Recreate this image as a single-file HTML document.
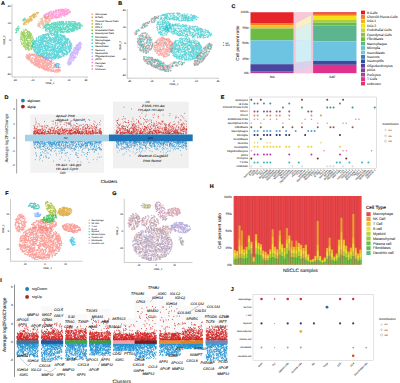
<!DOCTYPE html>
<html><head><meta charset="utf-8"><style>
html,body{margin:0;padding:0;background:#fff;width:400px;height:383px;overflow:hidden}
svg{display:block;font-family:"Liberation Sans",sans-serif;text-rendering:geometricPrecision}
</style></head><body>
<svg width="400" height="383" viewBox="0 0 400 383">
<rect width="400" height="383" fill="#fff"/>
<text x="0.9" y="5" font-size="5.4" text-anchor="start" fill="#111" font-weight="bold" font-style="normal" stroke="#111" stroke-width="0.2">A</text>
<line x1="12" y1="4" x2="12" y2="77" stroke="#8c8c8c" stroke-width="0.45"/>
<line x1="12" y1="77" x2="88" y2="77" stroke="#8c8c8c" stroke-width="0.45"/>
<line x1="11" y1="6" x2="12" y2="6" stroke="#8c8c8c" stroke-width="0.3"/>
<text x="10.5" y="6.8" font-size="2.4" text-anchor="end" fill="#333" font-weight="normal" font-style="normal" stroke="#333" stroke-width="0.06">40</text>
<line x1="11" y1="23" x2="12" y2="23" stroke="#8c8c8c" stroke-width="0.3"/>
<text x="10.5" y="23.8" font-size="2.4" text-anchor="end" fill="#333" font-weight="normal" font-style="normal" stroke="#333" stroke-width="0.06">20</text>
<line x1="11" y1="40" x2="12" y2="40" stroke="#8c8c8c" stroke-width="0.3"/>
<text x="10.5" y="40.8" font-size="2.4" text-anchor="end" fill="#333" font-weight="normal" font-style="normal" stroke="#333" stroke-width="0.06">0</text>
<line x1="11" y1="57" x2="12" y2="57" stroke="#8c8c8c" stroke-width="0.3"/>
<text x="10.5" y="57.8" font-size="2.4" text-anchor="end" fill="#333" font-weight="normal" font-style="normal" stroke="#333" stroke-width="0.06">-20</text>
<line x1="11" y1="74.5" x2="12" y2="74.5" stroke="#8c8c8c" stroke-width="0.3"/>
<text x="10.5" y="75.3" font-size="2.4" text-anchor="end" fill="#333" font-weight="normal" font-style="normal" stroke="#333" stroke-width="0.06">-40</text>
<line x1="15" y1="77" x2="15" y2="78" stroke="#8c8c8c" stroke-width="0.3"/>
<text x="15" y="80.5" font-size="2.4" text-anchor="middle" fill="#333" font-weight="normal" font-style="normal" stroke="#333" stroke-width="0.06">-40</text>
<line x1="32.5" y1="77" x2="32.5" y2="78" stroke="#8c8c8c" stroke-width="0.3"/>
<text x="32.5" y="80.5" font-size="2.4" text-anchor="middle" fill="#333" font-weight="normal" font-style="normal" stroke="#333" stroke-width="0.06">-20</text>
<line x1="51" y1="77" x2="51" y2="78" stroke="#8c8c8c" stroke-width="0.3"/>
<text x="51" y="80.5" font-size="2.4" text-anchor="middle" fill="#333" font-weight="normal" font-style="normal" stroke="#333" stroke-width="0.06">0</text>
<line x1="69" y1="77" x2="69" y2="78" stroke="#8c8c8c" stroke-width="0.3"/>
<text x="69" y="80.5" font-size="2.4" text-anchor="middle" fill="#333" font-weight="normal" font-style="normal" stroke="#333" stroke-width="0.06">20</text>
<line x1="86" y1="77" x2="86" y2="78" stroke="#8c8c8c" stroke-width="0.3"/>
<text x="86" y="80.5" font-size="2.4" text-anchor="middle" fill="#333" font-weight="normal" font-style="normal" stroke="#333" stroke-width="0.06">40</text>
<text x="50" y="84" font-size="2.6" text-anchor="middle" fill="#333" font-weight="normal" font-style="normal" stroke="#333" stroke-width="0.06">tSNE_1</text>
<text x="4.8" y="40" font-size="2.6" text-anchor="middle" fill="#333" font-weight="normal" font-style="normal" transform="rotate(-90 4.8 40)" stroke="#333" stroke-width="0.06">tSNE_2</text>
<path transform="scale(.1)" d="M611 166h0m30-65h0m-119 82h0m129-63h0m-139 13h0m-10 17h0m70-6h0m-86-16h0m107-33h0m-150 73h0m125 9h0m38-43h0m-41-15h0m52-15h0m37-12h0m-141 94h0m66-17h0m34-17h0m-154 15h0m120 4h0m-45-15h0m-87 0h0m68-35h0m139-10h0m49 9h0m-102 25h0m11-45h0m-63 22h0m-13-10h0m77 1h0m62 19h0m-92-26h0m-4 4h0m99 20h0m-91-4h0m-46-3h0m21 23h0m-36 25h0m-88-14h0m263-31h0m-150 20h0m118-41h0m-71 45h0m-67 0h0m119 9h0m-1-68h0m-96 80h0m97-47h0m-23-20h0m-142 42h0m-6 0h0m215-26h0m-172 10h0m171-21h0m9 4h0m-119 59h0m55-39h0m-81 43h0m-4 5h0m-102-22h0m132 18h0m-76 3h0m115-32h0m-8 24h0m-92-31h0m76-9h0m1 16h0m-36 5h0m38-47h0m-153 52h0m200-7h0m-22-57h0m48 26h0m-176 13h0m-12 31h0m-41 10h0m37 0h0m209-56h0m-33 17h0m-63-27h0m-13-11h0m-59 37h0m-57 39h0m182-66h0m27 37h0m-202 40h0m196-92h0m-76 55h0m0-47h0m24 42h0m47 5h0m-137 22h0m79-62h0m-11 67h0m-62-48h0m28 30h0m-102-3h0m14 22h0m185-65h0m-122 41h0m-49-16h0m36 11h0m-63 40h0m128-67h0m-129 68h0m218-90h0m-154 82h0m74-72h0m-38 69h0m-19-11h0m-76 18h0m188-32h0m-37-32h0m-164 48h0m184-68h0m-128 58h0m138 2h0m-183-24h0m193 0h0m-11-20h0m-41-10h0m43 42h0m-16-25h0m-95 18h0m45-12h0m7 28h0m-44 19h0m140-69h0m-208 77h0m159-28h0m-44-24h0m43-32h0m-79 3h0m-38 33h0m113-12h0m-130 23h0m-10-22h0m-47 43h0m19-32h0m207-17h0m-182 55h0m20-17h0m5-2h0m95-18h0m-59 35h0m120-80h0m-177 67h0m87 17h0m-136-24h0m149-53h0m-93 54h0m182-12h0m-14 3h0m-32 14h0m-9-8h0m-114-25h0m124-27h0m53 27h0m-156 63h0m-55-26h0m120 0h0m-80 17h0m112-38h0m64-32h0m-142 53h0m109-54h0m-48-1h0m-22 54h0m-134 24h0m105-50h0m71-5h0m-5-37h0m-38 49h0m-29 13h0m17-53h0m15 10h0m-98 79h0m-7-36h0m156-11h0m-52 20h0m-27-11h0m98-16h0m-54-12h0m-23 4h0m51-12h0m-70 47h0m3-37h0m89-15h0m13 33h0m-111 17h0m-118-3h0m229-32h0m-81 24h0m31-13h0m-77-19h0m-33 17h0m19 9h0m7 10h0m-4-26h0m143-11h0m-62-24h0m54 10h0m-104 12h0m-9 57h0m105-53h0m-16 2h0m-107 30h0m-51-9h0m146 9h0m25-34h0m-203 64h0m50-14h0m36-8h0m-36-7h0m76-2h0m-70-14h0m-13-18h0m58 49h0m68-65h0m-155 44h0m176-23h0m46 6h0m-81 26h0m28-43h0m-134 37h0m59-39h0m-5 45h0m-79-14h0m0-11h0m77-29h0m-1 13h0m-41 64h0m-26-10h0m57-29h0m108-46h0m-43-1h0m9 47h0m22-39h0m-178 47h0m143 0h0m16-11h0m76-13h0m-171 28h0m97-29h0m49 19h0m-153-27h0m-54 21h0m51 12h0m168-51h0m-1 36h0m-17-21h0m-171 14h0m161 13h0m-168-1h0m199-42h0m-67 2h0m30-8h0m-83 11h0m24 66h0m-138-21h0m192-11h0m-123 28h0m43 11h0m-46 1h0m93-22h0m-70 14h0m81-47h0m1-16h0m6 5h0m-61 64h0m-16-47h0m-43-9h0m-20 21h0m67-19h0m87 44h0m-134-3h0m55-55h0m4 63h0m-115 6h0m-18-2h0m104-1h0m-90-25h0m206-26h0m-89 63h0m-54-70h0m22 5h0m-77 53h0m239-50h0m-89-3h0m-13 40h0m6 3h0m-22-48h0m14 22h0m-111 35h0m169-78h0m-64 66h0m-47-31h0m-3 25h0m86-17h0m-126-7h0" stroke="#ff61c3" stroke-width="12" stroke-linecap="round" opacity="0.62" fill="none"/>
<path transform="scale(.1)" d="M235 238h0m27-15h0m-3 4h0m62-36h0m-31-11h0m47-41h0m15 0h0m-44 57h0m-7-24h0m-53 52h0m4 7h0m39-24h0m1 9h0m-22-3h0m76-64h0m-58 69h0m-26-14h0m42-7h0m38-40h0m-13-10h0m-86 84h0m134-96h0m-131 108h0m60-50h0m46-32h0m3-19h0m10 20h0m-49 45h0m59-84h0m0 2h0m-77 85h0m6-23h0m-13 10h0m60-42h0m-6 19h0m-84 36h0m9-3h0m76-60h0m-59 66h0m61-44h0m-65 47h0m-47 26h0m79-76h0m-25 42h0m24-47h0m15-17h0m-66 62h0m53-20h0m20-33h0m-96 94h0m32-56h0m19-8h0m84-44h0m-133 92h0m77-77h0m-39 46h0m58-36h0m-22-8h0m-40 63h0m56-51h0m17 3h0m3-25h0m-70 85h0m7-40h0m7-24h0m-4 15h0m51-24h0m-68 43h0m102-72h0m10-4h0m-145 118h0m67-61h0m-3 27h0m30-32h0m-23-12h0m18-16h0m-11 56h0m-17-41h0m1 36h0m-67 48h0m55-48h0m-9 17h0m97-91h0m-65 76h0m-28 21h0m-3-3h0m4-10h0m70-63h0m-71 48h0m-50 37h0m80-77h0m33 25h0m-3-46h0m-18 36h0m-64 54h0m2-25h0m-5 44h0m-17-22h0m75-49h0m-30 12h0m39-28h0m-36 41h0m71-73h0m-26 26h0m29-19h0m-45 67h0m2-50h0m-74 70h0m-4 19h0m73-70h0" stroke="#d39200" stroke-width="12" stroke-linecap="round" opacity="0.62" fill="none"/>
<path transform="scale(.1)" d="M405 274h0m78-82h0m-88 59h0m58-53h0m29-24h0m-60 12h0m40 43h0m-4-53h0m-32 40h0m34-51h0m10 53h0m-9 23h0m-27-26h0m-1 51h0m-7-20h0m25 9h0m-67-1h0m-1 6h0m9-26h0m28 6h0m1-4h0m75-44h0m-69 62h0m6 9h0m37-75h0m-76 60h0m22-11h0m74-18h0m-103 43h0m114-94h0m-46-7h0m38 26h0m13 14h0m-53-28h0m-53 51h0m59-8h0m-66 17h0m91-44h0m-29 44h0m-6-48h0m-65 65h0m111-63h0m-117 65h0m51-20h0m46 8h0m-61-17h0m61 10h0m-9-39h0m14-9h0m-72 89h0m23-15h0m24-53h0m24-40h0m-61 23h0m9 7h0m8 38h0m-41 10h0m70 8h0m-78 2h0m103-84h0m-77 71h0m26 22h0m-42 6h0m38-6h0m15-4h0m39-32h0m17-20h0m-104-9h0m50-31h0m-2 44h0m39-53h0m-75 57h0m83-29h0m-21 30h0m-58-34h0m36 50h0m14-23h0m-46-30h0m10 48h0m60 0h0m-28-45h0m-68 87h0m64-103h0m-23 54h0m23-30h0m7 3h0m-44 20h0m6-14h0m-40 14h0m33-8h0m81 5h0m-76 28h0m59-70h0m-41 38h0m39 29h0m-6-13h0m0 8h0m-49 16h0m-18-9h0m38-61h0m41 23h0m-64 44h0m-31 22h0m62-48h0m-37-17h0m49-8h0m-3-10h0m-77 74h0m90-21h0m-15-63h0m-3 16h0m-44 42h0m38-3h0m13-12h0m-33 24h0m-9-2h0m13-14h0m-61 36h0m20-27h0m-5 34h0m92-98h0m-90 92h0m-11-21h0m37-52h0m-15 28h0m32 34h0m-40 5h0m23-48h0m75-2h0m-114 29h0m93-1h0m-29-51h0m-16 55h0m57-75h0m-84 28h0m61 4h0m2-25h0m5 45h0m-51-18h0m21 47h0m-19-43h0m75 12h0m-53-33h0m51 24h0m-11 5h0m-10-37h0m-10 30h0m-53 17h0m-16 29h0m25-25h0m76-25h0m-92 45h0m-22 3h0m112-26h0m-36 18h0m-32-26h0m0-18h0m-20 26h0m89-25h0m-79 6h0" stroke="#e89a6a" stroke-width="12" stroke-linecap="round" opacity="0.62" fill="none"/>
<path transform="scale(.1)" d="M564 263h0m230 0h0m-310 23h0m317-48h0m-116 23h0m-155 49h0m91-35h0m-12 17h0m-156-11h0m63-51h0m-15 18h0m267 36h0m-217-22h0m49-15h0m-4 58h0m-142-50h0m164 37h0m67 1h0m-138-44h0m0 63h0m248-42h0m-232-13h0m118 53h0m-122-73h0m207 38h0m-192 34h0m112-95h0m-99 75h0m113-30h0m-87 38h0m22-78h0m-136 24h0m91 8h0m-17 61h0m175-47h0m-149-21h0m41-9h0m131 64h0m7-64h0m-87 73h0m56-3h0m-123 6h0m-16-68h0m8 8h0m118 51h0m-255-62h0m99 29h0m116-31h0m62-4h0m-300 26h0m100 42h0m121-29h0m-160 50h0m212-59h0m-242-19h0m88 8h0m-126 18h0m154-25h0m-26 7h0m0 35h0m44-54h0m122 29h0m-133 34h0m119 8h0m22-23h0m-41-59h0m-8 12h0m-177-4h0m55-16h0m110 80h0m42-77h0m-48 89h0m-152-35h0m-37 12h0m69 9h0m75-2h0m-113 11h0m194-12h0m-66-49h0m-55 33h0m31-35h0m-100 21h0m207-5h0m-296 22h0m198-25h0m-48 5h0m-97 42h0m246-6h0m-223-14h0m188-28h0m-97 61h0m-15-22h0m-103 30h0m16-17h0m2 3h0m250-75h0m-295 61h0m161-24h0m113-10h0m-113 11h0m-18-9h0m-118-5h0m41-9h0m206-30h0m-227 65h0m40-37h0m26 30h0m191-22h0m-160 9h0m85 15h0m-150 52h0m50-44h0m-124-16h0m136-49h0m-49 20h0m-122 44h0m268-34h0m65 47h0m-205 20h0m238-44h0m-228 50h0m231-83h0m-111-6h0m-39 12h0m141-6h0m-279 34h0m34 41h0m210-96h0m-94 56h0m39-33h0m-124 1h0m-38-5h0m32 60h0m48-53h0m-50 86h0m-7-46h0m239-51h0m-56-18h0m-24 85h0m-184-21h0m65 19h0m-57 18h0m239-29h0m-226-17h0m199-26h0m-8 51h0m-133 23h0m-35-15h0m98-57h0m-40 36h0m-3-60h0m-2 2h0m118 29h0m-39 50h0m-77-88h0m119 69h0m32-53h0m-45 76h0m-176-44h0m-50-6h0m-45 56h0m125-33h0m-58-21h0m188 0h0m-63-1h0m-12 58h0m-119-37h0m164-64h0m113 42h0m-283 51h0m226-31h0m-114 21h0m155-23h0m-128-21h0m-11 21h0m69 39h0m-110-13h0m-70-29h0m-1 2h0m221-41h0m-11-3h0m-205 52h0m143 29h0m84-81h0m-50 49h0m-142 27h0m201-50h0m-289 55h0m54-25h0m73-58h0m107 64h0m-247-41h0m292 9h0m-201 7h0m-76 12h0m19-42h0m59-16h0m41 73h0m74 29h0m91-48h0m3-23h0m-41-16h0m-102 91h0m24-59h0m74-28h0m-220-1h0m138 53h0m77-44h0m-217 72h0m2-43h0m285 8h0m-152-14h0m52 9h0m-147-54h0m-48 86h0m173-10h0m-99 22h0m81-51h0m90 3h0m-61-52h0m-27 26h0m-50-8h0m113-25h0m-178 59h0m-43-33h0m81 64h0m233-44h0m-254-21h0m-70 16h0m244 24h0m-21 2h0m-166 34h0m-45-49h0m-36 29h0m258-35h0m-39 30h0m-27-62h0m36-13h0m-168 52h0m155 25h0m-116-35h0m-63 21h0m152 39h0m57-17h0m-34-62h0m-7 71h0m-209-33h0m257 7h0m-249-3h0m223-38h0m-68 82h0m48-61h0m88 23h0m-8-19h0m-103 2h0m61-29h0m-94 23h0m64-34h0m-187 90h0m214-28h0m-115-70h0m15 90h0m16-28h0m-58-54h0m103 33h0m-114-20h0m141-2h0m-49-4h0m72 9h0m-105 74h0m94-30h0m-150 23h0m220-37h0m-26-12h0m-43-47h0m-235 30h0m177 50h0m69-38h0m-159-35h0m-105 71h0m276 14h0m-163 15h0m-27 2h0m223-44h0m-62 21h0m-69-35h0m-65 47h0m157-81h0m-236 7h0m156-1h0m-133-13h0m38 79h0m-123-27h0m228-68h0m-116 111h0m-51-13h0m108-79h0m18 89h0m154-75h0m44 12h0m-303 25h0m187-21h0m-139-18h0m-24-22h0m199 29h0m-78-17h0m33 56h0m25-28h0m-64 28h0m-116 39h0m147-16h0m-218-28h0m-1-41h0m109-8h0m-13 81h0m138-28h0m-8 6h0m33-6h0m9-13h0m-100-56h0m88 24h0m-104-22h0m118 47h0m-41-24h0m70 1h0m34-13h0m-83 5h0m-121 50h0m-127 22h0m45-32h0m40-35h0m245 16h0m-112 31h0m64-57h0m-294 45h0m337-5h0m-206-44h0m142 38h0m26-2h0m-209 29h0m-60 0h0m223-49h0m-4 53h0m54-23h0m5 4h0m-186-36h0m-80 81h0m228-94h0m2 27h0m-251-4h0m-23 54h0m122-7h0m-37-69h0m160 64h0m-198-34h0m103 44h0m-60-11h0m36-25h0m27-24h0m98 60h0m-222-57h0m183 72h0m-56-85h0m56 87h0m-80-78h0m188 50h0m-11-47h0m-227-2h0m38 74h0m2-52h0m72-32h0m-119 14h0m-1 30h0m-61 36h0m27-43h0m184-49h0m-90 57h0m59 36h0m88-99h0m22 50h0m-65-43h0m-78 71h0m131 3h0m-231 20h0m139-30h0m110-39h0m-17-2h0m-113-17h0m98 80h0m-240-1h0m299-53h0m-55-13h0m-108-10h0m39 22h0m82 26h0m-38-47h0m89 41h0m-5 8h0m-128-26h0m-100 16h0m-53-4h0m110-55h0m-43 33h0m100 57h0m-9-18h0m-4-48h0m-89 77h0m190-42h0m-17-1h0m32-44h0m-180 64h0m-91 12h0m19-2h0m214-50h0m-274 54h0m331-33h0m-127-15h0m29-24h0m-11 55h0m-55-49h0m117-14h0m-303 26h0m180 28h0m-31-51h0m70 9h0m77-13h0m-158 14h0m179 35h0m-94-30h0m-177 78h0m234-31h0m-235 1h0m42-15h0m69 2h0m-15 31h0m177-17h0m-122 23h0m-31-93h0m-83 72h0m41-31h0m7-28h0m109 8h0m-81 79h0m67-19h0m-227-36h0m353-15h0m-214 20h0m221-28h0m-289 0h0m110 21h0m38 35h0m-52-17h0m-57 44h0m59-91h0m-67 31h0m51 9h0m7-62h0m6 80h0m-60-36h0m78 60h0m-82-94h0m-6 5h0m119 79h0m-4-83h0m-77 19h0m21-18h0m143 5h0m-247 50h0m159 31h0m-98-28h0m-88-2h0m-3-26h0m79 43h0m138-14h0m22 4h0m-21-18h0m28-59h0m-206 94h0m-9-25h0m26-14h0m231 12h0m-159-36h0m147 36h0m-144 36h0m90-3h0m-47-19h0m-31-11h0m99 33h0m-141-46h0m215-22h0m-31 3h0m-200-3h0m-48 22h0m-17 49h0m202-78h0m-193 7h0m269 20h0m-254-26h0m171 39h0m-137-26h0m63 65h0m29-10h0m39-36h0m-60 18h0m2 5h0m-127-39h0m276-11h0m-120-27h0m76 63h0m-184 36h0m69-102h0m57 88h0m2-49h0m-69 54h0m-118-20h0m144-33h0m-44-12h0m-55 0h0m-64 43h0m138 9h0m80 23h0m-121 0h0m16-28h0m166-43h0m-141 38h0m-135-2h0m-9-37h0m217 75h0m-194-41h0m117-25h0m133 31h0m-83-5h0m8 6h0m-192-14h0m269-37h0m-72-24h0m-158 52h0m-53 7h0m67 48h0m32-60h0m194 8h0m-79-38h0m-141 61h0m95-49h0m29 41h0m-99 37h0m-106-57h0m60 38h0m267-19h0m-227 27h0m-90-33h0m176 40h0m129-51h0m-315 8h0m251-20h0m-123 52h0m120-49h0m15-5h0m-226 18h0m121 41h0m-96-33h0m280 2h0m-126-3h0m4-14h0m-98-20h0m-117 23h0m283 3h0m-239 48h0m192-45h0m-93 39h0m38-66h0m-45 32h0m107-60h0m27 50h0m-18 26h0m121-40h0m-318 10h0m69 58h0m57-104h0m80 47h0m-282 17h0m45 3h0m26 15h0m185-55h0m-128 41h0m13-58h0m85 68h0m52-32h0m-68 21h0m-34 43h0m-96-11h0m207-4h0m76-85h0m1 20h0m-93 72h0m-36-42h0m-209 17h0m66-30h0m59 66h0m102-37h0m-189-37h0m312-7h0m-224 26h0m21-7h0m-6 28h0m-63-60h0m62-13h0m9 48h0m131-56h0m-149 91h0m-23 9h0m18-10h0m56-15h0m9 20h0m-53-97h0m-58 75h0m270-18h0m-222-30h0m62 10h0m-173 56h0" stroke="#00c19f" stroke-width="12" stroke-linecap="round" opacity="0.62" fill="none"/>
<path transform="scale(.1)" d="M293 338h0m-18 90h0m-51-105h0m69-6h0m-28 70h0m59 12h0m-36 105h0m-24-51h0m-13 11h0m69-3h0m-68-120h0m58 142h0m-44-38h0m26-66h0m5 5h0m-33-26h0m-36 2h0m82-2h0m-83 83h0m23-136h0m7 124h0m51-38h0m-49 106h0m-7-167h0m40 117h0m-35-147h0m-50 96h0m77-14h0m-9 104h0m16-64h0m-21 17h0m-46-82h0m76-33h0m-30 132h0m-29-79h0m19 114h0m-28-119h0m76-23h0m-10-19h0m-49 133h0m46-133h0m-77 25h0m2 40h0m58 32h0m-69-63h0m25-36h0m81 94h0m-66-38h0m14 88h0m44-84h0m17 32h0m-44-75h0m-58 6h0m83 25h0m-21-56h0m-20-22h0m-21 170h0m31-87h0m33 97h0m-25-147h0m-2 80h0m-46-75h0m13 110h0m79-70h0m-23 75h0m-2-23h0m-92-84h0m67 74h0m14-71h0m43 65h0m-21-28h0m-29-4h0m-30-15h0m-25 40h0m34 87h0m47-129h0m0 45h0m-26 59h0m12-142h0m-88 88h0m34-23h0m25 4h0m-27-34h0m33-29h0m-2 119h0m23-82h0m-52 49h0m22 58h0m7-119h0m45 57h0m-96-19h0m75 101h0m-49-100h0m81-27h0m-87-32h0m82 62h0m-110-75h0m26-6h0m44 132h0m-54-113h0m7-2h0m57 23h0m23 93h0m-75 17h0m91-68h0m-52-42h0m-35 106h0m51-136h0m-81 55h0m65-15h0m50 40h0m-112 25h0m32 41h0m2-13h0m8-22h0m58 43h0m-3-107h0m-37-48h0m-44 133h0m103-20h0m-56-12h0m24-20h0m-30 72h0m4 11h0m47-38h0m8-68h0m-64 70h0m68-42h0m-54 50h0m30-102h0m-39 42h0m0-2h0m25-80h0m3 20h0m-14 103h0m26 32h0m-102-145h0m84 9h0m-5 64h0m29 54h0m-22-91h0m-35 130h0m-3-96h0m47 33h0m-5-13h0m-15 36h0m-43-103h0m35-31h0m35 15h0m-54-44h0m9 154h0m2 23h0m17-103h0m-66 12h0m69 106h0m-7-63h0m-13 53h0m12-57h0m-28 49h0m-41-134h0m88 134h0m-68-102h0m-1 69h0m51-123h0m-6 96h0m-55 13h0m2-76h0m33 86h0m-26-129h0m70 31h0m-19 158h0m-9-35h0m24-131h0m-22 15h0m-61-6h0m18 11h0m72 1h0m-63 65h0m-19-18h0m47-44h0m-56 28h0m-9 15h0m56 19h0m-26-57h0m59-10h0m-45 61h0m6 52h0m-46-80h0m38-25h0m58 7h0m-46 38h0m37-67h0m-73 9h0m74 13h0m13 138h0m14-83h0m-34 97h0m27-11h0m-11-57h0m-31-121h0m-60 2h0m50 7h0m-44 78h0m19-62h0m-12 106h0m8-81h0m46 57h0m-1 60h0m-35-119h0m78 102h0m-93-62h0m106 8h0m-60-51h0m11 76h0m40 21h0m-84-101h0m90 40h0m-111-65h0m106 134h0m-56-91h0m24 85h0m37-16h0m-83-110h0m64 132h0m-85-22h0m42-95h0m-31 43h0m-26-14h0m-4-15h0m58-6h0m46 125h0m-61-183h0m-1 114h0m24-49h0m-6 67h0m-18-74h0m0 24h0m-2 49h0m17-47h0m47 78h0m-34-98h0m24 12h0m-27 103h0m39 19h0m-30-38h0m-66-34h0m-10-55h0m28-8h0m42 113h0m-3-55h0m41-66h0m-1-2h0m-20 80h0m-56-107h0m-14 19h0m17 55h0m-7-26h0m42 68h0m6 53h0m-6-15h0m-8-171h0m-28 63h0m36 87h0m-20-84h0m23-26h0m10 29h0m-42-40h0m3 152h0m22-106h0m53 97h0m-113-37h0m11-86h0m49 67h0m-1 26h0m-31-16h0m5-68h0m34 78h0m19-85h0m29 75h0m-81 15h0m69 33h0m-82-54h0m1-112h0m0 113h0m36 32h0m14 22h0m15-91h0m-66-46h0m0 32h0m-2-40h0m11-18h0m74 80h0m-110-21h0m11-42h0m30-2h0m-12 122h0m33-16h0m-5-37h0m-24-11h0m17-24h0" stroke="#5eb300" stroke-width="12" stroke-linecap="round" opacity="0.62" fill="none"/>
<path transform="scale(.1)" d="M193 282h0m-19-2h0m-6 43h0m14-37h0m-16 34h0m-4-17h0m22-13h0m-22 7h0m11-15h0m-15 46h0m0-2h0m0-28h0m3-6h0m-2 9h0m6 3h0m21-42h0m-10 13h0m3-6h0m0 22h0m4 8h0m-15 11h0m12-4h0m-15-20h0m-6 10h0m4-4h0" stroke="#00bf74" stroke-width="12" stroke-linecap="round" opacity="0.62" fill="none"/>
<path transform="scale(.1)" d="M227 203h0m5-8h0m24-5h0m-4 0h0m-4-8h0m-1 12h0m-10 14h0m10-11h0m-6-4h0m11 12h0m-20 5h0m2-20h0" stroke="#00bf74" stroke-width="12" stroke-linecap="round" opacity="0.62" fill="none"/>
<path transform="scale(.1)" d="M375 476h0m293-80h0m-126 26h0m-85 13h0m-31-12h0m-41-6h0m14 138h0m167-199h0m-152 2h0m168 156h0m96-54h0m-233-47h0m-43 82h0m73-74h0m-123 64h0m259 79h0m-183 5h0m191-71h0m-221-96h0m134-17h0m94 94h0m72 40h0m-338-92h0m191 140h0m-83-188h0m-35 16h0m-51 24h0m38 44h0m-36 15h0m206-108h0m-57 12h0m-67 32h0m180-23h0m-110 91h0m-84 90h0m1-157h0m144 42h0m13-87h0m-231 151h0m96 32h0m-62-161h0m252 32h0m-301-37h0m264 12h0m-86 148h0m22-21h0m106-53h0m-269-109h0m50 2h0m178 109h0m-71-30h0m-182 7h0m311 30h0m-183 6h0m36 4h0m-140-123h0m154 91h0m127-75h0m-162 21h0m-17 103h0m-53-6h0m-121-31h0m221 114h0m-135-179h0m85 55h0m149-16h0m-309 66h0m70 47h0m-4-152h0m-30 2h0m185-9h0m-221 82h0m275-124h0m-124-10h0m-163 79h0m108 131h0m178-120h0m-93-44h0m-145 124h0m128-55h0m-65-91h0m202-10h0m-202 163h0m1 52h0m-49-110h0m145-7h0m3 75h0m-198-63h0m156-37h0m39 57h0m66 72h0m-15-164h0m-159-39h0m166 148h0m-28-79h0m-59-33h0m-58 82h0m-56 73h0m120-126h0m-167-23h0m211 0h0m-218 78h0m104 69h0m155-32h0m79 23h0m-224-63h0m-28-96h0m-22-23h0m14 29h0m173 7h0m-250 45h0m61 69h0m9-34h0m-19-20h0m277-46h0m-136 35h0m126-26h0m-63 19h0m61-56h0m-141 92h0m-49-19h0m91-87h0m-19 143h0m76-122h0m-117 19h0m-21 17h0m-40 129h0m41-219h0m94 230h0m-53 2h0m2-173h0m-23-46h0m-32 89h0m-142 17h0m376 4h0m-189-13h0m-38 115h0m-99-174h0m61-39h0m225 111h0m-97 103h0m-43-158h0m14 58h0m-92-70h0m23 131h0m-49-120h0m-45 31h0m100 75h0m209-113h0m-34 16h0m-161-47h0m194 64h0m-78-38h0m-98 116h0m-113-38h0m266-95h0m-147 6h0m-130 79h0m126 40h0m160 17h0m-208-58h0m135 92h0m3-87h0m-160-26h0m241-51h0m12 6h0m-331 74h0m283-29h0m19-2h0m-11-74h0m-213 3h0m183 90h0m-34-60h0m-230 21h0m317-24h0m-124-37h0m-53 128h0m-69-40h0m43-88h0m-100 61h0m261-17h0m34 147h0m-212-180h0m-75 73h0m118-14h0m90-8h0m-3 130h0m71 6h0m-213-148h0m-68-6h0m-1 138h0m268-4h0m73-100h0m-274 101h0m124-23h0m-14-40h0m14-104h0m-214 57h0m194-26h0m-147 51h0m92-46h0m-145 55h0m76-38h0m165-67h0m94 189h0m-246-29h0m116-59h0m-100-46h0m-89 93h0m44-58h0m292-19h0m-245 151h0m107-94h0m-144 19h0m63-26h0m7-120h0m192 159h0m32-100h0m-270-45h0m9 50h0m-48-16h0m44 154h0m61-10h0m-151-78h0m88-85h0m127 108h0m-168-18h0m107 80h0m44-211h0m-95 192h0m-104-82h0m225 29h0m-2-39h0m104 76h0m-182-111h0m-114 8h0m83-61h0m229 46h0m-154-50h0m5 151h0m-156-100h0m230 20h0m56-26h0m-225 118h0m-11-42h0m49 38h0m-73 42h0m194-173h0m-159 42h0m246 32h0m-125 123h0m-88 4h0m-118-66h0m112 37h0m60-39h0m-72-25h0m138-55h0m-83 121h0m176-128h0m-193 161h0m126-156h0m35 46h0m-55 88h0m-53 16h0m-73-148h0m97 7h0m27 33h0m14 77h0m-70 23h0m85-15h0m-58-136h0m95 15h0m-51-38h0m-46 170h0m93-139h0m-152 44h0m-55-13h0m-12 52h0m253-84h0m-40 113h0m-242-42h0m-61-8h0m247 37h0m60-118h0m-297 136h0m49-10h0m82 16h0m90 1h0m47 10h0m-204-137h0m141 60h0m60 58h0m-189-179h0m175 148h0m-186-164h0m-2 39h0m31-30h0m-57 90h0m79-81h0m-54 142h0m55-27h0m132 23h0m-87-11h0m-22-116h0m-108 55h0m300-5h0m-94 3h0m-122-61h0m-88 164h0m98-126h0m-66 39h0m121-70h0m-56 31h0m-39-54h0m-105 117h0m129 21h0m-22 91h0m-47-36h0m20-44h0m64-32h0m38 26h0m-66-101h0m18 22h0m-21-77h0m-84 136h0m-2 69h0m43-160h0m236 28h0m-107 1h0m-90 161h0m154-206h0m-170-18h0m139 171h0m40 12h0m-141-155h0m-156 68h0m371 3h0m-127 121h0m99-46h0m-108-132h0m62 49h0m-16-51h0m33 173h0m-58-74h0m-156-72h0m-8 30h0m165 74h0m23-99h0m-148 109h0m31-127h0m192 128h0m-224-23h0m15-11h0m22 72h0m13-27h0m48-114h0m109 62h0m-91 82h0m-76-27h0m137 9h0m-134-53h0m-133 21h0m99 45h0m193-127h0m-247 94h0m22 20h0m82 20h0m-73-2h0m2-124h0m132 27h0m15 37h0m21-25h0m-64-27h0m146-52h0m-93 168h0m-216-45h0m47-185h0m63 167h0m-59 65h0m24-151h0m-53-28h0m185 30h0m20 17h0m-153-74h0m-45 193h0m91-152h0m-95 146h0m195-47h0m40-118h0m-30-44h0m-26 65h0m-1-25h0m-124 115h0m235-85h0m-107 144h0m41-203h0m-147 105h0m196 61h0m-335-78h0m287 23h0m-44 111h0m-38-172h0m-165-36h0m192 157h0m-141-114h0m-37 54h0m97-100h0m132 35h0m-151 76h0m211-89h0m-199-47h0m156 160h0m-133-70h0m-85 93h0m89-181h0m-155 62h0m34 107h0m171-84h0m68 62h0m-223-38h0m194 35h0m-67 30h0m-204-31h0m161 56h0m-22-108h0m67 127h0m21-157h0m25 7h0m-43-60h0m4 98h0m32 23h0m-29 45h0m-176 3h0m197-16h0m-90-157h0m230 98h0m-170 114h0m-166-128h0m159 64h0m13 58h0m94-201h0m-184 204h0m115-198h0m-50 225h0m-8-4h0m64-30h0m-145-41h0m-10-130h0m31 23h0m37 50h0m76 98h0m-193-52h0m16 55h0m169-192h0m102 101h0m-146-115h0m169 113h0m-91-36h0m-57 64h0m-148 61h0m53-149h0m188 72h0m-153 60h0m219-39h0m-113 57h0m68-179h0m-195 88h0m-90-23h0m98-88h0m99 95h0m-177 88h0m100-198h0m188 99h0m-315-31h0m95-31h0m-47 131h0m-14-98h0m-5 78h0m122 49h0m128-39h0m5-67h0m-22 38h0m-4 56h0m-281-81h0m222 103h0m-213-39h0m115-164h0m-5 156h0m-1-150h0m201 71h0m-217 91h0m256-87h0m-54 19h0m-281 12h0m-29-19h0m95-17h0m179-24h0m18 118h0m-89-119h0m-128 47h0m28 121h0m75-54h0m173-15h0m-295-78h0m25 78h0m253 52h0m-50-30h0m-143-167h0m105 3h0m65 15h0m-252 117h0m270-74h0m-126 156h0m42-79h0m-172-96h0m94 149h0m113-135h0m-208 123h0m63-178h0m-15 1h0m211 46h0m45 63h0m-50 29h0m-299-63h0m249 63h0m-20 4h0m73-99h0m-89 117h0m54-153h0m-11 210h0m-40-191h0m-159 178h0m144-135h0m85 81h0m-274-108h0m277 151h0m-294-75h0m255-51h0m-260 23h0m349 82h0m-289 30h0m182-145h0m-160-29h0m55 48h0m-48 133h0m190-99h0m81 47h0m-131 5h0m56 17h0m39-109h0m-204-24h0m32 40h0m92 147h0m-16-117h0m47 97h0m38-141h0m-135 156h0m0-37h0m7 7h0m-174-103h0m111 136h0m187-117h0m3-36h0m-150-9h0m-86-9h0m67 51h0m42 62h0m58-124h0m-36 47h0m-138-28h0m-2 54h0m-66 1h0m206-124h0m-1 166h0m-177-78h0m32 36h0m243-79h0m-83-44h0m-35 193h0m96-37h0m-303-62h0m93 22h0m-71-46h0m161 95h0m-34 38h0m-27-167h0m-68 110h0m165 71h0m-164-26h0m-24-122h0m269-49h0m-124-26h0m91 14h0m46 133h0m-241 23h0m64-46h0m83-65h0m-56 133h0m60 23h0m90-126h0m-251 68h0m-41 5h0m-14-69h0m336-25h0m41 43h0m-326 31h0m160-99h0m-22 21h0m-74 7h0m103 12h0m31 56h0m-68 51h0m37 32h0m5-6h0m112-44h0m-214-57h0m-100 62h0m226 24h0m0-23h0m-128-102h0m18 107h0m117-38h0m-78-108h0m41 110h0m70 55h0m-201-5h0m162-137h0m-144-27h0m104 207h0m97-209h0m-268 30h0m18-36h0m227 45h0m-67 0h0m168 72h0m-338 48h0m60-84h0m-1 9h0m8-44h0m-40-9h0m81-43h0m-72 75h0m142 33h0m-87 37h0m151-107h0m-202 94h0m69 53h0m-161-75h0m135-86h0m208 1h0m-32 166h0m-187 14h0m129-196h0m-215 155h0m193-146h0m-118-23h0m280 93h0m-150-66h0m-97 115h0m149 68h0m-200-174h0m62 18h0m167 17h0m-179 34h0m77-39h0m-127-26h0m115 170h0m-62-111h0m14-96h0m-51 209h0m55-131h0m4 138h0m-130-50h0m134-156h0m85 59h0m-42 161h0m59-120h0m119-8h0m-218 90h0m-35-116h0m165 22h0m32 47h0m-117 36h0m-27-37h0m-3-81h0m136 30h0m-152-17h0m4-47h0m136 171h0m-120-7h0m-83 1h0m160-100h0m54-76h0m-56-5h0m-28-32h0m48 114h0m-183 115h0m96-64h0m165-3h0m-362-72h0m236 124h0m-84-182h0m73 122h0m-22-115h0m154 91h0m-353-50h0m276-37h0m20 2h0m-138 21h0m-37 119h0m220-121h0m-354 63h0m92 90h0m-28-39h0m13 34h0m161-50h0m-207-92h0m324 79h0m-54-29h0m-197-86h0m154-22h0m46 163h0m-153-51h0m42-115h0m-163 73h0m114 71h0m60-118h0m98 162h0m-39-28h0m-164 39h0m133-172h0m40 117h0m-47-41h0m80 68h0m-71-173h0m-75 148h0m-108-16h0m191 49h0m144-79h0m-263-77h0m9 73h0m252 18h0m-116 58h0m-54-176h0m-156 181h0m210-160h0m-81 46h0m99 92h0m19-54h0m-208 10h0m-55 50h0m239-117h0m-160 138h0m32-110h0m223 51h0m-163 17h0m-199-55h0m299 65h0m41-88h0m-166-20h0m-110-18h0m96 64h0m130 95h0m-90-31h0m-29-90h0m14 83h0m-174 2h0m9-4h0m304 20h0m-292-72h0m30 62h0m206 20h0m-141-37h0m82 32h0m58-75h0m-127 14h0m-15 98h0m127-123h0m-220 30h0m-21-38h0m161 12h0m-143-57h0m169 139h0m73-12h0m-200-87h0m15 13h0m58-13h0m223 72h0m-274-43h0m256 39h0m-86 26h0m-236-51h0m265 25h0m-15-11h0m-151 59h0m-74-110h0m98 83h0m138-30h0m-61-74h0m-6 146h0m-61-24h0m27-62h0m40-97h0m-157 10h0m128 128h0m69-120h0m-150-16h0m129 71h0m-153-51h0m271 67h0m-294 61h0m259-33h0m-174 92h0m-99-130h0m105-51h0m17 132h0m-151-71h0m167-74h0m47 15h0m-29 83h0m142-18h0m-265-68h0m210 135h0m3 19h0m-92 16h0m37-69h0m72 6h0m-177 25h0m-39-69h0m125-63h0m60 127h0m-72-19h0m55-33h0m-24-80h0m-49 105h0m13-96h0m-176 103h0m-6 37h0m28-6h0m69 33h0m-52-193h0m180 160h0m-130-78h0m125-46h0m-109 70h0m-35-109h0m58 186h0m-153-78h0m115-68h0m130-4h0m-60 167h0m108-215h0m-197 101h0m224 92h0m-261-2h0m121-153h0m64 127h0m-128 48h0m62-104h0m-46-30h0m-14 109h0m32-154h0m-2 181h0m82-214h0m-88 94h0m53-40h0m-136-10h0m-64 108h0m126 3h0m179-33h0m-189-113h0m124 139h0m51-139h0m-69-12h0m41-9h0m-31 129h0m33-120h0m-40 163h0m19-133h0m76 114h0m-253-70h0m-31 15h0m101 96h0m140-175h0m-53 178h0m-20-191h0m-142 119h0m299 30h0m-103-15h0m-149 3h0m-126-50h0m321-55h0m-66 134h0m-196 36h0m75-64h0m56-108h0m52 102h0m-220-54h0m342 38h0m-296 30h0m110 71h0m14-231h0m-131 39h0m315 47h0m-240 161h0m-58-92h0m-18-40h0m37 60h0m-3-136h0m11-12h0m178 39h0m-127-1h0m-8 7h0m-11 105h0m-71-5h0m69-155h0m-55 46h0m142 131h0m-3-69h0m-48-66h0m81 85h0m-52 16h0m46 36h0m85-21h0m-80-175h0m46 144h0m-65-31h0m-172 93h0m20-1h0m79-51h0m80-58h0m-36 66h0m122-115h0m-239 49h0m219 31h0m-183 66h0m-48-16h0m223-157h0m-73 127h0m-44 89h0m-38-154h0m-47-35h0m179 111h0m-182-36h0m19 89h0m28-58h0m222-98h0m16 64h0m-125-55h0m22 117h0m-41 36h0m-48-220h0m176 144h0m-119 8h0m-210 13h0m306 3h0m-17-86h0m-312 21h0m55-28h0m28-32h0m179 108h0m32-9h0m82-13h0m-264 48h0m102-3h0m-5-8h0m-49-113h0m-49 141h0m163-134h0m-193 50h0m228 33h0m-52 100h0m-123-200h0m17 99h0m209-48h0m-191 118h0m199-34h0m-322-65h0m150 90h0m-77-38h0m133-33h0m-20-16h0m-1 0h0m102 74h0m-201-62h0m62 59h0m-12-26h0m-41 5h0m-48 10h0m68 27h0m-63-120h0m139-60h0m140 131h0m-106-106h0m-251 63h0m156 30h0m-2-94h0m86 18h0m-157 134h0m157-14h0m-65-44h0m-97-44h0m112-92h0m65 82h0m-11 99h0m-30-171h0m-22 73h0m61 93h0m-85 5h0m-144 22h0m268-107h0m48 41h0m-287-5h0m254 35h0m-139 64h0m-128-145h0m-5 79h0m-36 26h0m192-143h0m134 80h0m-341-39h0m256 123h0m-193-67h0m146 42h0m42-65h0m-93-77h0m-60-30h0m-8 146h0m114-22h0m-9 98h0m128-177h0m-117 183h0m-116-70h0m152-8h0m-36 19h0m-73 51h0m77-156h0m29 90h0m112-13h0m-159-73h0m-39-18h0m78 150h0m-11-171h0m-119 126h0m104 58h0m-61 8h0m111-224h0m53 21h0m-22-2h0m-87 57h0m134-26h0m-62 173h0m-262-58h0m328-72h0m-200-59h0m-22 180h0m262-117h0m-196 38h0m-36-42h0m221-8h0m-232 117h0m38-55h0m-74 9h0m32 27h0m50 35h0m22-16h0m-43-49h0m-69-22h0m158-102h0m-47 190h0m-137-113h0m254-16h0m-323 26h0m173 104h0m81-39h0m-119 31h0m117 2h0m-4 18h0m-156-100h0m109-76h0m100 35h0m-53 91h0m31-177h0m-31 13h0m-208 90h0m234 16h0m-18 35h0m-154-53h0m187-100h0m-51 159h0m-78-88h0m16-31h0m-10 77h0m-10 84h0m185-31h0m-35-67h0m-210 82h0m-61-58h0m206-126h0m-171 147h0m261-73h0m-130 82h0m20-64h0m22 65h0m65-39h0m-56-95h0m-199 160h0m24-97h0m182-49h0m-21 147h0m78-10h0m-121-61h0m81-25h0m-43 81h0m-127 18h0m184-64h0m-72-51h0m158 1h0m-292 44h0m135-43h0m68 43h0m30 72h0m-70 36h0m2-196h0m-10 143h0m-82-156h0m-28 159h0m207 5h0m-56-65h0m-31 51h0m-130-141h0m147 104h0m118-49h0m-230-76h0m71 219h0m36-172h0m-213 34h0m242 90h0m80-49h0m-125-15h0m-157-96h0m40 32h0m2 16h0m159 29h0m38 11h0m-223 109h0m145-21h0m-7-122h0m-154-71h0m24 112h0m35-126h0m96 28h0m-9-27h0m-173 120h0m222 98h0m-256-99h0m152-76h0m35 90h0m-106-102h0m-31 39h0m59 166h0m-17-123h0m-65-69h0m21 91h0m33-76h0m89-68h0m-44 253h0m29-93h0m-41-107h0m123 96h0m-137 7h0m197-26h0m-181 26h0m47-134h0m95 87h0m16 23h0m15-14h0m-229 78h0m232-69h0m41 53h0m5-93h0m-155 142h0m47-158h0m-153 171h0m153-232h0m-166 131h0m-27-24h0m191-99h0m-165 207h0m226-53h0m-139 47h0m136-57h0m-190-15h0m-102-70h0m194 139h0m-100-204h0m-92 64h0m215 103h0m28 44h0m-5-53h0m-35-1h0m-166-6h0m-22-113h0m321 51h0m-144-50h0m-23-49h0m28 242h0m43-75h0m-53-90h0m88 18h0m-175 41h0m135-109h0m53 77h0m-72 36h0m-212-73h0m42 104h0m131-160h0m106 69h0m-197 69h0m-31-59h0m32-13h0m177 94h0m0-75h0m-128 143h0m36-64h0m54 30h0m-49-126h0m-167 22h0m260-33h0m-100 48h0m37 124h0m-132-86h0m92 88h0m-115-80h0m-51-27h0m180 10h0m162 1h0m-290-40h0m212-9h0m-233-2h0m-18 31h0m80-85h0m167 112h0m32-117h0m-80 26h0m-50 48h0m35 32h0m134 14h0m-226 45h0m-76-5h0m166-134h0m70-38h0m-99 134h0m-76-14h0m162-71h0m-97 131h0m-36-122h0m-21 116h0m249-58h0m-206 27h0m-8-25h0m-7-78h0m117 31h0m-140 129h0m-65-83h0m211 16h0m-199-56h0m-59 61h0m16-23h0m220 50h0m-137-154h0m-27 54h0m-3-31h0m238 75h0m-72 7h0m-165-70h0m274 116h0m-106 48h0m-172-154h0m242 28h0m-156 96h0m129-94h0m-26-57h0m-180-6h0m171 193h0m29-177h0m-38 22h0m66 35h0m-230-50h0m-66 18h0m102 25h0m127 122h0m64-92h0m-182-105h0m91-27h0m-215 150h0m45 54h0m202-85h0m-144-4h0m117 107h0m-183-56h0m218-89h0m-62 149h0m-27-124h0m39-111h0m20 71h0m-4 97h0m-185 25h0m65-68h0m-15-60h0m244 127h0m19-17h0m-93-114h0m3 30h0m89 84h0m-240 47h0m181-178h0m-2-30h0m-198 169h0m12-117h0m107-38h0m-103 12h0m234 147h0m-327-3h0m266-27h0m-103-45h0m42-92h0m80 174h0m-46-141h0m42 58h0m37 61h0m-176-3h0m-143-74h0m306 22h0m-115 21h0m50-29h0m-29-69h0m-11 64h0m-71 119h0m-126-85h0m130-107h0m-8 186h0m-79-48h0m28-42h0m113-116h0m103 79h0m-239-44h0m104 16h0m95-56h0m-263 73h0m162-86h0m169 120h0m-227 56h0m71-105h0m15 94h0m-85 48h0m175-18h0m-36-136h0m18-15h0m-225 86h0m12-98h0m168 221h0m-215-138h0m14 24h0m194-12h0m-27 21h0m64 87h0m-93 1h0m-104-119h0m1-21h0m118-25h0m-60 162h0m46-182h0m159 81h0m-163 102h0m216-117h0m-219 60h0m132-127h0m93 95h0m-370-6h0m243-41h0m54 107h0m-40-145h0m75 29h0m-200 15h0m-44 139h0m102-60h0m29-161h0m-43 140h0m97-63h0m-158 81h0m0 18h0m153-168h0m-30 192h0m110-154h0m-53 28h0m-268 67h0m207 56h0m-139-22h0m-11-116h0" stroke="#00bfc4" stroke-width="12" stroke-linecap="round" opacity="0.62" fill="none"/>
<path transform="scale(.1)" d="M489 643h0m-168-13h0m52-24h0m-87-57h0m225 151h0m-194-145h0m24 59h0m-46-40h0m184 135h0m-26-24h0m1-80h0m-56 24h0m29 36h0m22-41h0m-15 10h0m11 30h0m-52-19h0m44-28h0m-110 5h0m239 98h0m-243-111h0m89 67h0m-10-14h0m93 1h0m-138-113h0m35 71h0m53-46h0m-146 20h0m135 68h0m-22-72h0m135 55h0m-263-98h0m143 44h0m-136-3h0m25-37h0m95 41h0m89 23h0m-2-4h0m-63 81h0m27-92h0m-90 38h0m-78-48h0m55 56h0m37-59h0m-37 11h0m236 105h0m-72-35h0m-232-94h0m177 80h0m-87-81h0m22-20h0m-71 1h0m93 121h0m84-13h0m9-5h0m-244-78h0m230 98h0m45 36h0m-82-58h0m-98-82h0m197 125h0m-101-45h0m-192-82h0m130 33h0m-77-14h0m156 107h0m-120-98h0m-70-27h0m79 31h0m79-5h0m-169-42h0m96-8h0m188 104h0m22 56h0m-177-148h0m125 115h0m-91-97h0m-9-13h0m87 127h0m-209-118h0m5 28h0m29-56h0m208 122h0m-6-8h0m3 54h0m-268-162h0m78 28h0m42 20h0m-44 12h0m136 74h0m-27 6h0m-1-74h0m10-15h0m-55 75h0m63-53h0m65 40h0m-127-71h0m-19-32h0m-11 79h0m72-47h0m63 122h0m-98-109h0m-16-38h0m181 148h0m-225-108h0m60 41h0m-100-73h0m189 73h0m-230-91h0m264 116h0m50 34h0m-119-59h0m-113 0h0m-73-86h0m52 84h0m201-7h0m3 77h0m-149-106h0m45 61h0m34-69h0m-148-30h0m128 127h0m-52-33h0m-20-63h0m-114-62h0m128 24h0m159 90h0m-116-21h0m-62 29h0m11-58h0m87 97h0m74-43h0m-47 31h0m-156-148h0m92 34h0m-11 104h0m82-63h0m-209-70h0m16 58h0m270 88h0m-191-18h0m-49-36h0m2-20h0m212 99h0m-28-33h0m6-14h0m-150-37h0m38-32h0m-76-18h0m26 52h0m138 67h0m41-37h0m-187-23h0m-60-44h0m122 49h0m59 27h0m-66-30h0m-134-86h0m161 103h0m-99-122h0m-49 72h0m250 30h0m-12 20h0m-153-97h0m68 88h0m-3-67h0m88 67h0m-199-47h0m126 75h0m-90-86h0m-23-33h0m32 82h0m28 19h0m-110-118h0m-29 19h0m228 58h0m-148-74h0m125 104h0m-20 4h0m-108-32h0m37 46h0m55-98h0m140 96h0m-49 21h0m-32 1h0m-15-59h0m-51-28h0m-63-5h0m38-5h0m-42-16h0m-52 11h0m-19-51h0m6 61h0m67-47h0m171 119h0m0-15h0m-170-45h0m99 70h0m-162-56h0m136-1h0m-108-78h0m52 93h0m108 19h0m-78-27h0m-56-1h0m36-14h0m-128-30h0m220 50h0m-134-60h0m116 84h0m11 39h0m-226-139h0m127 73h0m59-17h0m-27-14h0m-38 23h0m-25 15h0m29-40h0m3 60h0m56 33h0m23-25h0m-69-69h0m-70-62h0m153 93h0m-151-86h0m65 120h0m52 2h0m-163-79h0m215 85h0m22 25h0m-6-49h0m-15-13h0m40 39h0m-170-104h0m15 21h0m-37-35h0m249 136h0m-134-24h0m-112-20h0m22-85h0m-101 11h0m207 15h0m-53 94h0m30-85h0m-179-38h0m39 69h0m5-31h0m163 87h0m-208-128h0m53-19h0m249 164h0m-233-114h0m120 80h0m-18 29h0m-41-47h0m-80-22h0m89 34h0m7 5h0m74 8h0m81 21h0m-83-18h0m-103-64h0m204 86h0m-148-40h0m-34-93h0m106 133h0m-111-133h0m127 143h0m-4 3h0m-189-108h0m81 6h0m-32 22h0m213 69h0m-226-81h0m101 17h0m-6 29h0m58-36h0m-44 12h0m69 56h0m-33 10h0m54 8h0m-182-83h0m-99-48h0m295 90h0m-218-17h0m165 3h0m-53-8h0m-116-56h0m-94-21h0m31-3h0m205 63h0m56 66h0m-97-67h0m-172-78h0m212 116h0m-37-55h0m-37 5h0m-28-5h0m-53-16h0m68-40h0m-85 81h0m31-57h0m28-16h0m1 27h0m167 95h0m-2-18h0m-173-59h0m86 77h0m73-36h0m-31-6h0m24 52h0m-223-156h0m45 53h0m120 2h0m-205-20h0m201 89h0m-109-90h0m130 27h0m-133-49h0m-94-4h0m54 25h0m-14 34h0m-32-17h0m219 19h0m-108-19h0m13 43h0m112-24h0m38 51h0m-286-123h0m137 62h0m43 67h0m23 22h0m-78-34h0m14-92h0m-96-27h0m251 125h0m-205-109h0m126 67h0m-38 2h0m74 3h0m-147-73h0m-21 79h0m186 70h0m32-54h0m-1 43h0m28 8h0m-301-121h0m134-8h0m153 141h0m-111-106h0m6 66h0m77-11h0m-107-86h0m-102 60h0m123 18h0m-204-110h0m38 12h0m91 45h0m-42 26h0m45 37h0m-5-100h0m-31 79h0m4-5h0m142-8h0m-167-93h0m62 102h0m-66 3h0m69-54h0m-37 66h0m105-68h0m-187-9h0m133 96h0m42 6h0m59-4h0m-90-40h0m-34-16h0m176 51h0m-161-60h0m157 46h0m-172-13h0m-21 4h0m86-58h0m-62-21h0m15 34h0m-56 34h0m197 79h0m-52-6h0m-167-87h0m120 70h0m-15-56h0m16 9h0m-8 13h0m128 11h0m-104-47h0m-74-26h0m6-18h0m65 64h0m31-2h0m-203-55h0m78 65h0m6-80h0m-51-18h0m6 36h0m25 68h0m11-57h0m209 100h0m-224-83h0m157-10h0m-25 88h0m-113-137h0m10 32h0m185 62h0m-143 22h0m-43-65h0m-44-25h0m7 48h0m87 25h0m-87-11h0m38-76h0m-75 55h0m81 41h0m154-23h0m-81-12h0m-180-69h0m207 51h0m-53-1h0m19 21h0m51-10h0m-193-28h0m-4-50h0m105 109h0m146 10h0m-7 42h0m25-48h0m-166-6h0m72 38h0m-189-86h0m170-4h0m-64-13h0m-30 39h0m-56-91h0m143 157h0m6 9h0m-107-123h0m30 14h0m-56 30h0m23-37h0m38 90h0m-35-54h0m-6 11h0m58-73h0m32 54h0m-88-44h0m82 80h0m20-24h0m-43-7h0m165 57h0m-212-65h0m78 54h0m57-57h0m-107-11h0m-107-19h0m167 14h0m65 85h0m-244-114h0m75-6h0m139 87h0m64 29h0m-25-17h0m-56-62h0m-120 9h0m-61-10h0m152 8h0m-1 27h0m39 77h0m104-22h0m-114-21h0m-120-77h0m117 62h0m-136-13h0m-52-58h0m287 142h0m-20-2h0m-79-38h0m114-17h0m-61-32h0m-101-24h0m46 58h0m-116-8h0m153 40h0m-58-10h0m-129-59h0m237 72h0m-58-74h0m-76 12h0m-35-85h0m-6 60h0m58 80h0m0-30h0m-2 25h0m-138-81h0m36 29h0m199 25h0m-76-22h0m122 65h0m-299-136h0m147 57h0m-141-79h0m78 28h0m66-2h0m52 138h0m55-85h0m-11 89h0m11-7h0m-192-114h0m84-22h0m24 40h0m124 107h0m-90-23h0m-61-97h0m-5 35h0m-7-32h0m54 97h0m-138-63h0m-65-54h0m108 28h0m24-46h0m-19 102h0m38 10h0m-30-1h0m46-73h0m-148-12h0m79 59h0m-32-90h0m53 22h0m0 69h0m-93-112h0m5 35h0m269 95h0m-259-121h0m-8 61h0m187 26h0m30-9h0m42 73h0m21 12h0m-142-30h0m40-80h0m1 26h0m-27 57h0m-109-120h0m18 57h0m143 78h0m-3 10h0m8-47h0m-89-88h0m-4-4h0m118 136h0m67 7h0m-22-14h0m-227-114h0m115 113h0m-22-64h0m-27 48h0m-14-117h0m-19 66h0m95 63h0m44 19h0m-80-18h0m61-75h0m-57 6h0m-79-54h0m-77-17h0m-7 28h0m70 50h0m145 66h0m-46-51h0m51-22h0m-68-39h0m138 110h0m-129-25h0" stroke="#f8766d" stroke-width="12" stroke-linecap="round" opacity="0.62" fill="none"/>
<path transform="scale(.1)" d="M797 471h0m-73 70h0m-32 103h0m-7-22h0m85-173h0m46-3h0m-79 77h0m53-92h0m-64 145h0m-32 41h0m-1 1h0m81-143h0m-67 66h0m47-64h0m20 16h0m9 4h0m-1-30h0m-42 43h0m-19 11h0m11 39h0m1-26h0m23-31h0m-51 38h0m28-42h0m59-49h0m-57 124h0m25 0h0m28-128h0m-43 132h0m14-57h0m11 7h0m21-86h0m-49 146h0m-9 19h0m60-109h0m-53-8h0m34-5h0m-83 93h0m66-55h0m29-49h0m-17 54h0m31-59h0m-118 182h0m127-184h0m-2-36h0m-87 83h0m30 20h0m-4 38h0m-30 50h0m64-96h0m-62 43h0m-31 69h0m96-167h0m-11 73h0m-2-78h0m48-27h0m-117 133h0m68-78h0m-32 5h0m65-14h0m-79 62h0m-26 77h0m27-82h0m33-6h0m-41 24h0m87-105h0m-105 114h0m57 8h0m18-129h0m-76 148h0m3-25h0m63-83h0m16 16h0m-96 146h0m89-143h0m10 2h0m-39 76h0m-32-51h0m45-40h0m0 5h0m-8 38h0m13-58h0m-9 7h0m16-28h0m-20 48h0m-4 5h0m15 51h0m47-132h0m-3 64h0m-107 110h0m102-159h0m-116 152h0m28-41h0m-6 68h0m82-193h0m-50 138h0m-18 13h0m15-65h0m32-56h0m16-2h0m14-29h0m-74 93h0m-11 61h0m93-138h0m5 29h0m-129 150h0m126-159h0m-57 51h0m-32 2h0m-30 98h0m-5-7h0m121-138h0m-22 11h0m-23 21h0m38-78h0m-70 179h0m75-135h0m-35-12h0m-4 54h0m33-76h0m-95 152h0m76-39h0m10-53h0m-51 43h0m66-107h0m-89 200h0m-13-31h0m82-81h0m-76 105h0m56-114h0m-23 43h0m61-131h0m-78 107h0m-16 16h0m87-112h0m-18 67h0m11 6h0m-82 136h0m94-187h0m-74 90h0m70-51h0m-109 145h0m115-178h0m-38 108h0m-36-23h0m12-17h0m-6 30h0m-36 77h0m75-114h0m-4-41h0m-20 22h0m-34 58h0m42-20h0m-55 49h0m53-41h0m-49 1h0m43-22h0m-53 117h0m-11-18h0m7 19h0m114-208h0m-68 101h0m26-74h0m-61 88h0m18-13h0m82-106h0m-105 157h0m3 55h0m22-26h0m65-94h0m-61 60h0m19-90h0m30 22h0m35-44h0m-70 110h0m-46 27h0m53-48h0m35-45h0m-17-48h0m18-23h0m-39 33h0m-15 71h0m-5 30h0m45-43h0m-9-67h0m-50 168h0m-35-9h0m37-80h0m0 13h0m5-19h0m80-58h0m-9-33h0m-51 140h0m-49 56h0m113-217h0m-79 158h0m-6-18h0m16-47h0m15 8h0m28-82h0m-29 80h0m-37 61h0m61-63h0m37-109h0m-31 43h0m14 23h0m-104 154h0m29-37h0m-3 9h0m78-138h0m-3-23h0m-19 42h0m-17-19h0m19-15h0m9 69h0m-15-76h0m-58 184h0m70-194h0m16 34h0m-66 81h0" stroke="#ae87ff" stroke-width="12" stroke-linecap="round" opacity="0.62" fill="none"/>
<path transform="scale(.1)" d="M473 590h0m20-5h0m-46-1h0m24-6h0m52 19h0m-23 16h0m10-4h0m-27-17h0m44 4h0m-38 6h0m-13-12h0m-28 0h0m15-10h0m1 15h0m45-4h0m-33-4h0m-12 0h0m51 15h0m-56-8h0m72 11h0m-74-11h0m34 11h0m5 4h0m1-3h0m-32-15h0" stroke="#ae87ff" stroke-width="12" stroke-linecap="round" opacity="0.62" fill="none"/>
<path transform="scale(.1)" d="M560 658h0m10-20h0m13 3h0m-27 15h0m31 17h0m-12-37h0m5 3h0m8 3h0m-23 18h0m1-16h0m31 1h0m-13 13h0m-21-28h0m-7 13h0m28-4h0m-30 5h0m2 15h0m33 2h0m-25-17h0m25-7h0m-3 18h0m-17 17h0m-17-30h0m18 1h0m32 32h0" stroke="#00adfa" stroke-width="12" stroke-linecap="round" opacity="0.62" fill="none"/>
<path transform="scale(.1)" d="M922 142h0" stroke="#f8766d" stroke-width="16" stroke-linecap="round" opacity="0.9" fill="none"/>
<text x="95.2" y="15.05" font-size="2.5" text-anchor="start" fill="#333" font-weight="normal" font-style="normal" stroke="#333" stroke-width="0.06">Astrocytes</text>
<path transform="scale(.1)" d="M922 174h0" stroke="#e88526" stroke-width="16" stroke-linecap="round" opacity="0.9" fill="none"/>
<text x="95.2" y="18.28" font-size="2.5" text-anchor="start" fill="#333" font-weight="normal" font-style="normal" stroke="#333" stroke-width="0.06">B Cells</text>
<path transform="scale(.1)" d="M922 207h0" stroke="#d39200" stroke-width="16" stroke-linecap="round" opacity="0.9" fill="none"/>
<text x="95.2" y="21.51" font-size="2.5" text-anchor="start" fill="#333" font-weight="normal" font-style="normal" stroke="#333" stroke-width="0.06">Choroid Plexus Cells</text>
<path transform="scale(.1)" d="M922 239h0" stroke="#b79f00" stroke-width="16" stroke-linecap="round" opacity="0.9" fill="none"/>
<text x="95.2" y="24.74" font-size="2.5" text-anchor="start" fill="#333" font-weight="normal" font-style="normal" stroke="#333" stroke-width="0.06">DCs 1</text>
<path transform="scale(.1)" d="M922 271h0" stroke="#93aa00" stroke-width="16" stroke-linecap="round" opacity="0.9" fill="none"/>
<text x="95.2" y="27.97" font-size="2.5" text-anchor="start" fill="#333" font-weight="normal" font-style="normal" stroke="#333" stroke-width="0.06">DCs 2</text>
<path transform="scale(.1)" d="M922 304h0" stroke="#5eb300" stroke-width="16" stroke-linecap="round" opacity="0.9" fill="none"/>
<text x="95.2" y="31.2" font-size="2.5" text-anchor="start" fill="#333" font-weight="normal" font-style="normal" stroke="#333" stroke-width="0.06">Endothelial Cells</text>
<path transform="scale(.1)" d="M922 336h0" stroke="#00ba38" stroke-width="16" stroke-linecap="round" opacity="0.9" fill="none"/>
<text x="95.2" y="34.43" font-size="2.5" text-anchor="start" fill="#333" font-weight="normal" font-style="normal" stroke="#333" stroke-width="0.06">Ependymal Cells</text>
<path transform="scale(.1)" d="M922 368h0" stroke="#00bf74" stroke-width="16" stroke-linecap="round" opacity="0.9" fill="none"/>
<text x="95.2" y="37.66" font-size="2.5" text-anchor="start" fill="#333" font-weight="normal" font-style="normal" stroke="#333" stroke-width="0.06">Fibroblasts</text>
<path transform="scale(.1)" d="M922 400h0" stroke="#00c19f" stroke-width="16" stroke-linecap="round" opacity="0.9" fill="none"/>
<text x="95.2" y="40.89" font-size="2.5" text-anchor="start" fill="#333" font-weight="normal" font-style="normal" stroke="#333" stroke-width="0.06">Macrophages</text>
<path transform="scale(.1)" d="M922 433h0" stroke="#00bfc4" stroke-width="16" stroke-linecap="round" opacity="0.9" fill="none"/>
<text x="95.2" y="44.12" font-size="2.5" text-anchor="start" fill="#333" font-weight="normal" font-style="normal" stroke="#333" stroke-width="0.06">Microglia</text>
<path transform="scale(.1)" d="M922 465h0" stroke="#00b9e3" stroke-width="16" stroke-linecap="round" opacity="0.9" fill="none"/>
<text x="95.2" y="47.35" font-size="2.5" text-anchor="start" fill="#333" font-weight="normal" font-style="normal" stroke="#333" stroke-width="0.06">Neuroblasts</text>
<path transform="scale(.1)" d="M922 497h0" stroke="#00adfa" stroke-width="16" stroke-linecap="round" opacity="0.9" fill="none"/>
<text x="95.2" y="50.58" font-size="2.5" text-anchor="start" fill="#333" font-weight="normal" font-style="normal" stroke="#333" stroke-width="0.06">Neurons</text>
<path transform="scale(.1)" d="M922 530h0" stroke="#619cff" stroke-width="16" stroke-linecap="round" opacity="0.9" fill="none"/>
<text x="95.2" y="53.81" font-size="2.5" text-anchor="start" fill="#333" font-weight="normal" font-style="normal" stroke="#333" stroke-width="0.06">Neutrophils</text>
<path transform="scale(.1)" d="M922 562h0" stroke="#ae87ff" stroke-width="16" stroke-linecap="round" opacity="0.9" fill="none"/>
<text x="95.2" y="57.04" font-size="2.5" text-anchor="start" fill="#333" font-weight="normal" font-style="normal" stroke="#333" stroke-width="0.06">Oligodendrocytes</text>
<path transform="scale(.1)" d="M922 594h0" stroke="#db72fb" stroke-width="16" stroke-linecap="round" opacity="0.9" fill="none"/>
<text x="95.2" y="60.27" font-size="2.5" text-anchor="start" fill="#333" font-weight="normal" font-style="normal" stroke="#333" stroke-width="0.06">pDCs</text>
<path transform="scale(.1)" d="M922 626h0" stroke="#f564e3" stroke-width="16" stroke-linecap="round" opacity="0.9" fill="none"/>
<text x="95.2" y="63.5" font-size="2.5" text-anchor="start" fill="#333" font-weight="normal" font-style="normal" stroke="#333" stroke-width="0.06">Pericytes</text>
<path transform="scale(.1)" d="M922 659h0" stroke="#ff61c3" stroke-width="16" stroke-linecap="round" opacity="0.9" fill="none"/>
<text x="95.2" y="66.73" font-size="2.5" text-anchor="start" fill="#333" font-weight="normal" font-style="normal" stroke="#333" stroke-width="0.06">T Cells</text>
<path transform="scale(.1)" d="M922 691h0" stroke="#ff699c" stroke-width="16" stroke-linecap="round" opacity="0.9" fill="none"/>
<text x="95.2" y="69.96" font-size="2.5" text-anchor="start" fill="#333" font-weight="normal" font-style="normal" stroke="#333" stroke-width="0.06">Unknown</text>
<text x="118.2" y="4.9" font-size="5.4" text-anchor="start" fill="#111" font-weight="bold" font-style="normal" stroke="#111" stroke-width="0.2">B</text>
<line x1="127.3" y1="9" x2="127.3" y2="78.2" stroke="#8c8c8c" stroke-width="0.45"/>
<line x1="127" y1="78.2" x2="219" y2="78.2" stroke="#8c8c8c" stroke-width="0.45"/>
<line x1="126" y1="10.6" x2="127" y2="10.6" stroke="#8c8c8c" stroke-width="0.3"/>
<text x="125.5" y="11.4" font-size="2.4" text-anchor="end" fill="#333" font-weight="normal" font-style="normal" stroke="#333" stroke-width="0.06">40</text>
<line x1="126" y1="27.5" x2="127" y2="27.5" stroke="#8c8c8c" stroke-width="0.3"/>
<text x="125.5" y="28.3" font-size="2.4" text-anchor="end" fill="#333" font-weight="normal" font-style="normal" stroke="#333" stroke-width="0.06">20</text>
<line x1="126" y1="43.5" x2="127" y2="43.5" stroke="#8c8c8c" stroke-width="0.3"/>
<text x="125.5" y="44.3" font-size="2.4" text-anchor="end" fill="#333" font-weight="normal" font-style="normal" stroke="#333" stroke-width="0.06">0</text>
<line x1="126" y1="59.2" x2="127" y2="59.2" stroke="#8c8c8c" stroke-width="0.3"/>
<text x="125.5" y="60" font-size="2.4" text-anchor="end" fill="#333" font-weight="normal" font-style="normal" stroke="#333" stroke-width="0.06">-20</text>
<line x1="126" y1="75.2" x2="127" y2="75.2" stroke="#8c8c8c" stroke-width="0.3"/>
<text x="125.5" y="76" font-size="2.4" text-anchor="end" fill="#333" font-weight="normal" font-style="normal" stroke="#333" stroke-width="0.06">-40</text>
<line x1="129.4" y1="78.2" x2="129.4" y2="79.2" stroke="#8c8c8c" stroke-width="0.3"/>
<text x="129.4" y="81.6" font-size="2.4" text-anchor="middle" fill="#333" font-weight="normal" font-style="normal" stroke="#333" stroke-width="0.06">-40</text>
<line x1="151.7" y1="78.2" x2="151.7" y2="79.2" stroke="#8c8c8c" stroke-width="0.3"/>
<text x="151.7" y="81.6" font-size="2.4" text-anchor="middle" fill="#333" font-weight="normal" font-style="normal" stroke="#333" stroke-width="0.06">-20</text>
<line x1="174" y1="78.2" x2="174" y2="79.2" stroke="#8c8c8c" stroke-width="0.3"/>
<text x="174" y="81.6" font-size="2.4" text-anchor="middle" fill="#333" font-weight="normal" font-style="normal" stroke="#333" stroke-width="0.06">0</text>
<line x1="196.4" y1="78.2" x2="196.4" y2="79.2" stroke="#8c8c8c" stroke-width="0.3"/>
<text x="196.4" y="81.6" font-size="2.4" text-anchor="middle" fill="#333" font-weight="normal" font-style="normal" stroke="#333" stroke-width="0.06">20</text>
<line x1="218" y1="78.2" x2="218" y2="79.2" stroke="#8c8c8c" stroke-width="0.3"/>
<text x="218" y="81.6" font-size="2.4" text-anchor="middle" fill="#333" font-weight="normal" font-style="normal" stroke="#333" stroke-width="0.06">40</text>
<text x="174" y="85" font-size="2.6" text-anchor="middle" fill="#333" font-weight="normal" font-style="normal" stroke="#333" stroke-width="0.06">tSNE_1</text>
<text x="120.6" y="45.5" font-size="2.6" text-anchor="middle" fill="#333" font-weight="normal" font-style="normal" transform="rotate(-90 120.6 45.5)" stroke="#333" stroke-width="0.06">tSNE_2</text>
<path transform="scale(.1)" d="M1933 168h0m-111-7h0m-8 45h0m115-10h0m-65-17h0m-75-34h0m93 46h0m-65-40h0" stroke="#f8766d" stroke-width="12" stroke-linecap="round" opacity="0.62" fill="none"/>
<path transform="scale(.1)" d="M1854 202h0m75-13h0m14-10h0m-36 24h0m-271-21h0m306 18h0m-161-16h0m-169-12h0m101 17h0m216-13h0m-192-46h0m155 33h0m60-7h0m-261 35h0m161-37h0m-151 17h0m-26-13h0m100 18h0m114 32h0m-144-16h0m-87-37h0m85-24h0m170 64h0m-164-5h0m180-23h0m-187 33h0m-104-18h0m93 15h0m48-10h0m-80 13h0m181-3h0m-30-13h0m-223-29h0m257 49h0m39-38h0m-233 26h0m260-7h0m-133-24h0m-54 14h0m174 5h0m-214-5h0m-23 10h0m-17-12h0m215 31h0m-150-47h0m17-25h0m49 67h0m44 9h0m-15-33h0m-229-20h0m60 17h0m195 34h0m-197-52h0m95 45h0m-38-3h0m-83-27h0m207 0h0m-55 39h0m130-5h0m-294-54h0m48-16h0m109 7h0m6 24h0m-87 22h0m183 20h0m-18 3h0m-32-6h0m8-14h0m2 8h0m-215-42h0m39-21h0m-17 43h0m15-5h0m236 21h0m-32-14h0m-279-20h0m262 0h0m-154-7h0m0 36h0m-44-23h0m214 32h0m-103-56h0m74 35h0m-39 33h0m-119-75h0m160 19h0m-115 1h0m41-10h0m-67-13h0m32 60h0m186 2h0m-4 9h0m-53-26h0m-110-5h0m49 6h0m138-12h0m-253-25h0m178 20h0m-210 16h0m262 3h0m-45 29h0m-73-53h0m-83 31h0m-65-45h0m-16 6h0m289 7h0m-102 8h0m26 48h0m-94-7h0m18-15h0m7-1h0m0 17h0m-147-64h0m307 32h0m-209-32h0m135 2h0m-174-1h0m10 50h0m83 12h0m137-40h0m-57 38h0m-134-31h0m122 8h0m-20-24h0m-99 21h0m171 16h0m-99 15h0m-45-24h0m-43-5h0m20 9h0m-24 4h0m-26-52h0m60 52h0m-93-33h0m209 29h0m-49 15h0m-34-63h0m80 58h0m-132-8h0m-38-53h0m142 4h0m100 45h0m-209-2h0m180-7h0m-55 35h0m-172-21h0m215 17h0m-185-71h0m111 8h0m-191 2h0m32 9h0m170 30h0m-46-3h0m-122-38h0m38 19h0m43 1h0m2 8h0m135 25h0m-192-9h0m128-5h0m38-7h0m-209-6h0m32 3h0m165-6h0m119 23h0m-256-27h0m116 0h0m-132 19h0m16-22h0m185 42h0m24-48h0m-221-6h0m188 28h0m-28 12h0m-200-11h0m72-17h0m46-22h0m16 25h0m-128 8h0m241-21h0m-175 21h0m225 4h0m-309-21h0m13-18h0m190 39h0m-201 8h0m192-4h0m-54-46h0m-165 19h0m243 19h0m-241-23h0m342 49h0m-301-51h0m220 64h0m-108-78h0m-63 55h0m82-52h0m146 30h0m-23 8h0m-70-32h0m63 7h0m-7 39h0m-63-14h0m100 11h0m-23 21h0m-82-2h0m123-37h0m-237-30h0m44 54h0m-93-52h0m26 56h0m-28-3h0m159 14h0m25-35h0m-5-29h0m50 31h0m-126 21h0m104-51h0m33 38h0m-39 5h0m-84 13h0m92-9h0m-134-13h0m100-17h0m-170 1h0m130-19h0m78 29h0m-209-16h0m-67 17h0m150 26h0m206-29h0m-235-17h0m156 31h0m-150-45h0m61-3h0m-69 5h0m-79 8h0m124-16h0m110 36h0m-51 10h0m-69-12h0m86 23h0m131-13h0m-82 10h0m-69 3h0m-15-25h0m54-8h0m-88 0h0m179 41h0m-230-35h0m97-8h0m-128 29h0m-44-14h0m287-14h0m-104 17h0m-58-32h0m56 56h0m-21-13h0m163-5h0m-159 26h0m-174-50h0m138 22h0" stroke="#00bfc4" stroke-width="12" stroke-linecap="round" opacity="0.62" fill="none"/>
<path transform="scale(.1)" d="M2000 365h0m-301-114h0m-16 46h0m236-12h0m-191-32h0m213 89h0m-186-93h0m-25 11h0m321 32h0m-160-35h0m-42 42h0m92 55h0m70 21h0m-3-92h0m-131 30h0" stroke="#f8766d" stroke-width="12" stroke-linecap="round" opacity="0.62" fill="none"/>
<path transform="scale(.1)" d="M1749 261h0m27 91h0m34-43h0m-143-33h0m1 19h0m297-2h0m-29 69h0m-77-15h0m139-65h0m-72-13h0m-30 70h0m-75-79h0m-109 16h0m218 99h0m-18-23h0m-245-79h0m38-37h0m116 95h0m-88-70h0m73-11h0m178 82h0m-116 33h0m-7-67h0m-127-11h0m-7 50h0m143 26h0m193 7h0m-61-59h0m-178-47h0m77 61h0m-178-74h0m-82 25h0m403 62h0m-218 9h0m-24-55h0m-84 23h0m308 34h0m-233-36h0m161 1h0m10-15h0m-101-8h0m153 67h0m-73-7h0m-141-37h0m50 39h0m158-15h0m-195-16h0m-52 21h0m-111-90h0m188 8h0m133 97h0m-49-16h0m-207-14h0m350-8h0m31 29h0m-213-66h0m-26-34h0m-126 0h0m161 28h0m144 102h0m-140-53h0m-133-3h0m98-36h0m143 45h0m-129-1h0m58 40h0m-251-121h0m156 73h0m4 11h0m-86-96h0m353 109h0m-151-64h0m-187-25h0m172 13h0m85 49h0m-46-40h0m71 77h0m-316-45h0m-67-46h0m231 11h0m-99 12h0m66 54h0m128 9h0m-27 0h0m-105-21h0m-169-85h0m103 105h0m-22-90h0m241 53h0m-263-20h0m97 56h0m115-47h0m-122 4h0m140 15h0m-124-59h0m-63 0h0m214 30h0m-282-45h0m344 122h0m11-59h0m-97 64h0m-217-60h0m-66-43h0m64 9h0m-28 34h0m36-71h0m-121 36h0m214 36h0m34 1h0m-180-55h0m328 113h0m-157-83h0m102 28h0m32 57h0m-131-87h0m-30-15h0m130 72h0m-151-78h0m8 94h0m173-6h0m-101-25h0m151-24h0m-368 11h0m342 7h0m-95 6h0m85-15h0m-100 49h0m-206-45h0m-46-41h0m91-25h0m136 71h0m-153-69h0m-109 40h0m21-1h0m294 58h0m-278-116h0m88 3h0m297 122h0m-284-48h0m186-13h0m-85 2h0m-68 54h0m-51-78h0m200-10h0m-283 35h0m95 41h0m296 11h0m-20-10h0m-47-26h0m-233-33h0m21-21h0m-68 8h0m-108-16h0m214 23h0m105 88h0m78-61h0m-132-19h0m-74-12h0m-73 35h0m-4 11h0m-98-41h0m457 78h0m-171-76h0m-249-31h0m264 47h0m-156-46h0m21 30h0m139 23h0m-115 47h0m139-25h0m37 2h0m-197-27h0m-43-47h0m279 42h0m-257 46h0m-112-90h0m-23 8h0m18 22h0m254 12h0m35 5h0m-128 9h0m167 61h0m-187-69h0m110 46h0m-159-93h0m-37 34h0m-69 17h0m314-41h0m-36 30h0m-83-32h0m168 34h0m-235 25h0m234-13h0m63 18h0m-282 4h0m78 23h0m193-30h0m3 24h0m-139 11h0m44-59h0m-290-45h0m148 103h0m141-72h0m-242-32h0m58-3h0m-135 54h0m75-56h0m-7 65h0m99-26h0m280 41h0m-229-34h0m-53-53h0m150 71h0m24 6h0m-337-53h0m363 31h0m-53 71h0m-171-18h0m-14 5h0m-118-53h0m142 15h0m156-33h0m-292-12h0m303 41h0m-89-48h0m93 70h0m122 18h0m-253-74h0m156 17h0m-268-1h0m12 9h0m1 31h0m63-14h0m187-25h0m-248-18h0m318 93h0m-362-54h0m125-17h0m-66 35h0m-64-53h0m272-4h0m-53 69h0m-179-48h0m77-57h0m-185 39h0m13-16h0m363 87h0m-92-59h0m-86 30h0m113 30h0m63-57h0m-156 11h0m-49 36h0m69-75h0m-95 82h0m116-13h0m-26 11h0m-110-48h0m121 3h0m-89 48h0m31-89h0m179 28h0m-215-55h0m181 54h0m-146-31h0m61 50h0m-247-36h0m399 94h0m-412-100h0m189 85h0m214-41h0m-65 20h0m127 18h0m-354-42h0m122-47h0m-165 24h0m385 86h0m-367-69h0m-1-38h0m86 39h0m238 48h0m-275-14h0m43-23h0m127-36h0m-222-30h0m213 123h0m184-27h0m-177 34h0m149-66h0m-172 20h0m139 43h0m-316-129h0m212 61h0m-228-25h0m206 48h0m-118-66h0m199 116h0m-203-75h0m213 10h0m-283-61h0m298 39h0m-150 65h0m19-44h0m88 27h0m-59-81h0m161 108h0m-348-30h0m173-49h0m-8 35h0m107 23h0m-26-13h0m27-2h0m19 18h0m-153-4h0m-121-91h0m-100 18h0m444 54h0m-346-82h0m239 121h0m-20-60h0m-302-13h0m22-28h0m7 16h0m332 52h0m-351-72h0m9 57h0m350 28h0m-152-39h0m-32 7h0m-61-27h0m207 75h0m-65-94h0m-268-22h0m421 82h0m-240-73h0m-172 20h0m188 72h0m55-22h0m-220-62h0m378 55h0m-368-59h0m15-18h0m-23 43h0m313 3h0m-273 12h0m242 5h0m94 44h0m-216 15h0m-103-59h0m237-5h0m-23 66h0m-120-114h0m156 102h0m-56-91h0m165 85h0m-197-24h0m-71-11h0m124-42h0m-281 11h0m164-28h0m65 73h0m133-7h0m-347-57h0m106 51h0m70-28h0m-204 24h0m390-4h0m-123-40h0m-186-30h0m43 119h0m256-50h0m-91-5h0m-258 20h0m129-19h0m-80 2h0m212-3h0m-271-20h0m42 24h0m246 45h0m-68 10h0m-234-65h0m106 42h0m-124-56h0m294 26h0m84 13h0m-178 48h0m124-74h0m-99-10h0m123 58h0m-57-29h0m-175 11h0m147-57h0m-280-7h0m302 3h0m-235 23h0m-59 9h0m60-43h0m325 105h0m-17-42h0m-187-3h0m-97 27h0m340 28h0m-100-37h0m-153-27h0m-16 22h0m167 21h0m101-33h0m-210-17h0m-38-30h0m9-10h0m68 38h0m38 22h0m120 7h0m-338 17h0m223 7h0m57-32h0m-35 23h0m-159 16h0m80-25h0m47-19h0m-150 49h0m221-61h0m48 47h0m31 6h0m-398-107h0m21 47h0m338 12h0m25 9h0m-135-18h0m85 54h0m-200-7h0m5-88h0m99 40h0m-53 32h0m-16-13h0m144 54h0m83-26h0m-167 27h0m18-56h0m10 21h0m-102-31h0m-32-32h0m103 81h0m-96-27h0m-149-62h0m-45 27h0m109-42h0m224 48h0m-27 35h0m-27-61h0m-192 28h0m291 72h0m-130-14h0m-108-15h0m96-83h0m-14 89h0m177-13h0m63 7h0m-119-6h0m106-12h0m-73 33h0m-225-84h0m-36 16h0m95-24h0m10 58h0m-200-22h0m380 66h0m-255-26h0m187 0h0m-65 18h0m-29-76h0m-119 51h0m143-68h0m130 54h0m-252-71h0m35 97h0m-99-39h0m19 10h0m-51-32h0m92-26h0m208 125h0m-11-111h0m-178 20h0m147 72h0m-187-61h0m-50 18h0m356 14h0m-142-48h0m108 62h0m-300-67h0m84 37h0m-25 27h0m-20-95h0m146 66h0m-126-1h0m-1-51h0m-56 63h0m-64-27h0m212-39h0m-38 77h0m-16-76h0m271 63h0m-128-55h0m-7 86h0m-43-86h0" stroke="#00bfc4" stroke-width="12" stroke-linecap="round" opacity="0.62" fill="none"/>
<path transform="scale(.1)" d="M1646 206h0m-29-20h0m13 76h0m-6 43h0m-24-64h0" stroke="#f8766d" stroke-width="12" stroke-linecap="round" opacity="0.62" fill="none"/>
<path transform="scale(.1)" d="M1609 194h0m10 48h0m-20 30h0m86-55h0m-62-3h0m-29 115h0m31-123h0m27 107h0m-36 32h0m51-112h0m4 71h0m-55-123h0m-12 114h0m99-21h0m-64-47h0m4 72h0m21-46h0m-66 65h0m102-64h0m-31-14h0m1 19h0m23-18h0m-76-1h0m38 58h0m35-61h0m-47-34h0m54 48h0m-121-33h0m-6 40h0m104-22h0m-14-17h0m-9-2h0m41 28h0m-29 24h0m22 42h0m-67-137h0m32 177h0m-50-38h0m59-39h0m-11 56h0m2-104h0m-76 58h0m31 57h0m70-64h0m1-64h0m-11 130h0m-65-62h0m-9-72h0m77 42h0m-90 55h0m89-50h0m-29-12h0m34 79h0m-31-52h0m-35-50h0m-12 62h0m36-53h0m-3 72h0m40-77h0m32 47h0m-23 48h0m-14-115h0m-43 35h0m-22 86h0m59-102h0m-62 26h0m59 38h0m12-38h0m-25-57h0m-23 78h0m9 72h0m74-55h0m-100-22h0m21-43h0m34 107h0m-18-43h0m23-25h0m-54-23h0m5 38h0m-25 46h0m36-56h0m66-43h0m-89 66h0m18 9h0m48 16h0m-53 15h0m16-84h0m36-58h0m19 118h0m-75 10h0m60 4h0m-8-4h0m-15-23h0m-72-70h0m27 75h0m69-37h0m18 26h0m-59-77h0m58 94h0m-21 38h0m-60-158h0m53 32h0m-15 50h0m31 63h0m-68 15h0m-2-18h0m-35-78h0m129 41h0m-55 43h0m-4 23h0m-25-92h0m-42-17h0m51-7h0m14 4h0m19-27h0m-32 69h0m44-18h0m-44-35h0m-48 4h0m36 83h0m63-61h0m-57 75h0m36-93h0m9 110h0m-28-132h0m45 8h0m-94 21h0m57 60h0m-57 13h0m18-105h0m57 68h0m-40 72h0m7-104h0m16-58h0m-59 29h0m33 105h0m39-47h0m16 25h0m-76 18h0m96-80h0m-93 19h0m54-74h0m-62 105h0m51-59h0m-4-11h0m23 56h0m-80-49h0m13 40h0m2 60h0m42 7h0m-29 14h0m-8-109h0m28-18h0m49 64h0m-50 29h0m-28-125h0m-12 144h0m97-54h0m-28-52h0m-21 69h0m25-116h0m-58 115h0m17-33h0m-42 35h0m105 13h0m-12-21h0m-78-29h0m79 26h0m-43-82h0m30-25h0m25 58h0m10-9h0m-129 42h0m43-25h0m66-56h0m-22 138h0m0-142h0m-48 100h0m3-7h0m-24-41h0m10-15h0m-19 44h0m-5 21h0m51-93h0m-1 15h0" stroke="#00bfc4" stroke-width="12" stroke-linecap="round" opacity="0.62" fill="none"/>
<path transform="scale(.1)" d="M1922 490h0m-46-23h0m85-24h0m11-11h0m-174 32h0m165-15h0m-170 75h0m63-140h0m-63 71h0m102 3h0m-2-47h0m-108 109h0m80 20h0m127-100h0m-193 123h0m105-44h0m-73-86h0m-116 72h0m5-65h0m173 54h0m46 13h0m33 52h0" stroke="#f8766d" stroke-width="12" stroke-linecap="round" opacity="0.62" fill="none"/>
<path transform="scale(.1)" d="M1800 563h0m154-99h0m-61 124h0m45-113h0m-196 71h0m198 34h0m61-124h0m-88 140h0m63-40h0m-73 39h0m-164-34h0m234-150h0m-122 79h0m86 29h0m-98-59h0m-72 26h0m79-4h0m-123-8h0m-13 23h0m211 38h0m-119 56h0m48-157h0m-2 4h0m43-29h0m-9 139h0m92-85h0m-264 3h0m91-59h0m72 78h0m23-80h0m-188 80h0m306-25h0m-97-13h0m-61 66h0m-60-50h0m162-13h0m-199-37h0m238 46h0m-112 79h0m-86-124h0m49 143h0m-117-30h0m142-129h0m28 187h0m69-54h0m-162-13h0m177-31h0m-18-3h0m31 45h0m-35-24h0m-72 34h0m56 47h0m-37-179h0m0 30h0m82 4h0m-207-18h0m48 49h0m73-36h0m103 66h0m-181-81h0m48 83h0m137-12h0m-205 97h0m173-167h0m10 15h0m-52 101h0m20-10h0m-217-20h0m195-27h0m-102-15h0m153 83h0m-37-53h0m-10 92h0m9-4h0m-189-61h0m159-24h0m-119 45h0m32 5h0m77 45h0m-151-190h0m51 66h0m-106 19h0m193-97h0m43 39h0m-100 69h0m22 72h0m19-114h0m-43 107h0m50-187h0m-95 121h0m38-23h0m164 62h0m-92-66h0m-89-30h0m56-50h0m69 194h0m80-85h0m-153-88h0m18 104h0m-168-70h0m214 100h0m-46-37h0m-134-93h0m-30 102h0m21-29h0m232-54h0m-256 7h0m71 148h0m79-215h0m24 54h0m-39 20h0m-106-28h0m272 77h0m-176-44h0m-97 113h0m63-143h0m-14-38h0m-80 136h0m-8-15h0m182-65h0m-34 25h0m-91-63h0m100 123h0m-29 16h0m154-57h0m-234-72h0m28 149h0m68-167h0m-18 12h0m34 29h0m77 53h0m-10 37h0m29-43h0m-60 58h0m-57-162h0m47 41h0m-60-35h0m136 66h0m-40 131h0m11-55h0m-43-107h0m-79 129h0m101-72h0m-158-61h0m176 139h0m24-96h0m-38 37h0m-123-107h0m55 56h0m-108 23h0m80-18h0m36 147h0m102-70h0m-44-16h0m37 9h0m-212-31h0m110 109h0m-67-197h0m184 33h0m-50 16h0m45 101h0m-106-99h0m82-37h0m-188 72h0m-11 10h0m-22 19h0m-17 0h0m112-137h0m-70 181h0m39-48h0m88-41h0m-139 55h0m45 37h0m35-120h0m-6-47h0m132 76h0m-138 9h0m157-10h0m-114 58h0m-121 2h0m145-61h0m-18 81h0m-65-133h0m54 74h0m145-50h0m-9 49h0m-1 65h0m-226-89h0m14 98h0m181-48h0m-109-85h0m83 34h0m-68 91h0m-109-71h0m28 47h0m88-1h0m29 10h0m86-20h0m25-77h0m-54 94h0m-62 12h0m-124-98h0m155 100h0m3-109h0m-25-66h0m-7 70h0m122 25h0m-113-79h0m57 159h0m44-71h0m-150-104h0m-122 121h0m173-10h0m-113 92h0m76-61h0m112-49h0m42 32h0m-142-6h0m-122-88h0m24 145h0m71-9h0m39-7h0m36 27h0m88-77h0m-42 64h0m-77 11h0m-15-136h0m-27 53h0m-117-40h0m152-30h0m-99 18h0m139 77h0m-23-121h0m-49 101h0m-23 8h0m96 89h0m-133-105h0m33 93h0m127-77h0m-114 18h0m-128-47h0m27 82h0m161-57h0m-123 68h0m211-97h0m-36 81h0m-78-156h0m109 73h0m-145 91h0m42-64h0m-24 59h0m51 6h0m-98-60h0m110 17h0m-157 39h0m57 23h0m149-103h0m-40 98h0m-113 21h0m127-133h0m-107 107h0m52 31h0m-99-96h0m213-50h0m-172 151h0m93-172h0m4 55h0m-95 6h0m107-62h0m-123 162h0m-51-93h0m141 38h0m46-98h0m-84 4h0m3 130h0m-56-149h0m80 74h0m-128-50h0m-30 113h0m130-123h0m118 63h0m-67-22h0m-142 84h0m46 20h0m-69-117h0m155-49h0m-105-1h0m120 152h0m-134-16h0m-29-115h0m172 48h0m16 103h0m-62-134h0m-30 0h0m16 113h0m123-32h0m-118-34h0m11-70h0m125 40h0m-187-82h0m7 162h0m-56-99h0m186 65h0m40-74h0m-63-27h0m-93 40h0m38-35h0m-87 158h0m53 28h0m119-40h0m20-72h0m-268-1h0m43-77h0m7 42h0m191 92h0m-22-70h0m-4 57h0m-120-77h0m-47-12h0m10 19h0m6 91h0m-25-71h0m-22 3h0m96-84h0m-73 163h0m139-161h0m-144 37h0m-7-12h0m226 47h0m-125 103h0m-86-29h0m-17-72h0m129 0h0m-67 62h0m60-7h0m-45-110h0m145 95h0m-248-47h0m254 60h0m-131-40h0m-35 60h0m-7 24h0m-43-104h0m70 97h0m89-150h0m76 61h0m5 19h0m-280-13h0m204 37h0m-7-61h0m-164-16h0m76 15h0m-35 43h0m152-88h0m-108 108h0m96-93h0m-37 26h0m18 71h0m44-73h0m-51-29h0m99 121h0m-218-35h0m18 82h0m130-27h0m3-98h0m-212 35h0m154-68h0m40 2h0m0 131h0m46-36h0m-135 26h0m62-40h0m-115-112h0m36 122h0m13 43h0m-71-20h0m229-82h0m-73 75h0m2-69h0m-9-33h0m-56 79h0m94-114h0m-127 45h0m-47 131h0m133-129h0m-141 19h0m78-31h0m167 62h0m-180 62h0m37 20h0m119-97h0m-40 74h0m40-28h0m-140-104h0m125 2h0m-33 34h0m-48 55h0m-17-87h0m-112 88h0m-2-79h0m-7 50h0m214-31h0m25-18h0m24 25h0m-217 41h0m188-56h0m-86 64h0m71 30h0m-98 23h0m-114-51h0m-42-26h0m177-37h0m-105-2h0m14 22h0m107 43h0m-25-14h0m116-12h0m-186-79h0m65 65h0m-8 17h0m143-37h0m-240 59h0m-2 56h0m123-36h0m-57 42h0m-80-121h0m94 117h0m-75-59h0m38-134h0m73 11h0m60 123h0m8-96h0m-76 176h0m-13-4h0m-102-96h0m113 83h0m-13-55h0m137-15h0m-160-76h0m97 134h0m28-32h0m-121-44h0m6 44h0m90-8h0m-10 66h0m-102-46h0m-54-107h0m165 104h0m43-22h0m-230-57h0m45 98h0m16-128h0m90-13h0m42 35h0m57 10h0m-13 69h0m-122 9h0m-64 33h0m194-155h0m-284 31h0m34-33h0m15 2h0m4 97h0m125-143h0m-174 127h0m87 49h0m24-159h0m95 157h0m-59-161h0m-11 83h0m-47 28h0m28-92h0m97 81h0m-179-65h0m-13 119h0m83-37h0m136 53h0m-88 29h0m-110-178h0m71 135h0m137 2h0m-183-46h0m125-79h0m-29 28h0m-63 108h0m54-35h0m46-11h0m-170-31h0m19 83h0m57-53h0m-88 0h0m39-69h0m119 13h0m100 19h0m8 16h0m-212-53h0m138 79h0m-81-6h0m50 2h0m-46 33h0m-31-166h0m125 137h0m36-47h0m-122 43h0m92-87h0m-132 10h0m18-2h0m32-48h0m-130 78h0m114 8h0m26-84h0m-19 115h0m-36 78h0m-65-101h0m206 54h0m-153-55h0m0 59h0m23-44h0m-63-5h0m24 10h0m135-50h0m17-59h0m27 19h0m-51 80h0m-200 21h0m33 23h0m121 1h0m51-135h0m7 109h0m-45 92h0m-92-143h0m-12-8h0m160 82h0m58-66h0m-260-14h0m197 75h0m-136-105h0m113 123h0m-147 17h0m8 16h0m170-103h0m-95 1h0m-66 7h0m120-34h0m-115 56h0m-5 12h0m168-83h0m-123 7h0m166 106h0m-135 10h0m-87-52h0m213 43h0m-86 4h0m-53-49h0m45 68h0m-159-48h0m255-92h0m-14 36h0m15-16h0m-144-72h0m44 40h0m48 85h0m-64-99h0m-79 84h0m-85 27h0m190-30h0m-162-54h0m122 110h0m133-98h0m-80-4h0m-47 160h0m-47-1h0m6-200h0m-63 98h0m-34-51h0m69 15h0m185 59h0m-62-106h0m-123 4h0m-1 147h0m215-111h0m-78 43h0m30-32h0m-237 41h0m24-44h0m49-75h0m49 23h0m137 9h0m-58 164h0m-162-41h0m158 35h0m-210-87h0m76 30h0m200-80h0m-249 48h0m215 0h0m-90-20h0m86 10h0m-31 85h0m18-55h0m-78 77h0m-138-149h0m17-6h0m280 45h0m-156-66h0m18 138h0m-101-51h0m188-5h0m-14 83h0m-153-87h0m170 60h0m-222-58h0m143 32h0m-68 0h0m9-96h0m182 82h0m-160 91h0m-74-16h0m-10-150h0m-25 77h0m41-10h0m7-35h0m139 103h0m-37-12h0m-134-101h0m244 31h0m-251 9h0m106-105h0m-3 86h0m-112 59h0m169-52h0m77-58h0m-77 28h0m-127-2h0m115 120h0m24 7h0m10-152h0m-77 130h0m-12-45h0m128 29h0m-106-66h0m-47-47h0m-32 95h0m168-119h0m-77 120h0m-26-18h0m-115-1h0m11 18h0m60-26h0m155 48h0m-184-59h0m169-73h0m-7 148h0m-129-161h0m-33 104h0m210-19h0m-109-4h0m3 101h0m-68-160h0m132-5h0m15 139h0m-248-49h0m224-8h0m0 2h0m-118-19h0m35 49h0m81-46h0m33 13h0m-30 71h0m64-117h0m-5 21h0m-20 68h0m-30-129h0m-86 60h0m72 70h0m-74-92h0m-115 78h0m-23-37h0m157 2h0m87-26h0m-186 78h0m180-118h0m-31 31h0m-28 5h0m28 12h0m-8 86h0m-176-121h0m31 129h0m-61-56h0m104-123h0m194 85h0m-67-15h0m-38 139h0m4-147h0m-152 11h0m-7-45h0m175 72h0m82 20h0m-59-67h0m-97 78h0m-40-96h0m30-22h0m135 63h0m-47 125h0m-94-150h0m172 40h0m-202-7h0m142 67h0m-36 13h0m-97-50h0m84 57h0m-32-92h0m-46 7h0m95 56h0m-60-1h0m-28-91h0m-10-22h0m-53 75h0m140-32h0m-107 43h0m-11 68h0m53 17h0m142-103h0m-103 3h0m44 29h0m-153-39h0m181-17h0m-106 131h0m-78-73h0m210-10h0m-159-57h0m126-37h0m-116 162h0m53-31h0m16 53h0m-102-177h0m49-9h0m135 92h0" stroke="#00bfc4" stroke-width="12" stroke-linecap="round" opacity="0.62" fill="none"/>
<path transform="scale(.1)" d="M1696 424h0m-129 66h0m109-91h0m-106 61h0m140 33h0m-67-104h0m-45 162h0m134-77h0m-71-47h0m26-40h0m-59 149h0m17 28h0m26-120h0m17-25h0m-76 95h0m14-125h0m26 140h0m77-87h0m-97 57h0m60-95h0m-31-8h0m-77 109h0m59 26h0m-13 12h0m79-58h0m-133-87h0m47 4h0m102 85h0m-130-58h0m-39 22h0m107-63h0m-70 160h0m-55-59h0m161-3h0m-92-9h0m28-35h0m31 53h0m-16 23h0m-53-9h0m-6-8h0m88-96h0m-75 138h0m-29-133h0m139 108h0m-73-99h0m2-31h0m13 40h0m6-29h0m42 4h0m-55 85h0m-2-67h0m-77 18h0m102 75h0m-88-7h0m75-52h0m56 0h0m-121 48h0m8 26h0m124-75h0m-62 13h0m3 57h0m35-10h0m-131-6h0m125-32h0m-31-50h0m-68 61h0m6-69h0m-1 114h0m102-75h0m-96-51h0m-16 43h0m86-48h0m-78 11h0m90 103h0m-15-99h0m-76 6h0m-38 54h0m41-35h0m92 25h0m-52-52h0m-75 121h0m82-151h0m67 129h0m-152-41h0m64-93h0m-23 153h0m-30-52h0m57-27h0m-48 91h0m83-106h0m-41 101h0m-12-166h0m-21 100h0m25-45h0m25 133h0m-24-106h0m-66-3h0m31-61h0m-44 85h0m39-44h0m119 43h0m-55 63h0m17-115h0m-29 6h0m-26 80h0m47-7h0m-104-3h0m34 5h0m102-17h0m-105-3h0m34-54h0m-11 83h0m-9-132h0m-49 89h0m88 86h0m43-103h0m-40-80h0m96 78h0m-104 34h0m26-44h0m-36 8h0m-42 24h0m-13 47h0m77-59h0m-82 30h0m166-34h0m-64 55h0m-46-2h0m57-2h0m3-53h0m-45-44h0m40 133h0m4-49h0m-100-87h0m69 133h0m-47-23h0m-4-57h0m33 36h0m79 0h0m-70-65h0m67-37h0m13 23h0m-28 59h0m-139-48h0m101 137h0m-98-90h0m100-42h0m-49 83h0m96 6h0m-10-131h0m-129 121h0m119-112h0m-103 44h0m81 44h0m32-52h0m-54-60h0m-30 115h0m74 49h0m-8-152h0m-10 159h0m-24-3h0m-72-96h0m32 62h0m88-100h0m-67 124h0m18-147h0m53 54h0m-59 29h0m19 96h0m12-133h0m29-25h0m-100 102h0m146-51h0m-14-36h0m-141 87h0m96 21h0m49-26h0m-101-93h0m-66 76h0m112 27h0m-52-137h0m13 119h0m4 67h0m48-164h0m-42 112h0m-20-110h0m-8 145h0m60 9h0m-80-117h0m46 44h0m-33-83h0m29 51h0m9 101h0m1-130h0m21 23h0m-91 58h0m119-1h0m3-109h0m-68 152h0m-5-168h0m-9 173h0m-55-128h0m32-5h0m-21-12h0m-18 20h0m13 0h0m150 37h0m-74 35h0m64 17h0m-100-84h0m-37-4h0m114 81h0m-60-119h0m-15 104h0m60-104h0m26 89h0m3-39h0m22 64h0m-57 41h0m19 14h0m-126-87h0m145 13h0m-16-99h0m-8 4h0m-84 60h0m18-67h0m11 134h0m69-18h0m41-27h0m-56-68h0m-108 42h0m50 17h0m81 38h0m-35-69h0m19 12h0m-27 54h0m43-22h0m-77-38h0m25-39h0m61 82h0m2-1h0m-65 84h0m-96-112h0m4 59h0m87-28h0m-29-93h0m35 138h0m-32-116h0m89 30h0m-9 62h0m-65-68h0m-21-23h0m-22 140h0m7-86h0m12 17h0m-34-27h0m64-29h0m-53 11h0m50-40h0m-4 72h0m-8 29h0m54 9h0m-9-73h0m-101 64h0m157-86h0m-99 123h0m-13-78h0m-14 49h0m85-1h0m-51-98h0m21 118h0m-82-110h0m85 14h0m0 22h0m-27-70h0m20 172h0m-6 15h0m36-72h0m-11 17h0m-41-143h0m-9 69h0m-57-13h0m96 141h0m43-116h0m6-3h0m-61-58h0m88 46h0m-176-12h0m41-20h0m80 156h0m10-6h0m-47-183h0m30 110h0m54 4h0m-122-90h0m31 134h0m42-35h0m-83-56h0m143 30h0m-165-48h0m112-19h0m-130 63h0m114-63h0m60 44h0m-136-16h0m40 5h0m34-13h0m-48 107h0m-19-23h0m-13-105h0m45 97h0m-37-50h0m107-37h0m-76-8h0m14 65h0m60 25h0m-94-93h0m-12 114h0m39-86h0m68 13h0m-88-11h0m88 14h0m5 37h0m25-57h0m-68 139h0m-14 5h0m75-148h0m-31 12h0m-25 104h0m-71-103h0m91 23h0m-98 39h0m52 65h0m73-79h0m-52-88h0m-15 56h0m31-49h0m-66 136h0m113-123h0m-65 92h0m-33-106h0m75 150h0m29-117h0m-35-17h0m-97 33h0m101 73h0m-124-23h0m82 21h0m54-96h0m-135 75h0m-21-22h0m96-85h0m47 17h0m-75 147h0m115-64h0m-97-7h0m67-37h0m-129 77h0m82-90h0m-44 61h0m-46-44h0m11 65h0m80-88h0m76 23h0m-157 6h0m81-8h0m-57 93h0m63 23h0m3-59h0m14-42h0m7 54h0m2-105h0m-148 46h0m118-39h0m43 102h0m-62-118h0m68 42h0m10 21h0m-102-5h0m16 67h0m49-17h0m-39-25h0m55 58h0m-102-91h0m-14-2h0m6 99h0m-5-16h0m144-99h0m-20-24h0m-99 35h0m64 10h0m28-18h0m9 8h0m-109 92h0m90 14h0m-30-145h0m-106 49h0m89 91h0m-10-178h0m-51 163h0m87-57h0m-88-17h0m50-52h0m-80 88h0m76 37h0m-58-113h0m100 111h0" stroke="#f8766d" stroke-width="12" stroke-linecap="round" opacity="0.62" fill="none"/>
<path transform="scale(.1)" d="M1720 486h0m-165-64h0m12 1h0m79 9h0m-3 36h0m52-49h0m-19 71h0m-3-15h0m-32-90h0m22 10h0m-81 39h0m20 60h0m87 45h0" stroke="#00bfc4" stroke-width="12" stroke-linecap="round" opacity="0.62" fill="none"/>
<path transform="scale(.1)" d="M1444 394h0m4 119h0m24-101h0m-27 31h0m19 25h0m1-15h0m-5 46h0m-70-70h0m52-93h0m-62 137h0m27-21h0m-15-100h0m21 91h0m70 71h0m-72-20h0m23-49h0m70 51h0m-80-8h0m100-31h0m-129-44h0m121-12h0m-135 28h0m104 53h0m-90-57h0m62 42h0m30 6h0m-56 52h0m-44-116h0m103-13h0m-93 43h0m6 67h0m49 7h0m64-48h0m-111 13h0m57 29h0m-76-33h0m2-88h0m61 80h0m-52-5h0m71-93h0m-33 107h0m-26-113h0m25 104h0m-21-29h0m43-6h0m55-53h0m-109 10h0m49-58h0m15 92h0m-7 78h0m12-94h0m-81 6h0m30 29h0m-16-27h0m13 43h0m-10-68h0m50 86h0m-38-87h0m19 135h0m14-132h0m-16-30h0m-12 2h0m-34 78h0m81-40h0m-6-19h0m2 96h0m7-142h0m-32 111h0m-10-33h0m64 68h0m-108-87h0m16 76h0m59-94h0m-51 43h0m-37-1h0m82-56h0m16 90h0m3-62h0m-76 95h0m88 16h0m-57-117h0m-39-3h0m76-23h0m-42 13h0m36 94h0m-82-53h0m97 32h0m-69-34h0m46 100h0m-52-157h0m107 78h0m-79 23h0m96-14h0m-84 59h0m-32-107h0m56 64h0m13 10h0m-23-139h0m-69 83h0m13 36h0m13-30h0m88 18h0m-30-6h0m20 70h0m-2-120h0m-24 144h0m-77-96h0m28-4h0m-3-61h0m6-24h0" stroke="#f8766d" stroke-width="12" stroke-linecap="round" opacity="0.6" fill="none"/>
<path transform="scale(.1)" d="M1410 409h0m83-1h0m-95 89h0m46 0h0m18 24h0m0-163h0m-86 70h0m61-11h0m-63-30h0m14-25h0m119 34h0m7 90h0m-102-43h0m23 55h0m41-15h0m-33 7h0m-53-90h0m39-2h0m5 116h0m-10-102h0m35 90h0m-33-11h0m72-67h0m-102-43h0m18 34h0m4 45h0m-11-2h0m91-83h0m-43 104h0m59 5h0m-50 48h0m55-135h0m-146 19h0m119 19h0m-50 49h0m-36-65h0m61 111h0m17-14h0m-74-146h0m-19 15h0m38 120h0m10-36h0m-63-77h0m119 72h0m-62-132h0m33 41h0m2 36h0m24 59h0m-58-110h0m59 135h0m-44-63h0m-30-100h0m71 25h0m26 118h0m-83-14h0m71-33h0m-22 102h0m-77-24h0m5-79h0m72 32h0m2-27h0m-25 56h0m51 6h0m-25-43h0m-101-6h0m105-86h0m11 30h0m-72 12h0m-39 5h0m102 25h0m-19 62h0m36-84h0m-16 91h0m-55 12h0m-21-4h0m64-55h0m-85-58h0m37 50h0m-1-107h0m42 41h0m-18 105h0m1 25h0m-25-25h0m-11-12h0m33-81h0m-24 84h0m-5-85h0m-22 56h0m127-6h0m-100 35h0m36-45h0m2-52h0m-36 72h0m93 7h0m5-10h0m-72-116h0m45 82h0m-71 59h0m-15-18h0m14-50h0m-4 45h0m-21-42h0m28 73h0m-29-39h0m34 61h0m40-103h0m-55-32h0m50 134h0m-16-32h0m-8-88h0" stroke="#00bfc4" stroke-width="12" stroke-linecap="round" opacity="0.6" fill="none"/>
<path transform="scale(.1)" d="M1518 420h0m-53-37h0m-52-28h0m66-6h0m22 74h0m-34-79h0m-26 56h0m56 2h0m-15-23h0m-42 141h0m27-15h0m-74-128h0m79 104h0m-88-72h0m123-18h0m-132 59h0m22 31h0m18-67h0m91 91h0m-71-128h0m33 131h0m-31-111h0m42-2h0m-50 77h0m-32 28h0m87-129h0m-9 27h0m-86 37h0m53-41h0m61 94h0m-96-99h0m3 67h0m49-109h0m-47 34h0m-20 49h0m4-41h0m109 5h0m-90 76h0m23 56h0m3-95h0m23 24h0m25-2h0m9-75h0m-40-15h0m-3 169h0m71-95h0m-69 92h0m73-89h0m-23 13h0m-13-53h0m-12 11h0m40 58h0m-16-92h0m-51-3h0m12-35h0m22 49h0m-91 32h0m22 42h0m7-108h0m-47 50h0m64-35h0m-15 73h0m88-32h0m11 54h0m-55-42h0m46 34h0m-123-1h0m56 30h0m-15-22h0m-18-9h0m-9-53h0m2 111h0m106-33h0m-117-84h0m87 86h0m-91-34h0m48 12h0m54-60h0m-33-18h0m-3 143h0m-3-35h0m-39-143h0m77 59h0m-1-39h0m21 85h0m-14-8h0m-39-9h0m34-31h0m-55-34h0m-14 122h0m84-4h0m-85-50h0m-28-78h0m16 33h0m-6 27h0m86 37h0m-49-9h0m66 36h0m-84 20h0m13-176h0m34 191h0m-54-54h0m1-130h0m-8 179h0m-12-23h0m3-143h0m116 94h0m-80-40h0m79 22h0m-48 61h0" stroke="#8a9090" stroke-width="12" stroke-linecap="round" opacity="0.6" fill="none"/>
<path transform="scale(.1)" d="M1360 342h0m30-28h0m-37 31h0m11-33h0m-6 11h0m30-11h0m-2-16h0m-24 15h0m-15 16h0m3 19h0" stroke="#f8766d" stroke-width="12" stroke-linecap="round" opacity="0.6" fill="none"/>
<path transform="scale(.1)" d="M1373 313h0m-5-9h0m18-3h0m-26 43h0m6-12h0m4-18h0m-12 31h0m24-40h0m-19 38h0m17-46h0" stroke="#00bfc4" stroke-width="12" stroke-linecap="round" opacity="0.6" fill="none"/>
<path transform="scale(.1)" d="M1365 334h0m-7-23h0m-9 22h0m19 0h0m2-12h0m-9-9h0m0 23h0m34-31h0m-30 26h0m4 6h0" stroke="#8a9090" stroke-width="12" stroke-linecap="round" opacity="0.6" fill="none"/>
<path transform="scale(.1)" d="M1433 254h0m-9 5h0m51-5h0m6-34h0m-69 50h0m8-8h0m-6 12h0m28-22h0m9 17h0m17-42h0m-25 46h0m-20-12h0m17-14h0m8 5h0m-9-13h0m-5 43h0" stroke="#f8766d" stroke-width="12" stroke-linecap="round" opacity="0.6" fill="none"/>
<path transform="scale(.1)" d="M1455 240h0m1-13h0m-11 22h0m36-17h0m-17 25h0m-36-13h0m28 18h0m23-34h0m-43 27h0m47-21h0m-4 2h0m-23 30h0m-4-33h0m-27 41h0m44-17h0m-25 11h0" stroke="#00bfc4" stroke-width="12" stroke-linecap="round" opacity="0.6" fill="none"/>
<path transform="scale(.1)" d="M1452 236h0m-5 30h0m25-42h0m-31 24h0m-31 31h0m58-38h0m-20 19h0m23-31h0m0 28h0m-56 26h0m28-44h0m-18 37h0m55-42h0m10-6h0m-64 32h0m0 20h0m13-46h0m31-12h0" stroke="#8a9090" stroke-width="12" stroke-linecap="round" opacity="0.6" fill="none"/>
<path transform="scale(.1)" d="M1564 169h0m-52 34h0m37-20h0m-11 17h0m17-28h0m-64 58h0m81-46h0m-25-17h0m34-9h0m-87 60h0m47 3h0m25-53h0m-43 55h0m43-42h0m16-24h0m-59 26h0m17 18h0m20-20h0m-12-16h0m35 1h0" stroke="#f8766d" stroke-width="12" stroke-linecap="round" opacity="0.6" fill="none"/>
<path transform="scale(.1)" d="M1584 168h0m-42 22h0m-5-15h0m10 13h0m-30 25h0m36-44h0m18 10h0m-55 22h0m-18 16h0m35 6h0m-7-2h0m21-5h0m12-13h0m-21-18h0m-42 30h0m33-33h0m17-16h0m38 16h0m-10 1h0m-30 6h0" stroke="#00bfc4" stroke-width="12" stroke-linecap="round" opacity="0.6" fill="none"/>
<path transform="scale(.1)" d="M1546 210h0m1-14h0m-24-8h0m61-25h0m-49 44h0m41-31h0m-11 1h0m-19 22h0m-32 20h0m1-32h0m-7 10h0m53-17h0m-68 36h0m62-24h0m-27 2h0m-9 33h0m27-10h0m3-34h0m-2-10h0m10 9h0" stroke="#8a9090" stroke-width="12" stroke-linecap="round" opacity="0.6" fill="none"/>
<path transform="scale(.1)" d="M1572 676h0m97-10h0m-89-5h0m-53-68h0m86 107h0m36-15h0m-118-59h0m171 53h0m-187-82h0m-11-9h0m97 70h0m76-2h0m-54-23h0m-151-26h0m85 51h0m-27-80h0m-48 18h0m80 74h0m86 4h0m-137-40h0m40-26h0m38 37h0m-32 36h0m-100-80h0m142 81h0m-58-89h0m118 116h0m-222-141h0m201 120h0m-97-64h0m-28-39h0m117 91h0m-155-41h0m201 51h0m-137-43h0m85 36h0m30 28h0m4 7h0m-98-48h0m60-4h0m-91-82h0m103 83h0m2 29h0m0 11h0m1-29h0m-65 3h0m125 12h0m-146-17h0m5 0h0m86-44h0m-115-35h0m35 81h0m7-11h0m52-16h0m-47 33h0m69-13h0m-43 0h0m12-34h0m-37 43h0m-90-98h0m27 8h0m71 14h0m-130 4h0m68 32h0m187 68h0m-107-38h0m-4 21h0m-154-98h0m29-11h0m54 6h0m-77 11h0m77 72h0m53-12h0m-55-48h0m45 41h0m-51 9h0m-41-30h0m193 87h0m-222-145h0m164 99h0m-94-95h0m1 86h0m121-25h0m-12 61h0m-53-52h0m-67-63h0m-69-1h0m112 16h0m135 121h0m-139-96h0m106 77h0m-140-51h0m17-35h0m78 78h0m66-10h0m-44-19h0m-42-41h0m-148-19h0m168 41h0m-26 12h0m-85-42h0m55 9h0m63 50h0m12 29h0m-102-112h0m159 75h0m-175-72h0m62 50h0m-14 10h0m127 47h0m-8-44h0m-153 1h0m43-52h0m72 37h0m-120-11h0m-4-44h0m65 91h0m-129-71h0m229 49h0m-171-7h0m38-9h0m134 29h0m-130-43h0m126 60h0m-135-27h0m34-23h0" stroke="#f8766d" stroke-width="12" stroke-linecap="round" opacity="0.6" fill="none"/>
<path transform="scale(.1)" d="M1533 600h0m4 66h0m90-26h0m-40-23h0m-18 60h0m6-83h0m85 116h0m-211-139h0m137 68h0m96 72h0m-78-100h0m-102-3h0m144 44h0m-22 7h0m-174-94h0m104 108h0m118-5h0m-96-69h0m19 29h0m-6 18h0m-130-48h0m139 46h0m-18-28h0m67 37h0m-16 43h0m-32-41h0m64 52h0m-37-56h0m-106-48h0m33-9h0m-66-25h0m136 90h0m-71 14h0m-24-61h0m36 53h0m-16-56h0m79 81h0m82-8h0m-101-7h0m-50-57h0m41 0h0m48 94h0m-212-145h0m176 124h0m-156-79h0m28 3h0m104-11h0m60 96h0m-124-68h0m153 79h0m-87-99h0m-21 29h0m-21-39h0m48 28h0m33 39h0m-52-74h0m-58 31h0m-59-31h0m49 48h0m-9-55h0m111 41h0m-134 1h0m45-28h0m69 62h0m93-8h0m-48-33h0m-173-56h0m-24 21h0m170 38h0m-34-10h0m-15-17h0m-22 55h0m48-3h0m109 18h0m-144-49h0m-96-17h0m49 25h0m78 46h0m25-26h0m30 4h0m-23 2h0m27 21h0m-10 16h0m-155-99h0m-27-14h0m93 83h0m114-3h0m-165-26h0m-9 9h0m104 17h0m20-20h0m48 74h0m-185-116h0m56-18h0m17 71h0m37-44h0m-31 6h0m70 22h0m-7 43h0m-1 23h0m20-66h0m36 21h0m16 23h0m-186-103h0m67 42h0m150 89h0m-218-95h0m111 81h0m25-20h0m-76-80h0m61 35h0m24 69h0m-92-41h0m68-20h0m55 28h0m-154-11h0m60-17h0m-8-33h0m-68 19h0m92 30h0m99 50h0m-213-124h0m98 79h0m-110-74h0m123 20h0m-53 60h0" stroke="#00bfc4" stroke-width="12" stroke-linecap="round" opacity="0.6" fill="none"/>
<path transform="scale(.1)" d="M1508 576h0m-10 37h0m-5-19h0m-7 48h0m98 17h0m-69-62h0m-45 17h0m117 74h0m-114-52h0m118 6h0m-97-16h0m130 4h0m60 51h0m-168-33h0m-14-22h0m-38 3h0m131 37h0m10 1h0m-124-50h0m108 75h0m-124-60h0m93 22h0m131 26h0m-126-14h0m95-1h0m-86-4h0m89 37h0m47 14h0m-120-17h0m-31-104h0m-64 5h0m193 116h0m-244-123h0m128 23h0m27 19h0m3 67h0m39-64h0m-49-27h0m40 79h0m-130-64h0m24 27h0m19-47h0m-76-6h0m214 98h0m-102-37h0m-49-65h0m26 10h0m8 63h0m53 28h0m55-1h0m-123-19h0m150 33h0m-43-42h0m17 10h0m-97-42h0m-95-34h0m85 57h0m69 17h0m-113-94h0m-15 46h0m-19-12h0m-2-15h0m172 67h0m-6-19h0m-65-31h0m-96-41h0m41 45h0m108 85h0m-73-35h0m32 31h0m34-40h0m17 38h0m-188-75h0m176 69h0m-121-46h0m103 9h0m60 30h0m-172-72h0m-1 23h0m50-39h0m34 33h0m25-12h0m-141 21h0m27-56h0m144 107h0m-147-61h0m126 31h0m-105 1h0m85-25h0m70 25h0m-216-52h0m180 71h0m-69-68h0m-56-3h0m131 95h0m-72-18h0m89-20h0m-34 32h0m-6-41h0m-86-60h0m-33 37h0m86 13h0m-3 18h0m18-8h0m50 27h0m48-3h0m-218-102h0m125 35h0m-68 9h0m133 33h0m-135 18h0m6-7h0m120 7h0m19 33h0m-119-106h0m62 65h0m-126-18h0m12-53h0m36 24h0m-28 23h0m-3-68h0m-10 65h0m134 39h0m-125-19h0m-80-66h0m65 47h0m165 51h0m-223-75h0" stroke="#8a9090" stroke-width="12" stroke-linecap="round" opacity="0.6" fill="none"/>
<path transform="scale(.1)" d="M1844 626h0m-107-7h0m-34 12h0m107-19h0m-87 47h0m7 0h0m-2 2h0m35-6h0m13-4h0m-29-19h0m48-20h0m8 23h0m38-11h0m-94 11h0m-54 27h0m16 1h0m58-11h0m-63 7h0m25-29h0m78 8h0m-79 25h0m-2-11h0m94-4h0m-48 9h0m58-22h0m-54 27h0" stroke="#f8766d" stroke-width="12" stroke-linecap="round" opacity="0.6" fill="none"/>
<path transform="scale(.1)" d="M1815 644h0m-91 21h0m67-17h0m-64 9h0m90-30h0m-98 34h0m11 4h0m4-29h0m10-11h0m81 14h0m-96-1h0m52-12h0m-88 35h0m79 1h0m-19-44h0m-1 36h0m73-8h0m-40-10h0m-5-9h0m-60 35h0m107-36h0m-55 6h0m18-15h0m-99 29h0m98-25h0m-27 2h0" stroke="#00bfc4" stroke-width="12" stroke-linecap="round" opacity="0.6" fill="none"/>
<path transform="scale(.1)" d="M1840 623h0m-55-1h0m-67 8h0m80-14h0m-60 7h0m55 22h0m-30 7h0m-18-33h0m41 8h0m-69 42h0m108-29h0m-13 11h0m-95-1h0m108-17h0m-65-14h0m1 30h0m-2 0h0m72-9h0m14-13h0m-141 21h0m29-11h0m85-16h0m-59 41h0m-37-12h0m24-19h0m21 17h0m-86 12h0m79-30h0" stroke="#8a9090" stroke-width="12" stroke-linecap="round" opacity="0.6" fill="none"/>
<path transform="scale(.1)" d="M1960 653h0m127-173h0m-78 83h0m-5-24h0m118-90h0m-75 119h0m13-100h0m-110 171h0m163-181h0m-134 189h0m76-89h0m30-99h0m-112 153h0m63-52h0m-24-37h0m-5 43h0m44-64h0m-51 87h0m6 14h0m70-136h0m-30 15h0m3 79h0m-10-27h0m-42 45h0m43 1h0m24-27h0m-65 67h0m-33-51h0m109-88h0m-104 108h0m22 11h0m70-123h0m-42 22h0m-73 105h0m161-139h0m-104 62h0m-4 53h0m93-137h0m-121 121h0m-1 7h0m7-9h0m115-42h0m15-79h0m-37 29h0m-112 111h0m60 13h0m-76 51h0m48-11h0m18-98h0m32-38h0m-20 103h0m42-131h0m-61 84h0m101-107h0m-70 135h0m62-124h0m-63 79h0m52 0h0m-37 47h0m-65-4h0m86-68h0m-75 42h0m19 34h0m-20-14h0m-55 65h0m67-53h0m75-145h0m-44 57h0m-12 106h0m-17-91h0m29 78h0m24-77h0m-93 92h0m96-46h0m-74-10h0m54-22h0m30-60h0m-49 139h0m-30 7h0m-52 9h0m112-98h0m-62 97h0m101-141h0m-71 129h0m25-118h0m-53 64h0m98-99h0m-24 75h0m-20 47h0m-51 52h0m75-156h0m-5 68h0m-29 17h0" stroke="#f8766d" stroke-width="12" stroke-linecap="round" opacity="0.6" fill="none"/>
<path transform="scale(.1)" d="M2058 496h0m52-8h0m-133 99h0m134-114h0m-30-17h0m6 17h0m-40 96h0m-79 48h0m136-155h0m-13 2h0m-8 27h0m24-4h0m-88 128h0m5-84h0m47-29h0m6-22h0m-1-9h0m-60 49h0m-27 90h0m-18 40h0m27-23h0m-37 6h0m-6-14h0m21-63h0m-2 83h0m33-29h0m-52 39h0m153-158h0m-106 67h0m101-105h0m-14-17h0m-56 166h0m48-139h0m4-16h0m-132 181h0m118-181h0m-47 121h0m-84 68h0m105-96h0m-44-18h0m107-46h0m-130 171h0m64-159h0m13 71h0m39-117h0m14 22h0m-138 103h0m74-58h0m17-21h0m-32 69h0m68-125h0m-35 24h0m12 96h0m-101 52h0m37-51h0m22-67h0m30-31h0m-47 109h0m-4 59h0m20-34h0m31-24h0m9-34h0m-63 30h0m75-72h0m-17 31h0m20-49h0m-100 118h0m47-48h0m-47 21h0m-16 20h0m86-100h0m-108 130h0m69-79h0m38-58h0m-23 101h0m9-34h0m-46 68h0m-48 45h0m173-204h0m-130 134h0m-21 55h0m54-52h0m9-14h0m-81 36h0m118-79h0m-55-9h0m-9 62h0m4-29h0m80-72h0m4 31h0m-136 89h0m158-152h0m-164 196h0" stroke="#00bfc4" stroke-width="12" stroke-linecap="round" opacity="0.6" fill="none"/>
<path transform="scale(.1)" d="M2089 489h0m-36-9h0m-3 93h0m-41 17h0m91-95h0m-156 121h0m119-123h0m-92 132h0m67-32h0m14-69h0m-88 117h0m11-65h0m67-44h0m11 8h0m34-22h0m-6-2h0m-97 121h0m-37 3h0m48-101h0m81 8h0m1-61h0m28-33h0m-7 45h0m-92 34h0m-61 113h0m115-104h0m16 9h0m-89 9h0m65 0h0m36-71h0m-52 32h0m-76 83h0m7-36h0m96-58h0m-76 83h0m-25 55h0m154-170h0m-4-38h0m-99 138h0m-69 77h0m139-174h0m-132 128h0m33 34h0m72-177h0m-80 137h0m48 0h0m-30-66h0m-8 75h0m-22-34h0m21-7h0m7-17h0m41 46h0m2-118h0m-11 127h0m-50-46h0m30 35h0m-24-48h0m126-65h0m-92 133h0m-48 7h0m55-51h0m71-125h0m-128 127h0m28 50h0m41-46h0m-76 4h0m155-121h0m-67 125h0m-6-38h0m52-29h0m-82 52h0m-35 58h0m120-183h0m14 43h0m-57-21h0m-8 117h0m-26-60h0m77-93h0m-112 213h0m-14-6h0m57-126h0m-52 92h0m121-88h0m-52-42h0m-52 110h0m44-70h0m-71 66h0m59-16h0m40-51h0m-36 27h0m-35 47h0m-15 25h0m97-152h0m-73 96h0" stroke="#8a9090" stroke-width="12" stroke-linecap="round" opacity="0.6" fill="none"/>
<path transform="scale(.1)" d="M2235 428h0" stroke="#f8766d" stroke-width="14" stroke-linecap="round" opacity="0.9" fill="none"/>
<path transform="scale(.1)" d="M2235 454h0" stroke="#00bfc4" stroke-width="14" stroke-linecap="round" opacity="0.9" fill="none"/>
<text x="225.5" y="43.6" font-size="2.2" text-anchor="start" fill="#333" font-weight="normal" font-style="normal" stroke="#333" stroke-width="0.06">NC</text>
<text x="225.5" y="46.2" font-size="2.2" text-anchor="start" fill="#333" font-weight="normal" font-style="normal" stroke="#333" stroke-width="0.06">SAE</text>
<text x="231.5" y="8.2" font-size="5.4" text-anchor="start" fill="#111" font-weight="bold" font-style="normal" stroke="#111" stroke-width="0.2">C</text>
<text x="239.4" y="43.2" font-size="4.4" text-anchor="middle" fill="#222" font-weight="normal" font-style="normal" transform="rotate(-90 239.4 43.2)" textLength="35" lengthAdjust="spacingAndGlyphs" stroke="#222" stroke-width="0.05">Cell percent ratio</text>
<text x="248.5" y="13.35" font-size="3.1" text-anchor="end" fill="#333" font-weight="normal" font-style="normal" stroke="#333" stroke-width="0.06">100%</text>
<line x1="248" y1="12.25" x2="250.5" y2="12.25" stroke="#8c8c8c" stroke-width="0.3"/>
<text x="248.5" y="28.6" font-size="3.1" text-anchor="end" fill="#333" font-weight="normal" font-style="normal" stroke="#333" stroke-width="0.06">75%</text>
<line x1="248" y1="27.5" x2="250.5" y2="27.5" stroke="#8c8c8c" stroke-width="0.3"/>
<text x="248.5" y="44.1" font-size="3.1" text-anchor="end" fill="#333" font-weight="normal" font-style="normal" stroke="#333" stroke-width="0.06">50%</text>
<line x1="248" y1="43" x2="250.5" y2="43" stroke="#8c8c8c" stroke-width="0.3"/>
<text x="248.5" y="59.6" font-size="3.1" text-anchor="end" fill="#333" font-weight="normal" font-style="normal" stroke="#333" stroke-width="0.06">25%</text>
<line x1="248" y1="58.5" x2="250.5" y2="58.5" stroke="#8c8c8c" stroke-width="0.3"/>
<text x="248.5" y="74.3" font-size="3.1" text-anchor="end" fill="#333" font-weight="normal" font-style="normal" stroke="#333" stroke-width="0.06">0%</text>
<line x1="248" y1="73.2" x2="250.5" y2="73.2" stroke="#8c8c8c" stroke-width="0.3"/>
<rect x="293.6" y="12.25" width="19.5" height="60.95" fill="#f2c6d6"/>
<path d="M295.6 12.25 L311.1 12.25 L311.1 15.3 L295.6 23.6 Z" fill="#f7c8d8"/>
<path d="M295.6 23.6 L311.1 15.3 L311.1 22.6 L295.6 29 Z" fill="#f8f0c0"/>
<path d="M295.6 29 L311.1 22.6 L311.1 40 L295.6 40.3 Z" fill="#dcf0ec"/>
<path d="M295.6 40.3 L311.1 40 L311.1 61 L295.6 62.8 Z" fill="#d0eef6"/>
<path d="M295.6 62.8 L311.1 61 L311.1 65.6 L295.6 71.7 Z" fill="#d8d0ec"/>
<path d="M295.6 71.7 L311.1 65.6 L311.1 73.2 L295.6 73.2 Z" fill="#f4c8e4"/>
<rect x="250.5" y="12.25" width="43.1" height="11.35" fill="#e8242b"/>
<rect x="250.5" y="23.6" width="43.1" height="1.6" fill="#f57f20"/>
<rect x="250.5" y="25.2" width="43.1" height="3.3" fill="#f5c02a"/>
<rect x="250.5" y="28.5" width="43.1" height="11.8" fill="#6cbb45"/>
<rect x="250.5" y="40.3" width="43.1" height="23.9" fill="#6cc4e2"/>
<rect x="250.5" y="64.2" width="43.1" height="7.5" fill="#4747a0"/>
<rect x="250.5" y="71.7" width="43.1" height="1.5" fill="#b0409c"/>
<rect x="313.1" y="12.25" width="43.4" height="1.55" fill="#e8242b"/>
<rect x="313.1" y="13.8" width="43.4" height="2" fill="#f57f20"/>
<rect x="313.1" y="15.8" width="43.4" height="3.9" fill="#f5e11c"/>
<rect x="313.1" y="19.7" width="43.4" height="2.9" fill="#a8d03a"/>
<rect x="313.1" y="22.6" width="43.4" height="3" fill="#6cbb45"/>
<rect x="313.1" y="25.6" width="43.4" height="15.7" fill="#5cb58e"/>
<rect x="313.1" y="41.3" width="43.4" height="19.6" fill="#6cc4e2"/>
<rect x="313.1" y="60.9" width="43.4" height="3.9" fill="#3f4aa0"/>
<rect x="313.1" y="64.8" width="43.4" height="8.4" fill="#e0318d"/>
<text x="272.4" y="77.6" font-size="3.2" text-anchor="middle" fill="#222" font-weight="normal" font-style="normal" stroke="#222" stroke-width="0.06">NC</text>
<text x="332.3" y="77.6" font-size="3.2" text-anchor="middle" fill="#222" font-weight="normal" font-style="normal" stroke="#222" stroke-width="0.06">SAE</text>
<rect x="361" y="10.6" width="4" height="3.8" fill="#e41a1c"/>
<text x="367" y="13.6" font-size="3.3" text-anchor="start" fill="#333" font-weight="normal" font-style="normal" stroke="#333" stroke-width="0.06">B Cells</text>
<rect x="361" y="15.04" width="4" height="3.8" fill="#f57f20"/>
<text x="367" y="18.04" font-size="3.3" text-anchor="start" fill="#333" font-weight="normal" font-style="normal" stroke="#333" stroke-width="0.06">Choroid Plexus Cells</text>
<rect x="361" y="19.48" width="4" height="3.8" fill="#f9b016"/>
<text x="367" y="22.48" font-size="3.3" text-anchor="start" fill="#333" font-weight="normal" font-style="normal" stroke="#333" stroke-width="0.06">DCs 1</text>
<rect x="361" y="23.92" width="4" height="3.8" fill="#f4e31b"/>
<text x="367" y="26.92" font-size="3.3" text-anchor="start" fill="#333" font-weight="normal" font-style="normal" stroke="#333" stroke-width="0.06">DCs 2</text>
<rect x="361" y="28.36" width="4" height="3.8" fill="#c4d82e"/>
<text x="367" y="31.36" font-size="3.3" text-anchor="start" fill="#333" font-weight="normal" font-style="normal" stroke="#333" stroke-width="0.06">Endothelial Cells</text>
<rect x="361" y="32.8" width="4" height="3.8" fill="#8cc63f"/>
<text x="367" y="35.8" font-size="3.3" text-anchor="start" fill="#333" font-weight="normal" font-style="normal" stroke="#333" stroke-width="0.06">Ependymal Cells</text>
<rect x="361" y="37.24" width="4" height="3.8" fill="#6cbd45"/>
<text x="367" y="40.24" font-size="3.3" text-anchor="start" fill="#333" font-weight="normal" font-style="normal" stroke="#333" stroke-width="0.06">Fibroblasts</text>
<rect x="361" y="41.68" width="4" height="3.8" fill="#5cb88f"/>
<text x="367" y="44.68" font-size="3.3" text-anchor="start" fill="#333" font-weight="normal" font-style="normal" stroke="#333" stroke-width="0.06">Macrophages</text>
<rect x="361" y="46.12" width="4" height="3.8" fill="#64c6c6"/>
<text x="367" y="49.12" font-size="3.3" text-anchor="start" fill="#333" font-weight="normal" font-style="normal" stroke="#333" stroke-width="0.06">Microglia</text>
<rect x="361" y="50.56" width="4" height="3.8" fill="#6cc4e8"/>
<text x="367" y="53.56" font-size="3.3" text-anchor="start" fill="#333" font-weight="normal" font-style="normal" stroke="#333" stroke-width="0.06">Neuroblasts</text>
<rect x="361" y="55" width="4" height="3.8" fill="#3d7cc0"/>
<text x="367" y="58" font-size="3.3" text-anchor="start" fill="#333" font-weight="normal" font-style="normal" stroke="#333" stroke-width="0.06">Neurons</text>
<rect x="361" y="59.44" width="4" height="3.8" fill="#2f4f9e"/>
<text x="367" y="62.44" font-size="3.3" text-anchor="start" fill="#333" font-weight="normal" font-style="normal" stroke="#333" stroke-width="0.06">Neutrophils</text>
<rect x="361" y="63.88" width="4" height="3.8" fill="#5b3f99"/>
<text x="367" y="66.88" font-size="3.3" text-anchor="start" fill="#333" font-weight="normal" font-style="normal" stroke="#333" stroke-width="0.06">Oligodendrocytes</text>
<rect x="361" y="68.32" width="4" height="3.8" fill="#7b3fa0"/>
<text x="367" y="71.32" font-size="3.3" text-anchor="start" fill="#333" font-weight="normal" font-style="normal" stroke="#333" stroke-width="0.06">pDCs</text>
<rect x="361" y="72.76" width="4" height="3.8" fill="#a6429f"/>
<text x="367" y="75.76" font-size="3.3" text-anchor="start" fill="#333" font-weight="normal" font-style="normal" stroke="#333" stroke-width="0.06">Pericytes</text>
<rect x="361" y="77.2" width="4" height="3.8" fill="#e0318d"/>
<text x="367" y="80.2" font-size="3.3" text-anchor="start" fill="#333" font-weight="normal" font-style="normal" stroke="#333" stroke-width="0.06">T Cells</text>
<rect x="361" y="81.64" width="4" height="3.8" fill="#e8316b"/>
<text x="367" y="84.64" font-size="3.3" text-anchor="start" fill="#333" font-weight="normal" font-style="normal" stroke="#333" stroke-width="0.06">Unknown</text>
<text x="4.5" y="98.6" font-size="5.4" text-anchor="start" fill="#111" font-weight="bold" font-style="normal" stroke="#111" stroke-width="0.2">D</text>
<line x1="16.65" y1="99" x2="16.65" y2="173.5" stroke="#777" stroke-width="0.7"/>
<line x1="15.9" y1="109.4" x2="16.9" y2="109.4" stroke="#8c8c8c" stroke-width="0.3"/>
<text x="14.8" y="110.4" font-size="2.9" text-anchor="end" fill="#444" font-weight="normal" font-style="normal" stroke="#444" stroke-width="0.06">2</text>
<line x1="15.9" y1="123.6" x2="16.9" y2="123.6" stroke="#8c8c8c" stroke-width="0.3"/>
<text x="14.8" y="124.6" font-size="2.9" text-anchor="end" fill="#444" font-weight="normal" font-style="normal" stroke="#444" stroke-width="0.06">1</text>
<line x1="15.9" y1="137.6" x2="16.9" y2="137.6" stroke="#8c8c8c" stroke-width="0.3"/>
<text x="14.8" y="138.6" font-size="2.9" text-anchor="end" fill="#444" font-weight="normal" font-style="normal" stroke="#444" stroke-width="0.06">0</text>
<line x1="15.9" y1="151.1" x2="16.9" y2="151.1" stroke="#8c8c8c" stroke-width="0.3"/>
<text x="14.8" y="152.1" font-size="2.9" text-anchor="end" fill="#444" font-weight="normal" font-style="normal" stroke="#444" stroke-width="0.06">-1</text>
<line x1="15.9" y1="165.1" x2="16.9" y2="165.1" stroke="#8c8c8c" stroke-width="0.3"/>
<text x="14.8" y="166.1" font-size="2.9" text-anchor="end" fill="#444" font-weight="normal" font-style="normal" stroke="#444" stroke-width="0.06">-2</text>
<text x="8.3" y="138" font-size="4.3" text-anchor="middle" fill="#333" font-weight="normal" font-style="normal" transform="rotate(-90 8.3 138)" textLength="49" lengthAdjust="spacingAndGlyphs" stroke="#333" stroke-width="0.03">Average log2FoldChange</text>
<path transform="scale(.1)" d="M229 1006h0" stroke="#178a9e" stroke-width="38" stroke-linecap="round" opacity="1" fill="none"/>
<path transform="scale(.1)" d="M229 1066h0" stroke="#a8202a" stroke-width="38" stroke-linecap="round" opacity="1" fill="none"/>
<text x="27.4" y="101.9" font-size="3.3" text-anchor="start" fill="#222" font-weight="normal" font-style="normal" textLength="12.7" lengthAdjust="spacingAndGlyphs" stroke="#222" stroke-width="0.1">sigDown</text>
<text x="27.4" y="107.9" font-size="3.3" text-anchor="start" fill="#222" font-weight="normal" font-style="normal" textLength="8.6" lengthAdjust="spacingAndGlyphs" stroke="#222" stroke-width="0.1">sigUp</text>
<rect x="30.3" y="114.5" width="73.7" height="58.3" fill="#f2f2f2"/>
<rect x="113" y="101.7" width="75.8" height="66.6" fill="#f0f0f0"/>
<path transform="scale(.1)" d="M904 1311h0m27 21h0m-355-10h0m339 8h0m-34-24h0m-92 29h0m-8-52h0m-357 0h0m-30 60h0m230-9h0m140-3h0m-146-50h0m138 46h0m-385-12h0m204-41h0m203 56h0m-226 2h0m377-12h0m-97-75h0m-474-3h0m184 85h0m224-92h0m154 100h0m-545-12h0m466-52h0m-298 21h0m301 47h0m-309-127h0m67 3h0m65 90h0m273 29h0m-575-48h0m25 53h0m91-1h0m47-21h0m300-8h0m-408 13h0m311-61h0m196 82h0m-251-5h0m-302-14h0m77-6h0m496-53h0m-444 38h0m203 34h0m-279 0h0m-17-41h0m286 15h0m167 25h0m-204-9h0m269-1h0m-471-14h0m484-101h0m-287 105h0m-313 24h0m514-62h0m-483 56h0m452-20h0m62 28h0m-526-130h0m436 118h0m180-88h0m-224 74h0m-200 22h0m176-16h0m149 15h0m-1-69h0m-88 6h0m164 38h0m-534 4h0m-17 19h0m243-39h0m172 37h0m191 3h0m-605-40h0m349-2h0m-188 20h0m-173-21h0m279 13h0m11-2h0m-215-28h0m-54 58h0m-49-26h0m212 19h0m345-61h0m-531 70h0m191-4h0m14-32h0m55 24h0m-194 15h0m363-12h0m73-33h0m-218 12h0m-327 22h0m72-60h0m-69 42h0m368-15h0m39-24h0m-339 62h0m296-120h0m-301 47h0m399 71h0m-442 5h0m633-11h0m-651-14h0m578-47h0m-20 62h0m-288-24h0m-32 39h0m63-112h0m-15 99h0m113-13h0m-197 15h0m305-43h0m-472 42h0m198 14h0m144-15h0m-112 6h0m-172-15h0m340 2h0m170 15h0m-508-18h0m10-11h0m-45 25h0m53 7h0m-94-14h0m408-11h0m-219 24h0m100-50h0m-131 17h0m258 36h0m-100-16h0m287-27h0m-303 15h0m-222 26h0m420-26h0m-13-32h0m-462 57h0m79-23h0m-95 4h0m639 3h0m-16-74h0m-65 79h0m-5 2h0m-334-27h0m6 39h0m-140-87h0m42 59h0m65-7h0m170 28h0m-176-4h0m-18 6h0m222-5h0m-391-68h0m293 29h0m339 49h0m-592-10h0m176 8h0m103-20h0m-193 2h0m3-26h0m290 18h0m-354 29h0m79-5h0m475-9h0m-449 14h0m-65-10h0m101-30h0m179 1h0m205-48h0m-181 67h0m1 11h0m-443-12h0m671-1h0m-43 9h0m-36 9h0m-248-19h0m-161 20h0m184-37h0m291 22h0m-567-19h0m-64 32h0m493-5h0m-122-5h0m249-29h0m-512 15h0m114 19h0m344 2h0m-595-18h0m571-34h0m-37 56h0m-125-54h0m-327 35h0m-77-44h0m296 66h0m263-10h0m-360-44h0m163 54h0m302-17h0m-251-23h0m193-80h0m-323 108h0m221-33h0m98-12h0m-60 34h0m-478 10h0m-62-21h0m430 16h0m-38 10h0m-188-22h0m293 27h0m122-6h0m-398-47h0m269-17h0m166 22h0m-384-21h0m394 71h0m-528-26h0m362-1h0m-76-11h0m-115 13h0m360 18h0m-66-41h0m-411 44h0m186 4h0m-21-119h0m-279 118h0m68-9h0m246 0h0m-102-24h0m354 14h0m-126 19h0m-370 0h0m-12-11h0m346-58h0m-208 73h0m-147-86h0m79 55h0m-151 1h0m5-10h0m339 39h0m-241-3h0m-99-32h0m351 17h0m-376-18h0m585 18h0m-375 14h0m195-2h0m-186 3h0m254-6h0m-322-32h0m-143 24h0m56-66h0m569 80h0m-508-1h0m314-14h0m-396 7h0m321-15h0m-16-31h0m-136 58h0m289-5h0m-454-71h0m389 43h0m-108-5h0m-154 15h0m-43 16h0m355 4h0m91-20h0m-150 9h0m118-32h0m-503 16h0m476 4h0m3-37h0m-257 44h0m-148 13h0m38-36h0m353 25h0m-387-34h0m404 50h0m35-29h0m65 2h0m-478 19h0m-186-3h0m368-63h0m-325 68h0m-13-27h0m553 1h0m-332 26h0m346-98h0m-77 48h0m51 56h0m43-35h0m-527 18h0m95-52h0m422 54h0m-420 3h0m362-2h0m-27-16h0m-118 9h0m165-7h0m-216 19h0m-328-33h0m111 33h0m123 7h0m69-84h0m63 49h0m186-50h0m-535 87h0m334 0h0m-46-11h0m-47-2h0m119-12h0m-64 24h0m37-42h0m-365-37h0m362 72h0m-51-17h0m-307-24h0m628 33h0m-25-31h0m-511 36h0m-79 0h0m416-42h0m5 17h0m-77 36h0m156-43h0m-309-75h0m-107 72h0m252 11h0m107-13h0m-127 42h0m289-65h0m-457 7h0m483 21h0m-256-52h0m274 72h0m-616-5h0m565-38h0m-421-3h0m-203 40h0m664 7h0m-269-24h0m33 34h0m129-18h0m-536 15h0m198-21h0m-129 19h0m-16 16h0m-76-14h0m236-11h0m-201-44h0m268 26h0m-283 40h0m637-14h0m-552-32h0m261 29h0m264-34h0m-41 30h0m-288-6h0m115 27h0m-124-31h0m-114-5h0m236-47h0m48 77h0m-198-44h0m252-74h0m-57 114h0m-70-51h0m-57 35h0m-85 7h0m314 2h0m-179-14h0m20 23h0m-383-12h0m159-39h0m405 2h0m-141 28h0m-225-71h0m440 97h0m-613-97h0m522 97h0m-28-81h0m-388 59h0m467 24h0m-260-12h0m107 8h0m-411-11h0m67-51h0m180 45h0m327-7h0m-100 11h0m-41 13h0m27-13h0m-456-19h0m180-24h0m237 62h0m-314-44h0m280-54h0m165 7h0m-234 1h0m-354-61h0m440 127h0m74 12h0m-438-24h0m-40-3h0m432 34h0m-4 4h0m56 3h0m-524-4h0m275-39h0m-286-42h0m314 87h0m336-31h0m-431-109h0m187 114h0m88 7h0m-423 15h0m229-3h0m-101-26h0m335-63h0m-512-20h0m500 83h0m-214 30h0m58-9h0m61-36h0m-389 35h0m-3-10h0m-6-32h0m49 47h0m294-3h0m116 4h0m72-86h0m-393 57h0m318 34h0m185-1h0m-181-62h0m-397 65h0m356-12h0m-88 8h0m-100-1h0m272-10h0m23-6h0m-450 17h0m182-38h0m-278 35h0m406-3h0m-146-13h0m95 22h0m-311-101h0m232 67h0m148-18h0m135 52h0m99-133h0m-659 78h0m385 51h0m23-25h0m-269 6h0m445-8h0m-332 29h0m335-62h0m-418 53h0m334-30h0m-428 30h0m540 6h0m-617-8h0m185-46h0m172 5h0m19 15h0m-20 9h0m-235 20h0m203-97h0m162 105h0m-9-4h0m116-29h0m-53 22h0m38-23h0m-46-26h0m-9-36h0m-39 51h0m-238 46h0m-241-71h0m549 63h0m-35-11h0m-146-26h0m-134 43h0m48-11h0m35-103h0m-241 37h0m-11 66h0m171 6h0m-117 2h0m453 1h0m55-12h0m-196-13h0m-395 21h0m505-48h0m-85 57h0m-326-79h0m526 43h0m-53-36h0m-149 67h0m-422-11h0m31-35h0m28-20h0m382 18h0m-210 47h0m-236-37h0m492 18h0m86-39h0m-211 45h0m-155-20h0m-93-21h0m204 22h0m-27 33h0m-122-16h0m224-17h0m-324 23h0m433-62h0m-384 58h0m253-8h0m200 11h0m-330-123h0m-127 134h0m268 1h0m237-53h0m-395 18h0m260-20h0m52 53h0m-185-12h0m-336-65h0m392 37h0m210 14h0m-8 24h0m-142 7h0m-448-2h0m497-67h0m-558 63h0m259-14h0m-261 17h0m221-80h0m86 34h0m184 41h0m-70 8h0m-171-44h0m328 16h0m-562 29h0m153-13h0m330-10h0m-258 15h0m247 4h0m-48-33h0m-416 16h0m64-31h0m578 46h0m-427-10h0m76-32h0m-254 39h0m138-21h0m231 0h0m-126-67h0m206 12h0m-466 80h0m543-33h0m-473 24h0m77 6h0m-44-4h0m308-10h0m-395 18h0m259 2h0m-123-15h0m161-34h0m-209 35h0m117-82h0m391-16h0m-139 81h0m28 1h0m-445 17h0m358-74h0m5 82h0m-261-31h0m120-1h0m336 4h0m-636 15h0m537-118h0m-507 103h0m225-27h0m-5-60h0m223 76h0m93 15h0m-394-71h0m207 40h0m-31 28h0m-362 9h0m467-67h0m-240-19h0m-217 112h0m150-29h0m16-102h0m71 7h0m-12 114h0m-163-10h0m142 1h0m393-2h0m13-49h0m-102 32h0m-222 0h0m-71-52h0m143 56h0m50-29h0m-381 21h0m471-52h0m-323 61h0m327 15h0m-277 6h0m0-17h0m50-17h0m172 18h0m29 10h0m-238-1h0m56-14h0m-309-24h0m128 56h0m526-31h0m-657 31h0m568-20h0m-476-22h0m353 21h0m139-33h0m-127 43h0m-310-39h0m-53 11h0m172-13h0m271-13h0m-166 49h0m71 1h0m-316-46h0m243 24h0m181-110h0m-124 70h0m-52-10h0m267 84h0m-88-51h0m-177 48h0m179 5h0m-115-13h0m-205 12h0m22-5h0m101-27h0m-13 31h0m-47 3h0m90-9h0m48-7h0m-173-29h0m194 26h0m-18-58h0m197 71h0m-530-120h0m139 55h0m96 17h0m72 1h0m26 31h0m-90-14h0m74 29h0m-388-32h0m416-40h0m0 29h0m51-4h0m-351 25h0m502 4h0m-291 25h0m-263-9h0m171 10h0m-27-45h0m44 4h0m75 11h0m123 4h0m-197-30h0m267-1h0m82 39h0m-284-97h0m19 112h0m-15-2h0m-90-22h0m275-51h0m-402 48h0m296 0h0m148-6h0m-492 28h0m573-45h0m-321 48h0m75-8h0m178-8h0m-126-68h0m-189 61h0m-174 24h0m314-11h0m-403-39h0m458 26h0m-12-30h0m-448 25h0" stroke="#d02a26" stroke-width="8.4" stroke-linecap="round" opacity="0.9" fill="none"/>
<path transform="scale(.1)" d="M1015 1493h0m-519-41h0m377 140h0m-521-147h0m608 7h0m-358 9h0m-75-13h0m333 86h0m-202-120h0m51-2h0m-45 10h0m-235 19h0m549 132h0m6-94h0m-390-31h0m-202 19h0m231-43h0m-80 88h0m307-82h0m-99 41h0m-285-44h0m246 20h0m-122-29h0m-236 2h0m406 125h0m128-59h0m-412-7h0m-80-47h0m571 37h0m-301 60h0m232-92h0m-176 73h0m-290-47h0m26 23h0m107-59h0m240 33h0m116 33h0m-36 0h0m-153-69h0m11 80h0m85-47h0m-64-14h0m-67 168h0m-41-139h0m302-35h0m-188 7h0m102 35h0m-157-66h0m-361 13h0m650-10h0m-136 22h0m-104 38h0m23-31h0m-80-25h0m-9 30h0m-14-37h0m-335 20h0m71 3h0m261 22h0m-324-19h0m442-28h0m-222 67h0m-42 134h0m-103-146h0m397-12h0m-310-25h0m388 5h0m-390 35h0m-107 0h0m228 19h0m-127-55h0m-71-11h0m387-6h0m-299-5h0m467 82h0m-286-70h0m-260 5h0m-5-4h0m423 142h0m-381 16h0m-90 16h0m76-146h0m232 38h0m23-36h0m61 52h0m-438-30h0m577-52h0m-205-3h0m-239 111h0m32-23h0m275-64h0m127-31h0m-565 13h0m613 39h0m-330-12h0m-252-34h0m407-8h0m194 17h0m-154 18h0m25 12h0m125-46h0m-241 41h0m104 93h0m-33-137h0m-472 16h0m627-6h0m-451 24h0m384 10h0m91-40h0m-564 8h0m515-8h0m-163 145h0m-371-117h0m42 11h0m336 27h0m-191-26h0m206-43h0m169 14h0m-269 35h0m-283 87h0m528-88h0m-493-11h0m-86 10h0m464 9h0m-493-53h0m481-2h0m179 16h0m-7-12h0m-612 5h0m401 195h0m-319-110h0m65-82h0m364-11h0m-345 21h0m399 89h0m-226-106h0m97 42h0m-266 17h0m448-48h0m-623-4h0m503 21h0m-210-19h0m-219 6h0m136 12h0m-187 127h0m197-37h0m-109-113h0m-115 0h0m115-5h0m272 127h0m0-84h0m-240-13h0m241-32h0m258-1h0m-656 126h0m41-60h0m205-69h0m-180 107h0m117-75h0m8 7h0m409-32h0m-92 24h0m-215 96h0m-39-59h0m-169-39h0m379 18h0m-394-34h0m229-3h0m-35-7h0m-246 9h0m24 37h0m381-29h0m-126 4h0m67 15h0m-127 2h0m121 33h0m-352 77h0m125-128h0m-109-14h0m281 35h0m200 8h0m-357 5h0m83-24h0m267-6h0m-403 71h0m389-98h0m-456 9h0m424-3h0m64 46h0m-155-34h0m104 8h0m-6-25h0m-6 63h0m94-40h0m-544 92h0m90-76h0m125-23h0m277 51h0m65-63h0m-93 9h0m-413-14h0m198 52h0m407-14h0m-544 83h0m251-99h0m-346 13h0m148 17h0m-80 9h0m465-47h0m-78 33h0m85-22h0m-6 57h0m-447-72h0m128 64h0m-3-69h0m353 50h0m2 51h0m-15-78h0m-472 124h0m420-36h0m71-107h0m-277 45h0m4-32h0m89 7h0m163 59h0m-215-80h0m21 1h0m-364 1h0m632-10h0m-114 0h0m17 33h0m-190 32h0m26-42h0m-248-6h0m15 121h0m452-118h0m-412-7h0m329 9h0m-37 94h0m-151 54h0m-179-78h0m67-89h0m43 110h0m-145-97h0m-65 26h0m575 86h0m-390-75h0m74-46h0m298 6h0m-460 4h0m-100 100h0m263-85h0m77-8h0m204 63h0m-75-70h0m16 5h0m-336 18h0m-37 1h0m294 15h0m-417 13h0m-51 0h0m607-1h0m-380 4h0m194-40h0m-57 103h0m-263-133h0m208 32h0m223 84h0m-464-116h0m329 83h0m-355-68h0m495-6h0m-532 52h0m285-37h0m-234 28h0m560-42h0m-181 43h0m-272-51h0m36 1h0m92 1h0m-6 8h0m-180 85h0m522-91h0m-560-1h0m-72 0h0m56 4h0m220 20h0m277 83h0m-487-55h0m383 107h0m63-144h0m143-17h0m-436 91h0m66 22h0m142-114h0m195 76h0m-282-65h0m299-2h0m-624-5h0m265 2h0m346 3h0m-468 10h0m501 51h0m-145-63h0m58-5h0m-133 159h0m-430-155h0m99 16h0m456-14h0m-5 74h0m-88 124h0m-428-162h0m-27 28h0m585 10h0m-208-50h0m240 39h0m-267-37h0m-292-16h0m464-4h0m68 41h0m-539-55h0m4 140h0m346-57h0m249-10h0m-157-45h0m-195 21h0m-66-10h0m-55 10h0m-38 31h0m477-53h0m-239 0h0m-108-9h0m185 33h0m-288-13h0m73 27h0m60-32h0m167 62h0m-189-21h0m18-74h0m347 62h0m-588-34h0m400-9h0m-135 26h0m-93-36h0m279 5h0m-478-16h0m337 8h0m-297-7h0m18 39h0m11 85h0m46-50h0m61-27h0m63-50h0m55 115h0m13-112h0m-36 119h0m208-82h0m-311-39h0m-4 16h0m321 27h0m4 0h0m74-19h0m-307-16h0m-296 37h0m296-4h0m-223 101h0m243-135h0m90 68h0m258 7h0m-538 84h0m19-82h0m-13-23h0m385-41h0m69 7h0m-163 93h0m178-87h0m-130 27h0m-23-42h0m57-10h0m-174 57h0m-303-62h0m273 72h0m-2-36h0m202-38h0m-82 47h0m184-44h0m-357 33h0m110 25h0m230 17h0m-337-69h0m-29 112h0m414-107h0m-361 25h0m61 5h0m-136-33h0m-88 18h0m262-11h0m-97 16h0m-231-17h0m602 47h0m-50 15h0m-392-78h0m-138 9h0m-34 4h0m367 63h0m-237-44h0m-147-35h0m305 147h0m-8-99h0m162-11h0m-194 57h0m87-94h0m-202 25h0m344 49h0m-117-66h0m141 36h0m34 22h0m-45-54h0m-249 79h0m123-85h0m75 27h0m-381 48h0m-2-28h0m362-49h0m32 107h0m-388 50h0m225-159h0m-137 18h0m13 3h0m75 5h0m-171 12h0m367-31h0m-99 52h0m-317-36h0m-52-19h0m648 37h0m-94-39h0m-36 16h0m-174 48h0m-89-51h0m-60 5h0m477-10h0m-606 69h0m479-66h0m57 42h0m73 31h0m-524-57h0m58-2h0m454-24h0m-251 62h0m-291-32h0m486 4h0m-431 22h0m236-53h0m215 81h0m-458-81h0m308 27h0m138-29h0m-612 25h0m519 30h0m-334-30h0m154 17h0m317 113h0m-567-45h0m459 99h0m2-202h0m-93-12h0m213 157h0m-106-144h0m-64 12h0m-9 11h0m-476-36h0m138 6h0m441-5h0m-47 8h0m-451 47h0m151 47h0m198-65h0m183-22h0m-515 4h0m54 77h0m135-82h0m309 69h0m-462-57h0m61 48h0m-193-67h0m334 47h0m-313 12h0m495 67h0m-260-12h0m-32-86h0m179 18h0m159-51h0m-200 51h0m-11 24h0m-223-19h0m268-44h0m40 34h0m-204-31h0m-196 9h0m290-9h0m213-18h0m-341 42h0m354-41h0m53 92h0m-95-88h0m-212 6h0m-28 66h0m321-59h0m-375-5h0m-162 9h0m150 48h0m-149 12h0m365-73h0m-212 7h0m-76 151h0m70-135h0m112 30h0m-240 21h0m524-71h0m-552 128h0m499-104h0m-237-18h0m-144 55h0m91 1h0m145 40h0m26-104h0m-323 153h0m230-157h0m-49 90h0m-265-30h0m532-12h0m-84 30h0m-348-73h0m389 12h0m-493-17h0m213 63h0m382 117h0m-362-180h0m-146 141h0m362-117h0m65-15h0m35 21h0m-448 37h0m133-59h0m43 48h0m139-42h0m-331 35h0m273-48h0m258 30h0m-586 136h0m9-174h0m2 1h0m490 20h0m-209 17h0m79-33h0m111 90h0m-322-73h0m105-7h0m329 3h0m-207 23h0m-179 25h0m-61-28h0m200 44h0m-119-23h0m201 15h0m-405-43h0m174-28h0m25 3h0m153 118h0m-88-50h0m-338 112h0m225-141h0m37 113h0m7-64h0m-138-84h0m107 8h0m-93 21h0m64 14h0m192-1h0m168-11h0m-5 0h0m-350-12h0m-9-7h0m174 49h0m-169-41h0m-50 52h0m-176-64h0m219-14h0m68 3h0m-108 26h0m244 6h0m195 54h0m-581-64h0m424 25h0m-367-29h0m480 9h0m-491-25h0m82 43h0m335-18h0m-249-14h0m107 8h0m-137-26h0m361 3h0m-45 42h0m-500-13h0m561 38h0m-512 127h0m366-197h0m-222 46h0m-197 10h0m629-34h0m-367 27h0m7 40h0m152-87h0m-283 14h0m24 17h0m467-15h0m-158-18h0m-28 140h0m-285-66h0m-99-22h0m382-52h0m-443 12h0m-27 19h0m350 161h0m-304-176h0m416 53h0m-285-29h0m7-14h0m201 47h0m-196-74h0m-39 12h0m108 168h0m-59-157h0m385 5h0m-417-18h0m344 39h0m-394 30h0m452-77h0m-350 68h0m448 20h0m-515-40h0m-79-44h0m228 56h0m290 123h0m-454-185h0m376 46h0m-313-28h0m78-18h0m371 18h0m-379 62h0m-18-76h0m173 141h0m-164-45h0m-171-94h0m565 54h0m-77-13h0m-184-4h0m-230-21h0m84-11h0m330-3h0m-450 101h0m15-83h0m522-14h0m-640 130h0m283 50h0m-107-180h0m47 13h0m-197 13h0m173 102h0m181-131h0m256-4h0m-282 1h0m5 5h0m-216 4h0m110 26h0m-15 36h0m-13-70h0m59 66h0" stroke="#2a90d0" stroke-width="8.4" stroke-linecap="round" opacity="0.9" fill="none"/>
<path transform="scale(.1)" d="M1562 1289h0m229 35h0m-606-54h0m677 58h0m-343-10h0m72-22h0m29-82h0m-9 72h0m-369 17h0m-63-25h0m227 46h0m229 2h0m-14-22h0m43-27h0m182-36h0m-305 26h0m-202 2h0m67 55h0m1-36h0m371 42h0m-375 5h0m-127-24h0m488-10h0m-596-45h0m603 54h0m-594-12h0m526-71h0m-13 107h0m-99-9h0m-192 5h0m79-61h0m291 56h0m-255-37h0m148 46h0m-276-65h0m64 65h0m280-88h0m-64 55h0m-350 35h0m437-4h0m-13-22h0m47 22h0m-83 5h0m-205-102h0m83 48h0m-334-68h0m206 93h0m-188-51h0m278-23h0m-30-31h0m-203 130h0m176-50h0m-206 43h0m358 5h0m-16-38h0m-400 6h0m249 41h0m-188-114h0m422 42h0m-50 35h0m-4-21h0m-110 28h0m192-62h0m-336 90h0m-225-6h0m286 8h0m404-49h0m-489 22h0m280 25h0m61-67h0m-518-18h0m171 86h0m-96-39h0m254 37h0m-77-49h0m-121 2h0m-154 31h0m484-54h0m-221 29h0m-192 37h0m461-25h0m26 31h0m-533-3h0m427-4h0m-84 6h0m-74-62h0m-136 8h0m509 7h0m-36 43h0m-621-84h0m259 37h0m204 8h0m-333-19h0m455-20h0m-78-11h0m-157 12h0m22 19h0m-349 54h0m525-36h0m-17 24h0m-71-16h0m82-33h0m-264 31h0m327-79h0m-533 3h0m64 63h0m-68 41h0m269-74h0m-97 84h0m264-72h0m-408 50h0m507 21h0m-218-81h0m-116-92h0m83 168h0m-226 0h0m133-1h0m285 4h0m87 6h0m-488-19h0m2 19h0m77-36h0m-164 24h0m121-38h0m-149-25h0m61 49h0m217 11h0m190-14h0m-61-64h0m41 47h0m-291 1h0m-91 13h0m-110 27h0m319-126h0m5 115h0m-127-129h0m-18 55h0m250-16h0m166 103h0m-365-6h0m383-8h0m-378-10h0m-64-37h0m55 38h0m51-9h0m-45-57h0m423-4h0m19 36h0m-386 11h0m260-33h0m-25 68h0m-94-99h0m-184 102h0m-2-88h0m-129 71h0m504-73h0m-326-92h0m286 174h0m-115-109h0m65 94h0m-434 20h0m396-30h0m-112 8h0m-50 23h0m90-6h0m-394-23h0m101 11h0m521-49h0m-208 10h0m-297 55h0m460 0h0m42-80h0m-172-10h0m166 50h0m-286-4h0m193 14h0m-114 29h0m30-49h0m-299 11h0m206-38h0m34 78h0m127-171h0m85 64h0m69 82h0m-588 26h0m423-2h0m123-20h0m-398-9h0m447 11h0m-696-3h0m331-11h0m356-6h0m-484 12h0m303 40h0m-463-53h0m103-2h0m426 33h0m101 20h0m-513-68h0m178 41h0m238 23h0m16-7h0m-149-84h0m259 40h0m-522 26h0m-59-52h0m535 2h0m-421-95h0m203 121h0m83 55h0m-313-44h0m351 41h0m-409-21h0m372-2h0m-67 10h0m109-20h0m-47-1h0m-169 28h0m-300-40h0m519-5h0m101 9h0m-140 37h0m8-74h0m-110-22h0m277 95h0m-482-124h0m-34 116h0m69-3h0m-149-25h0m314 10h0m75 17h0m-170-7h0m-281 6h0m528 7h0m-554-9h0m458 13h0m-185-120h0m-285 119h0m633-20h0m-14-14h0m-477 38h0m120-15h0m64-25h0m-125-23h0m186 42h0m302 20h0m-95-8h0m-201-112h0m-332 14h0m460 103h0m-416-3h0m512 7h0m-447-121h0m309 66h0m-344 56h0m542-202h0m-684 187h0m469-171h0m-341 171h0m6-1h0m559 10h0m-524-29h0m480-31h0m-1-114h0m-464 125h0m376 29h0m-334 3h0m-71 2h0m198-92h0m-337-19h0m339 124h0m-296-8h0m449-2h0m170-47h0m-55-3h0m19 60h0m-50-21h0m-4-28h0m-289 4h0m310 40h0m-272-124h0m49 122h0m-219-142h0m400 110h0m-123 36h0m-139 4h0m-147-97h0m461 40h0m36 62h0m-637-22h0m296 9h0m-19-48h0m27-3h0m-119 70h0m-130-17h0m523 15h0m-539 1h0m398-1h0m-172-77h0m53 30h0m169-15h0m-331 44h0m-160-87h0m16 47h0m132 42h0m255-3h0m247-151h0m-650 156h0m518 2h0m-492-17h0m491 28h0m-133-12h0m172-44h0m-384-1h0m-108-92h0m213 81h0m145 44h0m-171 17h0m405-98h0m-15 76h0m-477-15h0m202-43h0m-19 89h0m-31-17h0m199-3h0m-33-45h0m-263 62h0m182-89h0m80 84h0m-315 1h0m-22-83h0m291 71h0m-60-5h0m224 5h0m-537-248h0m-62 165h0m391 66h0m16-136h0m-289 129h0m481 22h0m62-5h0m-390-44h0m-32 63h0m-183-43h0m84 38h0m370-80h0m-263 86h0m335-14h0m-347 3h0m100-7h0m145-65h0m-371 75h0m373-2h0m-379 14h0m414-99h0m-457 97h0m169-4h0m-128-26h0m-5-10h0m85-39h0m118 0h0m-234 77h0m225-58h0m-51 60h0m-213 5h0m602-142h0m-326 129h0m-95-48h0m274 38h0m-149 18h0m-71-22h0m-266 19h0m606-15h0m6-140h0m-613 141h0m193 5h0m443-27h0m-468 0h0m8 21h0m309-61h0m-199 57h0m289 18h0m-272-132h0m-283 45h0m-19 28h0m594-4h0m-391 66h0m-151 5h0m514-66h0m-506-10h0m265 72h0m-72-16h0m441-24h0m-572 17h0m174-34h0m-29-50h0m244 29h0m-473 76h0m225 5h0m95-187h0m225 30h0m-190 50h0m61-6h0m139 88h0m-166-46h0m48 7h0m-472-68h0m477 89h0m-384 37h0m419 5h0m-465-10h0m438-34h0m101 0h0m-1-132h0m-77 171h0m-331-91h0m5 97h0m-145 3h0m603-101h0m-53-66h0m-437 82h0m314 78h0m-150-88h0m285 84h0m-524-9h0m195-124h0m70 25h0m79 107h0m-280-4h0m-84-70h0m322 68h0m-365-133h0m146 136h0m175-57h0m27-95h0m-329 165h0m612-41h0m10-46h0m-663 50h0m246 7h0m-129-80h0m277 76h0m192-4h0m60 1h0m-472-59h0m-138 85h0m86-21h0m-3 20h0m-104-1h0m412-2h0m5-14h0m71 26h0m7-7h0m-13-43h0m-423-24h0m260 48h0m-57 11h0m53-3h0m-271-44h0m51-1h0m44-4h0m471 19h0m-237-27h0m-210 13h0m57 53h0m-13-29h0m-91-55h0m267 80h0m-7-33h0m-50 7h0m-312-41h0m114 81h0m65-17h0m220-36h0m-123-66h0m-151 96h0m17 4h0m484-14h0m-585-36h0m505-50h0m53 111h0m-500 6h0m171-53h0m377 10h0m-70 47h0m28-2h0m-577-81h0m170 75h0m271-81h0m4 69h0m-342 21h0m-52-29h0m15 13h0m554-39h0m-138 41h0m-443-4h0m368 6h0m-332-37h0m80 47h0m-201-12h0m96-22h0m404 6h0m-426 15h0m449-27h0m-441-1h0m486-54h0m-407-8h0m27 71h0m260-20h0m70 48h0m-345-27h0m-155 0h0m640-29h0m-101 35h0m-192 2h0m-381 8h0m376-92h0m-208-33h0m540 98h0m-124 33h0m118-18h0m-417-15h0m141 10h0m163 12h0m-164-93h0m-270-136h0m380 246h0m-36-74h0m-403 42h0m602-12h0m-324 8h0m-58 41h0m163-23h0m196-5h0m-134 2h0m-112 19h0m-315-63h0m503 37h0m-64-25h0m-180-18h0m153 34h0m-47 4h0m50-3h0m61 11h0m-9 6h0m-568 1h0m79-97h0m106 82h0m-31 37h0m-47-10h0m-80-26h0m112 11h0m-95-33h0m60-8h0m157-88h0m335 119h0m-244 20h0m-20-53h0m327 62h0m-596-167h0m163 68h0m137 97h0m185 4h0m-355-104h0m123 98h0m-282-31h0m349 13h0m-35-1h0m317 8h0m-508-14h0m242 34h0m73-91h0m-438 81h0m278 7h0m-25-9h0m14-32h0m107-23h0m-136 19h0m118 45h0m57-124h0m77 43h0m52 53h0m-579 9h0m538-22h0m-346-25h0m-202 65h0m135-23h0m-65 3h0m19-29h0m195-20h0m367-62h0m-288 128h0m306 5h0m-217-98h0m145 87h0m-244-79h0m-8 71h0m-293 8h0m376-2h0m-359 3h0m230-56h0m-64 9h0m144 24h0m43-123h0m-109 158h0m-49-10h0m412 9h0m-546-48h0m-94 0h0m57 42h0m331-1h0m-165-199h0m-30 201h0m365-13h0m-324-209h0m-27 174h0m-22-30h0m-33 67h0m489-45h0m-53 2h0m-206 20h0m-322-29h0m-20 16h0m271 45h0m-285-60h0m533 68h0m-508-8h0m303-80h0m260-3h0m-540 58h0m119-77h0m161 76h0m-179 20h0m154 11h0m-353-130h0m169 66h0m-135-30h0m19 82h0m163-99h0m-134-37h0m585 77h0m-61 34h0m-235-9h0m-42-29h0m224 5h0m-155 45h0m-245-63h0m234 82h0m-194 5h0m471-40h0m-588 12h0m289-2h0m301-123h0m-217 137h0m-458-108h0m487 78h0m-53 32h0m214 10h0m-251-21h0m116 19h0m-407-103h0m43-10h0m47 52h0m205 59h0m-39-2h0m228-28h0m-346 41h0m369 3h0m-445-3h0m-84-71h0m104 2h0m-103 65h0m254-18h0m-272-29h0m151 18h0m-160 33h0m204-17h0m427-117h0m-162 130h0m-398 2h0m-88-14h0m343 14h0m253-62h0m-415-60h0m194 60h0m64 8h0m183 7h0m-599-6h0m334 33h0m20-155h0m-36-18h0m135 143h0m-104-8h0m-243 21h0m101-56h0m430 21h0m-122 67h0m-406-22h0m451 25h0m-87-62h0m127 41h0m-314-24h0m-340-63h0m288-29h0m-57-13h0m182 129h0m-148-2h0m392-33h0m-182 33h0m216-12h0m-164-162h0m-198 162h0m66 38h0m146-26h0m-428-104h0m-99 113h0m474-77h0m58 98h0m-139-33h0m194 25h0m-150-118h0m69 24h0m-269 29h0m-171 23h0m43 50h0m565-21h0m-607-34h0m608-44h0m-224 86h0m-32-14h0m-247-24h0m-137-96h0m244 29h0m364 9h0m-153 79h0m-45 17h0m-153-21h0m103 21h0m-4-56h0m112 11h0m62 7h0m-414-35h0m413-14h0m-335 61h0m-92-46h0m416 58h0m-552-29h0m485 49h0m-152-19h0m327-1h0m-495-24h0m-66-66h0m355 110h0m76-18h0m-223 23h0m-194-16h0m310 10h0m46-30h0m-304 12h0m-13-68h0m224 7h0m298-38h0m-206 108h0m45 8h0m-343 8h0m293-101h0m-410 58h0m479 40h0m-381-47h0m224 52h0m261-47h0m-520-14h0m151 60h0m-221-12h0m178-85h0m-26-26h0m15 91h0m26-25h0m60 49h0m-53-33h0" stroke="#d02a26" stroke-width="8.4" stroke-linecap="round" opacity="0.9" fill="none"/>
<path transform="scale(.1)" d="M1523 1448h0m-62-23h0m-69-9h0m-78 54h0m-15 86h0m239-127h0m-145-9h0m-156-2h0m220 42h0m221 85h0m56-86h0m-340-41h0m-164 23h0m523 53h0m-577-26h0m581-1h0m-398-52h0m133 70h0m176-60h0m-385 0h0m510 45h0m-564-48h0m-56 12h0m232-23h0m48 53h0m354 1h0m-95-52h0m-141 70h0m137-45h0m-283 46h0m-150-39h0m204-32h0m60 52h0m-178-33h0m-144 63h0m59-42h0m436-14h0m-45 52h0m-205-43h0m-254-8h0m576-12h0m-148 17h0m167 61h0m-424-84h0m334 25h0m-57 1h0m-73-37h0m66 0h0m71 48h0m-405-42h0m284 51h0m-56-56h0m-65 1h0m134 5h0m-295 29h0m441-27h0m-199-8h0m-335 78h0m552-63h0m-555 6h0m235 39h0m-209-52h0m388 19h0m-168-6h0m-122 22h0m231-20h0m63 34h0m181-44h0m-311 22h0m-110-5h0m-77-4h0m514-21h0m-362 15h0m-30-12h0m156 9h0m-70-17h0m99 20h0m55-21h0m-146 21h0m312 26h0m-1-43h0m-274 48h0m-324 24h0m232-75h0m381 17h0m-228 118h0m85-86h0m-153-46h0m-337 8h0m-36 27h0m349-3h0m-249-32h0m544 9h0m-650-13h0m251 13h0m-131 28h0m38-41h0m62 32h0m91 65h0m-321 13h0m520-72h0m-8 61h0m38-73h0m35 46h0m-206 9h0m300-81h0m-262 8h0m-413-8h0m674 56h0m-360-33h0m-330-23h0m624 0h0m-584 4h0m89 62h0m429-39h0m-361-14h0m228 29h0m84-40h0m-301 83h0m-73-19h0m159-65h0m6 64h0m-261-54h0m12 36h0m533-33h0m20 15h0m-222-18h0m173 59h0m-8-70h0m-122 18h0m-150-18h0m108 6h0m-279 4h0m180 87h0m233-94h0m-482 23h0m-36-23h0m210 31h0m434-26h0m-217-2h0m132-4h0m-515 2h0m572 25h0m-195 0h0m225 20h0m-394 54h0m413-63h0m-327-16h0m-323-2h0m355-21h0m-180 5h0m149 41h0m280-27h0m17-11h0m-462 3h0m358 20h0m-424 16h0m272 5h0m-51-12h0m184 32h0m20-50h0m77-14h0m-210 18h0m-315-23h0m326 38h0m129 5h0m-204-24h0m192 23h0m-361 63h0m52-109h0m478 20h0m-127 69h0m58-56h0m-461-25h0m483 51h0m51-36h0m-679-6h0m209 2h0m407-15h0m-56 11h0m-315 6h0m217-15h0m172 6h0m-640 30h0m184-6h0m-64-24h0m279 76h0m80-71h0m112-14h0m-256-4h0m-16 47h0m135 28h0m-89-29h0m315 4h0m-695 9h0m208-58h0m492 83h0m-699-17h0m690-63h0m-273 4h0m-39 40h0m202-36h0m-198 9h0m-244 19h0m170-36h0m186 18h0m157-9h0m12 23h0m-259 42h0m-389-8h0m419-41h0m-27-12h0m-289 47h0m179-57h0m360 19h0m-575 48h0m427-54h0m153 54h0m-663-25h0m80 17h0m439-57h0m-421 100h0m234-87h0m-228 46h0m489-46h0m-240 0h0m244-19h0m-26 2h0m-233 5h0m-234 32h0m205-27h0m-292 23h0m155-31h0m-4 15h0m324 14h0m-346-26h0m532 17h0m-9 37h0m-477-58h0m-63 34h0m502 16h0m-619 13h0m342 35h0m60-88h0m114 37h0m48 19h0m-288-55h0m52 29h0m-137-39h0m440 7h0m-67 43h0m-150 3h0m-176-39h0m6-20h0m-28 28h0m-55-9h0m177 29h0m-279-32h0m88 26h0m320-29h0m-12 15h0m-296-20h0m19-6h0m190 36h0m87 3h0m-92-37h0m195 4h0m75 5h0m-526 42h0m88-54h0m484 65h0m-591-29h0m506-26h0m-555 14h0m644 28h0m-515-48h0m328 33h0m-417-16h0m295-12h0m-286 27h0m565 4h0m-2-27h0m-116-11h0m31 32h0m-221-12h0m-163-21h0m-179 6h0m444 138h0m-209-132h0m418-7h0m-406 66h0m-186 54h0m100-121h0m-113 134h0m458-130h0m-54 11h0m142 54h0m-482-69h0m245 8h0m242 64h0m-428 49h0m512-86h0m-171-5h0m-383 19h0m86 3h0m454-20h0m-65 16h0m-520-53h0m379 25h0m-207 11h0m384-33h0m-258 3h0m-191 44h0m259 60h0m28-109h0m-452 0h0m29 26h0m470-15h0m-427 9h0m-47-2h0m457-11h0m-473 62h0m271-67h0m188 43h0m-243-36h0m-6 78h0m-216-57h0m393 75h0m38-89h0m179 47h0m39-42h0m-591 39h0m393 53h0m126-113h0m-187 18h0m10-6h0m31 65h0m214-71h0m-98 51h0m26 17h0m-596-40h0m437 27h0m-246-48h0m440 28h0m6-40h0m-60 17h0m-120-17h0m136 5h0m-146 25h0m-239 67h0m242-82h0m-308-8h0m-98-8h0m407-1h0m-381 12h0m444 15h0m-448-18h0m458 10h0m143 8h0m-516 17h0m520-41h0m2 74h0m-329-55h0m-261-8h0m432 54h0m-307 11h0m272-38h0m-438-35h0m391 71h0m-412-2h0m338-63h0m94 7h0m173 120h0m-572-138h0m430 11h0m-363 14h0m224 1h0m86-4h0m-76-4h0m160 78h0m-98-79h0m-194 22h0m-176 37h0m354-66h0m-123 27h0m167-22h0m63-6h0m-426 5h0m358 25h0m-97-41h0m248 29h0m-298 36h0m312-58h0m-557 52h0m145-49h0m390 41h0m-583-19h0m332 18h0m109 39h0m-117-34h0m325-11h0m-405-35h0m429 30h0m-207 27h0m135-51h0m-285 2h0m-120-4h0m324-8h0m72-3h0m-208 7h0m165-1h0m-443 17h0m223-13h0m-332 2h0m470-4h0m-246 59h0m162-53h0m-121 8h0m-73 16h0m31-15h0m33 15h0m-173 19h0m580-46h0m-366-12h0m-289 1h0m659 23h0m-186-22h0m29 27h0m-268 8h0m91 25h0m-336-45h0m164-14h0m-60 83h0m455-78h0m-292 34h0m-46 20h0m405-43h0m-170 0h0m-70 66h0m-260-77h0m-2 6h0m259-8h0m-77-5h0m-90 49h0m-1-21h0m343 23h0m-387-27h0m0 12h0m13-28h0m237 13h0m97 1h0m-267 17h0m14-1h0m-10-30h0m-96 13h0m444-21h0m15 29h0m62-6h0m-682 16h0m628-20h0m-43 18h0m-564-36h0m578 2h0m-511 27h0m228-12h0m247 50h0m-399-57h0m352 35h0m-259-31h0m-147 29h0m535-43h0m-655 7h0m328 5h0m-3 16h0m-15-16h0m-137 40h0m163-53h0m105 38h0m-256-28h0m-185-5h0m73 0h0m317 7h0m-197 64h0m460-75h0m-418 56h0m-144-30h0m39 70h0m530-83h0m-467 7h0m5 66h0m-34-14h0m-77-50h0m361-18h0m70-6h0m73 9h0m-146 21h0m122 17h0m-554-19h0m172 18h0m47-36h0m-46 5h0m-82 38h0m489-35h0m-120-19h0m-302 57h0m458-58h0m69 53h0m-424-44h0m396 11h0m18-9h0m-359-4h0m-247 25h0m147-14h0m-218-16h0m604 12h0m-614 7h0m322-1h0m299 1h0m-62 19h0m-270-33h0m-3 45h0m369 2h0m-406-14h0m125 18h0m51-46h0m-379 21h0m390-6h0m-340 56h0m46-33h0m473-5h0m-347-37h0m-196 58h0m492-57h0m-30 14h0m-490-23h0m237 22h0m97 53h0m-385-31h0m462-15h0m169-24h0m-331 74h0m-115-56h0m-64 28h0m17-48h0m90 70h0m406-56h0m-127-11h0m-57 23h0m103 5h0m-439-7h0m572 15h0m-122 3h0m-167 15h0m-333-3h0m13-40h0m275-17h0m-60 72h0m-52 46h0m-76-94h0m274 31h0m-16-20h0m-418-22h0m671 34h0m-220-44h0m-425 91h0m441-43h0m-97-23h0m-5-28h0m6 41h0m-371-6h0m250 31h0m359-60h0m11 14h0m-485-12h0m306 30h0m-53 13h0m-215-19h0m14-28h0m-143 46h0m589 8h0m-173-48h0m95 43h0m-507-35h0m125 20h0m-101-36h0m431 29h0m-328-29h0m316 1h0m-359 11h0m195 11h0m278 0h0m-98 77h0m-472-81h0m480-15h0m-429 57h0m114 52h0m-194-101h0m579-2h0m-571-3h0m323 4h0" stroke="#2a90d0" stroke-width="8.4" stroke-linecap="round" opacity="0.9" fill="none"/>
<rect x="25" y="134.7" width="84" height="6.6" fill="#a6d1e6"/>
<rect x="109" y="134.5" width="83.7" height="6.7" fill="#1f74b8"/>
<text x="66" y="139" font-size="2.8" text-anchor="middle" fill="#333" font-weight="normal" font-style="normal" stroke="#333" stroke-width="0.06">NC</text>
<text x="150.5" y="139" font-size="2.8" text-anchor="middle" fill="#222" font-weight="normal" font-style="normal" stroke="#222" stroke-width="0.06">SAE</text>
<text x="55.9" y="116.5" font-size="3.1" text-anchor="start" fill="#333" font-weight="normal" font-style="italic" textLength="19" lengthAdjust="spacingAndGlyphs" stroke="#333" stroke-width="0.07">Apoa2   Pink</text>
<text x="54.8" y="120.8" font-size="3.1" text-anchor="start" fill="#333" font-weight="normal" font-style="italic" textLength="29.8" lengthAdjust="spacingAndGlyphs" stroke="#333" stroke-width="0.07">-Abpa1  --Sprr2f</text>
<text x="67.5" y="125" font-size="3.1" text-anchor="start" fill="#333" font-weight="normal" font-style="italic" textLength="3.5" lengthAdjust="spacingAndGlyphs" stroke="#333" stroke-width="0.07">Ttc</text>
<text x="55.9" y="166.2" font-size="3.1" text-anchor="start" fill="#333" font-weight="normal" font-style="italic" textLength="25.5" lengthAdjust="spacingAndGlyphs" stroke="#333" stroke-width="0.07">Hlr-Ae1  ~Ab-gq1</text>
<text x="55.9" y="169.7" font-size="3.1" text-anchor="start" fill="#333" font-weight="normal" font-style="italic" textLength="22.3" lengthAdjust="spacingAndGlyphs" stroke="#333" stroke-width="0.07">Hlr-Ae1  Cyrlx</text>
<text x="60" y="174" font-size="3.1" text-anchor="start" fill="#333" font-weight="normal" font-style="italic" textLength="5.4" lengthAdjust="spacingAndGlyphs" stroke="#333" stroke-width="0.07">Cd3</text>
<text x="145.5" y="102.8" font-size="3.1" text-anchor="start" fill="#333" font-weight="normal" font-style="italic" textLength="4" lengthAdjust="spacingAndGlyphs" stroke="#333" stroke-width="0.07">Cxdl</text>
<text x="141.8" y="107.2" font-size="3.1" text-anchor="start" fill="#333" font-weight="normal" font-style="italic" textLength="23" lengthAdjust="spacingAndGlyphs" stroke="#333" stroke-width="0.07">Z3N6   Hlrl-Ae</text>
<text x="138" y="111.2" font-size="3.1" text-anchor="start" fill="#333" font-weight="normal" font-style="italic" textLength="26" lengthAdjust="spacingAndGlyphs" stroke="#333" stroke-width="0.07">Hrl-Ap1  Hrl-Ap1</text>
<text x="138" y="156.5" font-size="3.1" text-anchor="start" fill="#333" font-weight="normal" font-style="italic" textLength="30" lengthAdjust="spacingAndGlyphs" stroke="#333" stroke-width="0.07">Retnd   CsgsD</text>
<text x="143" y="161.7" font-size="3.1" text-anchor="start" fill="#333" font-weight="normal" font-style="italic" textLength="18" lengthAdjust="spacingAndGlyphs" stroke="#333" stroke-width="0.07">Pink   Retnd</text>
<text x="109" y="182.5" font-size="4.4" text-anchor="middle" fill="#222" font-weight="normal" font-style="normal" textLength="16.5" lengthAdjust="spacingAndGlyphs" stroke="#222" stroke-width="0.1">Clusters</text>
<text x="220.8" y="98.6" font-size="5.4" text-anchor="start" fill="#111" font-weight="bold" font-style="normal" stroke="#111" stroke-width="0.2">E</text>
<rect x="249.5" y="97" width="127" height="71.2" fill="none" stroke="#b0b0b0" stroke-width="0.4"/>
<text x="247.8" y="100.65" font-size="2.7" text-anchor="end" fill="#333" font-weight="normal" font-style="normal" stroke="#333" stroke-width="0.06">Astrocytes</text>
<text x="247.8" y="104.57" font-size="2.7" text-anchor="end" fill="#333" font-weight="normal" font-style="normal" stroke="#333" stroke-width="0.06">B Cells</text>
<text x="247.8" y="108.49" font-size="2.7" text-anchor="end" fill="#333" font-weight="normal" font-style="normal" stroke="#333" stroke-width="0.06">Choroid Plexus Cells</text>
<text x="247.8" y="112.41" font-size="2.7" text-anchor="end" fill="#333" font-weight="normal" font-style="normal" stroke="#333" stroke-width="0.06">DCs 1</text>
<text x="247.8" y="116.33" font-size="2.7" text-anchor="end" fill="#333" font-weight="normal" font-style="normal" stroke="#333" stroke-width="0.06">DCs 2</text>
<text x="247.8" y="120.25" font-size="2.7" text-anchor="end" fill="#333" font-weight="normal" font-style="normal" stroke="#333" stroke-width="0.06">Endothelial Cells</text>
<text x="247.8" y="124.17" font-size="2.7" text-anchor="end" fill="#333" font-weight="normal" font-style="normal" stroke="#333" stroke-width="0.06">Ependymal Cells</text>
<text x="247.8" y="128.09" font-size="2.7" text-anchor="end" fill="#333" font-weight="normal" font-style="normal" stroke="#333" stroke-width="0.06">Fibroblasts</text>
<text x="247.8" y="132.01" font-size="2.7" text-anchor="end" fill="#333" font-weight="normal" font-style="normal" stroke="#333" stroke-width="0.06">Macrophages</text>
<text x="247.8" y="135.93" font-size="2.7" text-anchor="end" fill="#333" font-weight="normal" font-style="normal" stroke="#333" stroke-width="0.06">Microglia</text>
<text x="247.8" y="139.85" font-size="2.7" text-anchor="end" fill="#333" font-weight="normal" font-style="normal" stroke="#333" stroke-width="0.06">Neuroblasts</text>
<text x="247.8" y="143.77" font-size="2.7" text-anchor="end" fill="#333" font-weight="normal" font-style="normal" stroke="#333" stroke-width="0.06">Neurons</text>
<text x="247.8" y="147.69" font-size="2.7" text-anchor="end" fill="#333" font-weight="normal" font-style="normal" stroke="#333" stroke-width="0.06">Neutrophils</text>
<text x="247.8" y="151.61" font-size="2.7" text-anchor="end" fill="#333" font-weight="normal" font-style="normal" stroke="#333" stroke-width="0.06">Oligodendrocytes</text>
<text x="247.8" y="155.53" font-size="2.7" text-anchor="end" fill="#333" font-weight="normal" font-style="normal" stroke="#333" stroke-width="0.06">pDCs</text>
<text x="247.8" y="159.45" font-size="2.7" text-anchor="end" fill="#333" font-weight="normal" font-style="normal" stroke="#333" stroke-width="0.06">Pericytes</text>
<text x="247.8" y="163.37" font-size="2.7" text-anchor="end" fill="#333" font-weight="normal" font-style="normal" stroke="#333" stroke-width="0.06">T Cells</text>
<text x="247.8" y="167.29" font-size="2.7" text-anchor="end" fill="#333" font-weight="normal" font-style="normal" stroke="#333" stroke-width="0.06">Unknown</text>
<circle cx="251.3" cy="99.7" r="1" fill="#8b2020" opacity="0.9"/>
<circle cx="260.8" cy="99.7" r="1" fill="#8b2020" opacity="0.9"/>
<circle cx="301.94" cy="99.7" r="1" fill="#8b2020" opacity="0.9"/>
<circle cx="327.26" cy="99.7" r="1" fill="#8b2020" opacity="0.9"/>
<circle cx="343.09" cy="99.7" r="1" fill="#8b2020" opacity="0.9"/>
<circle cx="254.47" cy="103.62" r="1" fill="#3a7ab8" opacity="0.9"/>
<circle cx="257.63" cy="103.62" r="1" fill="#3a7ab8" opacity="0.9"/>
<circle cx="263.96" cy="103.62" r="1" fill="#3a7ab8" opacity="0.9"/>
<circle cx="270.29" cy="103.62" r="1" fill="#3a7ab8" opacity="0.9"/>
<circle cx="289.28" cy="103.62" r="1" fill="#3a7ab8" opacity="0.9"/>
<circle cx="339.92" cy="103.62" r="1" fill="#3a7ab8" opacity="0.9"/>
<circle cx="282.95" cy="107.54" r="1" fill="#2e8b57" opacity="0.9"/>
<circle cx="301.94" cy="107.54" r="1" fill="#2e8b57" opacity="0.9"/>
<circle cx="327.26" cy="107.54" r="1" fill="#2e8b57" opacity="0.9"/>
<circle cx="330.43" cy="107.54" r="1" fill="#2e8b57" opacity="0.9"/>
<circle cx="333.59" cy="107.54" r="1" fill="#2e8b57" opacity="0.9"/>
<circle cx="352.58" cy="107.54" r="1" fill="#2e8b57" opacity="0.9"/>
<circle cx="374.74" cy="107.54" r="1" fill="#2e8b57" opacity="0.9"/>
<circle cx="254.47" cy="111.46" r="1" fill="#7b3f9a" opacity="0.9"/>
<circle cx="257.63" cy="111.46" r="1" fill="#7b3f9a" opacity="0.9"/>
<circle cx="263.96" cy="111.46" r="1" fill="#7b3f9a" opacity="0.9"/>
<circle cx="267.12" cy="111.46" r="1" fill="#7b3f9a" opacity="0.9"/>
<circle cx="270.29" cy="111.46" r="1" fill="#7b3f9a" opacity="0.9"/>
<circle cx="276.62" cy="111.46" r="1" fill="#7b3f9a" opacity="0.9"/>
<circle cx="279.79" cy="111.46" r="1" fill="#7b3f9a" opacity="0.9"/>
<circle cx="289.28" cy="111.46" r="1" fill="#7b3f9a" opacity="0.9"/>
<circle cx="308.27" cy="111.46" r="1" fill="#7b3f9a" opacity="0.9"/>
<circle cx="311.44" cy="111.46" r="1" fill="#7b3f9a" opacity="0.9"/>
<circle cx="254.47" cy="115.38" r="1" fill="#e08a3a" opacity="0.9"/>
<circle cx="257.63" cy="115.38" r="1" fill="#e08a3a" opacity="0.9"/>
<circle cx="267.12" cy="115.38" r="1" fill="#e08a3a" opacity="0.9"/>
<circle cx="270.29" cy="115.38" r="1" fill="#e08a3a" opacity="0.9"/>
<circle cx="276.62" cy="115.38" r="1" fill="#e08a3a" opacity="0.9"/>
<circle cx="279.79" cy="115.38" r="1" fill="#e08a3a" opacity="0.9"/>
<circle cx="289.28" cy="115.38" r="1" fill="#e08a3a" opacity="0.9"/>
<circle cx="311.44" cy="115.38" r="1" fill="#e08a3a" opacity="0.9"/>
<circle cx="320.93" cy="115.38" r="1" fill="#e08a3a" opacity="0.9"/>
<circle cx="254.47" cy="119.3" r="0.75" fill="#c07ac0" opacity="0.9"/>
<circle cx="257.63" cy="119.3" r="0.75" fill="#c07ac0" opacity="0.9"/>
<circle cx="263.96" cy="119.3" r="0.75" fill="#c07ac0" opacity="0.9"/>
<circle cx="270.29" cy="119.3" r="0.75" fill="#c07ac0" opacity="0.9"/>
<circle cx="276.62" cy="119.3" r="0.75" fill="#c07ac0" opacity="0.9"/>
<circle cx="289.28" cy="119.3" r="0.75" fill="#c07ac0" opacity="0.9"/>
<circle cx="305.11" cy="119.3" r="0.75" fill="#c07ac0" opacity="0.9"/>
<circle cx="311.44" cy="119.3" r="0.75" fill="#c07ac0" opacity="0.9"/>
<circle cx="355.75" cy="119.3" r="0.75" fill="#c07ac0" opacity="0.9"/>
<circle cx="358.91" cy="119.3" r="0.75" fill="#c07ac0" opacity="0.9"/>
<circle cx="251.3" cy="123.22" r="0.75" fill="#b090c0" opacity="0.9"/>
<circle cx="260.8" cy="123.22" r="0.75" fill="#b090c0" opacity="0.9"/>
<circle cx="282.95" cy="123.22" r="0.75" fill="#b090c0" opacity="0.9"/>
<circle cx="301.94" cy="123.22" r="0.75" fill="#b090c0" opacity="0.9"/>
<circle cx="317.76" cy="123.22" r="0.75" fill="#b090c0" opacity="0.9"/>
<circle cx="327.26" cy="123.22" r="0.75" fill="#b090c0" opacity="0.9"/>
<circle cx="343.09" cy="123.22" r="0.75" fill="#b090c0" opacity="0.9"/>
<circle cx="346.25" cy="123.22" r="0.75" fill="#b090c0" opacity="0.9"/>
<circle cx="251.3" cy="127.14" r="1" fill="#8b4a2a" opacity="0.9"/>
<circle cx="260.8" cy="127.14" r="1" fill="#8b4a2a" opacity="0.9"/>
<circle cx="282.95" cy="127.14" r="1" fill="#8b4a2a" opacity="0.9"/>
<circle cx="292.44" cy="127.14" r="1" fill="#8b4a2a" opacity="0.9"/>
<circle cx="301.94" cy="127.14" r="1" fill="#8b4a2a" opacity="0.9"/>
<circle cx="317.76" cy="127.14" r="1" fill="#8b4a2a" opacity="0.9"/>
<circle cx="330.43" cy="127.14" r="1" fill="#8b4a2a" opacity="0.9"/>
<circle cx="333.59" cy="127.14" r="1" fill="#8b4a2a" opacity="0.9"/>
<circle cx="352.58" cy="127.14" r="1" fill="#8b4a2a" opacity="0.9"/>
<circle cx="254.47" cy="131.06" r="1" fill="#3a9ad0" opacity="0.9"/>
<circle cx="257.63" cy="131.06" r="1" fill="#3a9ad0" opacity="0.9"/>
<circle cx="263.96" cy="131.06" r="1" fill="#3a9ad0" opacity="0.9"/>
<circle cx="267.12" cy="131.06" r="1" fill="#3a9ad0" opacity="0.9"/>
<circle cx="270.29" cy="131.06" r="1" fill="#3a9ad0" opacity="0.9"/>
<circle cx="276.62" cy="131.06" r="1" fill="#3a9ad0" opacity="0.9"/>
<circle cx="279.79" cy="131.06" r="1" fill="#3a9ad0" opacity="0.9"/>
<circle cx="286.12" cy="131.06" r="1" fill="#3a9ad0" opacity="0.9"/>
<circle cx="295.61" cy="131.06" r="1" fill="#3a9ad0" opacity="0.9"/>
<circle cx="308.27" cy="131.06" r="1" fill="#3a9ad0" opacity="0.9"/>
<circle cx="311.44" cy="131.06" r="1" fill="#3a9ad0" opacity="0.9"/>
<circle cx="314.6" cy="131.06" r="1" fill="#3a9ad0" opacity="0.9"/>
<circle cx="254.47" cy="134.98" r="1" fill="#10145a" opacity="0.9"/>
<circle cx="257.63" cy="134.98" r="1" fill="#10145a" opacity="0.9"/>
<circle cx="263.96" cy="134.98" r="1" fill="#10145a" opacity="0.9"/>
<circle cx="267.12" cy="134.98" r="1" fill="#10145a" opacity="0.9"/>
<circle cx="270.29" cy="134.98" r="1" fill="#10145a" opacity="0.9"/>
<circle cx="276.62" cy="134.98" r="1" fill="#10145a" opacity="0.9"/>
<circle cx="279.79" cy="134.98" r="1" fill="#10145a" opacity="0.9"/>
<circle cx="286.12" cy="134.98" r="1" fill="#10145a" opacity="0.9"/>
<circle cx="289.28" cy="134.98" r="1" fill="#10145a" opacity="0.9"/>
<circle cx="305.11" cy="134.98" r="1" fill="#10145a" opacity="0.9"/>
<circle cx="339.92" cy="134.98" r="1" fill="#10145a" opacity="0.9"/>
<circle cx="260.8" cy="138.9" r="1" fill="#226633" opacity="0.9"/>
<circle cx="254.47" cy="142.82" r="0.75" fill="#e0c060" opacity="0.9"/>
<circle cx="257.63" cy="142.82" r="0.75" fill="#e0c060" opacity="0.9"/>
<circle cx="267.12" cy="142.82" r="0.75" fill="#e0c060" opacity="0.9"/>
<circle cx="270.29" cy="142.82" r="0.75" fill="#e0c060" opacity="0.9"/>
<circle cx="320.93" cy="142.82" r="0.75" fill="#e0c060" opacity="0.9"/>
<circle cx="254.47" cy="146.74" r="1" fill="#e8d020" opacity="0.9"/>
<circle cx="257.63" cy="146.74" r="1" fill="#e8d020" opacity="0.9"/>
<circle cx="263.96" cy="146.74" r="1" fill="#e8d020" opacity="0.9"/>
<circle cx="267.12" cy="146.74" r="1" fill="#e8d020" opacity="0.9"/>
<circle cx="270.29" cy="146.74" r="1" fill="#e8d020" opacity="0.9"/>
<circle cx="273.46" cy="146.74" r="1" fill="#e8d020" opacity="0.9"/>
<circle cx="276.62" cy="146.74" r="1" fill="#e8d020" opacity="0.9"/>
<circle cx="279.79" cy="146.74" r="1" fill="#e8d020" opacity="0.9"/>
<circle cx="286.12" cy="146.74" r="1" fill="#e8d020" opacity="0.9"/>
<circle cx="289.28" cy="146.74" r="1" fill="#e8d020" opacity="0.9"/>
<circle cx="298.78" cy="146.74" r="1" fill="#e8d020" opacity="0.9"/>
<circle cx="308.27" cy="146.74" r="1" fill="#e8d020" opacity="0.9"/>
<circle cx="311.44" cy="146.74" r="1" fill="#e8d020" opacity="0.9"/>
<circle cx="339.92" cy="146.74" r="1" fill="#e8d020" opacity="0.9"/>
<circle cx="251.3" cy="150.66" r="0.75" fill="#e070b0" opacity="0.9"/>
<circle cx="324.1" cy="150.66" r="0.75" fill="#e070b0" opacity="0.9"/>
<circle cx="343.09" cy="150.66" r="0.75" fill="#e070b0" opacity="0.9"/>
<circle cx="346.25" cy="150.66" r="0.75" fill="#e070b0" opacity="0.9"/>
<circle cx="371.57" cy="150.66" r="0.75" fill="#e070b0" opacity="0.9"/>
<circle cx="254.47" cy="154.58" r="1" fill="#c0209a" opacity="0.9"/>
<circle cx="257.63" cy="154.58" r="1" fill="#c0209a" opacity="0.9"/>
<circle cx="263.96" cy="154.58" r="1" fill="#c0209a" opacity="0.9"/>
<circle cx="267.12" cy="154.58" r="1" fill="#c0209a" opacity="0.9"/>
<circle cx="270.29" cy="154.58" r="1" fill="#c0209a" opacity="0.9"/>
<circle cx="289.28" cy="154.58" r="1" fill="#c0209a" opacity="0.9"/>
<circle cx="311.44" cy="154.58" r="1" fill="#c0209a" opacity="0.9"/>
<circle cx="339.92" cy="154.58" r="1" fill="#c0209a" opacity="0.9"/>
<circle cx="251.3" cy="158.5" r="1" fill="#601020" opacity="0.9"/>
<circle cx="317.76" cy="158.5" r="1" fill="#601020" opacity="0.9"/>
<circle cx="346.25" cy="158.5" r="1" fill="#601020" opacity="0.9"/>
<circle cx="254.47" cy="162.42" r="1" fill="#20b0b0" opacity="0.9"/>
<circle cx="257.63" cy="162.42" r="1" fill="#20b0b0" opacity="0.9"/>
<circle cx="263.96" cy="162.42" r="1" fill="#20b0b0" opacity="0.9"/>
<circle cx="267.12" cy="162.42" r="1" fill="#20b0b0" opacity="0.9"/>
<circle cx="270.29" cy="162.42" r="1" fill="#20b0b0" opacity="0.9"/>
<circle cx="289.28" cy="162.42" r="1" fill="#20b0b0" opacity="0.9"/>
<circle cx="298.78" cy="162.42" r="1" fill="#20b0b0" opacity="0.9"/>
<circle cx="336.75" cy="162.42" r="1" fill="#20b0b0" opacity="0.9"/>
<circle cx="339.92" cy="162.42" r="1" fill="#20b0b0" opacity="0.9"/>
<circle cx="349.42" cy="162.42" r="1" fill="#20b0b0" opacity="0.9"/>
<circle cx="362.08" cy="162.42" r="1" fill="#20b0b0" opacity="0.9"/>
<circle cx="368.41" cy="162.42" r="1" fill="#20b0b0" opacity="0.9"/>
<circle cx="251.3" cy="166.34" r="0.75" fill="none" stroke="#9ab" stroke-width="0.35"/>
<circle cx="260.8" cy="166.34" r="0.75" fill="none" stroke="#9ab" stroke-width="0.35"/>
<circle cx="292.44" cy="166.34" r="0.75" fill="none" stroke="#9ab" stroke-width="0.35"/>
<circle cx="301.94" cy="166.34" r="0.75" fill="none" stroke="#9ab" stroke-width="0.35"/>
<circle cx="327.26" cy="166.34" r="0.75" fill="none" stroke="#9ab" stroke-width="0.35"/>
<circle cx="330.43" cy="166.34" r="0.75" fill="none" stroke="#9ab" stroke-width="0.35"/>
<circle cx="333.59" cy="166.34" r="0.75" fill="none" stroke="#9ab" stroke-width="0.35"/>
<circle cx="343.09" cy="166.34" r="0.75" fill="none" stroke="#9ab" stroke-width="0.35"/>
<circle cx="352.58" cy="166.34" r="0.75" fill="none" stroke="#9ab" stroke-width="0.35"/>
<text x="252.2" y="170.4" font-size="2.4" text-anchor="end" fill="#444" font-weight="normal" font-style="normal" transform="rotate(-45 252.2 170.4)" stroke="#444" stroke-width="0.06">Astrocytes</text>
<text x="255.37" y="170.4" font-size="2.4" text-anchor="end" fill="#444" font-weight="normal" font-style="normal" transform="rotate(-45 255.37 170.4)" stroke="#444" stroke-width="0.06">B Cells</text>
<text x="258.53" y="170.4" font-size="2.4" text-anchor="end" fill="#444" font-weight="normal" font-style="normal" transform="rotate(-45 258.53 170.4)" stroke="#444" stroke-width="0.06">Choroid</text>
<text x="261.69" y="170.4" font-size="2.4" text-anchor="end" fill="#444" font-weight="normal" font-style="normal" transform="rotate(-45 261.69 170.4)" stroke="#444" stroke-width="0.06">DCs 1</text>
<text x="264.86" y="170.4" font-size="2.4" text-anchor="end" fill="#444" font-weight="normal" font-style="normal" transform="rotate(-45 264.86 170.4)" stroke="#444" stroke-width="0.06">DCs 2</text>
<text x="268.02" y="170.4" font-size="2.4" text-anchor="end" fill="#444" font-weight="normal" font-style="normal" transform="rotate(-45 268.02 170.4)" stroke="#444" stroke-width="0.06">Endothelial</text>
<text x="271.19" y="170.4" font-size="2.4" text-anchor="end" fill="#444" font-weight="normal" font-style="normal" transform="rotate(-45 271.19 170.4)" stroke="#444" stroke-width="0.06">Ependymal</text>
<text x="274.36" y="170.4" font-size="2.4" text-anchor="end" fill="#444" font-weight="normal" font-style="normal" transform="rotate(-45 274.36 170.4)" stroke="#444" stroke-width="0.06">Fibroblasts</text>
<text x="277.52" y="170.4" font-size="2.4" text-anchor="end" fill="#444" font-weight="normal" font-style="normal" transform="rotate(-45 277.52 170.4)" stroke="#444" stroke-width="0.06">Macrophages</text>
<text x="280.69" y="170.4" font-size="2.4" text-anchor="end" fill="#444" font-weight="normal" font-style="normal" transform="rotate(-45 280.69 170.4)" stroke="#444" stroke-width="0.06">Microglia</text>
<text x="283.85" y="170.4" font-size="2.4" text-anchor="end" fill="#444" font-weight="normal" font-style="normal" transform="rotate(-45 283.85 170.4)" stroke="#444" stroke-width="0.06">Neuroblasts</text>
<text x="287.01" y="170.4" font-size="2.4" text-anchor="end" fill="#444" font-weight="normal" font-style="normal" transform="rotate(-45 287.01 170.4)" stroke="#444" stroke-width="0.06">Neurons</text>
<text x="290.18" y="170.4" font-size="2.4" text-anchor="end" fill="#444" font-weight="normal" font-style="normal" transform="rotate(-45 290.18 170.4)" stroke="#444" stroke-width="0.06">Neutrophils</text>
<text x="293.34" y="170.4" font-size="2.4" text-anchor="end" fill="#444" font-weight="normal" font-style="normal" transform="rotate(-45 293.34 170.4)" stroke="#444" stroke-width="0.06">Oligodendrocytes</text>
<text x="296.51" y="170.4" font-size="2.4" text-anchor="end" fill="#444" font-weight="normal" font-style="normal" transform="rotate(-45 296.51 170.4)" stroke="#444" stroke-width="0.06">pDCs</text>
<text x="299.68" y="170.4" font-size="2.4" text-anchor="end" fill="#444" font-weight="normal" font-style="normal" transform="rotate(-45 299.68 170.4)" stroke="#444" stroke-width="0.06">Pericytes</text>
<text x="302.84" y="170.4" font-size="2.4" text-anchor="end" fill="#444" font-weight="normal" font-style="normal" transform="rotate(-45 302.84 170.4)" stroke="#444" stroke-width="0.06">T Cells</text>
<text x="306" y="170.4" font-size="2.4" text-anchor="end" fill="#444" font-weight="normal" font-style="normal" transform="rotate(-45 306 170.4)" stroke="#444" stroke-width="0.06">Unknown</text>
<text x="309.17" y="170.4" font-size="2.4" text-anchor="end" fill="#444" font-weight="normal" font-style="normal" transform="rotate(-45 309.17 170.4)" stroke="#444" stroke-width="0.06">Macrophages 2</text>
<text x="312.33" y="170.4" font-size="2.4" text-anchor="end" fill="#444" font-weight="normal" font-style="normal" transform="rotate(-45 312.33 170.4)" stroke="#444" stroke-width="0.06">Microglia 2</text>
<text x="315.5" y="170.4" font-size="2.4" text-anchor="end" fill="#444" font-weight="normal" font-style="normal" transform="rotate(-45 315.5 170.4)" stroke="#444" stroke-width="0.06">Neutrophils 2</text>
<text x="318.66" y="170.4" font-size="2.4" text-anchor="end" fill="#444" font-weight="normal" font-style="normal" transform="rotate(-45 318.66 170.4)" stroke="#444" stroke-width="0.06">T Cells 2</text>
<text x="321.83" y="170.4" font-size="2.4" text-anchor="end" fill="#444" font-weight="normal" font-style="normal" transform="rotate(-45 321.83 170.4)" stroke="#444" stroke-width="0.06">B Cells 2</text>
<text x="325" y="170.4" font-size="2.4" text-anchor="end" fill="#444" font-weight="normal" font-style="normal" transform="rotate(-45 325 170.4)" stroke="#444" stroke-width="0.06">DCs 3</text>
<text x="328.16" y="170.4" font-size="2.4" text-anchor="end" fill="#444" font-weight="normal" font-style="normal" transform="rotate(-45 328.16 170.4)" stroke="#444" stroke-width="0.06">Monocytes</text>
<text x="331.32" y="170.4" font-size="2.4" text-anchor="end" fill="#444" font-weight="normal" font-style="normal" transform="rotate(-45 331.32 170.4)" stroke="#444" stroke-width="0.06">NK Cells</text>
<text x="334.49" y="170.4" font-size="2.4" text-anchor="end" fill="#444" font-weight="normal" font-style="normal" transform="rotate(-45 334.49 170.4)" stroke="#444" stroke-width="0.06">Endothelial 2</text>
<text x="337.65" y="170.4" font-size="2.4" text-anchor="end" fill="#444" font-weight="normal" font-style="normal" transform="rotate(-45 337.65 170.4)" stroke="#444" stroke-width="0.06">Fibroblasts 2</text>
<text x="340.82" y="170.4" font-size="2.4" text-anchor="end" fill="#444" font-weight="normal" font-style="normal" transform="rotate(-45 340.82 170.4)" stroke="#444" stroke-width="0.06">Mast Cells</text>
<text x="343.99" y="170.4" font-size="2.4" text-anchor="end" fill="#444" font-weight="normal" font-style="normal" transform="rotate(-45 343.99 170.4)" stroke="#444" stroke-width="0.06">ILCs</text>
<text x="347.15" y="170.4" font-size="2.4" text-anchor="end" fill="#444" font-weight="normal" font-style="normal" transform="rotate(-45 347.15 170.4)" stroke="#444" stroke-width="0.06">Astrocytes 2</text>
<text x="350.31" y="170.4" font-size="2.4" text-anchor="end" fill="#444" font-weight="normal" font-style="normal" transform="rotate(-45 350.31 170.4)" stroke="#444" stroke-width="0.06">Pericytes 2</text>
<text x="353.48" y="170.4" font-size="2.4" text-anchor="end" fill="#444" font-weight="normal" font-style="normal" transform="rotate(-45 353.48 170.4)" stroke="#444" stroke-width="0.06">Neurons 2</text>
<text x="356.64" y="170.4" font-size="2.4" text-anchor="end" fill="#444" font-weight="normal" font-style="normal" transform="rotate(-45 356.64 170.4)" stroke="#444" stroke-width="0.06">Ependymal 2</text>
<text x="359.81" y="170.4" font-size="2.4" text-anchor="end" fill="#444" font-weight="normal" font-style="normal" transform="rotate(-45 359.81 170.4)" stroke="#444" stroke-width="0.06">Oligos 2</text>
<text x="362.98" y="170.4" font-size="2.4" text-anchor="end" fill="#444" font-weight="normal" font-style="normal" transform="rotate(-45 362.98 170.4)" stroke="#444" stroke-width="0.06">pDCs 2</text>
<text x="366.14" y="170.4" font-size="2.4" text-anchor="end" fill="#444" font-weight="normal" font-style="normal" transform="rotate(-45 366.14 170.4)" stroke="#444" stroke-width="0.06">Plasma Cells</text>
<text x="369.31" y="170.4" font-size="2.4" text-anchor="end" fill="#444" font-weight="normal" font-style="normal" transform="rotate(-45 369.31 170.4)" stroke="#444" stroke-width="0.06">Erythrocytes</text>
<text x="372.47" y="170.4" font-size="2.4" text-anchor="end" fill="#444" font-weight="normal" font-style="normal" transform="rotate(-45 372.47 170.4)" stroke="#444" stroke-width="0.06">Platelets</text>
<text x="375.63" y="170.4" font-size="2.4" text-anchor="end" fill="#444" font-weight="normal" font-style="normal" transform="rotate(-45 375.63 170.4)" stroke="#444" stroke-width="0.06">Unknown 2</text>
<text x="382.5" y="124.8" font-size="3" text-anchor="start" fill="#333" font-weight="normal" font-style="normal" textLength="16.2" lengthAdjust="spacingAndGlyphs" stroke="#333" stroke-width="0.06">Contribution</text>
<circle cx="385.5" cy="130" r="0.6" fill="none" stroke="#888" stroke-width="0.35"/>
<text x="388.5" y="130.8" font-size="2.2" text-anchor="start" fill="#333" font-weight="normal" font-style="normal" stroke="#333" stroke-width="0.06">0.4</text>
<circle cx="385.5" cy="135.75" r="0.85" fill="none" stroke="#888" stroke-width="0.35"/>
<text x="388.5" y="136.55" font-size="2.2" text-anchor="start" fill="#333" font-weight="normal" font-style="normal" stroke="#333" stroke-width="0.06">0.6</text>
<circle cx="385.5" cy="141.25" r="1.1" fill="none" stroke="#888" stroke-width="0.35"/>
<text x="388.5" y="142.05" font-size="2.2" text-anchor="start" fill="#333" font-weight="normal" font-style="normal" stroke="#333" stroke-width="0.06">0.8</text>
<text x="5.2" y="194.6" font-size="5.4" text-anchor="start" fill="#111" font-weight="bold" font-style="normal" stroke="#111" stroke-width="0.2">F</text>
<line x1="10.5" y1="198.75" x2="10.5" y2="261.25" stroke="#8c8c8c" stroke-width="0.45"/>
<line x1="10.5" y1="261.25" x2="82.5" y2="261.25" stroke="#8c8c8c" stroke-width="0.45"/>
<line x1="9.5" y1="214.5" x2="10.5" y2="214.5" stroke="#8c8c8c" stroke-width="0.3"/>
<text x="9" y="215.3" font-size="2.3" text-anchor="end" fill="#333" font-weight="normal" font-style="normal" stroke="#333" stroke-width="0.06">20</text>
<line x1="9.5" y1="231.25" x2="10.5" y2="231.25" stroke="#8c8c8c" stroke-width="0.3"/>
<text x="9" y="232.05" font-size="2.3" text-anchor="end" fill="#333" font-weight="normal" font-style="normal" stroke="#333" stroke-width="0.06">0</text>
<line x1="9.5" y1="248.75" x2="10.5" y2="248.75" stroke="#8c8c8c" stroke-width="0.3"/>
<text x="9" y="249.55" font-size="2.3" text-anchor="end" fill="#333" font-weight="normal" font-style="normal" stroke="#333" stroke-width="0.06">-20</text>
<line x1="25" y1="261.25" x2="25" y2="262.25" stroke="#8c8c8c" stroke-width="0.3"/>
<text x="25" y="265" font-size="2.3" text-anchor="middle" fill="#333" font-weight="normal" font-style="normal" stroke="#333" stroke-width="0.06">-20</text>
<line x1="45" y1="261.25" x2="45" y2="262.25" stroke="#8c8c8c" stroke-width="0.3"/>
<text x="45" y="265" font-size="2.3" text-anchor="middle" fill="#333" font-weight="normal" font-style="normal" stroke="#333" stroke-width="0.06">0</text>
<line x1="65.5" y1="261.25" x2="65.5" y2="262.25" stroke="#8c8c8c" stroke-width="0.3"/>
<text x="65.5" y="265" font-size="2.3" text-anchor="middle" fill="#333" font-weight="normal" font-style="normal" stroke="#333" stroke-width="0.06">20</text>
<text x="47.5" y="268.5" font-size="2.5" text-anchor="middle" fill="#333" font-weight="normal" font-style="normal" stroke="#333" stroke-width="0.06">tSNE_1</text>
<text x="4" y="229" font-size="2.5" text-anchor="middle" fill="#333" font-weight="normal" font-style="normal" transform="rotate(-90 4 229)" stroke="#333" stroke-width="0.06">tSNE_2</text>
<path transform="scale(.1)" d="M519 2479h0m-228 16h0m146-209h0m51 196h0m71-11h0m-28-93h0m-95 65h0m-205-41h0m56 123h0m78-90h0m-129 46h0m66 71h0m-16-255h0m287 192h0m-373-27h0m82-130h0m175-24h0m31 105h0m-238 12h0m363 31h0m-363-141h0m278 138h0m-47 93h0m-71 27h0m-7-110h0m36-149h0m37 64h0m-191 84h0m322-29h0m-145-28h0m-171 68h0m214-30h0m-257-90h0m245 97h0m-269-64h0m117 200h0m253-211h0m-168 81h0m-6-42h0m-151 52h0m164-158h0m-34 5h0m-95 98h0m-71-58h0m109-83h0m139 251h0m-215-94h0m326-76h0m-222 209h0m-176-100h0m219-142h0m43 234h0m-201-240h0m181 195h0m120-72h0m-152 13h0m-43 89h0m-117-23h0m5-161h0m152 220h0m22-84h0m-162-14h0m307-1h0m-167-93h0m-25 15h0m58 182h0m-75-138h0m151-109h0m-58 117h0m78 54h0m-52-38h0m-147 85h0m81 27h0m64-261h0m0-10h0m85 137h0m-160 61h0m-87-4h0m162 61h0m-116-259h0m-75 237h0m116-85h0m-73 88h0m185-205h0m-24 5h0m-178 119h0m117 72h0m72-54h0m100-33h0m-143 50h0m-174-90h0m202-3h0m-62-137h0m-69 133h0m158 122h0m42-20h0m-161-11h0m10-78h0m-60 143h0m-44-267h0m-42 65h0m233 203h0m27-78h0m-19-108h0m107 35h0m-126 28h0m-107-100h0m236 149h0m-76-31h0m-197-4h0m123-65h0m-129 197h0m-114-120h0m305-155h0m-59 251h0m94-241h0m-124 91h0m58 115h0m-64 32h0m40-65h0m-225 21h0m295-148h0m-74 100h0m-235-75h0m283-73h0m-117 172h0m79-143h0m-103 161h0m84 22h0m10-7h0m-131-24h0m187-87h0m-273 130h0m222-82h0m-172 29h0m-14 74h0m-8-35h0m242-225h0m-154 43h0m147 131h0m79 25h0m-147 88h0m-154-291h0m58 197h0m-50 59h0m20-244h0m255 30h0m-309 171h0m259-66h0m-172 154h0m-138-118h0m70-73h0m72-21h0m-50 128h0m137 49h0m74-143h0m-77 125h0m-25-122h0m31 26h0m-87 131h0m86-117h0m126-133h0m-312 160h0m111-140h0m-100-12h0m320 63h0m-340-34h0m56 22h0m146-15h0m108 22h0m-230-61h0m64 245h0m225-150h0m-75-88h0m29 121h0m-237 50h0m98-102h0m-103-66h0m130 131h0m-169-93h0m76-20h0m-44 216h0m116-4h0m-26-113h0m-46 53h0m105-227h0m-125 158h0m62-165h0m-81 228h0m50 26h0m-70-36h0m125 101h0m11-148h0m-176-46h0m293 93h0m-311-6h0m205 96h0m84-179h0m39 8h0m-242 88h0m238-122h0m-78-1h0m-207 159h0m314-148h0m-358 70h0m249-97h0m-225 27h0m244-83h0m-95 24h0m56 79h0m-4-60h0m11-47h0m-30-29h0m39 276h0m-43-126h0m145 91h0m-8-35h0m-231 105h0m225-231h0m-304 77h0m226-20h0m-23-50h0m-1-74h0m-118 128h0m238 98h0m-189-214h0m-95 179h0m258-154h0m-96 72h0m120 100h0m-1-10h0m-296-190h0m226 265h0m-157-47h0m119-149h0m95-3h0m-13 11h0m-242-65h0m55 143h0m-12 93h0m100-259h0m104 47h0m-199 15h0m-49 206h0m1-210h0m231 86h0m-45 66h0m-283 11h0m-18-20h0m298-11h0m-69 47h0m137-148h0m-65 130h0m-121 55h0m229-143h0m-17-15h0m-61-76h0m-133 88h0m64 47h0m105-12h0m-188-165h0m174 137h0m-269-108h0m57 146h0m194-53h0m-167-100h0m-74-13h0m278 60h0m-166-25h0m-94 234h0m5-229h0m131 184h0m-187-117h0m12 125h0m-82-84h0m151 55h0m182-22h0m-77 16h0m-47-45h0m104-46h0m-290 119h0m245-74h0m-17 132h0m-157-50h0m32-68h0m-31-43h0m18 53h0m89 16h0m-68 34h0m-113-67h0m61-118h0m201 21h0m-151 72h0m-38-19h0m208-74h0m-174 217h0m206-183h0m-25 131h0m-28 39h0m-244-206h0m377 85h0m-389 76h0m227-60h0m-173 42h0m-76-61h0m395-52h0m-381 2h0m251-4h0m-254 32h0m215-58h0m70 60h0m-222-56h0m-18 7h0m196 234h0m-45-291h0m101 174h0m-161 11h0m13 58h0m-108-38h0m236 91h0m-66-186h0m-61 162h0m8-104h0m-49 86h0m56-185h0m28 34h0m198 92h0m-145 28h0m-51 3h0m-196-52h0m136-37h0m-26-10h0m-68-56h0m3 49h0m175-18h0m-125-51h0m175 86h0m-20 171h0m-200-170h0m-18 58h0m274 42h0m-207-231h0m70 22h0m-3-2h0m99 245h0m-72-3h0m101-141h0m-281 105h0m374-58h0m-296 65h0m126-213h0m87 133h0m0 73h0m-113-1h0m-69-2h0m91-117h0m-34 89h0m-29-106h0m32 69h0m103-97h0m-234-13h0m151 51h0m71 39h0m-144 46h0m80-139h0m78 66h0m7 63h0m-27 66h0m-210-177h0m-56 102h0m159-136h0m50 226h0m39-49h0m-195-99h0m107 22h0m181 43h0m-173 109h0m188-216h0m-230-48h0m115 70h0m-183 168h0m257-195h0m-332 103h0m343-14h0m12 111h0m63-121h0m-8-42h0m-149 109h0m-153-11h0m-23-43h0m152-88h0m-63 187h0m-23-253h0m223 87h0m-36 89h0m-282-152h0m239 67h0m36 89h0m-224-89h0m-49-6h0m7 78h0m37 38h0m-87-40h0m66-33h0m4 44h0m238 16h0m-209-95h0m200 113h0m-195-19h0m79 108h0m25-173h0m-109-55h0m177 8h0m-243 141h0m94 34h0m209-147h0m-115-17h0m38 80h0m-70-31h0m45-36h0m40 89h0m-90-53h0m7 78h0m151 30h0m-270-170h0m-23 58h0m57-18h0m109 44h0m144-53h0m-268 39h0m88 29h0m183-7h0m-106 97h0m70-132h0m-320-52h0m338 181h0m-302-123h0m323-40h0m-154-84h0m-25-24h0m177 134h0m19 92h0m-379-12h0m180-44h0m113-26h0m-46 78h0m-185-43h0m320-51h0m-168-38h0m12 192h0m-108-148h0m24 140h0m-104-198h0m170 13h0m-166 11h0m62 107h0m-115-27h0m24-29h0m65-62h0m206 101h0m-76-116h0m-3 157h0m174-94h0m-179-151h0m58 39h0m0 44h0m-71 234h0m-66-202h0m-16-73h0m65 199h0m-140-116h0m337 35h0m-84-93h0m-48 63h0m-190 84h0m77-171h0m88 129h0m-103 7h0m112 138h0m36-249h0m-201 63h0m-4-65h0m340 50h0m-120-32h0m-178 192h0m287-127h0m-21 121h0m19-31h0m-258-231h0m32 61h0m236 143h0m-201 71h0m20 13h0m38-10h0m88-154h0m-294 23h0m-35-4h0m178 152h0m62-136h0m-72 139h0m15-146h0m-97-3h0m167 168h0m48-232h0m-19 34h0m77-37h0m-285-28h0m150 245h0m-99-256h0m7 101h0m-62-15h0m138 32h0m161-83h0m9 138h0m-290-204h0m65 241h0m-59-200h0m-23 68h0m24-74h0m57 254h0m-96-233h0m18 122h0m-2 33h0m192-174h0m-183-11h0m67 59h0m79-11h0m153 91h0m-242-17h0m45 146h0m-184-112h0m292-108h0m-117 8h0m-66-52h0m201-5h0m14 37h0m-128-50h0m-91 240h0m19-17h0m1 67h0m250-239h0m-140 228h0m15-191h0m28 191h0m44-106h0m-44-194h0m81 215h0m-141-134h0m-148 35h0m174-80h0m-89 11h0m-114 71h0m-52-7h0m38 5h0m183-97h0m19 30h0m-35 10h0m-103 187h0m218-28h0m-129-5h0m-76 28h0m85-62h0m190-74h0m-240 189h0m82-110h0m122 29h0m-114 74h0m153-67h0m-317 50h0m-38-222h0m276 98h0m-283 90h0m19-54h0m231-66h0m-238 19h0m208-66h0m-246 149h0m136 6h0m-33 41h0m280-30h0m-318-205h0m140 156h0m146-119h0m-33 11h0m-67-84h0m-125 301h0m222-102h0m-102-43h0m-261 26h0m220-176h0m52 202h0m-41-127h0m2 95h0m60 34h0m-52-216h0m81 250h0m-220 51h0m279-142h0m-12 54h0m-52 44h0m-178-112h0m218-24h0m-116 114h0m-80 40h0m149-253h0m-136 115h0m187-22h0m-244 135h0m129-104h0m-121 87h0m213 43h0m-111-244h0m-162 27h0m93 258h0m-93-104h0m44-71h0m211 118h0m-18-197h0m-127 248h0m18-116h0m71-78h0m-115 39h0m-9-32h0m73-62h0m-66-10h0m133 229h0m127-142h0m-257-111h0m-56 213h0m151 38h0m175-114h0m-227 21h0m14-122h0m94-13h0m-113 64h0m132-4h0m-267 8h0m370 72h0m-229-123h0m51 99h0m-42-102h0m110 49h0m-31-81h0m-135-20h0m233 210h0m-41-5h0m-242 29h0m134 83h0m-187-229h0m221 80h0m-66 82h0m-73-176h0m-102 55h0m117-42h0m198 65h0m-217-51h0m-98-9h0m42-25h0m2 34h0m-52 28h0m355 101h0m-100 39h0m57-23h0m75-67h0m-148 110h0m146-124h0m-59 68h0m-135-226h0m34 74h0m-36-63h0m-1 280h0m145-71h0m-333-33h0m348 67h0m-205-226h0m156 27h0m-283 151h0m255 71h0m42-10h0m-37-190h0m80 105h0m-338-97h0m-26 13h0m325 65h0m-278-27h0m199 161h0m-38-74h0m-73 53h0m-22-228h0m83 210h0m40-89h0m-55 26h0m-149 41h0m253-70h0m-70-62h0m162 50h0m-155 142h0m-130-233h0m142 11h0m167 17h0m-210 30h0m-173 6h0m50-109h0m-22 49h0m303 158h0m-150-156h0m50 87h0m-157-94h0m12 203h0m228-117h0m27 57h0m28-147h0m-202 222h0m-119-163h0m288-20h0m-336 21h0m159-96h0m-50 170h0m252-79h0m-305-30h0m287 171h0m-183 55h0m140-48h0m-250-53h0m311-26h0m-90 28h0m-216 25h0m134-246h0m75 276h0m-75-173h0m-199 2h0m316 89h0m-64-55h0m118-6h0m-361 93h0m167 28h0m108-20h0m-125-128h0m116 205h0m23-183h0m-81-124h0m-21 112h0m145 105h0m-203-16h0m29 27h0m-160-9h0m27-170h0m41 179h0m299-83h0m-87 40h0m-106 112h0m129-155h0m-29-74h0m-168 68h0m-78-8h0m104-24h0m-109 105h0m117-197h0m121 285h0m105-167h0m-241-136h0m75 269h0m89-20h0m-206-161h0m48 84h0m-2 138h0m-26-285h0m68-33h0m-179 142h0m279 58h0m-187-60h0m4-116h0m67 169h0m-35-33h0m-136-11h0m174 150h0m153-212h0m15 69h0m-74-90h0m-149 228h0m-96-94h0m163 10h0m-47-175h0m183 189h0m-291-111h0m263 168h0m8 7h0m-97-229h0m24 185h0m88-141h0m-294 104h0m256-180h0m-9 92h0m-27 165h0m140-119h0m-244-89h0m-93 50h0m210 112h0m145-137h0m-274 44h0m212 121h0m-74-75h0m-18-168h0m47 85h0m111 16h0m-209 82h0m156-126h0m-68 113h0m-73-78h0m-15-61h0m134 116h0m-82 65h0m-19-92h0m-86-32h0m24 58h0m218-38h0m-176 105h0m30-86h0m-235 74h0m36-9h0m-16-126h0m350 108h0m-258-133h0m149-13h0m-19-8h0m-136 178h0m276-67h0m-238 92h0m92-231h0m-73 132h0m-10-50h0m151-47h0m87 66h0m-88-49h0m86 182h0m-99 45h0m-2-7h0m-166-19h0m126-89h0m138-40h0m-158-97h0m-134 182h0m-34-175h0m336 73h0m-23 28h0m-277 21h0m220 79h0m-261-67h0m171 87h0m154-168h0m-172 128h0m-168-53h0m252-51h0m90-2h0m-310-36h0m160 116h0m79 67h0m-146-203h0m-24 65h0m-152 47h0m119 22h0m119-10h0m91-34h0m-165 114h0m-63-223h0m-60 149h0m154-10h0m-133-74h0m339-17h0m-316 156h0m4-128h0m183-32h0m-75 18h0m-1-95h0m-31 262h0m178-199h0m-282 26h0m31 163h0m39-81h0m130-110h0m-228 110h0m38-44h0m32 64h0m-60-118h0m-27 130h0m119-61h0m8 33h0m12-142h0m170 109h0m-178 17h0m191 9h0m-66-117h0m-9 7h0m148 113h0m-355 96h0m7-79h0m197-179h0m60 225h0m-95-155h0m-152 141h0m89-139h0m-29-74h0m-24 44h0m148 103h0m-40 147h0m45-135h0m-48 142h0m-206-116h0m150-110h0m240-12h0m-313 22h0m178-47h0m-38 262h0m-58-177h0m99 17h0m2-68h0m93 192h0m-61-34h0m48-62h0m-180-176h0m-62 145h0m127 74h0m-40 74h0m182-192h0m-48 138h0m-139-58h0m24-21h0m143 117h0m-202-17h0m12-221h0m-127 198h0m166-44h0m190 1h0m-342-88h0m189-55h0m60 172h0m-12 66h0m-171-96h0m56-60h0m-64 17h0m-105-19h0m378-43h0m-20-6h0m-84 85h0m36-41h0m-139-56h0m-5 214h0m51-120h0m196 10h0m-162 83h0m-127 46h0m146-180h0m-184 75h0m127-215h0m-33 235h0m35-163h0m51 21h0m-139-58h0m126 9h0m74 213h0m-39-156h0m-14 113h0m-2-111h0m-97 20h0m-74 51h0m59 123h0m-20 14h0m140-194h0m0-77h0m99 169h0m-38-111h0m-96-31h0m-69 169h0m133-164h0m-4 75h0m-196 70h0m26-119h0m236 132h0m-261-27h0m48-130h0m160 37h0m-260 35h0m265-99h0m-149 93h0m113 141h0m-66-136h0m-69 34h0m180-74h0m-98 68h0m-128-20h0m-35-82h0m134 216h0m-85-63h0m16-58h0m-103-42h0m168-57h0m-128 157h0m40-138h0m-16 174h0m-83-108h0m110-14h0m-3 124h0m74 0h0m-142-77h0m41-26h0m-22 78h0m230-180h0m-91 74h0m-92 160h0m84 14h0m66-206h0m-201 4h0m319 41h0m-27-50h0m-37 82h0m4 47h0m-17-166h0m61 139h0m-292-47h0m227 65h0m-15 35h0m72-107h0m12-39h0m-60 89h0m-34 108h0m-78-31h0m-71-29h0m25 89h0m-122-205h0m152-55h0m-11 38h0m59-23h0m-122-54h0m172 191h0m-37-12h0m-188-5h0m264 40h0m-100-145h0m-206 114h0m167 33h0m147-7h0m42-100h0m-251 115h0m37-229h0m59 242h0m-29-224h0m16 81h0m-105-35h0m5 130h0m43 68h0m184-252h0m-105-28h0m-75 18h0m130 270h0m14-216h0m-60 177h0m18-24h0m-130-167h0m237 63h0m-251-90h0m24 27h0m229 41h0m-158 148h0m-162-71h0m334-84h0m-252-63h0m17 247h0m97-81h0m-225 33h0m318-79h0m-207 102h0m-74-107h0m218 12h0m-75-19h0m-75 166h0m-60-31h0m46-255h0m223 148h0m-49-5h0m65 128h0m-159-8h0m166-107h0m-155-1h0m55-169h0m101 284h0m-98-98h0m75-81h0m-21-42h0m-126 232h0m-21-121h0m-1-65h0m0-34h0m139 85h0m-58-18h0m93 29h0m-301-29h0m234 164h0m-138-91h0m11-62h0m246 16h0m-254-35h0m54 54h0m-141-3h0m218 115h0m82-52h0m-27-108h0m-148-31h0m-133 96h0m360-42h0m-159 33h0m40-136h0m-267 89h0m40 41h0m279-7h0m-274-118h0m46 222h0m182-249h0m-48 2h0m-59 7h0m126 193h0m92-37h0m-258-29h0m36 131h0m75-210h0m48 131h0m-158-16h0m110-72h0m-160 90h0m-87-35h0m49-63h0m322 21h0m-242 16h0m48-33h0m-117 108h0m92-172h0m-66 21h0m-60 152h0m333-125h0m-206 2h0m127 185h0m54-215h0m-194 36h0m185 175h0m-115-232h0m-45 226h0m127-242h0m14-42h0m-298 86h0m371 147h0m-103-237h0m19 207h0m2-141h0m25 24h0m-236 132h0m163-163h0m74 145h0m-76-8h0m98-76h0m-229 40h0m-57 87h0m36-58h0m265 11h0m-272-72h0m133 136h0m-185-114h0m223-113h0m49 25h0m-242 130h0m178-10h0m81 48h0m27-48h0m-350-66h0m142 41h0m182 39h0m-13-173h0m67 78h0m-142 203h0m94-91h0m67-54h0m-214 24h0m53-59h0m97 6h0m0 11h0m-168 178h0m-25-254h0m35 50h0m-49-15h0m127 144h0m82-85h0m-98 19h0m69 57h0m-207 53h0m73-61h0m125 25h0m-6 53h0m-76-13h0m-11-211h0m-69-8h0m62 30h0m-76 199h0m-28-73h0m143-87h0m-179-49h0m191 42h0m112-72h0m-247 57h0m48 170h0m-82-264h0m152 20h0m100 172h0m-228 22h0m150-218h0m79 113h0m-111-39h0m40-95h0m-238 125h0m169-130h0m-37-4h0m253 137h0m-94-93h0m-212 185h0m51-55h0m207 5h0m18-85h0m-113-51h0m-220 90h0m247 30h0m-245 40h0m-3-102h0m84 22h0m161 161h0m-235-47h0m167-184h0m76 220h0m-236-188h0m306 118h0m-175 18h0m82-165h0m-102 63h0m72 154h0m8-107h0m-155 21h0m144-81h0m-190 8h0m193 1h0m-24 186h0m-58-172h0m255 39h0m-253-94h0m-39 114h0m152-106h0m-40 187h0m-91 55h0m42-319h0m75 8h0m-157 166h0m52-39h0m168 37h0m48-28h0m-239-86h0m35 44h0m-8-49h0m155 90h0m-211-61h0m46 60h0m141 150h0m-259-115h0m200 15h0m28-7h0m39 23h0m-39-130h0m4-54h0m-106 206h0m-30-124h0m-9 59h0m174 117h0m31-168h0m-35-18h0m4 195h0m28-57h0m-29 14h0m85-165h0m-273 23h0m17 155h0m-1-209h0m172 56h0m39 136h0m17-183h0m-257-14h0m110 123h0m-70-9h0m-55 112h0m15 20h0m259-246h0m-171 33h0m-175 28h0m-6 63h0m315-56h0m6 170h0m73-179h0" stroke="#f8766d" stroke-width="12.4" stroke-linecap="round" opacity="0.7" fill="none"/>
<path transform="scale(.1)" d="M190 2238h0m9-80h0m45 89h0m-62 70h0m-13-111h0m28-37h0m0 137h0m-23-117h0m75 38h0m-89-35h0m88 60h0m-65-77h0m10 88h0m-36-65h0m27 31h0m68-40h0m-6 38h0m-12-6h0m6-32h0m-32 92h0m-38 23h0m-3-119h0m74 54h0m-51 74h0m36-132h0m-43 8h0m-27 49h0m25-39h0m10 56h0m23-28h0m12 29h0m-43 58h0m55-156h0m-17 19h0m-14 30h0m40-18h0m-41-40h0m-11 139h0m41-58h0m14 34h0m-43-83h0m52 47h0m-15-58h0m-25 30h0m-48 83h0m23-98h0m49 59h0m-70 55h0m36-136h0m12 3h0m-57 118h0m14-9h0m-24-42h0m64-93h0m-38 126h0m28-34h0m19 66h0m11-130h0m6 42h0m6 13h0m-11 69h0m9-83h0m-59-18h0m-40 60h0m77 36h0m-1-106h0m-69 43h0m1 24h0m18 31h0m51-38h0m27-53h0m-35-15h0m33 79h0m-54-17h0m42 39h0m-43-9h0m-32-57h0m28-16h0m57 51h0m-60 52h0m55-26h0m-62-3h0m52-10h0m-8 21h0m-44-99h0m9 132h0m27-136h0m-32 45h0m29 20h0m-28 24h0m-2-113h0m35 102h0m-57-63h0m14 26h0m62 0h0m-46 79h0m-23 15h0m70-67h0m-44-79h0m-29 57h0m-3-21h0m60 73h0m-9 26h0m-25-58h0m0 0h0m28-83h0m11 59h0m-34-70h0m3 46h0m3 82h0m-16-20h0m-5 42h0m51-81h0m-44-22h0m-10-32h0m49-11h0m5 143h0m0-130h0m-37 101h0m39 34h0m28-79h0m-83-50h0m57 109h0m-74-20h0m93-5h0m-61-64h0m-17 36h0m45 68h0m-54-6h0m76-84h0m-26 12h0m-26 24h0m12 55h0m-2-141h0m1 20h0m-20 63h0m5-10h0m31 78h0m-16-9h0m13-4h0m9-2h0m-71-46h0m42-86h0m45 109h0m-37 53h0m-2-176h0m-45 127h0m71-98h0m-71 73h0m56-68h0m-19 96h0m-24-46h0m27 65h0m-37-6h0m26-63h0m31 78h0m8-120h0m-55 47h0m78 42h0m-31-100h0m14 84h0m17-15h0m-58 41h0m44-95h0m28 30h0m-60-10h0m-47 21h0m17 43h0m19 36h0m26-33h0" stroke="#f8766d" stroke-width="12.4" stroke-linecap="round" opacity="0.7" fill="none"/>
<path transform="scale(.1)" d="M550 2265h0m-88 24h0m7-19h0m30-4h0m52-10h0m-162-31h0m47-15h0m32 56h0m-40-3h0m-19-46h0m124 31h0m-62-48h0m69 43h0m-123-10h0m129-21h0m-3 0h0m-181 49h0m-11 23h0m140-67h0m8 49h0m-86 42h0m52-37h0m-54 24h0m42-19h0m4-49h0m-87 17h0m53-39h0m-13 50h0m110 24h0m-36 0h0m-152-47h0m163 9h0m-46 46h0m-49-78h0m125 24h0m-112 9h0m117-17h0m-90 63h0m-101-13h0m62-47h0m33 38h0m107 1h0m-121-28h0m-87-14h0m17 32h0m71-61h0m14 73h0m109-9h0m21-10h0m-103 54h0m20-9h0m-155-55h0m80-21h0m65 78h0m3 3h0m-13-28h0m61 6h0m-107-21h0m-3-54h0m89 11h0m7 15h0m-135 17h0m44-30h0m95 22h0m-30 5h0m-83 23h0m145-53h0m-8 52h0m-109-46h0m76-8h0m-119 10h0m-67 26h0m122 11h0m17-15h0m-136 30h0m15 15h0m160-14h0m-105 26h0m71-18h0m-68-31h0m-55-11h0m159 11h0m-153 4h0m185 0h0m-43 40h0m-96-46h0m109 50h0m-6-16h0m26-7h0m6-10h0m-81-11h0m-22-59h0m133 39h0m-223-10h0m230 22h0m-107-15h0m-38 63h0m52-78h0m-14 39h0m-47 50h0m-29-63h0m134 50h0m-38-90h0m27 32h0m3 33h0m-153 8h0m201-37h0m-33 26h0m-150-49h0m99 19h0m42 24h0m-107 32h0m-29-83h0m20 3h0m72-17h0m-122 30h0m191 3h0m-38 31h0m-135-51h0m36 48h0m58 0h0m18-58h0m51 60h0m-127 17h0m112 18h0m-17-94h0m-148 79h0m65-34h0m-79-16h0m42-19h0m-48 41h0m54-47h0m90 3h0m-16 7h0m-74 23h0m-27 36h0m101-23h0m-52-23h0m4 50h0m-23-17h0m42 43h0m134-45h0m-159 29h0m34-62h0m1 13h0m-81 64h0m113-21h0m42-10h0m-76 30h0m-8-17h0m-35 13h0m-1-67h0m-10 22h0m-9-37h0m28 41h0m151-3h0m-97 30h0m-49-79h0m-74 48h0m134-51h0m-101 72h0m103-81h0m2 68h0m25-19h0m-69 31h0m78-29h0m-117 61h0m76-24h0m4 29h0m-103-38h0m-24 0h0m61 4h0m-16-10h0m125-55h0m46 35h0m9-7h0m-181 41h0m45-51h0m-8 69h0m-58-84h0m-4 17h0m168 2h0m-16 54h0m-105 0h0m59-56h0m57 2h0m-185 16h0m29 13h0m91 13h0m97-18h0m-62-57h0m36 5h0m-20 30h0m-40-25h0m9 39h0m13-28h0m-68 64h0m87-9h0m-75-36h0m-22 32h0m93-13h0m-99-25h0m30 50h0m-105-8h0m42 21h0m139-10h0m-143-3h0m31-61h0m57 50h0m61 8h0m-53-56h0m14 2h0m-65-16h0m47 12h0m8 55h0m47-76h0m-38 103h0m-50-23h0m-56-64h0m18 78h0m-53-11h0m123-71h0m-44 88h0m4-22h0m102 6h0m-75-44h0m-68 4h0m-33 9h0m202 15h0m9-23h0m-237 3h0m230 19h0m-91-35h0m-89-23h0m150 25h0m-71-7h0m-12 37h0m119-45h0m-190-6h0m35 65h0m86-81h0m42 9h0m-196 77h0m190-37h0m-206-1h0m217 22h0m-14-42h0m45 2h0m-123 31h0m54 19h0m-104-60h0m137-3h0m-135-1h0m129 22h0m14-4h0m-186 27h0m63-62h0m85 87h0m-52-77h0m60 84h0" stroke="#f8766d" stroke-width="12.4" stroke-linecap="round" opacity="0.7" fill="none"/>
<path transform="scale(.1)" d="M742 2244h0m-105 44h0m130-17h0m-54 19h0m63 24h0m-28-29h0m2 12h0m-29 16h0m48-58h0m-79 59h0m110-19h0m-142-20h0m78 42h0m-45-6h0m81-54h0m-109 43h0m127-10h0m-7 14h0m-124 2h0m2-57h0m51 66h0m29-4h0m-82-16h0m36-44h0m31-13h0m-77 46h0m95-16h0m10 4h0m-81 17h0m-30-35h0m36 9h0m-9 36h0m-44-33h0m66-17h0m107 46h0m-15-3h0m6 10h0m-73-9h0m-37-59h0m67 52h0m-100-39h0m46 51h0m-48 1h0m85 14h0m-80-18h0m46-4h0m87 11h0m-12 22h0m-145-61h0m116 17h0m-107-22h0m150 46h0m-25 5h0m-94-40h0m61 19h0m-10-2h0m6 39h0m65-31h0m-53-40h0m7 3h0m15 65h0m42-26h0m-14-23h0m-106 42h0m102-39h0m-33-23h0m-6 12h0m-109-13h0m81-4h0m-60 50h0m96-46h0m-18 3h0m38 5h0m-69 54h0m-5-70h0m55 52h0m-40-47h0m28 74h0m-35-67h0m99 26h0m-133-32h0m33 46h0m3-24h0m-45-13h0m65 58h0m6-35h0m-70 9h0m2-53h0m30 9h0m20-7h0m-56 47h0m63 29h0m-84-38h0m77-17h0m-23 47h0m113-3h0m-58-58h0m-120 23h0m105 11h0m10 21h0m-52-53h0m31 1h0m-9 57h0m-72-30h0m108 37h0m18-8h0m-24-36h0m58 9h0m-4 23h0m-133-64h0m35 30h0m-22-6h0m-41 27h0m21-23h0m15 18h0m89-3h0m-33 23h0m78-7h0m-166-17h0m104-3h0m-97-18h0m14 11h0m94 37h0m-81-52h0m39 37h0m47-33h0m-22 47h0m-2 9h0m-77-68h0m122 16h0m-145 12h0m122-20h0m-28 51h0m-20-22h0m98 18h0m-95-50h0m62 22h0m-29 29h0m-20-5h0m12 29h0m19-51h0m-114 15h0m34-4h0m-11 18h0m71-46h0m48 43h0m-73-2h0m85-28h0m-117 39h0m-22-37h0m102 33h0m-95-36h0m48 4h0m37-27h0m-84 5h0m42 36h0m-14 20h0m-14-19h0m-44-18h0m10-19h0m47 0h0m-47 30h0m40 26h0m-29-21h0m25-50h0m2 69h0m90-48h0m-113 38h0m40-17h0m44 44h0m-106-71h0m-7 24h0m73-15h0m27 12h0m14-7h0m-37-5h0m49 4h0m-72 21h0m72-28h0m-86 25h0m1-3h0m15 22h0m-4 4h0m70-43h0m-114 2h0m115 14h0m-37 28h0m54-31h0m-14 31h0m-73-45h0m82 11h0m13 30h0m-67-13h0m-54-38h0m95 38h0m-94-35h0m68 13h0m-99-13h0m39 13h0m37 9h0m-52 13h0m139 6h0m-167-37h0m105 6h0m23 1h0m-48-25h0m-66 33h0m66 1h0m-24 5h0m10-6h0m44 42h0m71-19h0m-87 1h0m-44-24h0m98 30h0m-101-30h0m44 23h0m-5-19h0m91 2h0m-69 34h0" stroke="#f8766d" stroke-width="12.4" stroke-linecap="round" opacity="0.7" fill="none"/>
<path transform="scale(.1)" d="M383 2052h0m-51 20h0m31-14h0m-21-26h0m45 51h0m-38-8h0m7-39h0m-42 39h0m52-17h0m17 1h0m-86-17h0m88 9h0m-69-17h0m71 19h0m-48-12h0m-21-9h0m43 54h0m-9 0h0m13-24h0m-44 1h0m18-16h0m1 17h0m43-10h0m-46 28h0m-31-51h0m51 18h0m-33 14h0m59-3h0m-78-21h0m38 36h0m19 10h0m24-2h0m-28-28h0m-34 21h0m5-15h0m41-1h0m-16 0h0m38 7h0m-44-32h0m-3 39h0m8-6h0m-27-8h0m-17-5h0m-10 10h0m45-33h0m-56 21h0m-3 11h0m14-10h0m28-18h0m29 13h0m20 36h0m-47-17h0m63 5h0m-17-28h0m-40 24h0m30 13h0m17 1h0m-34 5h0m-1 0h0m-11-34h0m-5-17h0m39 53h0m-31 0h0m-35-54h0m47 27h0m-31 5h0m20-8h0m5-20h0m-31 26h0m21-15h0" stroke="#20b0a8" stroke-width="12.4" stroke-linecap="round" opacity="0.7" fill="none"/>
<path transform="scale(.1)" d="M354 2157h0m36-15h0m-20 25h0m25-2h0m-35-1h0m-9-7h0m32-34h0m9 41h0m-22-8h0m13 3h0m-2-32h0m8 28h0m-40-20h0m0 26h0m50-11h0m-29 19h0m16-24h0m-38-4h0m56 12h0m-32-4h0m6-12h0m-28-3h0m9 31h0m16-23h0m-17 17h0m23 7h0m-6 0h0m-6-35h0m-17-1h0m18 15h0m-16 5h0m51-3h0m-22-11h0m-18 5h0m26 14h0m8-6h0m-25-1h0m35-7h0m-15 21h0m-21-35h0" stroke="#619cff" stroke-width="12.4" stroke-linecap="round" opacity="0.7" fill="none"/>
<path transform="scale(.1)" d="M555 2152h0m-15-85h0m-15 92h0m-55-134h0m47 125h0m-17-94h0m32 79h0m-25-18h0m29-56h0m21 54h0m-2-20h0m6 15h0m-92-96h0m21 31h0m67 71h0m-36-38h0m-47-54h0m48 111h0m26-46h0m-59-39h0m-12 3h0m21 84h0m64-22h0m-31-53h0m17 19h0m-92-43h0m45 17h0m-24 16h0m-21-48h0m56 105h0m-20-8h0m38-16h0m3 55h0m27-47h0m-89-16h0m58 13h0m9-28h0m24 59h0m-35-20h0m-63-54h0m87 78h0m-16-31h0m-74-85h0m25 38h0m47 48h0m22 17h0m-67-51h0m-26-46h0m31 78h0m22 16h0m11 15h0m-5-88h0m-27 24h0m20-45h0m-55 17h0m92 48h0m-68-10h0m2-29h0m34 0h0m-7 45h0m9 20h0m-48-40h0m32 58h0m16-98h0m-14 33h0m-23 36h0m35 39h0m29-43h0m-62-59h0m-1 21h0m32-21h0m-41-7h0m53 81h0m-26-49h0m-13-15h0m-15 39h0m81 45h0m-50-79h0m27 16h0m25 58h0m-15-55h0m-35 18h0m12-45h0m-22 71h0m-8-81h0m18 37h0m-16-5h0m15 48h0m-15-76h0m9-19h0m12 28h0m-25-3h0m-12-42h0m48 131h0m26-9h0m-94-108h0m36 54h0m4-35h0m1 20h0m15-10h0m2 20h0m-32 8h0m66 37h0m-8 26h0m1-47h0m-13-24h0m-23 27h0m26-7h0m24 27h0m-42 0h0m-32-101h0m72 77h0m-91-69h0m21 49h0m21 20h0m-38-15h0m42-56h0m11 126h0m31-43h0m-66-34h0m45 64h0m-21-89h0m28 55h0m-6 19h0m-42-14h0m32-67h0m-21 75h0m-15-36h0m19-12h0m6 37h0" stroke="#93aa00" stroke-width="12.4" stroke-linecap="round" opacity="0.7" fill="none"/>
<path transform="scale(.1)" d="M492 2221h0m7-15h0m38-54h0m-16 16h0m-89 35h0m62-2h0m21 14h0m-29-60h0m37 45h0m-55-22h0m-24 16h0m95-7h0m0 6h0m-56-35h0m24 17h0m17 26h0m-38-32h0m46 10h0m-92-5h0m108 0h0m-17 10h0m-83 15h0m42-11h0m-16-35h0m27 62h0m-11-46h0m-6 54h0m-58-27h0m90 18h0m-2-64h0m-18 51h0m36-15h0m-58 8h0m59-38h0m7 24h0m-70-4h0m49-5h0m0-9h0m-21 52h0m-56-39h0m122 4h0m-70 2h0m-48 13h0m-9-21h0m25-11h0m-29 35h0m30 16h0m51-8h0m16 0h0m-80-26h0m78-4h0m-71 39h0m68-20h0m-85 10h0m100-17h0m-106 2h0m33-34h0m11 53h0m20 16h0m23-37h0m-64 27h0m54-30h0m53-13h0m-96 32h0m64 3h0m-19-21h0m-35-21h0m47 50h0m-47-8h0m-45-4h0m13-31h0m38 6h0m19-6h0m-64 51h0m41-16h0m17-56h0m27 48h0m-2 10h0m-57-14h0m25 16h0m7-5h0m44-14h0m-77-9h0m40 34h0m28-3h0m-103 2h0m111-16h0m20-44h0m-129 38h0m56-44h0m-10 38h0m28-3h0m53-12h0m-91 9h0m44-11h0m-61 38h0m-6-3h0m32 18h0m78-64h0m-98 60h0m97-47h0m-84-14h0m-25 28h0m94 8h0m-48-14h0m-4 42h0m-11-13h0m36-56h0m-33 45h0m34-3h0m20-31h0m-69 16h0m-28 1h0m8 9h0m53-33h0m65 9h0m-25 19h0m-53-2h0m70-29h0m-52 47h0m31 12h0m-6-50h0m-39 24h0m-14 12h0m39-46h0m-40 27h0m-16 14h0m84-45h0m-43 38h0m-13-12h0" stroke="#00ba38" stroke-width="12.4" stroke-linecap="round" opacity="0.7" fill="none"/>
<path transform="scale(.1)" d="M597 2123h0m-11-7h0m47 12h0m-31 17h0m50-64h0m1 52h0m-9-10h0m-45-33h0m15 17h0m49-28h0m-27 41h0m-20 33h0m73-70h0m-47 42h0m-36 2h0m-20-12h0m112 25h0m-70-43h0m40 38h0m-34-56h0m-10 59h0m-5-3h0m75-38h0m-77 36h0m0 22h0m54-68h0m-71 9h0m25 27h0m54-27h0m-27 52h0m-1-31h0m27-14h0m-18 16h0m21 4h0m-83-30h0m70-12h0m-9 62h0m-61-55h0m12 17h0m31-6h0m27 57h0m-32-66h0m9-3h0m-21 25h0m27 28h0m-16 19h0m3-46h0m-59 11h0m53-14h0m-27-21h0m16 4h0m9-8h0m28 44h0m-66-41h0m114 22h0m-3-26h0m-57 67h0m22-38h0m-41 31h0m40 11h0m-5-79h0m-57 73h0m47-11h0m-7-29h0m1-10h0m25-23h0m14 46h0m-11 32h0m-11-52h0m32 18h0m-15 15h0m-78-20h0m112 11h0m-113-15h0m46-6h0m-18 4h0m-12 17h0m44-47h0m-2 57h0m-17-51h0m-16-12h0m-31 64h0m73-3h0m10-41h0m-77 8h0m2 41h0m-17-35h0m-10 25h0m102 4h0m38-31h0m-103-17h0m35 26h0m-30 38h0m24-75h0m43 69h0m-54-42h0m2-32h0m32 46h0m19-30h0m-18 0h0m-45 12h0m78-10h0m-35 53h0m-68-21h0m-6-19h0m20 13h0m36 4h0m-57 9h0m111-16h0m-119 12h0m57 9h0m34-31h0m38-11h0m-29 20h0m-27-27h0m-16 13h0m21 28h0m-42 15h0m87-27h0m-43 7h0m-2 34h0m56-54h0m-31 44h0m9-11h0m-65-45h0m10 62h0m44-1h0m-24-3h0m13-21h0m8-36h0m11 45h0m0-45h0m-101 43h0m82-45h0m-45 17h0m-34 9h0m100 26h0m17-50h0m-83 64h0m74-25h0m-106 19h0m46-24h0m-9 20h0m-36-29h0m112 20h0m-52-15h0m37 24h0m-76-22h0m31 18h0m-24 4h0m-2-40h0m-15 34h0m-17-31h0m84-3h0m-11 35h0m-11-20h0m-13 25h0m-1-18h0m-33-42h0m81 11h0m-13 5h0m21 44h0m-52-3h0m44 10h0m-8-43h0m22-8h0m-52-28h0m45 33h0m-65 30h0m13-41h0m-8-11h0m43 2h0m-54 39h0m19 26h0m-7-54h0m85 13h0m-46 37h0m-83-10h0m25-5h0m6 22h0m13-81h0m23 43h0m-33-40h0m78 62h0m-85 2h0m-8-4h0m41-42h0m35 29h0m4-30h0m-99 33h0" stroke="#d39200" stroke-width="12.4" stroke-linecap="round" opacity="0.7" fill="none"/>
<path transform="scale(.1)" d="M750 2422h0m-12 2h0m-15 9h0m-18-30h0m11 1h0m-16-3h0m21 3h0m1 3h0m5 38h0m-14-67h0m36 63h0m-27-64h0m-16 16h0m15 37h0m-10-19h0m24-24h0m-32 32h0m27-16h0m-23 10h0m7 9h0m16 32h0m-20-57h0m8-7h0m-13 11h0m46 42h0m-20-27h0m17 30h0m-15 6h0m-18-19h0m31-12h0m-6-35h0m-11-15h0m-13 32h0m2 38h0m17-19h0m-15-8h0m-1 17h0m3-19h0m-2-22h0m21 8h0m-4 44h0m0 4h0m-2-20h0m-1-11h0m-12-18h0" stroke="#00b9e3" stroke-width="12.4" stroke-linecap="round" opacity="0.7" fill="none"/>
<path transform="scale(.1)" d="M892 2201h0" stroke="#f8766d" stroke-width="13" stroke-linecap="round" opacity="0.9" fill="none"/>
<text x="91.5" y="220.9" font-size="2.2" text-anchor="start" fill="#333" font-weight="normal" font-style="normal" stroke="#333" stroke-width="0.06">Macrophage</text>
<path transform="scale(.1)" d="M892 2230h0" stroke="#d39200" stroke-width="13" stroke-linecap="round" opacity="0.9" fill="none"/>
<text x="91.5" y="223.79" font-size="2.2" text-anchor="start" fill="#333" font-weight="normal" font-style="normal" stroke="#333" stroke-width="0.06">NK Cell</text>
<path transform="scale(.1)" d="M892 2259h0" stroke="#93aa00" stroke-width="13" stroke-linecap="round" opacity="0.9" fill="none"/>
<text x="91.5" y="226.68" font-size="2.2" text-anchor="start" fill="#333" font-weight="normal" font-style="normal" stroke="#333" stroke-width="0.06">T cell</text>
<path transform="scale(.1)" d="M892 2288h0" stroke="#00ba38" stroke-width="13" stroke-linecap="round" opacity="0.9" fill="none"/>
<text x="91.5" y="229.57" font-size="2.2" text-anchor="start" fill="#333" font-weight="normal" font-style="normal" stroke="#333" stroke-width="0.06">B cell</text>
<path transform="scale(.1)" d="M892 2317h0" stroke="#00c19f" stroke-width="13" stroke-linecap="round" opacity="0.9" fill="none"/>
<text x="91.5" y="232.46" font-size="2.2" text-anchor="start" fill="#333" font-weight="normal" font-style="normal" stroke="#333" stroke-width="0.06">Myeloid</text>
<path transform="scale(.1)" d="M892 2346h0" stroke="#00b9e3" stroke-width="13" stroke-linecap="round" opacity="0.9" fill="none"/>
<text x="91.5" y="235.35" font-size="2.2" text-anchor="start" fill="#333" font-weight="normal" font-style="normal" stroke="#333" stroke-width="0.06">Mesenchymal</text>
<path transform="scale(.1)" d="M892 2374h0" stroke="#619cff" stroke-width="13" stroke-linecap="round" opacity="0.9" fill="none"/>
<text x="91.5" y="238.24" font-size="2.2" text-anchor="start" fill="#333" font-weight="normal" font-style="normal" stroke="#333" stroke-width="0.06">Plasma cell</text>
<path transform="scale(.1)" d="M892 2403h0" stroke="#db72fb" stroke-width="13" stroke-linecap="round" opacity="0.9" fill="none"/>
<text x="91.5" y="241.13" font-size="2.2" text-anchor="start" fill="#333" font-weight="normal" font-style="normal" stroke="#333" stroke-width="0.06">Fibroblasts</text>
<path transform="scale(.1)" d="M892 2432h0" stroke="#ff61c3" stroke-width="13" stroke-linecap="round" opacity="0.9" fill="none"/>
<text x="91.5" y="244.02" font-size="2.2" text-anchor="start" fill="#333" font-weight="normal" font-style="normal" stroke="#333" stroke-width="0.06">Dendritic cell</text>
<text x="112.3" y="194.6" font-size="5.4" text-anchor="start" fill="#111" font-weight="bold" font-style="normal" stroke="#111" stroke-width="0.2">G</text>
<line x1="124.25" y1="198.75" x2="124.25" y2="262.5" stroke="#8c8c8c" stroke-width="0.45"/>
<line x1="124.25" y1="262.5" x2="192.5" y2="262.5" stroke="#8c8c8c" stroke-width="0.45"/>
<line x1="123.25" y1="214.5" x2="124.25" y2="214.5" stroke="#8c8c8c" stroke-width="0.3"/>
<text x="122.8" y="215.3" font-size="2.3" text-anchor="end" fill="#333" font-weight="normal" font-style="normal" stroke="#333" stroke-width="0.06">20</text>
<line x1="123.25" y1="231.25" x2="124.25" y2="231.25" stroke="#8c8c8c" stroke-width="0.3"/>
<text x="122.8" y="232.05" font-size="2.3" text-anchor="end" fill="#333" font-weight="normal" font-style="normal" stroke="#333" stroke-width="0.06">0</text>
<line x1="123.25" y1="248.25" x2="124.25" y2="248.25" stroke="#8c8c8c" stroke-width="0.3"/>
<text x="122.8" y="249.05" font-size="2.3" text-anchor="end" fill="#333" font-weight="normal" font-style="normal" stroke="#333" stroke-width="0.06">-20</text>
<line x1="138.75" y1="262.5" x2="138.75" y2="263.5" stroke="#8c8c8c" stroke-width="0.3"/>
<text x="138.75" y="266.2" font-size="2.3" text-anchor="middle" fill="#333" font-weight="normal" font-style="normal" stroke="#333" stroke-width="0.06">-20</text>
<line x1="156.25" y1="262.5" x2="156.25" y2="263.5" stroke="#8c8c8c" stroke-width="0.3"/>
<text x="156.25" y="266.2" font-size="2.3" text-anchor="middle" fill="#333" font-weight="normal" font-style="normal" stroke="#333" stroke-width="0.06">0</text>
<line x1="174.5" y1="262.5" x2="174.5" y2="263.5" stroke="#8c8c8c" stroke-width="0.3"/>
<text x="174.5" y="266.2" font-size="2.3" text-anchor="middle" fill="#333" font-weight="normal" font-style="normal" stroke="#333" stroke-width="0.06">20</text>
<text x="158" y="269.5" font-size="2.5" text-anchor="middle" fill="#333" font-weight="normal" font-style="normal" stroke="#333" stroke-width="0.06">tSNE_1</text>
<text x="118" y="231" font-size="2.5" text-anchor="middle" fill="#333" font-weight="normal" font-style="normal" transform="rotate(-90 118 231)" stroke="#333" stroke-width="0.06">tSNE_2</text>
<path transform="scale(.1)" d="M1492 2291h0m23 132h0m-56-117h0m31 13h0m-67 72h0m-13 9h0m266-15h0m-103 174h0m51 15h0m71-83h0m-14-3h0m-47-146h0m-236 137h0m117 66h0m63-1h0m-195-219h0m169 172h0m47-34h0m64-69h0m-152 144h0m-44-119h0m58 10h0m158-22h0m-105 16h0m-206 21h0m285 44h0m-260-112h0m208-77h0m-65 53h0m-81 49h0m67 75h0m52 67h0m-123-232h0m113 26h0m-58-3h0m37 144h0m-12-184h0m174 149h0m-368-62h0m290 82h0m87 7h0m-372-96h0m154-3h0m81 33h0m-107 59h0m-124 45h0m200-77h0m115-46h0m-37-83h0m-5 136h0m-162-135h0m68 159h0m-124-41h0m215-86h0m-96 38h0m-45 9h0m31 129h0m-82 69h0m44-145h0m-52 24h0m-24-54h0m254 19h0m9 38h0m-173 95h0m5-127h0m57-126h0m94 66h0m-143 112h0m-140-8h0m68 18h0m-58-116h0m98 127h0m-2-207h0m102 286h0m-57-249h0m-132 96h0m151 32h0m182 35h0m-254 48h0m73-201h0m116 116h0m-150 123h0m143-202h0m-72-89h0m82 133h0m-101-82h0m-58-51h0m127 78h0m-176 211h0m18-184h0m-5-16h0m-35 28h0m224 68h0m-41 29h0m7 68h0m-58-239h0m68 198h0m66-124h0m-118 125h0m-206-146h0m316 76h0m-257-57h0m207 0h0m-159-120h0m13 171h0m-137-14h0m329-69h0m-258 108h0m258-132h0m-284 40h0m15-12h0m6-55h0m14 182h0m57-55h0m-11 115h0m83-6h0m104-198h0m8 106h0m-81-12h0m-95-50h0m-101-54h0m256 203h0m-179-5h0m129-198h0m9 189h0m81-146h0m-75 4h0m-157 181h0m-81-244h0m73 83h0m125-44h0m-142 197h0m154-179h0m-11 126h0m-45 29h0m-164-172h0m85 174h0m94-53h0m-53-173h0m-43 258h0m262-175h0m-269-57h0m-26 1h0m-55 58h0m102 14h0m-64 17h0m70-64h0m102 62h0m-207 93h0m157 26h0m-57 16h0m111-69h0m-180-60h0m92 0h0m-12 72h0m84-40h0m-94-45h0m146-126h0m57 49h0m-180 207h0m58 8h0m-139-209h0m132 208h0m122-200h0m2-22h0m-187 181h0m-67 8h0m168-214h0m-188 139h0m216-159h0m-160 276h0m-88-134h0m114 29h0m84-145h0m-34 197h0m-98-107h0m13 12h0m-16-97h0m58 108h0m-47 2h0m100 7h0m-52-135h0m136 67h0m-139 4h0m2 119h0m188-5h0m-8-84h0m-193-33h0m207 122h0m-231 69h0m252-144h0m-24-89h0m-125 11h0m-19 88h0m-67-121h0m-53 25h0m246 35h0m-141 128h0m-117-55h0m-21 48h0m79-78h0m18 44h0m124-129h0m-202 111h0m97 145h0m5-97h0m-28 47h0m157-155h0m-104 190h0m52-232h0m-89 66h0m43 72h0m-120-95h0m237-48h0m-265 18h0m189 128h0m19-1h0m-64 84h0m-178-125h0m372-36h0m-330 64h0m194-155h0m-80 61h0m102 185h0m-253-177h0m164 208h0m79-222h0m-166 183h0m217-118h0m-80 33h0m36 35h0m-93-1h0m16-217h0m0 228h0m-125-171h0m60 51h0m121-110h0m-92 96h0m46-12h0m-18 225h0m145-62h0m-32-122h0m-68 108h0m-30-152h0m148 105h0m-92-42h0m-70 151h0m-37-54h0m139-129h0m-51-111h0m5 13h0m-150 111h0m245 153h0m-192-126h0m-64 3h0m-42-91h0m180 152h0m-183-96h0m331-30h0m-188 95h0m-112 55h0m105-14h0m146-42h0m-104-113h0m-81 75h0m2 55h0m91-62h0m133 49h0m-68 48h0m-154-4h0m213 19h0m-282-63h0m268 14h0m-140-88h0m30 144h0m72-40h0m42 44h0m-316-51h0m157-35h0m-15 129h0m6-169h0m-42-12h0m90-36h0m25 101h0m78 39h0m-46-159h0m-120 237h0m-89-89h0m238-13h0m-221-59h0m97-70h0m173 147h0m19-92h0m-204-92h0m-27 97h0m-57 69h0m143 70h0m121-142h0m-146 28h0m-164-3h0m72-19h0m260 73h0m-224-54h0m158 58h0m-102-117h0m110 159h0m1-140h0m-263-11h0m-9 121h0m66-14h0m-17 19h0m-65-152h0m271 195h0" stroke="#e49090" stroke-width="12" stroke-linecap="round" opacity="0.62" fill="none"/>
<path transform="scale(.1)" d="M1609 2411h0m-19-78h0m65 228h0m-171-129h0m-22-46h0m4-31h0m90 245h0m74-131h0m-87 14h0m-78-161h0m-13 97h0m139 143h0m-195-156h0m70-17h0m233 96h0m-135 32h0m90-198h0m28 122h0m-196 11h0m0 130h0m93-279h0m23 22h0m-227 38h0m-3 167h0m261-194h0m-254 80h0m85 160h0m184-143h0m-186 161h0m43-185h0m-92 106h0m289-134h0m-118 34h0m-91 1h0m220-6h0m-362 24h0m98 3h0m-86 30h0m278 22h0m-168 30h0m1-134h0m-49-17h0m138 159h0m-45-227h0m106 208h0m-100-212h0m154 176h0m-282 64h0m204-16h0m40 47h0m-224-185h0m87 128h0m192-43h0m-238-157h0m-21 115h0m193 40h0m3 12h0m-37-98h0m125 43h0m-14-24h0m-198 177h0m47-265h0m105 204h0m-124-95h0m-54 171h0m-24-220h0m248 107h0m-141-179h0m-200 97h0m195-111h0m104 132h0m-214 55h0m63-149h0m26 144h0m-134-113h0m58 108h0m49-73h0m126-84h0m-119-16h0m77 304h0m-73-253h0m156 97h0m-160 149h0m-160-101h0m219-47h0m-87 165h0m-8-64h0m-12-96h0m-6-81h0m40 107h0m-9-54h0m-65 169h0m-2-264h0m-36 60h0m145 181h0m-162-147h0m22 109h0m232 46h0m-36-76h0m-146 95h0m35-158h0m155-46h0m-20 57h0m-156 77h0m-79-69h0m230-68h0m-140 9h0m109 68h0m-31-96h0m-74 36h0m160-8h0m62 38h0m-211-41h0m-29-61h0m252 149h0m-338-23h0m238 46h0m-193-173h0m191 150h0m-148-26h0m90 63h0m79-51h0m-184-47h0m-53 149h0m238 6h0m52-30h0m-127-211h0m89 200h0m-79-127h0m-108-80h0m147 113h0m-101-12h0m145-43h0m-88 216h0m-81-189h0m54 11h0m-194 54h0m373 13h0m-368-81h0m352 116h0m-161 50h0m-137-54h0m273-34h0m-339-69h0m20-55h0m93 16h0m244 73h0m-29-6h0m-80 18h0m-206-109h0m-35 126h0m331-17h0m-215 93h0m135-48h0m-176-156h0m62 248h0m172-133h0m-158-5h0m-66 37h0m157-93h0m-175-86h0m239 184h0m-110-199h0m-99 217h0m-43-190h0m140 186h0m-207-92h0m203 128h0m-66-85h0m-61-121h0m136 38h0m-82 167h0m126-101h0m13-77h0m-238 137h0m225-171h0m-92 64h0m150 93h0m-132 13h0m-3 79h0m69-190h0m136 71h0m-22 69h0m-183-21h0m95-56h0m-132-34h0m61 26h0m-64 102h0m129-262h0m-49 16h0m-108 254h0m209 11h0m-118-263h0m141 96h0m-247-99h0m-1 125h0m163-30h0m8-104h0m-184 57h0m181 150h0m-73-170h0m-110 99h0m126-9h0m56 151h0m-131-69h0m141 73h0m-28-170h0m110 60h0m-15-110h0m-108-20h0m88 147h0m-286-80h0m223 0h0m-194 83h0m326-83h0m-208 51h0m72-158h0m-187 44h0m48 182h0m30-173h0m45 95h0m-157-26h0m119-127h0m75 124h0m101-89h0m-168-44h0m-116 110h0m183-104h0m17 119h0m-138-73h0m89 223h0m39 42h0m-95-19h0m-37-157h0m-18 87h0m208-138h0m-80-1h0m36 145h0m50-35h0m-24 11h0m-3-3h0m56-56h0m-152 169h0m0-290h0m90 176h0m-115-78h0m14-47h0m-5-30h0m103 153h0m-237 21h0m10-92h0m52 20h0m73 165h0m-45-54h0m185-123h0m-107-2h0m-110 96h0m-78-113h0m335 145h0m-133-47h0m133-118h0m-78 111h0m26-12h0m-97-107h0m197 51h0m-196 44h0m-189-23h0m332-54h0m-101 110h0m-12 65h0m-54-17h0m10-119h0m193 45h0m-28-98h0m-240 193h0m173-141h0m-90 66h0m93-190h0m-38 242h0m70-209h0m-77 260h0m42-301h0m-105 168h0m120 15h0m-249-119h0m243-16h0m-196 56h0m106 38h0m112 77h0m-112-130h0m-106-51h0m232 57h0m35 69h0m-311-56h0m5 34h0m-20 34h0m175-85h0m69 40h0m-186 0h0m296 34h0m-135-155h0m80 115h0m-138 160h0m47-127h0m81-8h0m37-9h0m-32-72h0m-280 37h0m82 116h0m-4 37h0m201-135h0m-274-26h0m-11 122h0" stroke="#9898d0" stroke-width="12" stroke-linecap="round" opacity="0.62" fill="none"/>
<path transform="scale(.1)" d="M1498 2377h0m135 61h0m-129-40h0m105 161h0m-224-71h0m122 99h0m128-172h0m-169 169h0m36-273h0m118 113h0m-1-72h0m47 198h0m14-11h0m-161 61h0m-98-107h0m-21-146h0m103 14h0m-1 240h0m-70-102h0m230-135h0m-216 35h0m238 31h0m-213 122h0m145-213h0m-78 244h0m120-133h0m-301 64h0m61 10h0m-1-76h0m113-159h0m129 271h0m-216-6h0m107 46h0m23-170h0m-154-76h0m122-77h0m48 217h0m103-81h0m-242 8h0m129-140h0m-235 159h0m92 23h0m-34 32h0m177-157h0m42 18h0m-95 15h0m-69 105h0m45-119h0m-108 161h0m-40-43h0m44-118h0m228 127h0m-10-5h0m19 3h0m-76-104h0m100 22h0m-195 188h0m65-180h0m-62 13h0m207-22h0m-285-42h0m292 92h0m-253 94h0m200-174h0m-120 179h0m121-28h0m-22 69h0m12-84h0m-47 91h0m1-151h0m-10-93h0m22-45h0m31 160h0m-204-132h0m234-22h0m-13 27h0m-73 97h0m74 106h0m-79 27h0m30-202h0m-96 232h0m109-9h0m-17-142h0m-210 40h0m277 38h0m-41-207h0m-18 13h0m-29 238h0m-108-112h0m254 38h0m-206-41h0m-48 36h0m203-5h0m-111-182h0m-88 72h0m187 166h0m30-206h0m-88 105h0m-103-39h0m102-115h0m14 179h0m13-29h0m-3 79h0m-158 3h0m34-47h0m60 76h0m27-112h0m-213-46h0m328-12h0m-74 131h0m-174-94h0m-82 71h0m129-118h0m-115 147h0m109-54h0m37-163h0m-78 179h0m-55-132h0m227-47h0m-9-11h0m-23 75h0m-17 235h0m118-238h0m-219 162h0m-45-203h0m-51 114h0m341 76h0m-337-158h0m330 44h0m-25 11h0m-35 142h0m32-52h0m-339-35h0m12 9h0m100-117h0m237 28h0m-166-16h0m-163 81h0m294-99h0m14 170h0m-115-224h0m74 252h0m-96-164h0m-6-17h0m57 186h0m-46-39h0m86-206h0m-94 177h0m81-142h0m-35-31h0m-24-22h0m-14 120h0m120 123h0m-295-25h0m218-37h0m-171-39h0m219-95h0m-108 267h0m-93-26h0m159-253h0m-193 51h0m26 57h0m167 151h0m94-96h0m-246-20h0m-32-99h0m81 131h0m50 11h0m-49 15h0m140-164h0m-133 236h0m-105-180h0m217 153h0m11-256h0m92 63h0m-117 31h0m-191-59h0m255 3h0m-28 225h0m18-89h0m46-109h0m-98 77h0m19-123h0m-24 220h0m-188-64h0m113-162h0m-46-3h0m240 165h0m-151-176h0m-102 48h0m-24 13h0m232-9h0m-158 133h0m-86-91h0m179 145h0m53-2h0m-73-44h0m61 59h0m-81-184h0m70-23h0m-158 110h0m72-26h0m-75 98h0m125 25h0m-117-165h0m257 31h0m-287 62h0m206 21h0m-144-216h0m-78 157h0m103-95h0m-171 12h0m2 117h0m313-89h0m-102 186h0m37-141h0m-107-119h0m-116 43h0m170 129h0m70-66h0m103 23h0m-132 66h0m101-88h0m-86 9h0m-133-29h0m-27 52h0m45 14h0m-146-79h0m207 136h0m-165-95h0m245 126h0m-64-157h0m160 31h0m-158 1h0m60 4h0m-40-147h0m95 77h0m-150 33h0m14 17h0m26-142h0m63 28h0m-121 156h0m69-108h0m-104-60h0m102 156h0m4-57h0m101 0h0m-112 54h0m-173-75h0m38-58h0m129 45h0m-180-13h0m7 111h0m-9-17h0m-26 52h0m-1-25h0m61 106h0m57-210h0m209 117h0m-90-38h0m-50 9h0m117-73h0m-4 143h0m-169-71h0m94 33h0m-33-92h0m-58 46h0m46-135h0m-113 179h0m209 61h0m-78-77h0m19 76h0m-176-116h0m45 77h0m-115-55h0m220-7h0m-39-83h0m-12 151h0m11 41h0m-116-29h0m297-131h0m-43-48h0m41 32h0m-271 2h0m187 66h0m-122-78h0m219-6h0m4 32h0m-293 166h0m190-90h0m-237-97h0m86 195h0m78-241h0m-2 156h0m125-154h0m-204 49h0m89-49h0m84 41h0m-280 132h0m254-70h0m-122 140h0m232-126h0m-54-132h0m-173 195h0m46-19h0m91-51h0m-256-50h0m58 187h0m-84-163h0m166 2h0m151 149h0m-48 9h0" stroke="#b49090" stroke-width="12" stroke-linecap="round" opacity="0.62" fill="none"/>
<path transform="scale(.1)" d="M1393 2523h0m219-165h0m-120-9h0m-66 161h0m-34-13h0m2-29h0m141-10h0m139-25h0m-139 82h0m-104-48h0m41-13h0m-68 60h0m159-56h0m-141-69h0m235-1h0m-79 8h0m-84-92h0m36 46h0m86 42h0m-187 167h0m-45-94h0m273-125h0m-229 133h0m38 123h0m51-261h0m-65 155h0m55-203h0m-37 112h0m135-73h0m-25-30h0m-88 154h0m-60-140h0m198 78h0m-81 84h0m-169-47h0m225 23h0m-77 70h0m-67-169h0m23 151h0m-72-69h0m142 65h0m-57-151h0m104 247h0m-233-54h0m174-74h0m62 98h0m16-153h0m66-64h0m-266-39h0m100 93h0m146 87h0m-119-208h0m75 128h0m-242 1h0m168 86h0m133-71h0m-68-47h0m61 86h0m-244 69h0m106-63h0m-19-156h0m75 278h0m33-292h0m95 146h0m-280 135h0m71-125h0m18 99h0m9-34h0m33-168h0m3 17h0m-141 104h0m278 3h0m-217-120h0m153 149h0m-270-59h0m185-46h0m-72-87h0m170 122h0m-73 149h0m-93-229h0m-2 4h0m-37 14h0m86 174h0m80-45h0m-54 56h0m75-148h0m-170 132h0m155-127h0m-112 180h0m-64-136h0m209 0h0m-119-145h0m-94 59h0m-24 119h0m235-16h0m-171-57h0m-122-76h0m143 246h0m-81-196h0m43 147h0m-23 0h0m-81-67h0m160 63h0m-32-24h0m67-129h0m67-5h0m66 102h0m-138 11h0m-108 66h0m-3-126h0m158 9h0m-141 6h0m115 105h0m82-20h0m-118 63h0m-208-138h0m72 74h0m50-216h0m118 4h0m35 142h0m-144 19h0m117 16h0m42-129h0m-22 131h0m-263-5h0m178-53h0m-8 36h0m-61 56h0m244-86h0m-288-26h0m104 163h0m28 22h0m-39-69h0m-63-171h0m-65 153h0m204 54h0m-121-270h0m234 201h0m-41 51h0m-243-113h0m153 86h0m-88-45h0m-128 9h0m89-168h0m253 33h0m-299 141h0m237 56h0m50-130h0m-73-113h0m-196 252h0m322-98h0m-213 142h0m-106-125h0m167-184h0m72 170h0m22 35h0m-1 44h0m16-98h0m-62-132h0m-99 145h0m-63 98h0m82-233h0m-29 232h0m-1-166h0m163-2h0m-280 159h0m81-262h0m119 167h0m-49 84h0m-75-77h0m159-73h0m-73 125h0m-94-139h0m168 154h0m-46-141h0m103 101h0m-132 24h0m-14-140h0m-35 71h0m129-118h0m-18 221h0m-234-69h0m7-79h0m74 129h0m-52-189h0m141 114h0m-67-84h0m143 189h0m-108-279h0m-32 46h0m133 14h0m-247 93h0m243 46h0m-128 14h0m-16-85h0m-5-57h0m2 144h0m21-103h0m-38 134h0m-54-8h0m230-15h0m90-103h0m-333 21h0m92 166h0m101-33h0m-61-120h0m198 19h0m-153 62h0m0-1h0m-101 47h0m-22-156h0m20 95h0m159-57h0m12-128h0m70 206h0m-25-134h0m-193 34h0m37 181h0m116-156h0m-135 75h0m178-106h0m-203 157h0m-126-183h0m209 160h0m-189-202h0m-10 142h0m269-101h0m-189 199h0m94-40h0m138-35h0m-55-68h0m-20-90h0m-186 89h0m-1 9h0m77-49h0m50-100h0m-45 282h0m229-140h0m-41 82h0m-125 37h0m-54-150h0m-76-13h0m39-11h0m158 109h0m-25-181h0m-140 225h0m261-130h0m-36 51h0m-181 71h0m15-113h0m-57-23h0m-21 164h0m2-116h0m200-31h0m16 134h0m-90-209h0m11 162h0m-133-124h0m252 47h0m-339-28h0m95 80h0m82-46h0m11 34h0m-94 59h0m67-231h0m-5 56h0m-161 58h0m112-48h0m130 14h0m82 121h0m-286 47h0m102 40h0m13-209h0m29 146h0m-48-205h0m-32 146h0m155-127h0m84 111h0m-324 47h0m172-46h0m-52 112h0m43-187h0m142 18h0m-265 39h0m160 72h0m-166-123h0m93 79h0m160 48h0m-268-172h0m41 122h0m-56 48h0m227 20h0m55-7h0m-49 6h0m-93-206h0m131 137h0m-157-125h0m167 51h0m-183 9h0m183 128h0m28-137h0m-232 43h0m-17 98h0m249-78h0m-157 125h0m-170-96h0m67-116h0m68 186h0m26-134h0m-154-7h0m39 126h0m70 75h0" stroke="#a0a0c8" stroke-width="12" stroke-linecap="round" opacity="0.62" fill="none"/>
<path transform="scale(.1)" d="M1347 2203h0m-6 66h0m6-79h0m-16-11h0m22 49h0m16 41h0m-4-87h0m28 33h0m-77 32h0m-23-72h0m29 116h0m-19-45h0m88-5h0m-39 51h0m-30-5h0m-32-53h0m98-49h0m-90 84h0m85-87h0m7 42h0m-20-53h0m-44 32h0m30-28h0m-18 117h0m-28-49h0m32-43h0m-52 47h0m91-65h0m-65-13h0m43 61h0m-41-21h0m58-37h0m-66 31h0m47 31h0m-46-26h0m10 65h0m64-113h0m-65 64h0m-20 5h0m76 18h0m-77 24h0m-12-69h0m71-67h0m-48 26h0m2-5h0m-21 21h0m84 85h0m-32 31h0m-41-111h0m-16 41h0m62 53h0m-60-43h0m60-35h0m-21 100h0m52-81h0m1-28h0m-38-10h0m33 84h0m-71-9h0m77-18h0" stroke="#e49090" stroke-width="12" stroke-linecap="round" opacity="0.62" fill="none"/>
<path transform="scale(.1)" d="M1398 2183h0m-34 40h0m-1-52h0m2 0h0m-33-9h0m-2 115h0m-32-47h0m67 39h0m-65-24h0m11-23h0m-18 17h0m82-4h0m-71 17h0m78-57h0m-36-14h0m45-16h0m8 51h0m-38-38h0m36 39h0m-103-12h0m75 65h0m8-59h0m-22 29h0m29 12h0m-31-41h0m-54 10h0m43 65h0m-21-99h0m10 20h0m48 20h0m3-54h0m-25 49h0m-24-78h0m-24 72h0m16-59h0m-10 124h0m-8-103h0m34 77h0m24-91h0m-22 91h0m-34-100h0m69 2h0m-35 99h0m-11-71h0m25-14h0m6 46h0m-70-26h0m10 17h0m70 58h0m-49-75h0m-28 9h0m10 44h0m-5-42h0m1-13h0m33-6h0m-2-14h0m48 20h0m-91 78h0m34-80h0m40-39h0" stroke="#9a90c0" stroke-width="12" stroke-linecap="round" opacity="0.62" fill="none"/>
<path transform="scale(.1)" d="M1374 2258h0m-9-25h0m-7-48h0m16 9h0m-19 22h0m-45 38h0m22-64h0m4 70h0m-17-27h0m1-19h0m-4 81h0m62-148h0m-52-10h0m67 53h0m-83 4h0m28-32h0m-39 79h0m88-77h0m-70 7h0m6 26h0m-2-6h0m36 17h0m-3 30h0m30-25h0m-25-79h0m-23 106h0m-4-29h0m37-31h0m-35 61h0m59-24h0m-11 5h0m-15-53h0m-58 76h0m89-62h0m-18 22h0m-32-52h0m-54 105h0m101-81h0m-32 70h0m-5-97h0m9 109h0m-37-86h0m47 28h0m-41-57h0m6 37h0m31-22h0m-28 127h0m-55-80h0m0 51h0m42 9h0m69-62h0m-3 12h0m-71-6h0m49 54h0m-43-121h0m37 43h0m-22 33h0m-2 52h0m-66-38h0m50 57h0" stroke="#b08888" stroke-width="12" stroke-linecap="round" opacity="0.62" fill="none"/>
<path transform="scale(.1)" d="M1494 2228h0m-54-20h0m76-1h0m-66 1h0m21 10h0m62-60h0m9 59h0m-27-37h0m-31 0h0m-18 28h0m76 42h0m-21 7h0m43-1h0m-110-77h0m-33 14h0m4 12h0m124 38h0m-122-33h0m81 27h0m-82-42h0m11 8h0m25 42h0m-16 8h0m-30-11h0m102 15h0m-9-28h0m40 17h0m-4-54h0m-126 17h0m95 0h0m-79-32h0m91 1h0m56 21h0m-109 33h0m-14 4h0m44-24h0m-43-45h0m21 22h0m48 40h0m23-61h0m-47 104h0m-61-21h0m50-39h0m91 28h0m-57 20h0m-3-1h0m-57 13h0m67-11h0m-43-51h0m76 38h0m-102-9h0m-45 10h0m96-19h0m36-16h0" stroke="#e49090" stroke-width="12" stroke-linecap="round" opacity="0.62" fill="none"/>
<path transform="scale(.1)" d="M1452 2170h0m34 107h0m-41-22h0m89-24h0m32-38h0m-76-30h0m-38 104h0m90-105h0m-112 52h0m120 23h0m-82 10h0m-26-18h0m31-34h0m74 4h0m-52 26h0m37-34h0m19 50h0m-10 30h0m-45-51h0m62 28h0m-69-79h0m-52 73h0m139-44h0m-149 49h0m30 5h0m57-62h0m-55 44h0m85-59h0m-100 80h0m-22-69h0m136 74h0m-10-17h0m30-18h0m-29-21h0m-109 39h0m-7 13h0m73-14h0m26-36h0m-9 20h0m-24-15h0m-45-26h0m-39 18h0m103-23h0m-80 63h0m71-62h0m-78-3h0m83 46h0m70-3h0m-110-61h0m114 75h0m-30 15h0m3 9h0m-80-59h0" stroke="#9a90c0" stroke-width="12" stroke-linecap="round" opacity="0.62" fill="none"/>
<path transform="scale(.1)" d="M1542 2208h0m-35 68h0m9-122h0m8 23h0m21-16h0m-77 115h0m-24-89h0m-17 1h0m136 59h0m-124-58h0m-15 17h0m147 21h0m9-13h0m-32 11h0m-66 39h0m-57-41h0m86 41h0m-31-111h0m88 32h0m-20 23h0m-44 32h0m-87-9h0m23-3h0m114-13h0m-59 36h0m42-4h0m-72-36h0m60-31h0m13 73h0m-37 5h0m20-1h0m-8-30h0m-8 40h0m26-91h0m3 54h0m-93 17h0m71 42h0m-48-63h0m-34-17h0m72 61h0m3-72h0m-21 75h0m88-87h0m-26 24h0m-3 25h0m-120-30h0m103 26h0m-71-62h0m20 42h0m83 53h0m-135-54h0m140 8h0m15-14h0" stroke="#b08888" stroke-width="12" stroke-linecap="round" opacity="0.62" fill="none"/>
<path transform="scale(.1)" d="M1642 2284h0m74 19h0m-101 23h0m22-42h0m18 8h0m61-4h0m-81-24h0m-34 54h0m55-21h0m-9-10h0m-19-7h0m61 36h0m-16 6h0m-1-59h0m-58 27h0m22 11h0m-25 0h0m15-33h0m54 4h0m11 21h0m18-13h0m-18 34h0m-5 18h0m-10-64h0m10 55h0m12-32h0m-8-7h0m-46-19h0m-23 49h0m-23-26h0m53 33h0m18-46h0m-44 47h0m82 4h0m-27-53h0m-59 20h0m4 21h0m86 1h0m-96 20h0m14-39h0m78 9h0m-73-47h0m19 0h0m22 60h0m34-24h0m-50-12h0m-6-16h0m66 38h0m-86 27h0m23-2h0m-45-30h0m65-28h0m-51 13h0m5-17h0m-1-6h0" stroke="#e49090" stroke-width="12" stroke-linecap="round" opacity="0.62" fill="none"/>
<path transform="scale(.1)" d="M1625 2274h0m86 21h0m-83 38h0m13-32h0m30-31h0m1 68h0m-48-20h0m22-32h0m59 42h0m-75-24h0m-27-17h0m85-8h0m-17-2h0m-67-3h0m62 6h0m8 17h0m30-14h0m-40-12h0m-68 11h0m94 1h0m-61-18h0m35-3h0m10 69h0m-47-57h0m9 11h0m35-24h0m-67 43h0m50-28h0m32-15h0m-39 25h0m13-14h0m42 50h0m-21-26h0m-45 28h0m-4-61h0m6 1h0m-20 48h0m84-20h0m-76-1h0m70 7h0m-47 21h0m11-54h0m11 37h0m34 27h0m-23-40h0m-64 41h0m1-5h0m45-50h0m-1 23h0m-49 16h0m86 8h0m-34-4h0m-20-13h0m11 37h0m17-80h0" stroke="#b0a0b0" stroke-width="12" stroke-linecap="round" opacity="0.62" fill="none"/>
<path transform="scale(.1)" d="M1780 2252h0m-30 57h0m-30-54h0m128 72h0m-20-21h0m-50-36h0m-24-17h0m-32 32h0m134 23h0m4 0h0m21-16h0m-92-64h0m-65 32h0m-7 5h0m113 62h0m-86-82h0m159 46h0m-157 19h0m17-6h0m133-37h0m-30 55h0m24-63h0m-171 19h0m72-7h0m-32-42h0m76 55h0m-68-31h0m95 67h0m-27 0h0m24-69h0m-150 6h0m85-21h0m60 42h0m21-12h0m-126 5h0m91 28h0m-121-29h0m66 1h0m24-27h0m-40 29h0m122 31h0m-141-37h0m113-15h0m-17-1h0m-5 60h0m-1-33h0m-103-1h0m17 23h0m28-36h0m64 24h0m-13 1h0m28 17h0m15-36h0m-107 10h0m32-56h0m-47 89h0m123-17h0m-31-36h0m-22 1h0m-7 32h0m-78-53h0m33 31h0m3-11h0m-31 16h0m77-32h0m-54-21h0m122 77h0m-88-51h0m-58 45h0m66-4h0m4-24h0m54-1h0m10 40h0m-121 9h0m44-54h0m22-15h0m-103 28h0m104-46h0m-105 58h0m87-11h0m16 18h0m-73-33h0m80-24h0m-19 38h0m-11 52h0m-19-61h0m-49 8h0" stroke="#8a8fd8" stroke-width="12" stroke-linecap="round" opacity="0.62" fill="none"/>
<path transform="scale(.1)" d="M1903 2282h0m-138-38h0m59 64h0m-56-54h0m83 33h0m-61-43h0m21 66h0m77-7h0m-154-40h0m98 10h0m-29 51h0m44-72h0m-93 51h0m129 9h0m-45 1h0m-87-69h0m-27 14h0m19 21h0m36 0h0m-49 18h0m39-39h0m12-10h0m120 45h0m-113-67h0m23 63h0m-46-61h0m41 0h0m-52 76h0m73-76h0m4 60h0m3 21h0m-37 9h0m-56-48h0m130-22h0m-60-7h0m58 10h0m-129 11h0m116-6h0m-18 16h0m18 41h0m-71-14h0m1-1h0m79-43h0m-95-13h0m-16 58h0m37-22h0m-42-31h0m73 81h0m-17-86h0m-93 24h0m69-14h0m-42 18h0m50 31h0m-58-33h0m117-12h0m-5 71h0m-56-18h0m19-49h0m64 1h0m-153-11h0m101-26h0m-84 38h0m105-17h0m34 57h0m-1-37h0m-59 12h0m20-32h0m-89 42h0m78-22h0m-17-27h0m-51 36h0m50 48h0m38-42h0m15-26h0m3 43h0m-43-36h0m56 53h0m-11-60h0m-58 63h0m95-33h0m-88 3h0m48 37h0m-113-36h0m56-2h0m-54-57h0m67 45h0m17 4h0" stroke="#a0a0d8" stroke-width="12" stroke-linecap="round" opacity="0.62" fill="none"/>
<path transform="scale(.1)" d="M1846 2293h0m4-11h0m-41-40h0m-28 17h0m-15-19h0m28 42h0m-20-42h0m21-16h0m-6 51h0m-36 18h0m49-25h0m-16 39h0m-36-3h0m-4-51h0m70 71h0m-8-45h0m51 34h0m35-18h0m-82 29h0m-55-65h0m50-27h0m62 54h0m-2 17h0m-154-48h0m16-1h0m129 69h0m-100-55h0m-25-21h0m44 70h0m30-50h0m-88-8h0m88-13h0m66 60h0m-130-76h0m83 20h0m-42 28h0m37-42h0m5 45h0m6 35h0m28-57h0m-27 16h0m11 14h0m-66-31h0m-52-7h0m16 23h0m25-4h0m67 30h0m31-54h0m-83 29h0m-32-22h0m109 17h0m-42-22h0m-33 73h0m-30-52h0m-39-12h0m116 11h0m61-5h0m-14 2h0m-123-4h0m37 1h0m101 36h0m-151-8h0m28-33h0m103 1h0m-19-8h0m-118-9h0m138 8h0m-20 24h0m-60-10h0m-36-17h0m14 62h0m21-64h0m18 41h0m-84-11h0m26-38h0m94 22h0m-47 5h0m36-20h0m-116 36h0m25 15h0m75-1h0m-53-48h0m-39 46h0m86-64h0m-53 48h0m32-48h0" stroke="#c0a0c8" stroke-width="12" stroke-linecap="round" opacity="0.62" fill="none"/>
<path transform="scale(.1)" d="M1442 2073h0m29 9h0m-11-41h0m26 36h0m-37-34h0m28 28h0m2-26h0m23 13h0m-17-14h0m-12 23h0m18-21h0m14 24h0m-58-8h0m22 19h0m-40-43h0m13 25h0m49 18h0m-4-29h0m6 25h0" stroke="#a9b040" stroke-width="12" stroke-linecap="round" opacity="0.62" fill="none"/>
<path transform="scale(.1)" d="M1457 2070h0m-9-10h0m10 13h0m34-6h0m-63-32h0m23 22h0m-5 21h0m-21-25h0m15 6h0m62-6h0m-64 27h0m61-16h0m-26-11h0m-50 21h0m58 2h0m12 2h0m-26-22h0m25-9h0" stroke="#d0a050" stroke-width="12" stroke-linecap="round" opacity="0.62" fill="none"/>
<path transform="scale(.1)" d="M1414 2057h0m19 11h0m48-4h0m-37-23h0m34 17h0m-25 20h0m-41-21h0m54 22h0m-18-2h0m28 1h0m-22-24h0m26 1h0m19-4h0m-25 8h0m-38-9h0m26 1h0m19 11h0m-64-8h0" stroke="#8090a0" stroke-width="12" stroke-linecap="round" opacity="0.62" fill="none"/>
<path transform="scale(.1)" d="M1650 2197h0m-5-116h0m-23-7h0m15 86h0m12-5h0m-59-133h0m-21 75h0m48 1h0m-7-19h0m11 44h0m47 62h0m-75-131h0m-18 53h0m0-22h0m82 87h0m-60-60h0m39-31h0m-67-9h0m66 61h0m-41-40h0m67 100h0m-85-89h0m26 60h0m6-112h0m37 118h0m-52-47h0m42 74h0m-22-34h0m-54-109h0m55 44h0m-16 73h0m-46-129h0m64 82h0m-16-45h0m-33-11h0m34 58h0m0-64h0m-9-39h0m-39 35h0m17 52h0m15-15h0m66 95h0m-60-61h0m-22-89h0m-17 25h0m80-6h0m-77-20h0m88 89h0m-74-106h0m23 66h0" stroke="#e07a8a" stroke-width="12" stroke-linecap="round" opacity="0.62" fill="none"/>
<path transform="scale(.1)" d="M1567 2057h0m58 82h0m-17-7h0m24 21h0m-6-38h0m1-11h0m-72-18h0m74 22h0m-19-68h0m-38 45h0m16 75h0m16-123h0m-10 46h0m-32-16h0m53 50h0m48 22h0m6 11h0m-59-37h0m17 41h0m-19-40h0m-25-95h0m46 174h0m31 3h0m0-32h0m-51 14h0m-24-33h0m-27-87h0m12-30h0m57 24h0m-70 6h0m70 124h0m-65-87h0m88 28h0m11 7h0m-88-101h0m5 38h0m47 103h0m11 17h0m-1-108h0m-77 4h0m-2-22h0m31 64h0m42 44h0m-20-12h0m46-16h0m-52 3h0m-35-52h0m-1 3h0m94 34h0m-61-75h0" stroke="#c08aa8" stroke-width="12" stroke-linecap="round" opacity="0.62" fill="none"/>
<path transform="scale(.1)" d="M1653 2203h0m-75-120h0m54 91h0m-70-126h0m21 99h0m75 42h0m-100-142h0m68 110h0m13 11h0m-45-84h0m20 78h0m10 36h0m-15-41h0m-18-99h0m45 112h0m-24-98h0m-18-46h0m53 62h0m-35-7h0m-10 23h0m-29-7h0m-17-42h0m15-26h0m68 77h0m-26-41h0m32 68h0m6 42h0m-81-115h0m24 64h0m32-47h0m-52-8h0m90 116h0m-11-14h0m-13 19h0m-77-76h0m88-17h0m-56-52h0m50 146h0m7-18h0m-72-128h0m90 115h0m-91-13h0m55 28h0m-35-38h0m-42-63h0m39-27h0m20 32h0m31 39h0m-82-86h0m44 144h0" stroke="#a090c0" stroke-width="12" stroke-linecap="round" opacity="0.62" fill="none"/>
<path transform="scale(.1)" d="M1681 2124h0m27 32h0m54-18h0m-59 15h0m-28-15h0m36-48h0m38 60h0m-7-51h0m-17 12h0m40 11h0m-52-9h0m61-11h0m-94 26h0m88 0h0m-35-41h0m-3 41h0m-47-18h0m79-21h0m-13 57h0m-20-10h0m10-8h0m59-8h0m-71-29h0m28-3h0m41 45h0m-1-26h0m-54-14h0m-40 32h0m37-49h0m22 23h0m-11 34h0m-58-11h0m-4-26h0m86 43h0m-53-45h0m2-8h0m70 18h0m-17-17h0m-3 20h0m-92 19h0m99-24h0m-4-19h0m-18 25h0m-42 36h0m1-17h0m-28 23h0m85 2h0m-27-56h0m33 28h0m-67 14h0m51-25h0m-38 50h0m-34-9h0m63-70h0m-7 58h0m6-66h0m-60 17h0m19 46h0m62-56h0m-96 42h0m30 13h0m-21-2h0m2 5h0m18-33h0m11-20h0m-44 38h0m13-23h0m74-11h0m-34 65h0m39-70h0m-80 48h0m-6-33h0m113 33h0m-26 6h0m-34-16h0" stroke="#e08888" stroke-width="12" stroke-linecap="round" opacity="0.62" fill="none"/>
<path transform="scale(.1)" d="M1707 2105h0m79-2h0m-24 45h0m-74-9h0m117-9h0m-20-34h0m-72 61h0m1-59h0m24 6h0m60-9h0m-87-11h0m70 8h0m-42 31h0m-2 38h0m58-29h0m-104 2h0m-16-10h0m122-9h0m-26-8h0m-41-1h0m61-11h0m5 31h0m-102 4h0m68-19h0m-21-19h0m-17 46h0m63-12h0m10-7h0m-36-1h0m-52-3h0m-15 39h0m42 8h0m-65-34h0m82-20h0m-24 4h0m37 24h0m24-24h0m-52-10h0m57 34h0m-73 16h0m63-9h0m-7-7h0m12-13h0m-106 3h0m102-39h0m-14 67h0m-37-37h0m-39 8h0m108-2h0m-121-8h0m41 7h0m48 32h0m1-4h0m-90-24h0m15 8h0m22-50h0m-39 18h0m53 26h0m-38-36h0m82-9h0m-76 22h0m54 29h0m4-18h0m-44-14h0m45 36h0m-61-10h0m21 9h0m58-18h0m-90-26h0m4 25h0m60-35h0m14 49h0m-12-44h0m-61 52h0m73-25h0" stroke="#c090a8" stroke-width="12" stroke-linecap="round" opacity="0.62" fill="none"/>
<path transform="scale(.1)" d="M1808 2383h0m25 33h0m-9-7h0m2-6h0m-22 9h0m12 3h0m-2 0h0m-1 7h0m-6-3h0m21 27h0m-18-23h0m-7-44h0m13-4h0m5 35h0m-6 35h0m1-23h0m14 3h0m-21-40h0m3 49h0m15 11h0" stroke="#709090" stroke-width="12" stroke-linecap="round" opacity="0.62" fill="none"/>
<path transform="scale(.1)" d="M1827 2432h0m11-21h0m-45-23h0m10 16h0m17 47h0m10-23h0m-8-8h0m1-20h0m-33-2h0m31 40h0m-16-18h0m24-20h0m-8 8h0m-16-19h0m10-8h0m-6 52h0m2-2h0m-19-62h0m39 82h0m-31-59h0" stroke="#a0a0a0" stroke-width="12" stroke-linecap="round" opacity="0.62" fill="none"/>
<text x="209.8" y="188" font-size="5.4" text-anchor="start" fill="#111" font-weight="bold" font-style="normal" stroke="#111" stroke-width="0.2">H</text>
<text x="220.6" y="231" font-size="4.6" text-anchor="middle" fill="#222" font-weight="normal" font-style="normal" transform="rotate(-90 220.6 231)" textLength="36" lengthAdjust="spacingAndGlyphs" stroke="#222" stroke-width="0.06">Cell percent ratio</text>
<text x="231.8" y="197.6" font-size="3.1" text-anchor="end" fill="#333" font-weight="normal" font-style="normal" stroke="#333" stroke-width="0.06">100%</text>
<text x="231.8" y="214.8" font-size="3.1" text-anchor="end" fill="#333" font-weight="normal" font-style="normal" stroke="#333" stroke-width="0.06">75%</text>
<text x="231.8" y="232" font-size="3.1" text-anchor="end" fill="#333" font-weight="normal" font-style="normal" stroke="#333" stroke-width="0.06">50%</text>
<text x="231.8" y="249.2" font-size="3.1" text-anchor="end" fill="#333" font-weight="normal" font-style="normal" stroke="#333" stroke-width="0.06">25%</text>
<text x="231.8" y="266.1" font-size="3.1" text-anchor="end" fill="#333" font-weight="normal" font-style="normal" stroke="#333" stroke-width="0.06">0%</text>
<rect x="233.6" y="196" width="2.87" height="68.5" fill="#e84648"/>
<rect x="233.6" y="250" width="2.87" height="3.36" fill="#f5c030"/>
<rect x="233.6" y="253.06" width="2.87" height="4.04" fill="#eee23a"/>
<rect x="233.6" y="256.8" width="2.87" height="2.99" fill="#b8d640"/>
<rect x="233.6" y="259.5" width="2.87" height="5" fill="#6cbf48"/>
<rect x="235.97" y="196" width="2.87" height="68.5" fill="#e84648"/>
<rect x="235.97" y="251.2" width="2.87" height="2.28" fill="#f5c030"/>
<rect x="235.97" y="253.18" width="2.87" height="2.72" fill="#eee23a"/>
<rect x="235.97" y="255.6" width="2.87" height="3.42" fill="#b8d640"/>
<rect x="235.97" y="258.71" width="2.87" height="5.79" fill="#6cbf48"/>
<rect x="238.34" y="196" width="2.87" height="68.5" fill="#e84648"/>
<rect x="238.34" y="225.5" width="2.87" height="14.1" fill="#f29a38"/>
<rect x="238.34" y="239.3" width="2.87" height="7.05" fill="#f5c030"/>
<rect x="238.34" y="246.05" width="2.87" height="8.55" fill="#eee23a"/>
<rect x="238.34" y="254.3" width="2.87" height="3.87" fill="#b8d640"/>
<rect x="238.34" y="257.87" width="2.87" height="6.63" fill="#6cbf48"/>
<rect x="240.71" y="196" width="2.87" height="68.5" fill="#e84648"/>
<rect x="240.71" y="230.5" width="2.87" height="15.4" fill="#f29a38"/>
<rect x="240.71" y="245.6" width="2.87" height="4.22" fill="#f5c030"/>
<rect x="240.71" y="249.52" width="2.87" height="5.09" fill="#eee23a"/>
<rect x="240.71" y="254.3" width="2.87" height="3.87" fill="#b8d640"/>
<rect x="240.71" y="257.87" width="2.87" height="6.63" fill="#6cbf48"/>
<rect x="243.08" y="196" width="2.87" height="68.5" fill="#e84648"/>
<rect x="243.08" y="249.3" width="2.87" height="3.13" fill="#f5c030"/>
<rect x="243.08" y="252.13" width="2.87" height="3.76" fill="#eee23a"/>
<rect x="243.08" y="255.6" width="2.87" height="3.42" fill="#b8d640"/>
<rect x="243.08" y="258.71" width="2.87" height="5.79" fill="#6cbf48"/>
<rect x="245.45" y="196" width="2.87" height="68.5" fill="#e84648"/>
<rect x="245.45" y="246.8" width="2.87" height="3.67" fill="#f5c030"/>
<rect x="245.45" y="250.18" width="2.87" height="4.42" fill="#eee23a"/>
<rect x="245.45" y="254.3" width="2.87" height="3.87" fill="#b8d640"/>
<rect x="245.45" y="257.87" width="2.87" height="6.63" fill="#6cbf48"/>
<rect x="247.82" y="196" width="2.87" height="68.5" fill="#e84648"/>
<rect x="247.82" y="235.5" width="2.87" height="3.14" fill="#f5c030"/>
<rect x="247.82" y="238.34" width="2.87" height="3.77" fill="#eee23a"/>
<rect x="247.82" y="241.8" width="2.87" height="8.24" fill="#b8d640"/>
<rect x="247.82" y="249.75" width="2.87" height="14.75" fill="#6cbf48"/>
<rect x="250.19" y="196" width="2.87" height="68.5" fill="#e84648"/>
<rect x="250.19" y="241.8" width="2.87" height="3.09" fill="#f5c030"/>
<rect x="250.19" y="244.59" width="2.87" height="3.71" fill="#eee23a"/>
<rect x="250.19" y="248" width="2.87" height="6.07" fill="#b8d640"/>
<rect x="250.19" y="253.78" width="2.87" height="10.72" fill="#6cbf48"/>
<rect x="252.56" y="196" width="2.87" height="68.5" fill="#e84648"/>
<rect x="252.56" y="256.8" width="2.87" height="2.01" fill="#f5c030"/>
<rect x="252.56" y="258.51" width="2.87" height="2.39" fill="#eee23a"/>
<rect x="252.56" y="260.6" width="2.87" height="1.66" fill="#b8d640"/>
<rect x="252.56" y="261.97" width="2.87" height="2.53" fill="#6cbf48"/>
<rect x="254.93" y="196" width="2.87" height="68.5" fill="#e84648"/>
<rect x="254.93" y="234.3" width="2.87" height="6.46" fill="#f5c030"/>
<rect x="254.93" y="240.47" width="2.87" height="7.83" fill="#eee23a"/>
<rect x="254.93" y="248" width="2.87" height="6.07" fill="#b8d640"/>
<rect x="254.93" y="253.78" width="2.87" height="10.72" fill="#6cbf48"/>
<rect x="257.3" y="196" width="2.87" height="68.5" fill="#e84648"/>
<rect x="257.3" y="243" width="2.87" height="3.14" fill="#f5c030"/>
<rect x="257.3" y="245.84" width="2.87" height="3.77" fill="#eee23a"/>
<rect x="257.3" y="249.3" width="2.87" height="5.62" fill="#b8d640"/>
<rect x="257.3" y="254.62" width="2.87" height="9.88" fill="#6cbf48"/>
<rect x="259.67" y="196" width="2.87" height="68.5" fill="#e84648"/>
<rect x="259.67" y="244.3" width="2.87" height="3.13" fill="#f5c030"/>
<rect x="259.67" y="247.13" width="2.87" height="3.76" fill="#eee23a"/>
<rect x="259.67" y="250.6" width="2.87" height="5.17" fill="#b8d640"/>
<rect x="259.67" y="255.47" width="2.87" height="9.04" fill="#6cbf48"/>
<rect x="262.04" y="196" width="2.87" height="68.5" fill="#e84648"/>
<rect x="262.04" y="250.6" width="2.87" height="3.09" fill="#f5c030"/>
<rect x="262.04" y="253.39" width="2.87" height="3.71" fill="#eee23a"/>
<rect x="262.04" y="256.8" width="2.87" height="2.99" fill="#b8d640"/>
<rect x="262.04" y="259.5" width="2.87" height="5" fill="#6cbf48"/>
<rect x="264.41" y="196" width="2.87" height="68.5" fill="#e84648"/>
<rect x="264.41" y="251.8" width="2.87" height="3.14" fill="#f5c030"/>
<rect x="264.41" y="254.64" width="2.87" height="3.77" fill="#eee23a"/>
<rect x="264.41" y="258.1" width="2.87" height="2.54" fill="#b8d640"/>
<rect x="264.41" y="260.34" width="2.87" height="4.16" fill="#6cbf48"/>
<rect x="266.79" y="196" width="2.87" height="68.5" fill="#e84648"/>
<rect x="266.79" y="254.3" width="2.87" height="2.01" fill="#f5c030"/>
<rect x="266.79" y="256.01" width="2.87" height="2.39" fill="#eee23a"/>
<rect x="266.79" y="258.1" width="2.87" height="2.54" fill="#b8d640"/>
<rect x="266.79" y="260.34" width="2.87" height="4.16" fill="#6cbf48"/>
<rect x="269.16" y="196" width="2.87" height="68.5" fill="#e84648"/>
<rect x="269.16" y="249.3" width="2.87" height="2.55" fill="#f5c030"/>
<rect x="269.16" y="251.55" width="2.87" height="3.05" fill="#eee23a"/>
<rect x="269.16" y="254.3" width="2.87" height="3.87" fill="#b8d640"/>
<rect x="269.16" y="257.87" width="2.87" height="6.63" fill="#6cbf48"/>
<rect x="271.53" y="196" width="2.87" height="68.5" fill="#e84648"/>
<rect x="271.53" y="229.3" width="2.87" height="7.8" fill="#f29a38"/>
<rect x="271.53" y="236.8" width="2.87" height="7.63" fill="#f5c030"/>
<rect x="271.53" y="244.13" width="2.87" height="9.26" fill="#eee23a"/>
<rect x="271.53" y="253.1" width="2.87" height="4.29" fill="#b8d640"/>
<rect x="271.53" y="257.09" width="2.87" height="7.41" fill="#6cbf48"/>
<rect x="273.9" y="196" width="2.87" height="68.5" fill="#e84648"/>
<rect x="273.9" y="246.8" width="2.87" height="3.67" fill="#f5c030"/>
<rect x="273.9" y="250.18" width="2.87" height="4.42" fill="#eee23a"/>
<rect x="273.9" y="254.3" width="2.87" height="3.87" fill="#b8d640"/>
<rect x="273.9" y="257.87" width="2.87" height="6.63" fill="#6cbf48"/>
<rect x="276.27" y="196" width="2.87" height="68.5" fill="#e84648"/>
<rect x="276.27" y="249.3" width="2.87" height="3.13" fill="#f5c030"/>
<rect x="276.27" y="252.13" width="2.87" height="3.76" fill="#eee23a"/>
<rect x="276.27" y="255.6" width="2.87" height="3.42" fill="#b8d640"/>
<rect x="276.27" y="258.71" width="2.87" height="5.79" fill="#6cbf48"/>
<rect x="278.64" y="196" width="2.87" height="68.5" fill="#e84648"/>
<rect x="278.64" y="230.5" width="2.87" height="5.3" fill="#f29a38"/>
<rect x="278.64" y="235.5" width="2.87" height="6.51" fill="#f5c030"/>
<rect x="278.64" y="241.71" width="2.87" height="7.89" fill="#eee23a"/>
<rect x="278.64" y="249.3" width="2.87" height="5.62" fill="#b8d640"/>
<rect x="278.64" y="254.62" width="2.87" height="9.88" fill="#6cbf48"/>
<rect x="281.01" y="196" width="2.87" height="68.5" fill="#e84648"/>
<rect x="281.01" y="244.3" width="2.87" height="3.67" fill="#f5c030"/>
<rect x="281.01" y="247.68" width="2.87" height="4.42" fill="#eee23a"/>
<rect x="281.01" y="251.8" width="2.87" height="4.74" fill="#b8d640"/>
<rect x="281.01" y="256.25" width="2.87" height="8.25" fill="#6cbf48"/>
<rect x="283.38" y="196" width="2.87" height="68.5" fill="#e84648"/>
<rect x="283.38" y="248" width="2.87" height="3.72" fill="#f5c030"/>
<rect x="283.38" y="251.42" width="2.87" height="4.48" fill="#eee23a"/>
<rect x="283.38" y="255.6" width="2.87" height="3.42" fill="#b8d640"/>
<rect x="283.38" y="258.71" width="2.87" height="5.79" fill="#6cbf48"/>
<rect x="285.75" y="196" width="2.87" height="68.5" fill="#e84648"/>
<rect x="285.75" y="228" width="2.87" height="11.6" fill="#f29a38"/>
<rect x="285.75" y="239.3" width="2.87" height="4.21" fill="#f5c030"/>
<rect x="285.75" y="243.22" width="2.87" height="5.08" fill="#eee23a"/>
<rect x="285.75" y="248" width="2.87" height="6.07" fill="#b8d640"/>
<rect x="285.75" y="253.78" width="2.87" height="10.72" fill="#6cbf48"/>
<rect x="288.12" y="196" width="2.87" height="68.5" fill="#e84648"/>
<rect x="288.12" y="235.5" width="2.87" height="3.67" fill="#f5c030"/>
<rect x="288.12" y="238.88" width="2.87" height="4.42" fill="#eee23a"/>
<rect x="288.12" y="243" width="2.87" height="7.82" fill="#b8d640"/>
<rect x="288.12" y="250.53" width="2.87" height="13.97" fill="#6cbf48"/>
<rect x="290.49" y="196" width="2.87" height="68.5" fill="#e84648"/>
<rect x="290.49" y="240.6" width="2.87" height="6.5" fill="#f29a38"/>
<rect x="290.49" y="246.8" width="2.87" height="3.13" fill="#f5c030"/>
<rect x="290.49" y="249.63" width="2.87" height="3.76" fill="#eee23a"/>
<rect x="290.49" y="253.1" width="2.87" height="4.29" fill="#b8d640"/>
<rect x="290.49" y="257.09" width="2.87" height="7.41" fill="#6cbf48"/>
<rect x="292.86" y="196" width="2.87" height="68.5" fill="#e84648"/>
<rect x="292.86" y="246.8" width="2.87" height="3.13" fill="#f5c030"/>
<rect x="292.86" y="249.63" width="2.87" height="3.76" fill="#eee23a"/>
<rect x="292.86" y="253.1" width="2.87" height="4.29" fill="#b8d640"/>
<rect x="292.86" y="257.09" width="2.87" height="7.41" fill="#6cbf48"/>
<rect x="295.23" y="196" width="2.87" height="68.5" fill="#e84648"/>
<rect x="295.23" y="240.6" width="2.87" height="6.5" fill="#f29a38"/>
<rect x="295.23" y="246.8" width="2.87" height="3.67" fill="#f5c030"/>
<rect x="295.23" y="250.18" width="2.87" height="4.42" fill="#eee23a"/>
<rect x="295.23" y="254.3" width="2.87" height="3.87" fill="#b8d640"/>
<rect x="295.23" y="257.87" width="2.87" height="6.63" fill="#6cbf48"/>
<rect x="297.6" y="196" width="2.87" height="68.5" fill="#e84648"/>
<rect x="297.6" y="243" width="2.87" height="4.26" fill="#f5c030"/>
<rect x="297.6" y="246.96" width="2.87" height="5.14" fill="#eee23a"/>
<rect x="297.6" y="251.8" width="2.87" height="4.74" fill="#b8d640"/>
<rect x="297.6" y="256.25" width="2.87" height="8.25" fill="#6cbf48"/>
<rect x="299.97" y="196" width="2.87" height="68.5" fill="#e84648"/>
<rect x="299.97" y="244.8" width="2.87" height="5.29" fill="#f5c030"/>
<rect x="299.97" y="249.8" width="2.87" height="6.4" fill="#eee23a"/>
<rect x="299.97" y="255.9" width="2.87" height="3.31" fill="#b8d640"/>
<rect x="299.97" y="258.91" width="2.87" height="5.59" fill="#6cbf48"/>
<rect x="302.34" y="196" width="2.87" height="68.5" fill="#e84648"/>
<rect x="302.34" y="248" width="2.87" height="3.14" fill="#f5c030"/>
<rect x="302.34" y="250.84" width="2.87" height="3.77" fill="#eee23a"/>
<rect x="302.34" y="254.3" width="2.87" height="3.87" fill="#b8d640"/>
<rect x="302.34" y="257.87" width="2.87" height="6.63" fill="#6cbf48"/>
<rect x="304.71" y="196" width="2.87" height="68.5" fill="#e84648"/>
<rect x="304.71" y="244.8" width="2.87" height="6.01" fill="#f5c030"/>
<rect x="304.71" y="250.52" width="2.87" height="7.28" fill="#eee23a"/>
<rect x="304.71" y="257.5" width="2.87" height="2.75" fill="#b8d640"/>
<rect x="304.71" y="259.95" width="2.87" height="4.55" fill="#6cbf48"/>
<rect x="307.08" y="196" width="2.87" height="68.5" fill="#e84648"/>
<rect x="307.08" y="254.3" width="2.87" height="2.82" fill="#f5c030"/>
<rect x="307.08" y="256.82" width="2.87" height="3.38" fill="#eee23a"/>
<rect x="307.08" y="259.9" width="2.87" height="1.91" fill="#b8d640"/>
<rect x="307.08" y="261.51" width="2.87" height="2.99" fill="#6cbf48"/>
<rect x="309.45" y="196" width="2.87" height="68.5" fill="#e84648"/>
<rect x="309.45" y="259.9" width="2.87" height="1.02" fill="#f5c030"/>
<rect x="309.45" y="260.62" width="2.87" height="1.18" fill="#eee23a"/>
<rect x="309.45" y="261.5" width="2.87" height="1.35" fill="#b8d640"/>
<rect x="309.45" y="262.55" width="2.87" height="1.95" fill="#6cbf48"/>
<rect x="311.82" y="196" width="2.87" height="68.5" fill="#e84648"/>
<rect x="311.82" y="259.1" width="2.87" height="1.02" fill="#f5c030"/>
<rect x="311.82" y="259.82" width="2.87" height="1.18" fill="#eee23a"/>
<rect x="311.82" y="260.7" width="2.87" height="1.63" fill="#b8d640"/>
<rect x="311.82" y="262.03" width="2.87" height="2.47" fill="#6cbf48"/>
<rect x="314.19" y="196" width="2.87" height="68.5" fill="#e84648"/>
<rect x="314.19" y="255.9" width="2.87" height="2.1" fill="#f5c030"/>
<rect x="314.19" y="257.7" width="2.87" height="2.5" fill="#eee23a"/>
<rect x="314.19" y="259.9" width="2.87" height="1.91" fill="#b8d640"/>
<rect x="314.19" y="261.51" width="2.87" height="2.99" fill="#6cbf48"/>
<rect x="316.56" y="196" width="2.87" height="68.5" fill="#e84648"/>
<rect x="316.56" y="220.9" width="2.87" height="24.2" fill="#f29a38"/>
<rect x="316.56" y="244.8" width="2.87" height="6.01" fill="#f5c030"/>
<rect x="316.56" y="250.52" width="2.87" height="7.28" fill="#eee23a"/>
<rect x="316.56" y="257.5" width="2.87" height="2.75" fill="#b8d640"/>
<rect x="316.56" y="259.95" width="2.87" height="4.55" fill="#6cbf48"/>
<rect x="318.93" y="196" width="2.87" height="68.5" fill="#e84648"/>
<rect x="318.93" y="255.9" width="2.87" height="2.1" fill="#f5c030"/>
<rect x="318.93" y="257.7" width="2.87" height="2.5" fill="#eee23a"/>
<rect x="318.93" y="259.9" width="2.87" height="1.91" fill="#b8d640"/>
<rect x="318.93" y="261.51" width="2.87" height="2.99" fill="#6cbf48"/>
<rect x="321.3" y="196" width="2.87" height="68.5" fill="#e84648"/>
<rect x="321.3" y="259.9" width="2.87" height="1.38" fill="#f5c030"/>
<rect x="321.3" y="260.98" width="2.87" height="1.62" fill="#eee23a"/>
<rect x="321.3" y="262.3" width="2.87" height="1.07" fill="#b8d640"/>
<rect x="321.3" y="263.07" width="2.87" height="1.43" fill="#6cbf48"/>
<rect x="323.67" y="196" width="2.87" height="68.5" fill="#e84648"/>
<rect x="323.67" y="257.5" width="2.87" height="1.74" fill="#f5c030"/>
<rect x="323.67" y="258.94" width="2.87" height="2.06" fill="#eee23a"/>
<rect x="323.67" y="260.7" width="2.87" height="1.63" fill="#b8d640"/>
<rect x="323.67" y="262.03" width="2.87" height="2.47" fill="#6cbf48"/>
<rect x="326.04" y="196" width="2.87" height="68.5" fill="#e84648"/>
<rect x="326.04" y="248" width="2.87" height="3.86" fill="#f5c030"/>
<rect x="326.04" y="251.56" width="2.87" height="4.65" fill="#eee23a"/>
<rect x="326.04" y="255.9" width="2.87" height="3.31" fill="#b8d640"/>
<rect x="326.04" y="258.91" width="2.87" height="5.59" fill="#6cbf48"/>
<rect x="328.41" y="196" width="2.87" height="68.5" fill="#e84648"/>
<rect x="328.41" y="237.7" width="2.87" height="8.6" fill="#f29a38"/>
<rect x="328.41" y="246" width="2.87" height="2.55" fill="#f5c030"/>
<rect x="328.41" y="248.25" width="2.87" height="3.05" fill="#eee23a"/>
<rect x="328.41" y="251" width="2.87" height="5.02" fill="#b8d640"/>
<rect x="328.41" y="255.72" width="2.87" height="8.78" fill="#6cbf48"/>
<rect x="330.79" y="196" width="2.87" height="68.5" fill="#e84648"/>
<rect x="330.79" y="249.6" width="2.87" height="3.9" fill="#f5c030"/>
<rect x="330.79" y="253.2" width="2.87" height="4.7" fill="#eee23a"/>
<rect x="330.79" y="257.6" width="2.87" height="2.71" fill="#b8d640"/>
<rect x="330.79" y="260.01" width="2.87" height="4.48" fill="#6cbf48"/>
<rect x="333.16" y="196" width="2.87" height="68.5" fill="#e84648"/>
<rect x="333.16" y="256.6" width="2.87" height="1.65" fill="#f5c030"/>
<rect x="333.16" y="257.95" width="2.87" height="1.95" fill="#eee23a"/>
<rect x="333.16" y="259.6" width="2.87" height="2.01" fill="#b8d640"/>
<rect x="333.16" y="261.31" width="2.87" height="3.18" fill="#6cbf48"/>
<rect x="335.53" y="196" width="2.87" height="68.5" fill="#e84648"/>
<rect x="335.53" y="253.6" width="2.87" height="2.55" fill="#f5c030"/>
<rect x="335.53" y="255.85" width="2.87" height="3.05" fill="#eee23a"/>
<rect x="335.53" y="258.6" width="2.87" height="2.36" fill="#b8d640"/>
<rect x="335.53" y="260.67" width="2.87" height="3.83" fill="#6cbf48"/>
<rect x="337.9" y="196" width="2.87" height="68.5" fill="#e84648"/>
<rect x="337.9" y="239.7" width="2.87" height="6.56" fill="#f5c030"/>
<rect x="337.9" y="245.95" width="2.87" height="7.95" fill="#eee23a"/>
<rect x="337.9" y="253.6" width="2.87" height="4.12" fill="#b8d640"/>
<rect x="337.9" y="257.42" width="2.87" height="7.09" fill="#6cbf48"/>
<rect x="340.27" y="196" width="2.87" height="68.5" fill="#e84648"/>
<rect x="340.27" y="217.8" width="2.87" height="14.2" fill="#f29a38"/>
<rect x="340.27" y="231.7" width="2.87" height="8.36" fill="#f5c030"/>
<rect x="340.27" y="239.75" width="2.87" height="10.15" fill="#eee23a"/>
<rect x="340.27" y="249.6" width="2.87" height="5.52" fill="#b8d640"/>
<rect x="340.27" y="254.81" width="2.87" height="9.69" fill="#6cbf48"/>
<rect x="342.64" y="196" width="2.87" height="68.5" fill="#e84648"/>
<rect x="342.64" y="239.7" width="2.87" height="5.66" fill="#f5c030"/>
<rect x="342.64" y="245.05" width="2.87" height="6.85" fill="#eee23a"/>
<rect x="342.64" y="251.6" width="2.87" height="4.82" fill="#b8d640"/>
<rect x="342.64" y="256.12" width="2.87" height="8.39" fill="#6cbf48"/>
<rect x="345.01" y="196" width="2.87" height="68.5" fill="#e84648"/>
<rect x="345.01" y="245.7" width="2.87" height="3.86" fill="#f5c030"/>
<rect x="345.01" y="249.25" width="2.87" height="4.65" fill="#eee23a"/>
<rect x="345.01" y="253.6" width="2.87" height="4.12" fill="#b8d640"/>
<rect x="345.01" y="257.42" width="2.87" height="7.09" fill="#6cbf48"/>
<rect x="347.38" y="196" width="2.87" height="68.5" fill="#e84648"/>
<rect x="347.38" y="251.6" width="2.87" height="3" fill="#f5c030"/>
<rect x="347.38" y="254.3" width="2.87" height="3.6" fill="#eee23a"/>
<rect x="347.38" y="257.6" width="2.87" height="2.71" fill="#b8d640"/>
<rect x="347.38" y="260.01" width="2.87" height="4.48" fill="#6cbf48"/>
<rect x="349.75" y="196" width="2.87" height="68.5" fill="#e84648"/>
<rect x="349.75" y="247.7" width="2.87" height="3.86" fill="#f5c030"/>
<rect x="349.75" y="251.25" width="2.87" height="4.65" fill="#eee23a"/>
<rect x="349.75" y="255.6" width="2.87" height="3.42" fill="#b8d640"/>
<rect x="349.75" y="258.71" width="2.87" height="5.79" fill="#6cbf48"/>
<rect x="352.12" y="196" width="2.87" height="68.5" fill="#e84648"/>
<rect x="352.12" y="213.9" width="2.87" height="24.1" fill="#f29a38"/>
<rect x="352.12" y="237.7" width="2.87" height="6.56" fill="#f5c030"/>
<rect x="352.12" y="243.95" width="2.87" height="7.95" fill="#eee23a"/>
<rect x="352.12" y="251.6" width="2.87" height="4.82" fill="#b8d640"/>
<rect x="352.12" y="256.12" width="2.87" height="8.39" fill="#6cbf48"/>
<rect x="354.49" y="196" width="2.87" height="68.5" fill="#e84648"/>
<rect x="354.49" y="247.7" width="2.87" height="3.86" fill="#f5c030"/>
<rect x="354.49" y="251.25" width="2.87" height="4.65" fill="#eee23a"/>
<rect x="354.49" y="255.6" width="2.87" height="3.42" fill="#b8d640"/>
<rect x="354.49" y="258.71" width="2.87" height="5.79" fill="#6cbf48"/>
<rect x="356.86" y="196" width="2.87" height="68.5" fill="#e84648"/>
<rect x="356.86" y="253.6" width="2.87" height="2.55" fill="#f5c030"/>
<rect x="356.86" y="255.85" width="2.87" height="3.05" fill="#eee23a"/>
<rect x="356.86" y="258.6" width="2.87" height="2.36" fill="#b8d640"/>
<rect x="356.86" y="260.67" width="2.87" height="3.83" fill="#6cbf48"/>
<rect x="359.23" y="196" width="2.37" height="68.5" fill="#e84648"/>
<rect x="359.23" y="249.6" width="2.37" height="3.9" fill="#f5c030"/>
<rect x="359.23" y="253.2" width="2.37" height="4.7" fill="#eee23a"/>
<rect x="359.23" y="257.6" width="2.37" height="2.71" fill="#b8d640"/>
<rect x="359.23" y="260.01" width="2.37" height="4.48" fill="#6cbf48"/>
<line x1="235.97" y1="196" x2="235.97" y2="264.5" stroke="#a01828" stroke-width="0.6" opacity="0.3"/>
<line x1="238.34" y1="196" x2="238.34" y2="264.5" stroke="#a01828" stroke-width="0.6" opacity="0.3"/>
<line x1="240.71" y1="196" x2="240.71" y2="264.5" stroke="#a01828" stroke-width="0.6" opacity="0.3"/>
<line x1="243.08" y1="196" x2="243.08" y2="264.5" stroke="#a01828" stroke-width="0.6" opacity="0.3"/>
<line x1="245.45" y1="196" x2="245.45" y2="264.5" stroke="#a01828" stroke-width="0.6" opacity="0.3"/>
<line x1="247.82" y1="196" x2="247.82" y2="264.5" stroke="#a01828" stroke-width="0.6" opacity="0.3"/>
<line x1="250.19" y1="196" x2="250.19" y2="264.5" stroke="#a01828" stroke-width="0.6" opacity="0.3"/>
<line x1="252.56" y1="196" x2="252.56" y2="264.5" stroke="#a01828" stroke-width="0.6" opacity="0.3"/>
<line x1="254.93" y1="196" x2="254.93" y2="264.5" stroke="#a01828" stroke-width="0.6" opacity="0.3"/>
<line x1="257.3" y1="196" x2="257.3" y2="264.5" stroke="#a01828" stroke-width="0.6" opacity="0.3"/>
<line x1="259.67" y1="196" x2="259.67" y2="264.5" stroke="#a01828" stroke-width="0.6" opacity="0.3"/>
<line x1="262.04" y1="196" x2="262.04" y2="264.5" stroke="#a01828" stroke-width="0.6" opacity="0.3"/>
<line x1="264.41" y1="196" x2="264.41" y2="264.5" stroke="#a01828" stroke-width="0.6" opacity="0.3"/>
<line x1="266.79" y1="196" x2="266.79" y2="264.5" stroke="#a01828" stroke-width="0.6" opacity="0.3"/>
<line x1="269.16" y1="196" x2="269.16" y2="264.5" stroke="#a01828" stroke-width="0.6" opacity="0.3"/>
<line x1="271.53" y1="196" x2="271.53" y2="264.5" stroke="#a01828" stroke-width="0.6" opacity="0.3"/>
<line x1="273.9" y1="196" x2="273.9" y2="264.5" stroke="#a01828" stroke-width="0.6" opacity="0.3"/>
<line x1="276.27" y1="196" x2="276.27" y2="264.5" stroke="#a01828" stroke-width="0.6" opacity="0.3"/>
<line x1="278.64" y1="196" x2="278.64" y2="264.5" stroke="#a01828" stroke-width="0.6" opacity="0.3"/>
<line x1="281.01" y1="196" x2="281.01" y2="264.5" stroke="#a01828" stroke-width="0.6" opacity="0.3"/>
<line x1="283.38" y1="196" x2="283.38" y2="264.5" stroke="#a01828" stroke-width="0.6" opacity="0.3"/>
<line x1="285.75" y1="196" x2="285.75" y2="264.5" stroke="#a01828" stroke-width="0.6" opacity="0.3"/>
<line x1="288.12" y1="196" x2="288.12" y2="264.5" stroke="#a01828" stroke-width="0.6" opacity="0.3"/>
<line x1="290.49" y1="196" x2="290.49" y2="264.5" stroke="#a01828" stroke-width="0.6" opacity="0.3"/>
<line x1="292.86" y1="196" x2="292.86" y2="264.5" stroke="#a01828" stroke-width="0.6" opacity="0.3"/>
<line x1="295.23" y1="196" x2="295.23" y2="264.5" stroke="#a01828" stroke-width="0.6" opacity="0.3"/>
<line x1="297.6" y1="196" x2="297.6" y2="264.5" stroke="#a01828" stroke-width="0.6" opacity="0.3"/>
<line x1="299.97" y1="196" x2="299.97" y2="264.5" stroke="#a01828" stroke-width="0.6" opacity="0.3"/>
<line x1="302.34" y1="196" x2="302.34" y2="264.5" stroke="#a01828" stroke-width="0.6" opacity="0.3"/>
<line x1="304.71" y1="196" x2="304.71" y2="264.5" stroke="#a01828" stroke-width="0.6" opacity="0.3"/>
<line x1="307.08" y1="196" x2="307.08" y2="264.5" stroke="#a01828" stroke-width="0.6" opacity="0.3"/>
<line x1="309.45" y1="196" x2="309.45" y2="264.5" stroke="#a01828" stroke-width="0.6" opacity="0.3"/>
<line x1="311.82" y1="196" x2="311.82" y2="264.5" stroke="#a01828" stroke-width="0.6" opacity="0.3"/>
<line x1="314.19" y1="196" x2="314.19" y2="264.5" stroke="#a01828" stroke-width="0.6" opacity="0.3"/>
<line x1="316.56" y1="196" x2="316.56" y2="264.5" stroke="#a01828" stroke-width="0.6" opacity="0.3"/>
<line x1="318.93" y1="196" x2="318.93" y2="264.5" stroke="#a01828" stroke-width="0.6" opacity="0.3"/>
<line x1="321.3" y1="196" x2="321.3" y2="264.5" stroke="#a01828" stroke-width="0.6" opacity="0.3"/>
<line x1="323.67" y1="196" x2="323.67" y2="264.5" stroke="#a01828" stroke-width="0.6" opacity="0.3"/>
<line x1="326.04" y1="196" x2="326.04" y2="264.5" stroke="#a01828" stroke-width="0.6" opacity="0.3"/>
<line x1="328.41" y1="196" x2="328.41" y2="264.5" stroke="#a01828" stroke-width="0.6" opacity="0.3"/>
<line x1="330.79" y1="196" x2="330.79" y2="264.5" stroke="#a01828" stroke-width="0.6" opacity="0.3"/>
<line x1="333.16" y1="196" x2="333.16" y2="264.5" stroke="#a01828" stroke-width="0.6" opacity="0.3"/>
<line x1="335.53" y1="196" x2="335.53" y2="264.5" stroke="#a01828" stroke-width="0.6" opacity="0.3"/>
<line x1="337.9" y1="196" x2="337.9" y2="264.5" stroke="#a01828" stroke-width="0.6" opacity="0.3"/>
<line x1="340.27" y1="196" x2="340.27" y2="264.5" stroke="#a01828" stroke-width="0.6" opacity="0.3"/>
<line x1="342.64" y1="196" x2="342.64" y2="264.5" stroke="#a01828" stroke-width="0.6" opacity="0.3"/>
<line x1="345.01" y1="196" x2="345.01" y2="264.5" stroke="#a01828" stroke-width="0.6" opacity="0.3"/>
<line x1="347.38" y1="196" x2="347.38" y2="264.5" stroke="#a01828" stroke-width="0.6" opacity="0.3"/>
<line x1="349.75" y1="196" x2="349.75" y2="264.5" stroke="#a01828" stroke-width="0.6" opacity="0.3"/>
<line x1="352.12" y1="196" x2="352.12" y2="264.5" stroke="#a01828" stroke-width="0.6" opacity="0.3"/>
<line x1="354.49" y1="196" x2="354.49" y2="264.5" stroke="#a01828" stroke-width="0.6" opacity="0.3"/>
<line x1="356.86" y1="196" x2="356.86" y2="264.5" stroke="#a01828" stroke-width="0.6" opacity="0.3"/>
<line x1="359.23" y1="196" x2="359.23" y2="264.5" stroke="#a01828" stroke-width="0.6" opacity="0.3"/>
<text x="300.4" y="271.8" font-size="4.8" text-anchor="middle" fill="#222" font-weight="normal" font-style="normal" textLength="35" lengthAdjust="spacingAndGlyphs" stroke="#222" stroke-width="0.08">NSCLC samples</text>
<text x="365.9" y="209" font-size="4.6" text-anchor="start" fill="#222" font-weight="normal" font-style="normal" textLength="20" lengthAdjust="spacingAndGlyphs" stroke="#222" stroke-width="0.15">Cell Type</text>
<rect x="366.4" y="212.2" width="4.2" height="4" fill="#e84648"/>
<text x="373" y="215.4" font-size="3.6" text-anchor="start" fill="#333" font-weight="normal" font-style="normal" stroke="#333" stroke-width="0.06">Macrophage</text>
<rect x="366.4" y="217.06" width="4.2" height="4" fill="#f29a38"/>
<text x="373" y="220.26" font-size="3.6" text-anchor="start" fill="#333" font-weight="normal" font-style="normal" stroke="#333" stroke-width="0.06">NK Cell</text>
<rect x="366.4" y="221.92" width="4.2" height="4" fill="#f5c030"/>
<text x="373" y="225.12" font-size="3.6" text-anchor="start" fill="#333" font-weight="normal" font-style="normal" stroke="#333" stroke-width="0.06">T Cell</text>
<rect x="366.4" y="226.78" width="4.2" height="4" fill="#eee23a"/>
<text x="373" y="229.98" font-size="3.6" text-anchor="start" fill="#333" font-weight="normal" font-style="normal" stroke="#333" stroke-width="0.06">B cell</text>
<rect x="366.4" y="231.64" width="4.2" height="4" fill="#b8d640"/>
<text x="373" y="234.84" font-size="3.6" text-anchor="start" fill="#333" font-weight="normal" font-style="normal" stroke="#333" stroke-width="0.06">Myeloid</text>
<rect x="366.4" y="236.5" width="4.2" height="4" fill="#9acb3c"/>
<text x="373" y="239.7" font-size="3.6" text-anchor="start" fill="#333" font-weight="normal" font-style="normal" stroke="#333" stroke-width="0.06">Mesenchymal</text>
<rect x="366.4" y="241.36" width="4.2" height="4" fill="#6cbf48"/>
<text x="373" y="244.56" font-size="3.6" text-anchor="start" fill="#333" font-weight="normal" font-style="normal" stroke="#333" stroke-width="0.06">Plasma cell</text>
<rect x="366.4" y="246.22" width="4.2" height="4" fill="#62b85c"/>
<text x="373" y="249.42" font-size="3.6" text-anchor="start" fill="#333" font-weight="normal" font-style="normal" stroke="#333" stroke-width="0.06">Fibroblasts</text>
<rect x="366.4" y="251.08" width="4.2" height="4" fill="#5cba8a"/>
<text x="373" y="254.28" font-size="3.6" text-anchor="start" fill="#333" font-weight="normal" font-style="normal" stroke="#333" stroke-width="0.06">Dendritic cell</text>
<text x="0.2" y="282.3" font-size="5.4" text-anchor="start" fill="#111" font-weight="bold" font-style="normal" stroke="#111" stroke-width="0.2">I</text>
<line x1="14.5" y1="284.5" x2="14.5" y2="376.9" stroke="#444" stroke-width="0.6"/>
<line x1="13.5" y1="286.5" x2="14.5" y2="286.5" stroke="#8c8c8c" stroke-width="0.3"/>
<text x="12.8" y="287.6" font-size="3.2" text-anchor="end" fill="#333" font-weight="normal" font-style="normal" stroke="#333" stroke-width="0.06">6</text>
<line x1="13.5" y1="304.7" x2="14.5" y2="304.7" stroke="#8c8c8c" stroke-width="0.3"/>
<text x="12.8" y="305.8" font-size="3.2" text-anchor="end" fill="#333" font-weight="normal" font-style="normal" stroke="#333" stroke-width="0.06">4</text>
<line x1="13.5" y1="323.5" x2="14.5" y2="323.5" stroke="#8c8c8c" stroke-width="0.3"/>
<text x="12.8" y="324.6" font-size="3.2" text-anchor="end" fill="#333" font-weight="normal" font-style="normal" stroke="#333" stroke-width="0.06">2</text>
<line x1="13.5" y1="341.9" x2="14.5" y2="341.9" stroke="#8c8c8c" stroke-width="0.3"/>
<text x="12.8" y="343" font-size="3.2" text-anchor="end" fill="#333" font-weight="normal" font-style="normal" stroke="#333" stroke-width="0.06">0</text>
<line x1="13.5" y1="360.25" x2="14.5" y2="360.25" stroke="#8c8c8c" stroke-width="0.3"/>
<text x="12.8" y="361.35" font-size="3.2" text-anchor="end" fill="#333" font-weight="normal" font-style="normal" stroke="#333" stroke-width="0.06">-2</text>
<text x="6.2" y="324.8" font-size="4.8" text-anchor="middle" fill="#222" font-weight="normal" font-style="normal" transform="rotate(-90 6.2 324.8)" textLength="54.5" lengthAdjust="spacingAndGlyphs" stroke="#222" stroke-width="0.06">Average log2FoldChange</text>
<path transform="scale(.1)" d="M271 2890h0" stroke="#1a80b0" stroke-width="39" stroke-linecap="round" opacity="1" fill="none"/>
<path transform="scale(.1)" d="M271 2969h0" stroke="#a82a2a" stroke-width="39" stroke-linecap="round" opacity="1" fill="none"/>
<text x="32" y="290.4" font-size="3.8" text-anchor="start" fill="#333" font-weight="normal" font-style="normal" textLength="15.1" lengthAdjust="spacingAndGlyphs" stroke="#333" stroke-width="0.06">sigDown</text>
<text x="32" y="298.3" font-size="3.8" text-anchor="start" fill="#333" font-weight="normal" font-style="normal" textLength="10" lengthAdjust="spacingAndGlyphs" stroke="#333" stroke-width="0.06">sigUp</text>
<rect x="16.5" y="318" width="22.2" height="22.6" fill="#f9f9f9"/>
<rect x="41" y="306" width="22.2" height="34.6" fill="#f9f9f9"/>
<rect x="65" y="314" width="22.2" height="26.6" fill="#f9f9f9"/>
<rect x="89" y="308.7" width="22.2" height="31.9" fill="#f9f9f9"/>
<rect x="112.8" y="318" width="22.2" height="22.6" fill="#f9f9f9"/>
<rect x="134.6" y="297" width="22.2" height="43.6" fill="#f9f9f9"/>
<rect x="159" y="300" width="22.2" height="40.6" fill="#f9f9f9"/>
<rect x="181" y="306" width="22.2" height="34.6" fill="#f9f9f9"/>
<rect x="205.5" y="313" width="22.2" height="27.6" fill="#f9f9f9"/>
<path transform="scale(.1)" d="M272 3402h0m-68-38h0m-8 36h0m137-42h0m-101 13h0m31 27h0m80-30h0m-37 24h0m-6-33h0m76 12h0m-84 31h0m-99-1h0m20-16h0m152-36h0m-143-13h0m155 47h0m-161-36h0m105 54h0m24-27h0m-95 7h0m100 18h0m17-45h0m-96 7h0m-50-26h0m-47-4h0m118 60h0m-36 3h0m-34-60h0m100 65h0m-108-37h0m15 25h0m105-41h0m-121 55h0m5-68h0m32 9h0m120 51h0m-40 4h0m-48-21h0m-58 23h0m50 0h0m28-42h0m-61-6h0m-18-14h0m96 55h0m-86-28h0m132 34h0m-33-58h0m9 21h0m26-24h0m-94 42h0m100-33h0m-197 56h0m84-68h0m74 5h0m-125-2h0m-12 27h0m17-14h0m115 51h0m6-40h0m-39 32h0m-75 3h0m64-19h0m-31 10h0m-49-47h0m177 29h0m-173 5h0m28 22h0m34-16h0m-98-16h0m-3 12h0m88-45h0m5 35h0m68-34h0m-113 57h0m42 10h0m-76-51h0m139 41h0m-22-3h0m-29-29h0m-86 15h0m14 25h0m179 5h0m-102-22h0m66-9h0m-81-31h0m4 60h0m103-42h0m-115 42h0m-22-37h0m89-1h0m-88-3h0m-63 12h0m61 4h0m-34-7h0m185 1h0m-103 29h0m21-1h0m-71-46h0m124 43h0m-107-21h0m9-3h0m7 0h0m-65-33h0m30 55h0m11-30h0m92 29h0m-61-8h0m36 19h0m-25-70h0m78 2h0m-137 5h0m156 40h0m-207 5h0m90 4h0m7 12h0m51-8h0m44 2h0m-14-6h0m-73-1h0m9 14h0m85-2h0m-73-5h0m-35-42h0m114 9h0m-101 36h0m-38-19h0m42-19h0m-31 13h0m19-11h0m6 34h0m47-16h0m-71-29h0m126 44h0m-61-42h0m-114 5h0m93 39h0m78 4h0m-191-14h0m58-11h0m44 7h0m97-18h0m-110 35h0m14 2h0m-101 0h0m140-43h0m-124 26h0m161 11h0m-95-20h0m31-31h0m-121-10h0m106 19h0m-89 13h0m64 36h0m-53-40h0m164 30h0m-18 10h0m21-13h0m-113 10h0m118-9h0m-176-7h0m143 13h0m-130-22h0m123 2h0m-114-12h0m-10-31h0m125 59h0m-25 1h0m-129 4h0m-6-23h0m193 22h0m-84-29h0m8-4h0m-40 0h0m-50-18h0m-26 21h0m8 21h0m75 2h0m71 4h0m-36-28h0m-84 37h0m5-15h0m0-28h0m27 13h0m111-7h0m-94 15h0m-15-1h0m-40-29h0m21 41h0m-14-33h0m145-4h0m20 36h0m-73 5h0m-88-4h0m96-27h0m52-14h0m-178 47h0m29 5h0m88-9h0m2 2h0m-91-28h0m65 5h0m-94-15h0m175 34h0m-139 10h0m-48-36h0m63 37h0m92-44h0m-111-10h0m-41 21h0m10 32h0m166-6h0m-139-2h0m-27 4h0m8-57h0m139 47h0m-33-6h0m-126-15h0m16 9h0m51 6h0m108-41h0m34 22h0m-65-27h0m50 2h0m-101 34h0m82 29h0m-47-46h0m-55-23h0m72 16h0m19 30h0m40 24h0m-153-56h0m-4 12h0m-20-1h0m-1 19h0m-20-26h0m135-12h0m13 54h0m-60 2h0m-15-8h0m40-31h0m57 30h0m-145-43h0m94 9h0m63 42h0m-59-57h0m-94 54h0m145-16h0m-155 7h0m161 15h0m-178-5h0m95-15h0m-84 11h0m68 8h0m68-30h0m-80 38h0m44-7h0m32-37h0m-75 13h0m-15 28h0m-4-10h0m47-33h0m-89 2h0m-9-16h0m195 25h0m-142 24h0m120 2h0m15-25h0m-54 27h0m51-29h0m-20-13h0m-9 42h0m-50 6h0m53 1h0m9-1h0m-45-7h0m-27 5h0m8-58h0m55 4h0m-42 56h0m-100-23h0m144-5h0m-80 3h0m94-15h0m-6 18h0m-143-7h0m153 27h0m-154-13h0m107 16h0m-71-37h0m61 23h0m-117-43h0m-5 51h0m184-37h0m-180 25h0m-7-21h0m122-16h0m78 33h0m-48-3h0m52-2h0m-112-16h0m-49 42h0m125-63h0m0 13h0m-22 19h0m-107-12h0m-7-1h0m-22-19h0m87 63h0m-42-17h0m129 9h0m-24-5h0m17 9h0m10-7h0m4 2h0m-79 10h0m-5-21h0m15-41h0m-82 18h0m75-19h0m89 13h0m-165 5h0m7 41h0m153-18h0m-175-4h0m137 17h0m-147 4h0m35-49h0m118-11h0m-70 7h0m-10 49h0m-48-25h0m-6 25h0m121 2h0m-121 0h0m121-2h0m3 1h0m-87 4h0m78-1h0m46 4h0m-164-21h0m-1-14h0m35 31h0m18-22h0m-66 25h0m41-2h0m23-14h0m-51-12h0m11 24h0m-39-1h0m23-34h0m165 8h0m-117 31h0m-4-50h0m-42-10h0m9 59h0m75-68h0m40 62h0m29-36h0m11 32h0m-89 4h0m-45-55h0m-5 61h0m139-11h0m-45-24h0m-102-21h0m-32 53h0m191-33h0m-68 14h0m54 22h0m-94-7h0m-78-19h0m36 11h0m105-39h0m-131 25h0m156-14h0m-176 27h0m90-18h0m-30 37h0m33-45h0m52-18h0m10-49h0m-59 5h0m-41 11h0m139-10h0m-22 33h0m-99-7h0m11-55h0m0 63h0m-27-23h0m45-5h0m-60 9h0m111-16h0m-4 2h0m-130 30h0m41-15h0m-13 7h0m153 3h0m-136-40h0m-31 48h0m117 0h0m-84-17h0m104-22h0m-97-31h0m114 43h0m-95 18h0m72-45h0m-14 13h0m-140-23h0m187 12h0m-74 34h0m34-15h0m-59-25h0m-9 11h0m-47-18h0m17 53h0m-30-14h0m29 2h0m-41 11h0m151-44h0m-22 48h0m-70-31h0m-52 38h0m163-9h0m-131-6h0m10-7h0" stroke="#d42424" stroke-width="10" stroke-linecap="round" opacity="0.95" fill="none"/>
<path transform="scale(.1)" d="M339 3531h0m-150-24h0m58-48h0m49 58h0m84-53h0m-79 54h0m-102-77h0m101 60h0m-51-43h0m85-19h0m-125 10h0m7 13h0m158 92h0m-19-50h0m-179-38h0m45 92h0m-27-115h0m28-5h0m24 36h0m34 49h0m-49-39h0m1 31h0m-11 3h0m110-64h0m-50 56h0m93 49h0m-105-114h0m77 21h0m-170 2h0m-4 78h0m19-78h0m174 23h0m-17-9h0m-1-2h0m-54 72h0m-63-26h0m75-51h0m-6-22h0m36 102h0m-161-42h0m13-72h0m138 90h0m-91-9h0m-51-4h0m195-15h0m-99-65h0m92 129h0m-115-60h0m-49-59h0m58 3h0m40 70h0m55-40h0m-42 4h0m13 11h0m17 67h0m-19-104h0m-146-19h0m197 129h0m-207-36h0m130 11h0m19-57h0m34 13h0m6 46h0m-6-98h0m-158 4h0m5 17h0m71 5h0m-97-33h0m109 85h0m49-52h0m-136-23h0m-18 69h0m76 22h0m67-19h0m-100-33h0m0 1h0m69-43h0m87 5h0m-131-5h0m-26 32h0m-27 24h0m78 57h0m-36-51h0m-46 57h0m178-94h0m-91-21h0m6 73h0m-106-71h0m104-7h0m25 98h0m-39-60h0m84 36h0m20-44h0m-61-9h0m-139 97h0m148-114h0m-93 13h0m-55-22h0m169 22h0m-115 13h0m10 39h0m-8-46h0m-55-24h0m3 117h0m114-117h0m57 8h0m-121 108h0m107 3h0m11-4h0m28 6h0m-145 0h0m-3-86h0m0-25h0m-50 75h0m160-91h0m10 5h0m-165 14h0m102-14h0m-42-7h0m123 20h0m-68 101h0m37-110h0m-28 30h0m-55-5h0m-34 17h0m-32-50h0m159 26h0m4 88h0m-2-91h0m-53 83h0m-22-60h0m94-22h0m-73-22h0m-9 62h0m-44 31h0m104-31h0m-90-21h0m39-22h0m77-19h0m13 36h0m-110 85h0m89-112h0m-61 109h0m29-55h0m-142-23h0m49 65h0m61 19h0m25-94h0m-128 21h0m163 36h0m-70-82h0m-78-10h0m118 107h0m45-50h0m-17-25h0m-46-24h0m-104 53h0m71-6h0m-63 56h0m60-99h0m21-1h0m72 115h0m14-46h0m-51 32h0m-84-105h0m-18 21h0m-21 34h0m52-38h0m116 70h0m-125-88h0m-54 114h0m107-13h0m-33-97h0m60 42h0m-3-33h0m-111 7h0m130-1h0m-71-10h0m61 101h0m-69-42h0m58-73h0m-70 10h0m64 61h0m-115 12h0m115 12h0m-126-56h0m35-27h0m-39 110h0m190-48h0m-39-32h0m-32-22h0m-106-20h0m120 6h0m-65-4h0m-78 9h0m-2 119h0m170 1h0m-49-107h0m-89 93h0m78-74h0m-47 35h0m39-77h0m25 67h0m-20-63h0m73 36h0m-27-37h0m38 81h0m-43-35h0m-77-47h0m-34 11h0m109 21h0m29 78h0m-138-56h0m51 68h0m-55-105h0m12 94h0m-7-103h0m55 39h0m79-36h0m-71 43h0m-3-52h0m45-6h0m-123 11h0m-6 60h0m106-26h0m3 17h0m8-44h0m77-9h0m-6 119h0m-197-124h0m165 68h0m-29-38h0m-99 38h0m25-40h0m38 52h0m73-81h0m-57-3h0m60 31h0m-23 11h0m-79-3h0m95 66h0m-87-105h0m-25 25h0m29-11h0m12-3h0m-52 58h0m6-17h0m109 19h0m-59-63h0m31 25h0m-19 2h0m-16-32h0m9 93h0m5-40h0m66-47h0m-103 102h0m55 0h0m-107-111h0m-12 12h0m89-12h0m-22 1h0m9 98h0m-55-40h0m18-15h0m86-34h0m45-10h0m-57 49h0m-97 24h0m30-73h0m25 27h0m-25 79h0m-26-106h0m48 0h0m-18 25h0m130 4h0m-96 73h0m-43-23h0m95-32h0m-50-6h0m-45 55h0m92-90h0m-90 80h0m20-23h0m3 48h0m17-10h0m-8-95h0m-95 84h0m79-31h0m112-13h0m-62-21h0m30-4h0m26 53h0m19 6h0m-201 20h0m163-42h0m-32 41h0m-105-2h0m114-91h0m-76 94h0m21-80h0m-60-4h0m109 55h0m-119-62h0m21 19h0m61 97h0m-54-95h0m115-30h0m-138 16h0m53 92h0m-16-56h0m114-35h0m-148 99h0m13-54h0m41 35h0m5-87h0m92 4h0m-69-11h0m-63 36h0m69-23h0m-82 36h0m157 70h0m-22-60h0m-119 29h0m116-78h0m36 33h0m-95-38h0m-18 94h0m38-52h0m-81-49h0m92 58h0m64-32h0m-8 4h0m-7-2h0m15 44h0m-69-55h0m-123-1h0m197 96h0m-185-62h0m-1 72h0m18-122h0m155 13h0m-13 104h0m-123-25h0m25-42h0m95-49h0m-117 29h0m101-23h0m-105 45h0m-17-15h0m-26 49h0m42-80h0m100 20h0m-67-6h0m-35-18h0m36 37h0m110-34h0m-139 8h0m100 101h0m-84-57h0m83-57h0m5 103h0m7-4h0m-3 5h0m14 24h0m-9-123h0m31 20h0m-167-4h0m69 102h0m73-55h0m-140 11h0m-6 42h0m6-99h0m110 83h0m-69-42h0m28-17h0m9-37h0m-9 13h0m28 0h0m-55 101h0m107-55h0m-106 40h0m-79-104h0m172 44h0m-70-6h0m77 40h0m-102-76h0m-28 39h0m-47-34h0m46 67h0m-3-11h0m-33-64h0m130-1h0m-55 45h0m36 13h0m-46 7h0m91 26h0m10 3h0m-4-55h0m-165 30h0m142-51h0m-127 102h0m146-110h0m-138 25h0m129 66h0m-10-66h0m-27-8h0m-15-3h0m100 41h0m-19-17h0m17-51h0m-46 30h0m-103 30h0m-39-58h0m43 37h0m101-17h0m-57 80h0m-106-18h0m28-61h0m54-8h0m-1 16h0m126-20h0m-54 63h0m-77 40h0m13-113h0m69 10h0m23 12h0m-41 10h0m18-13h0m-121 11h0m107 51h0m-22-39h0m76-39h0m-93 9h0m65 15h0m-88-28h0m102 98h0m-57-96h0m-35 9h0m110 89h0m-139-70h0m-52 14h0m23-11h0m131-33h0m34 16h0m-193 73h0m108-55h0m-27-26h0m-34 79h0m69 22h0m-109-71h0m137 0h0m-97 44h0m0-52h0m156-16h0m-202 101h0m141-93h0m-137 88h0m-11-78h0m-2 71h0m122-93h0" stroke="#2594d4" stroke-width="10" stroke-linecap="round" opacity="0.95" fill="none"/>
<rect x="16.5" y="340.3" width="22.2" height="3.6" fill="#46708f"/>
<path transform="scale(.1)" d="M549 3399h0m73-9h0m-136-7h0m-19-18h0m126-19h0m-46-33h0m-77 45h0m9 44h0m115-21h0m-26 1h0m-32-59h0m-115 5h0m93 62h0m-35-40h0m36-31h0m-61 10h0m119 33h0m-24-27h0m-129 37h0m73 27h0m-44-46h0m106-11h0m35 27h0m18 33h0m-149-30h0m25 11h0m-3-20h0m35 13h0m34 13h0m38 3h0m-63 10h0m55-16h0m33-44h0m-8-23h0m-110 71h0m6-1h0m32-63h0m-25 69h0m-60-13h0m-8 2h0m47 5h0m-51 13h0m23-37h0m86-6h0m79 35h0m-52-25h0m53-5h0m-180 29h0m84-51h0m88 1h0m-177 47h0m36-18h0m148-46h0m-41-9h0m36 43h0m-81-49h0m-41 68h0m-73-7h0m114-10h0m78-5h0m-44 29h0m-156-11h0m77 9h0m-24 16h0m2-16h0m-44 12h0m128-57h0m-100 10h0m99 44h0m-122 6h0m109 1h0m-83-38h0m128-50h0m20 25h0m-174-7h0m66 37h0m2 22h0m-48 13h0m30-25h0m136-5h0m-121 7h0m-23-3h0m46 1h0m30 0h0m38 10h0m-35 14h0m45-71h0m-70-13h0m3 52h0m-70-17h0m152 13h0m-19 31h0m-44-14h0m-52-38h0m-70 30h0m67 19h0m-15-23h0m103 32h0m-154-4h0m-13-26h0m206-19h0m-37-29h0m30 66h0m-145-17h0m96 24h0m-108-47h0m-37 17h0m44 22h0m-19-74h0m-21 84h0m168-73h0m-68 51h0m-75 10h0m147-43h0m-176 27h0m206 4h0m-96-9h0m-31 21h0m120-29h0m-144-28h0m-36 15h0m128 54h0m-79 1h0m132-4h0m-7-83h0m-84 82h0m6-48h0m-93 28h0m159 15h0m-65-1h0m15 11h0m-108-34h0m118-34h0m-74 23h0m-39 46h0m140-7h0m-138 7h0m118-8h0m-19 7h0m-120 0h0m26-83h0m27 56h0m98-20h0m-62 17h0m94 28h0m-150-33h0m101 27h0m20 9h0m28-11h0m-56-14h0m-108 25h0m105-23h0m-21-48h0m19 22h0m26-8h0m-42 51h0m-29 5h0m65-71h0m39 31h0m-83 42h0m-109-86h0m179 86h0m14-5h0m-194-17h0m45 14h0m129-34h0m-4-24h0m-170 49h0m147-25h0m26-7h0m-26-6h0m-29-22h0m-3 68h0m-6-62h0m41 28h0m-33 42h0m-56-1h0m125-60h0m-61 55h0m32 5h0m-112-10h0m153 0h0m-94 3h0m29-7h0m-115-56h0m-19 20h0m70-28h0m-37 24h0m76 49h0m-57-6h0m64-21h0m-86-57h0m119 8h0m2 68h0m60-22h0m-48 14h0m-121 2h0m25-31h0m46-15h0m1-17h0m43 81h0m-69 3h0m41-61h0m-96 61h0m97-87h0m78 68h0m-130-57h0m62 33h0m-21 29h0m45-28h0m8 41h0m-135-42h0m45-29h0m18-4h0m36 69h0m-95-75h0m-25 59h0m121 10h0m49-48h0m-102 25h0m-18-23h0m110 48h0m-76 2h0m108-82h0m-106 86h0m63-43h0m-133 28h0m137-35h0m18 20h0m-172-33h0m52 48h0m-50 16h0m159-22h0m-63-37h0m17 62h0m-79-7h0m95 0h0m-83-22h0m-37 6h0m77 9h0m-99 15h0m130-60h0m-17 44h0m-12-48h0m-51 48h0m59-20h0m5-49h0m-101 29h0m66-28h0m-38 83h0m25-65h0m130-25h0m-30 60h0m-95 31h0m-59-56h0m26 53h0m-6-65h0m80 43h0m17-11h0m76 8h0m-186-7h0m26-33h0m-8 62h0m73-26h0m7-58h0m11 27h0m13 3h0m-143 26h0m22-12h0m31 33h0m134 13h0m-117-52h0m-6-22h0m116-6h0m-11 79h0m-29-14h0m44-22h0m-85 8h0m80 8h0m-38 2h0m-65-45h0m98 54h0m-47 6h0m38-56h0m40 30h0m-36-10h0m-140 3h0m-27-43h0m32 76h0m89-36h0m31-41h0m-151 11h0m13 31h0m-13-8h0m16 6h0m104 16h0m52 19h0m-99 4h0m-49-1h0m-2-13h0m103-16h0m-65-19h0m29 3h0m-25-40h0m60 88h0m75-15h0m-140-50h0m-48 56h0m183 2h0m-139-7h0m8-37h0m-15 17h0m91 1h0m-10-46h0m-14 70h0m30-4h0m-122-54h0m140 43h0m-37-5h0m66 16h0m-125 11h0m-4-43h0m-15 0h0m-4 28h0m-34-63h0m98-6h0m-10 49h0m60 32h0m-134 1h0m158-16h0m-19 10h0m14-21h0m5-48h0m3 78h0m-167-20h0m2 20h0m140-2h0m-27 0h0m-58-20h0m12-34h0m9 35h0m-27-1h0m-18-44h0m59 43h0m-20-41h0m91 25h0m-3 39h0m-43-44h0m-50-31h0m-48 74h0m-30 1h0m64-79h0m120 68h0m-151-20h0m42-31h0m22-11h0m92 24h0m-123 13h0m23 36h0m-26-69h0m-25-18h0m-31 74h0m76-10h0m-82 9h0m94-5h0m-28 14h0m86-12h0m-8-50h0m-56 59h0m22-71h0m-24 11h0m74 46h0m-87-40h0m59 55h0m-95-72h0m123 48h0m-162-9h0m79 31h0m1 9h0m59-31h0m-150-61h0m59-9h0m45-2h0m9 1h0m0 10h0m31-74h0m32 24h0m-28-2h0m-88 38h0m-32-21h0m64 9h0m74 26h0m-40-25h0m-76 8h0m72 13h0m64-57h0m-178 27h0m113 23h0m-47-54h0m-71 55h0m180-30h0m-153-47h0m24 39h0m22-17h0m-42-12h0m95 11h0m-5 66h0m76-1h0m-47-62h0m50 16h0m-70-24h0m24 58h0m-5 8h0m-43-57h0m44-17h0m-21 76h0m-21-3h0m-1-26h0m91 12h0m-103-5h0m105 20h0m-170-63h0m106 52h0m47-53h0m13 29h0" stroke="#d42424" stroke-width="10" stroke-linecap="round" opacity="0.95" fill="none"/>
<path transform="scale(.1)" d="M450 3471h0m-20-12h0m147 139h0m-64-145h0m0 16h0m29 129h0m49-153h0m-98 50h0m98 14h0m4-3h0m-92 14h0m39-68h0m3-5h0m80 7h0m1 14h0m-163 35h0m128-58h0m-50 93h0m53-16h0m-55 56h0m70-25h0m-142-46h0m54-46h0m-43-23h0m-16 47h0m56 65h0m-15-23h0m104-34h0m-27 5h0m15 36h0m26-96h0m-124 126h0m60-120h0m-138 6h0m64 42h0m110-25h0m-31 11h0m-16 40h0m13-69h0m-97 143h0m20-150h0m-18 98h0m92 47h0m2-114h0m-6 81h0m55-79h0m-118 83h0m-23-39h0m-21-50h0m31-29h0m-1-1h0m-53 118h0m10-51h0m103-61h0m-9 1h0m81 11h0m-8 12h0m-78 44h0m-6-41h0m47-16h0m-11 14h0m-107 121h0m-2-151h0m-12 0h0m65 21h0m-35 64h0m147-38h0m-89 9h0m29-3h0m-26-46h0m-29 126h0m89-12h0m-142-25h0m-12-58h0m134 114h0m29-135h0m-89-17h0m0-2h0m-82 111h0m36-86h0m145 0h0m-50 23h0m70-33h0m-126-14h0m-35 6h0m59 60h0m-24-42h0m-78 125h0m158-141h0m-89-8h0m-2 6h0m-50 87h0m153-12h0m28-68h0m-152-7h0m31-6h0m-48 93h0m80 49h0m-15-74h0m-6-53h0m-1 25h0m-70-26h0m130 3h0m-48 37h0m-17 35h0m-26-2h0m3 63h0m101-135h0m47-13h0m-133 76h0m-43-2h0m91-76h0m16 12h0m-116 18h0m177 0h0m-16 112h0m-130-78h0m119-31h0m-76-31h0m58 47h0m-80 57h0m132 39h0m-132-98h0m18 61h0m-91-52h0m141 1h0m-25-36h0m64-20h0m-62 14h0m54 58h0m-110-11h0m-43 78h0m-7-119h0m185 132h0m-51-154h0m-60 79h0m0 35h0m49-114h0m-11 51h0m-86 2h0m27-33h0m-35 75h0m-12-31h0m51-18h0m-32-31h0m13 61h0m-21-74h0m172 64h0m-15-65h0m-8 0h0m-33 87h0m-136 17h0m201-105h0m-59 2h0m22 23h0m-56-25h0m52 3h0m-15 2h0m-71 157h0m58-162h0m30 24h0m-97 53h0m-11-49h0m40 72h0m14-61h0m-51-35h0m-54 19h0m22-23h0m141 24h0m-86-16h0m16 33h0m87-41h0m-89 150h0m102-139h0m-131-10h0m91 13h0m-105 48h0m90 37h0m-65-73h0m-39 32h0m128-43h0m-12 119h0m-157-127h0m108 149h0m-67-32h0m92-60h0m-14 38h0m-69-101h0m-46 143h0m79-26h0m41-62h0m-69-41h0m-31 94h0m52-89h0m5 130h0m20-150h0m-84 11h0m91-8h0m12 2h0m-92 73h0m-21 56h0m83-25h0m43 19h0m-55-38h0m89 33h0m-123-30h0m106-82h0m-17 150h0m-6-146h0m-81 89h0m86-65h0m-35 78h0m-76-32h0m5 71h0m70-124h0m-88 105h0m97-116h0m-2 6h0m-91 63h0m180-32h0m-84 55h0m-49-113h0m102 97h0m-163-11h0m170-59h0m-63 11h0m-19 32h0m15 92h0m15-53h0m5-77h0m24-26h0m-30 46h0m3 7h0m-123 30h0m60-32h0m111 87h0m-22 3h0m-1-136h0m-82-7h0m39 144h0m-4-121h0m3-17h0m13 88h0m78-37h0m-161 88h0m80-48h0m78-99h0m18 6h0m-200 142h0m44-44h0m115 27h0m-141 13h0m59-139h0m56 115h0m-11 13h0m42-94h0m-125-41h0m146 56h0m-154 42h0m45 25h0m20-123h0m-78 99h0m-2-18h0m171-80h0m2-1h0m-142 92h0m89-57h0m-148 62h0m115-93h0m-112 78h0m165-61h0m-64 110h0m-64-28h0m141-54h0m-15-20h0m-118-24h0m-16 36h0m71-19h0m-61-22h0m19 47h0m112 0h0m-11-3h0m-80 65h0m-80-63h0m192-44h0m-160-1h0m140 88h0m-93 7h0m29-5h0m43-13h0m10-23h0m-33-40h0m6 73h0m-48-23h0m93-56h0m-139 8h0m22-15h0m-13 18h0m48 12h0m38-23h0m-117 84h0m8-15h0m99 29h0m-81 27h0m46-121h0m30 18h0m-56 17h0m-31 21h0m65 75h0m80-72h0m-24-48h0m29 56h0m-22-1h0m-129-71h0m98-4h0m-128 156h0m125-108h0m-75-35h0m100 31h0m-65 0h0m91-22h0m-73 38h0m62 67h0m-39-74h0m73-37h0m-49 29h0m3 46h0m7-9h0m-35-42h0m-43 106h0m93-21h0m17 8h0m-143-28h0m105-52h0m-88 41h0m51 20h0m68-67h0m-48 42h0m-75 64h0m-32-69h0m0 25h0m172-31h0m-86-42h0m76 107h0m-155-78h0m52-61h0m62 30h0m-136-7h0m170-27h0m-105 28h0m15-11h0m8-17h0m72 123h0m-84-49h0m108-77h0m-48 127h0m36-55h0m-41 80h0m54-153h0m-113 1h0m70 55h0m-40 40h0m-83-95h0m46 16h0m117 125h0m-192-141h0m123 100h0m27 34h0m-110-5h0m12-8h0m96-50h0m-65-71h0m7 31h0m14-2h0m76-24h0m-126 1h0m47 45h0m-98-42h0m56 136h0m64-113h0m-11 5h0m-94 62h0m174-16h0m-15-69h0m-142 55h0m115 23h0m31-52h0m-30 45h0m-47-79h0m-47 110h0m9-113h0m17 38h0m14 43h0m35 49h0m-28-128h0m-69 16h0m78-18h0m-61 32h0m15 9h0m-45 78h0m109-112h0m-65 40h0m14 5h0m2 22h0m44-78h0m-104 50h0m32-32h0m-11-9h0m44 74h0m-27 26h0m138-90h0m-9 63h0m5-82h0m-160 11h0m-10 51h0m26-30h0m84 27h0m-77-38h0m-45-15h0m34 63h0m100-33h0m52-31h0m-74 131h0m-100-33h0m-3 36h0m176-120h0m-104 78h0m30-22h0m-70-61h0m-60 41h0m145-40h0m-27 136h0m-14-100h0m-99 77h0m64-31h0m-58-77h0m-2 100h0m13-114h0m107 87h0m-86-69h0m-32-18h0m20 108h0m87 33h0m-119-21h0m146-93h0m-2-1h0m-6-11h0m45 65h0m-105 9h0m-42-25h0m-32 42h0m79-106h0m-67 35h0m185 36h0m-86-74h0m-61 11h0m-45 93h0m-3-93h0m94 90h0m60-49h0" stroke="#2594d4" stroke-width="10" stroke-linecap="round" opacity="0.95" fill="none"/>
<rect x="41" y="340.3" width="22.2" height="3.6" fill="#24589a"/>
<path transform="scale(.1)" d="M823 3362h0m28 10h0m-26 7h0m-107 13h0m134-25h0m10 11h0m-60-21h0m60 14h0m-112-39h0m-37 65h0m4-78h0m9 72h0m91-71h0m-139 32h0m55-29h0m28 62h0m72-19h0m14-21h0m-130-34h0m-2 65h0m61-59h0m72 78h0m-161-43h0m69 42h0m85-75h0m-49 36h0m-24 44h0m42-14h0m35-25h0m5 38h0m-161-6h0m-15 9h0m-6-60h0m50 6h0m24 34h0m-9 14h0m52-62h0m26-25h0m-47 92h0m45-43h0m-130 8h0m52-53h0m117 86h0m-35 0h0m-58-20h0m11 12h0m44-75h0m-8 79h0m60-43h0m-161 25h0m62-37h0m-62-31h0m89 34h0m50 60h0m-131-14h0m45-28h0m-4 6h0m69 33h0m-58-51h0m105 40h0m-150-68h0m50 1h0m-87 50h0m17-51h0m90-5h0m15 59h0m-112-46h0m117 0h0m2 43h0m23 3h0m-145-36h0m169 37h0m-121 19h0m-72-73h0m109 81h0m78-44h0m-15 18h0m-76-29h0m0 47h0m-57-34h0m36-24h0m42 44h0m-29-24h0m-95-21h0m140-25h0m-77-3h0m138 14h0m-153 43h0m133-16h0m-54 46h0m-93-59h0m95 67h0m-104-10h0m-10-31h0m148 4h0m-2 31h0m-150-38h0m14 24h0m66-8h0m22 21h0m73-39h0m-160 31h0m17-5h0m-22 18h0m167-85h0m7 44h0m-115-39h0m86 40h0m-116-20h0m42 34h0m81 9h0m-114-26h0m67 0h0m38-8h0m-159 28h0m194 17h0m-179-16h0m166-60h0m-129 37h0m148-1h0m-116-5h0m-51 52h0m-34-88h0m166 8h0m-125 77h0m-1-50h0m-4-38h0m116 81h0m-97-40h0m-11 48h0m151-26h0m-21-12h0m15-45h0m-102 45h0m118-38h0m-140 66h0m77-1h0m-71 13h0m125-80h0m-114 78h0m68-85h0m-36 88h0m-15-12h0m2-7h0m95-45h0m-155 40h0m131 23h0m-75-1h0m-64-38h0m145 27h0m-150-75h0m15 8h0m86 11h0m18 45h0m42-10h0m-188-7h0m123 17h0m12-54h0m-134 71h0m47-61h0m93 33h0m-61-26h0m-64-29h0m57 53h0m-23 37h0m42-6h0m47-4h0m9-86h0m-44 10h0m9 86h0m36-37h0m-128-41h0m28 73h0m79-4h0m53-46h0m-61 46h0m-35-19h0m-70 7h0m132-21h0m-95 33h0m128-47h0m-24 54h0m-75 2h0m-69-85h0m-1 43h0m132-45h0m-95 76h0m88-4h0m-62-63h0m120-6h0m-115 83h0m113-14h0m1-74h0m-62 9h0m-1 3h0m-17 20h0m-18-36h0m-24 83h0m105-32h0m-158-18h0m94 38h0m-21-22h0m-4 5h0m105 38h0m-44 1h0m-129-68h0m41 54h0m73 1h0m-44-12h0m60 19h0m-68-4h0m84-80h0m-143-1h0m-3-3h0m8 50h0m80 38h0m31 0h0m52-67h0m-160 23h0m59-12h0m53-4h0m-74 30h0m52 5h0m82-38h0m-46 38h0m-158-15h0m128 16h0m-67-63h0m35 33h0m104 58h0m-194-83h0m133 82h0m-88-10h0m-26-58h0m95 64h0m78 4h0m-53-84h0m-65 84h0m106 0h0m-155-85h0m69 67h0m-100-62h0m172 34h0m-88-15h0m-40 62h0m130-17h0m-128-44h0m140 54h0m-177-6h0m162-17h0m-81 14h0m-1-54h0m-40 61h0m-38-8h0m173-35h0m4 51h0m-140-41h0m86 40h0m-112-34h0m20-29h0m18-11h0m-6 45h0m109-9h0m-62 38h0m2-14h0m-96-15h0m87-15h0m11-17h0m-9 55h0m-92-13h0m166-52h0m28 70h0m-90-72h0m-77 51h0m38 19h0m80-20h0m-137 20h0m187 4h0m-163-7h0m-15 2h0m98-33h0m-98-37h0m-6 34h0m100 44h0m70-79h0m-187 79h0m168-4h0m-136 2h0m-11-74h0m179 75h0m-123-45h0m103 36h0m-68-4h0m-22-59h0m67 27h0m-136 13h0m38 33h0m-54-10h0m98-18h0m-68-19h0m28 40h0m-45-9h0m113-77h0m-63 27h0m62 61h0m59-5h0m-120 6h0m-40-16h0m148 20h0m-171-85h0m108 41h0m-104-13h0m62-37h0m-47 13h0m-10 67h0m70-4h0m110-9h0m-177 18h0m-5-48h0m78 48h0m78-12h0m27-65h0m-20 65h0m-8-12h0m22-54h0m-42 87h0m-24-28h0m39-7h0m-19-35h0m-144 57h0m30 10h0m15-18h0m28 20h0m131-94h0m-106 19h0m-51 53h0m16-3h0m16-37h0m1 51h0m88 10h0m-42-19h0m12-44h0m-57 56h0m110-6h0m17 15h0m-150-92h0m67 53h0m-99 34h0m113-30h0m-79 22h0m-38-10h0m141-7h0m-123 16h0m150 14h0m-178-47h0m195-25h0m-162-7h0m158 12h0m-177 38h0m36-63h0m119 25h0m-124 66h0m103-9h0m0-21h0m-40 14h0m-120 13h0m105 3h0m-98-4h0m48-36h0m52 15h0m-71-26h0m131-23h0m8 51h0m-153-50h0m38 55h0m74-38h0m-85 56h0m-43-29h0m173 17h0m-89-48h0m82-35h0m-66-5h0m37 5h0m56-23h0m-25 2h0m-22 20h0m50-3h0m-150 4h0m69-27h0m-108 26h0m50 0h0m-60 1h0m151-1h0m2-1h0m-11-13h0m38 15h0m-146-25h0m65 16h0m-56-34h0m-19 42h0m60-1h0m123-37h0m-24 29h0m-168-20h0m-7 19h0m149-5h0m-131 12h0m32-38h0m71 42h0m-75 0h0m-11-39h0m47 27h0m57-33h0m-112 10h0m5 16h0m154 5h0m-72 4h0m-13-18h0m-10 28h0m-92-23h0m194 9h0m-83-27h0m74 32h0m-90 8h0m-42-22h0" stroke="#d42424" stroke-width="10" stroke-linecap="round" opacity="0.95" fill="none"/>
<path transform="scale(.1)" d="M839 3543h0m-78-5h0m-73-84h0m145 8h0m-118 8h0m12 50h0m63-73h0m-14 86h0m58-43h0m-113 56h0m136-6h0m-196 43h0m40-85h0m110-45h0m-90 68h0m83 9h0m-134-88h0m175 93h0m-156-68h0m26 65h0m-28-89h0m162 114h0m9-94h0m-60 101h0m-41-42h0m-9-72h0m48 19h0m46 1h0m-148 31h0m28-57h0m111 6h0m-84 83h0m-13-80h0m-56 9h0m170 82h0m-192-23h0m137-13h0m-116 34h0m141-61h0m-63-34h0m-57 10h0m-24 48h0m-4-31h0m27-20h0m1 21h0m106 17h0m-96 66h0m154 12h0m-76 22h0m41-94h0m-173-33h0m30 21h0m106 6h0m74-33h0m-47-7h0m-31-13h0m0-1h0m48 2h0m-73 152h0m-32-137h0m-40 54h0m74 24h0m5 37h0m12-132h0m-13 34h0m-21 112h0m107-120h0m-101 29h0m-28 89h0m-32-125h0m134 133h0m-6-32h0m-102-10h0m4-108h0m37 18h0m-21 37h0m-2-44h0m-1 9h0m52 44h0m-59-33h0m87-33h0m-157 113h0m188-95h0m-128 32h0m-21 50h0m168 31h0m-2-72h0m-49-57h0m-32 87h0m-57 71h0m52-157h0m54 114h0m-132 27h0m-3-102h0m-7 40h0m-6 37h0m106-19h0m69-20h0m-205 68h0m11-57h0m191 31h0m-57-6h0m61-11h0m-143-75h0m98 115h0m33-120h0m-126 115h0m117-108h0m-89 76h0m-43 34h0m74-77h0m-76-63h0m129 39h0m-109 106h0m-44-147h0m48 14h0m50-14h0m82 10h0m-13-5h0m-176 130h0m-1-70h0m35-44h0m125 4h0m-93 124h0m-40-138h0m88 27h0m-123 72h0m132-75h0m-24 18h0m41 80h0m-122-97h0m55 0h0m60-9h0m-20-11h0m-105 134h0m61-102h0m-13 19h0m-61-26h0m52-36h0m98 82h0m19-39h0m-6 110h0m-13-86h0m-92-49h0m-7-8h0m-50 91h0m175-15h0m-37-4h0m-122-24h0m174 5h0m-20 29h0m-86 9h0m49 43h0m-122-129h0m16-8h0m128 86h0m-16-83h0m-88 43h0m146 41h0m-84-99h0m-109 15h0m102 52h0m-97-6h0m92 25h0m59 12h0m-132 63h0m58-12h0m-36-137h0m131 106h0m-89-40h0m42 29h0m46-46h0m-56 69h0m-22-122h0m59-5h0m-122 93h0m14-79h0m22 46h0m44-30h0m-80-24h0m9 135h0m138-27h0m-92-117h0m59 2h0m-69 12h0m21 65h0m61 2h0m-57-31h0m-115 24h0m146 75h0m-130-145h0m18 33h0m98-29h0m-40 81h0m-79-89h0m175 87h0m3 12h0m-166 16h0m28-70h0m108-41h0m-134 122h0m145-72h0m-81 25h0m-47-42h0m17 13h0m5-29h0m134 121h0m-136-103h0m85 29h0m-69-47h0m-39-16h0m56 116h0m69-43h0m-109 19h0m12-67h0m27-25h0m-31 132h0m-18-110h0m-44 102h0m173-79h0m-146 23h0m152-45h0m-103 1h0m-72 115h0m26-142h0m55 62h0m104-35h0m-39 26h0m-74 16h0m17-47h0m-20-24h0m128 6h0m-64 28h0m-103 8h0m79 27h0m-50-26h0m-13 61h0m109-5h0m-76 54h0m109-130h0m-29 68h0m-38 23h0m-84-71h0m148 81h0m-34-120h0m40 2h0m-91 18h0m-79 104h0m53-83h0m-21 12h0m96-39h0m-112 5h0m90 24h0m23 57h0m33-88h0m-72-14h0m24 126h0m-134-43h0m180-82h0m-57 11h0m-20 146h0m53-25h0m-93-132h0m87 15h0m-146-8h0m106 30h0m-96 113h0m-13 0h0m48-9h0m-61-59h0m56-66h0m88 87h0m-35 32h0m86-122h0m-150 39h0m90 51h0m-27 51h0m61-17h0m-121-71h0m18-20h0m111 101h0m-162-131h0m52 11h0m22 10h0m-30-39h0m107-1h0m-116 9h0m-36 62h0m26-7h0m74-51h0m77-10h0m-59 107h0m-135-85h0m64-9h0m129 87h0m-39-29h0m23-59h0m-171 104h0m120-38h0m24 18h0m-113-78h0m146 103h0m-1-98h0m-87 91h0m52-117h0m-144 72h0m190 33h0m-160-89h0m-30 5h0m80-12h0m-70 98h0m18 26h0m166-42h0m-55-88h0m-33 15h0m-11-4h0m-52 38h0m48-42h0m113 55h0m-185-34h0m49 22h0m129 24h0m-128 34h0m48-101h0m41 1h0m-146 37h0m122 11h0m41-27h0m-172-25h0m135 18h0m2 118h0m42-121h0m-115-2h0m109 51h0m-77 1h0m-48 6h0m97-54h0m-64-21h0m36 119h0m19-118h0m41 7h0m-45-8h0m-80 92h0m111-68h0m-134-4h0m74 50h0m27 81h0m-2-146h0m-107 120h0m-18-126h0m53 7h0m-31-2h0m23 4h0m94 71h0m52-20h0m-177 55h0m186-44h0m-111 6h0m-82-30h0m-4-47h0m139 131h0m-29-75h0m18 73h0m22-110h0m-99 11h0m127 73h0m-112-73h0m-7 125h0m57-132h0m-49-18h0m-25 6h0m-10 78h0m8-63h0m31 21h0m39 75h0m1-59h0m-29-63h0m10 54h0m56-52h0m18 57h0m-47-57h0m-11 99h0m-111-60h0m133 61h0m-51-22h0m-64 47h0m94-2h0m12-41h0m-2-80h0m-108 80h0m45 61h0m31-88h0m72-56h0m-12 73h0m-21-3h0m-132-15h0m78-42h0m10 83h0m75-61h0m-121-37h0m-48 23h0m70 3h0m138-4h0m-2 124h0m-201-55h0m36 36h0m57 8h0m-68-134h0m13 17h0m75-5h0m-73 88h0m86-82h0m21-19h0m-65 147h0m-47-73h0m-9-56h0m7 69h0m51 12h0m68 36h0m-24-93h0m14 7h0m-137-47h0m92 49h0m34 60h0m14-83h0m-121-22h0m111 4h0m-108 49h0m66-13h0m-99 16h0m10 36h0m144 45h0m52-144h0m-128 107h0m-5-69h0m-69 85h0m198-121h0m-35 154h0m-100-114h0m27 22h0m93 0h0m-151 3h0m110-49h0m-4 6h0m52 66h0m-15-78h0m-143 18h0m43 87h0m27-70h0m61-36h0m-2 121h0m-119-53h0m36-46h0m33 77h0m52-87h0m-24 47h0m-115-67h0m-10 149h0m77-100h0m71 85h0" stroke="#2594d4" stroke-width="10" stroke-linecap="round" opacity="0.95" fill="none"/>
<rect x="65" y="340.3" width="22.2" height="3.6" fill="#3aa84a"/>
<path transform="scale(.1)" d="M945 3390h0m143-47h0m-111 27h0m-6 32h0m51-1h0m62-59h0m-94 58h0m-4-65h0m-60 18h0m94 40h0m-69 7h0m56-6h0m25 8h0m38-10h0m-46 10h0m48-42h0m-102 41h0m-74-7h0m208 3h0m-164-10h0m19-32h0m54-13h0m61 57h0m-46-72h0m57 40h0m-15-8h0m-27 25h0m-148 2h0m166 15h0m-46-40h0m14-8h0m-131-8h0m74 43h0m61 8h0m-106-59h0m-30-8h0m34 59h0m139-68h0m-141 58h0m90 20h0m-4-52h0m36 28h0m-11-34h0m67 9h0m-77 20h0m-61-45h0m-42-3h0m20 45h0m-31-6h0m73-33h0m-7 6h0m43 64h0m-99-9h0m19-40h0m103 15h0m-107 3h0m35 24h0m17-6h0m110-48h0m-50 49h0m-108 0h0m-43-47h0m141 3h0m-16 17h0m40-20h0m-169 30h0m95 6h0m84 24h0m-155-23h0m0 11h0m67-18h0m77-7h0m-121-10h0m142 28h0m-122-17h0m93 39h0m11-28h0m-48 16h0m-3-46h0m-28 7h0m79-6h0m-148 39h0m94-31h0m-14-5h0m50 10h0m-41 10h0m82 17h0m-70-18h0m50 22h0m25-41h0m-28 36h0m-149 14h0m-4-7h0m-21-54h0m77 53h0m-55-25h0m98-22h0m-57 26h0m-50-42h0m193 10h0m-157 8h0m139-11h0m-137 51h0m79 16h0m-106-41h0m10-27h0m21 54h0m127 16h0m-96-77h0m118 8h0m-54 63h0m51-2h0m-105 3h0m71-23h0m-46-47h0m39 54h0m-123 16h0m132 3h0m-26-5h0m-117-25h0m137 27h0m-78 0h0m-14-43h0m-20 39h0m98-25h0m33-35h0m-58 29h0m-83 7h0m97 4h0m59-53h0m-118 42h0m109 37h0m-11-18h0m-167-6h0m67 27h0m-73-38h0m76-19h0m34 52h0m93-40h0m-110-25h0m-66 29h0m62-18h0m-37-9h0m128 63h0m-101 5h0m-83-29h0m31 26h0m136-21h0m-72-9h0m57-1h0m-138 32h0m121-68h0m-5 18h0m4 50h0m72-11h0m-23-18h0m-82-4h0m66 34h0m-137-19h0m155 18h0m9-53h0m-34 8h0m-72 43h0m109-75h0m-12 57h0m-18 17h0m-130-42h0m16 21h0m93 23h0m-16-9h0m-48-12h0m-35-19h0m122 7h0m-164-44h0m93 50h0m-16-19h0m-52 30h0m-26 8h0m73 1h0m-11-16h0m-60 25h0m45-72h0m18 55h0m-18-25h0m153-2h0m-39-5h0m-31-28h0m-28 39h0m94 37h0m-124 1h0m41-64h0m-110 52h0m-5-42h0m185 35h0m-114-56h0m-53 75h0m-7-69h0m183 1h0m-30 62h0m-29-15h0m30 16h0m-21-10h0m-87-62h0m-41 53h0m160-20h0m-38 30h0m-115 5h0m44 3h0m18-46h0m105 34h0m-29 18h0m2 1h0m-156-55h0m16 33h0m74-14h0m88 31h0m-133-9h0m158-57h0m-165 59h0m12 5h0m59-57h0m11 54h0m-112 5h0m23-17h0m-3-31h0m129 25h0m-40 22h0m-4-8h0m10 9h0m-37-4h0m41 4h0m-104-27h0m162 32h0m-145-17h0m37-32h0m75 36h0m-46 3h0m-73-53h0m62 55h0m-86-63h0m176 69h0m-176-30h0m136-36h0m-149 12h0m27 1h0m20 35h0m-22-59h0m148 2h0m-137 75h0m90-20h0m36-50h0m32 63h0m-3-10h0m2 12h0m-165-65h0m-12 15h0m85 54h0m-84-37h0m83 34h0m85 3h0m-77-10h0m-14-25h0m6 36h0m-48-9h0m72 5h0m72-11h0m-122-6h0m100 23h0m-101 0h0m-70-35h0m157 23h0m-110-53h0m-19 62h0m35-65h0m136 39h0m-83 13h0m-45 1h0m19-55h0m21 56h0m-24-43h0m97 37h0m-176-44h0m5 60h0m169-14h0m-127 8h0m-46 4h0m92 6h0m-73-22h0m97-27h0m-90 49h0m85-31h0m64 16h0m-131-30h0m0-26h0m133 24h0m-119 11h0m31 1h0m48 33h0m-4-77h0m-65 40h0m114 38h0m-163-58h0m110 45h0m49-12h0m-75-49h0m76 55h0m-138 13h0m21-1h0m-62 8h0m139-36h0m-62 32h0m-11-44h0m79 16h0m-85 3h0m-6 20h0m-4-46h0m132 55h0m-15-45h0m-64 38h0m47-29h0m-54-12h0m64-11h0m-157 59h0m19-41h0m35-30h0m-31 36h0m2 29h0m38-9h0m61 2h0m-82-30h0m-13 43h0m3-79h0m106 1h0m-139 78h0m29-42h0m-44 19h0m131 20h0m-103-28h0m94-15h0m-50-35h0m-65 0h0m-2 15h0m184 0h0m-115 59h0m-33-21h0m-3-42h0m33-5h0m113 50h0m-90 5h0m-49-20h0m-40-38h0m9 41h0m28 25h0m57-33h0m4-30h0m68 70h0m-133 4h0m108-31h0m37 30h0m-112-8h0m38-8h0m-90-45h0m179-10h0m-16-7h0m-20 15h0m-163 35h0m80 29h0m102-1h0m-114-46h0m100 39h0m-118-63h0m5 66h0m-55 3h0m53-23h0m31 26h0m20-2h0m-64-10h0m134-65h0m-171 27h0m19 35h0m178-131h0m-139 5h0m107 54h0m-146-126h0m169 2h0m-164 41h0m59-10h0m-49-17h0m62 51h0m-81 29h0m168-77h0m-135 58h0m128 11h0m-1 36h0m-111-96h0m96 33h0m-79-47h0m107 114h0m-129-93h0m52 0h0m78 36h0m-126-13h0m77 37h0m40 1h0m-152 10h0m149-36h0m-27-38h0m-149 88h0m110-8h0m-64-86h0m116 70h0m-148-89h0m154 38h0m-115-25h0m104 58h0m-18-52h0m-137 60h0m62 44h0m78-116h0m-109-16h0m-2 108h0m143 10h0m13-116h0m0 92h0m-53-45h0" stroke="#d42424" stroke-width="10" stroke-linecap="round" opacity="0.95" fill="none"/>
<path transform="scale(.1)" d="M998 3451h0m40 11h0m-115 29h0m174-25h0m-198-12h0m98 36h0m35-37h0m-113 97h0m171-101h0m-166 41h0m182 63h0m-175-57h0m63-57h0m-76 48h0m146-48h0m-99 8h0m-44 79h0m119-55h0m-58-30h0m60-1h0m46 5h0m15-6h0m-115 31h0m-31 47h0m28 21h0m104-84h0m-20 2h0m-33-12h0m-141 9h0m143 97h0m-57-110h0m46 25h0m-81 75h0m137-43h0m-152-45h0m84 19h0m-118 70h0m70-8h0m58 20h0m-86-52h0m55-5h0m-21 6h0m29-42h0m-21 14h0m62-17h0m63 38h0m-131-41h0m-42-16h0m151 91h0m-183-24h0m61-59h0m-37 36h0m98 43h0m64-59h0m-50 31h0m-10-11h0m-16-2h0m34 5h0m-83-28h0m110 59h0m-160 28h0m142-79h0m-23-19h0m-47 30h0m-30 20h0m105 0h0m-6-46h0m15 81h0m-146-9h0m45-81h0m124 3h0m-103 76h0m110-72h0m-80 23h0m-67-14h0m59 41h0m-41-64h0m91 42h0m-107-3h0m134-7h0m-116 55h0m9-86h0m-65 7h0m113-3h0m-36 80h0m-30-13h0m-33 0h0m168 15h0m-61 11h0m-131-97h0m58 104h0m7-41h0m-1-63h0m50 71h0m-47-65h0m22 81h0m-6-63h0m-82 22h0m97-47h0m79 71h0m-153 39h0m41-107h0m-64 2h0m62 72h0m-55-20h0m147 8h0m-164 44h0m190-78h0m-10 46h0m-124-65h0m145 99h0m-26-107h0m-153 49h0m-11-34h0m52 0h0m26-4h0m-75 68h0m111-74h0m-102 2h0m49 57h0m114-67h0m-152 50h0m98-5h0m-50-20h0m-81-19h0m65-5h0m-38 19h0m130 14h0m-102 29h0m-46-32h0m135 21h0m64-42h0m-197 30h0m179 53h0m-165-52h0m3-31h0m77 75h0m104-61h0m-62-15h0m-84 40h0m71-43h0m21 3h0m-104 95h0m124-103h0m-46-1h0m73 0h0m-129 44h0m-36-10h0m30-9h0m111-23h0m-75 41h0m-80 36h0m-17-55h0m75-22h0m120 35h0m-192 25h0m159-36h0m-110 17h0m131-28h0m-150 88h0m145-63h0m-27 31h0m20-70h0m-118 35h0m7-5h0m-43-31h0m134 10h0m-117 100h0m24-8h0m47-1h0m-10-101h0m-10 8h0m76 71h0m-58-33h0m-81-47h0m80 55h0m40 40h0m30-75h0m-162 40h0m-7-32h0m4-28h0m141 96h0m19-68h0m-158 25h0m41 34h0m-34-74h0m41 23h0m20 73h0m97-101h0m-73 105h0m40-52h0m38-55h0m-23 78h0m-84-52h0m73 30h0m44 28h0m9-5h0m-144-13h0m9-47h0m56 67h0m67-36h0m-97-56h0m-30 6h0m3 35h0m105-38h0m-144 57h0m89-59h0m-2 30h0m49-10h0m-159 32h0m154 10h0m-31-15h0m-58 39h0m46 18h0m8-41h0m65-54h0m-6 23h0m-35 80h0m-48-108h0m57 2h0m-82 31h0m-6-24h0m8 26h0m88-26h0m-21 17h0m-72 27h0m14 18h0m118-24h0m-4 13h0m-60-40h0m-136 38h0m72 6h0m88-62h0m-152 9h0m63 9h0m6-14h0m-57 51h0m151-4h0m-41-49h0m58 51h0m-182-28h0m18-32h0m123 88h0m-109-84h0m102 59h0m-81-57h0m63 50h0m30-18h0m53 0h0m-16 6h0m-3-28h0m10 99h0m-155-17h0m37-88h0m-75 12h0m48 39h0m-22 8h0m125 30h0m-137-49h0m74 9h0m-81 9h0m40-9h0m-1 41h0m-13-3h0m88-88h0m-84 19h0m19-2h0m125 74h0m16-11h0m-98-68h0m-95 40h0m12-37h0m38-24h0m-14 104h0m26-103h0m10 92h0m51-44h0m58-29h0m-25 68h0m-90-49h0m100 24h0m8-4h0m-130-6h0m79 19h0m1-53h0m52 64h0m-71 21h0m-8-46h0m-99-56h0m13 95h0m131-71h0m-145 75h0m131 0h0m1-89h0m-66 52h0m34-26h0m-16 15h0m3-9h0m-35-38h0m-8 47h0m-3 28h0m-18 22h0m63-91h0m54 33h0m-66-3h0m-41 32h0m-11 12h0m37-79h0m36 18h0m70 7h0m-17-8h0m-93 33h0m122-39h0m-112 44h0m-16-6h0m74 11h0m-103-62h0m146-2h0m7 92h0m-45-90h0m46 94h0m-105-44h0m127 35h0m-123-90h0m-68 42h0m47 29h0m64-50h0m-30 94h0m29-5h0m24-107h0m-28-2h0m43 68h0m-124-32h0m37 62h0m11-98h0m35 84h0m-53 13h0m21-87h0m-45 68h0m96-70h0m-140-9h0m186 14h0m-92 56h0m-65 1h0m-12 18h0m104-42h0m57-26h0m-131 1h0m41 62h0m18-48h0m-47-13h0m16-22h0m-21 69h0m108-3h0m42-8h0m-163-32h0m129-7h0m-45 82h0m18-92h0m63-9h0m-66 100h0m20-95h0m-122 3h0m47 57h0m-60 43h0m7-8h0m120-85h0m-14-6h0m-114 13h0m103 71h0m-49-85h0m-16 25h0m18 0h0m-67-20h0m168-5h0m23-3h0m-143 74h0m71-56h0m40 2h0m14-24h0m-175 34h0m157 22h0m-105-34h0m-56 33h0m80 12h0m110-68h0m-15 50h0m-152-49h0m-31 27h0m86-21h0m84 87h0m-63-37h0m96-51h0m-23 109h0m-18-90h0m-6-14h0m-104 56h0m119-34h0m-36 26h0m37 7h0m-137-66h0m75 40h0m65 27h0m-158 6h0m192-37h0m-103 46h0m-15-81h0m17 25h0m35-10h0m-51 51h0m-33-61h0m91-3h0m-152 19h0m65 27h0m-4 39h0m130-10h0m-129-70h0m78 17h0m-53 56h0m-11 0h0m120-74h0m-173 33h0m171-40h0m-5 26h0m-25-11h0m-5 98h0m-108 1h0m12-105h0m-28-8h0m80 2h0m-62 19h0m21 27h0m119-39h0m-152 75h0m156-5h0m-92-15h0m83-13h0m-183-46h0m185-3h0m8 2h0m-116 83h0m-43-55h0m88 60h0m11-53h0m-53 2h0m15-42h0m98 18h0m-181-19h0m130 8h0m61 1h0m-101 56h0m14-46h0m79 5h0m-105 76h0m19-26h0m-25-73h0m79 97h0m-126-82h0m22 41h0m26-20h0" stroke="#2594d4" stroke-width="10" stroke-linecap="round" opacity="0.95" fill="none"/>
<rect x="89" y="340.3" width="22.2" height="3.6" fill="#3a9a48"/>
<path transform="scale(.1)" d="M1221 3375h0m1 25h0m69-44h0m-64 13h0m-25 20h0m-67-2h0m61-33h0m-28-9h0m62 57h0m-31-2h0m-29-28h0m142-25h0m-59 29h0m-91 13h0m181-7h0m-64 17h0m-67-31h0m-34-6h0m103-1h0m-98 33h0m123-25h0m-84 8h0m101-7h0m-88 14h0m77 0h0m-47-9h0m-11 24h0m-15-59h0m31 52h0m29-3h0m-84-41h0m99 29h0m-35 11h0m-33-11h0m-38 14h0m-23-51h0m84 1h0m40 1h0m-158 25h0m188 25h0m-91-16h0m-38 16h0m-41-25h0m-5 11h0m-20-2h0m27 25h0m124-20h0m-96 16h0m3-8h0m28-42h0m17 20h0m-45 32h0m137 1h0m-158-17h0m66-39h0m93 16h0m-76 23h0m72 13h0m-83 5h0m-41 1h0m51-3h0m-105-56h0m78 57h0m-23 0h0m28-23h0m-6 18h0m84-36h0m-123-15h0m55 56h0m-55-54h0m31 11h0m32-16h0m77 29h0m-10 5h0m-141 15h0m-29-24h0m145 30h0m-43-40h0m73 36h0m-58-43h0m-6 14h0m-47 28h0m91-28h0m-1 38h0m4-6h0m-155 2h0m-25-26h0m8 28h0m136-47h0m-127 50h0m171-5h0m-180-33h0m1-14h0m178 30h0m-178 10h0m124-43h0m-89 26h0m39-29h0m-12 30h0m133-5h0m-172 29h0m127-27h0m-3 20h0m-130 8h0m9-12h0m126-3h0m-102 18h0m118-42h0m-89 10h0m116 25h0m-39 6h0m-163-14h0m170-17h0m-80-22h0m87 20h0m-78 2h0m6 9h0m28 10h0m-24 12h0m17-22h0m47 15h0m-88-38h0m63 1h0m-133 19h0m109 16h0m74 8h0m-112 1h0m-40-51h0m144 34h0m1-40h0m-5 58h0m-148-25h0m-4 25h0m103-59h0m-59 52h0m-43-14h0m97-12h0m46 14h0m-83-1h0m-61 19h0m140-38h0m-72 33h0m-104 5h0m100-16h0m89-27h0m-58 42h0m0-18h0m-38-11h0m111 22h0m-165-49h0m77 52h0m61-2h0m14-45h0m-27 28h0m-107 19h0m89-16h0m49-21h0m-1 43h0m-176-25h0m110 24h0m-64-16h0m-10-25h0m155 28h0m-176-10h0m109 11h0m68-22h0m-129 33h0m101-5h0m6-21h0m20-6h0m-128 15h0m109-19h0m-164 31h0m92-31h0m86 9h0m-153-17h0m63 31h0m34-20h0m54 35h0m-104-35h0m59 34h0m-35 0h0m-44-32h0m-77 10h0m0-14h0m0-14h0m175 4h0m13 35h0m-89 11h0m106-18h0m-82-17h0m-86 36h0m79-11h0m-12 7h0m-48-32h0m68 17h0m-98 7h0m175 5h0m-125-39h0m11 46h0m40 0h0m9-48h0m43 13h0m-173-17h0m182 39h0m-148-49h0m165 30h0m-182-20h0m2 48h0m13-1h0m137 5h0m-20-23h0m15-10h0m-74 33h0m103-8h0m-40-19h0m-99 25h0m16 2h0m5-11h0m66-3h0m-31 11h0m55 3h0m-45-29h0m49 29h0m-152-53h0m121 33h0m-12-28h0m55-12h0m20 27h0m-173 23h0m156 10h0m-121-49h0m-51 47h0m155-40h0m-156 42h0m115-3h0m-44-38h0m49 40h0m53-16h0m-3 5h0m-9-16h0m-52 7h0m34-31h0m-126-2h0m2 17h0m-31 26h0m189 2h0m-106 8h0m45-48h0m-131 26h0m80-2h0m79-37h0m-146 58h0m4-52h0m22 55h0m158-57h0m4 37h0m-72-5h0m19-8h0m-131 28h0m185-7h0m-51-14h0m-53-14h0m-83 13h0m157-22h0m-45 24h0m27-25h0m-37 8h0m-41-8h0m61 29h0m-115 21h0m63-44h0m-3 27h0m3 0h0m114 15h0m-19 2h0m-18-6h0m7-12h0m-76-34h0m-80 28h0m141-13h0m-144 9h0m104-8h0m-87-12h0m51 20h0m7-18h0m-64 30h0m-7-35h0m-3 43h0m181-13h0m-134 17h0m107-45h0m22 41h0m5 3h0m-145 5h0m126-42h0m32 4h0m-142 10h0m-57 13h0m176 15h0m-173-10h0m11-41h0m67 24h0m-57 21h0m80-19h0m94 9h0m-68-39h0m-128 52h0m42-1h0m131-30h0m-107-25h0m16 59h0m43-52h0m-11 5h0m33 42h0m5-45h0m-163 46h0m48 1h0m81 3h0m-107-6h0m85-5h0m87-14h0m-76 13h0m-79 10h0m72-4h0m-59-41h0m22 8h0m-72 27h0m71-21h0m71-14h0m48 17h0m-49 26h0m-88-29h0m-51 9h0m0 2h0m27 13h0m37-16h0m-63 23h0m140-54h0m-39 47h0m61-22h0m-130-27h0m68 49h0m-5-3h0m18-1h0m3-6h0m-49-13h0m-14 17h0m107 12h0m-23-45h0m-6 38h0m-73-3h0m-51-23h0m39 25h0m58-3h0m-3-1h0m75-45h0m-134 54h0m-40-39h0m77 39h0m15 5h0m-36-2h0m89 1h0m-94 1h0m-8-13h0m147-3h0m-20-13h0m-17-21h0m-150 30h0m148 0h0m4 19h0m26-36h0m-172 37h0m62-52h0m129 47h0m-197-21h0m170 23h0m1 5h0m-70-15h0m-72 9h0m89-62h0m75-85h0m-37 53h0m-115-27h0m107-7h0m51-7h0m-184 72h0m-1-58h0m81 29h0m-96-46h0m114 44h0m-23 28h0m78-81h0m-159 89h0m8 1h0m37-16h0m-6-16h0m-16-28h0m9 58h0m53-46h0m-48 43h0m11-3h0m-55-4h0m40-25h0m149 37h0m-125-19h0m45-56h0m45 2h0m-33 27h0m-68 41h0m124-28h0m-178-29h0m53 34h0m41-3h0m-22-67h0m42 13h0m-121 78h0m120 7h0m-16-88h0m51 80h0m-35-46h0m-55 53h0m94 1h0m-149-26h0m20-10h0" stroke="#d42424" stroke-width="10" stroke-linecap="round" opacity="0.95" fill="none"/>
<path transform="scale(.1)" d="M1241 3439h0m-88 2h0m-18 66h0m2-7h0m1-20h0m46 6h0m149-26h0m-161 42h0m129-15h0m-57-43h0m38 1h0m-91 60h0m70-3h0m-55-61h0m-49 14h0m81 35h0m57 8h0m-39-16h0m-66-42h0m-46 10h0m137-8h0m-63-3h0m-80 0h0m76 10h0m114 39h0m16-37h0m-41 18h0m-130 8h0m11 5h0m144-1h0m-10-8h0m-3-5h0m-25-28h0m-101 36h0m-28 33h0m14-69h0m97 24h0m3-21h0m-43 15h0m-55 16h0m59-25h0m-34-8h0m50 50h0m-43 16h0m7-67h0m-73 13h0m162-1h0m-69 6h0m20 1h0m27-18h0m-147 56h0m71-31h0m53 0h0m25-22h0m13 5h0m-76 36h0m95-13h0m-140 26h0m12-54h0m62 51h0m-18-40h0m102 19h0m-9-35h0m-114 17h0m111-2h0m-168 3h0m124 53h0m46-71h0m-22 13h0m-10 5h0m-25-18h0m-7 18h0m-66 34h0m-2 11h0m84-62h0m22 5h0m-77 50h0m-50-56h0m161 45h0m-113-24h0m-10 19h0m-52-35h0m139 24h0m-68-24h0m27 31h0m-120-18h0m42 1h0m113 40h0m-26-27h0m-9-22h0m52 7h0m0 35h0m-90-1h0m-22-39h0m-35 7h0m29 42h0m-8-41h0m-14-20h0m101 18h0m-81 19h0m84-37h0m-5 57h0m22-33h0m-123 25h0m179-48h0m-190 16h0m73 3h0m-2-9h0m-28 6h0m140 50h0m-113-68h0m-90 10h0m74 13h0m115-20h0m-118 19h0m29-15h0m-19 55h0m-51-47h0m-1 32h0m69-31h0m-1-4h0m66 29h0m-151-33h0m28 7h0m29-2h0m89-11h0m-150 8h0m183-3h0m-85 42h0m103 0h0m-196-25h0m173-23h0m-16 42h0m-168 22h0m189-18h0m-156-25h0m59 1h0m83-6h0m19-8h0m-84-1h0m-77 42h0m66-26h0m-80-5h0m52-3h0m107 9h0m-49-11h0m-94 8h0m24 9h0m19-30h0m75 0h0m-154 10h0m135 42h0m-108-53h0m127 12h0m8 25h0m-113-13h0m0-1h0m13-20h0m-34 68h0m149-68h0m32 57h0m-154-60h0m28 29h0m55-22h0m-126 23h0m62 38h0m111-2h0m-105-63h0m102 17h0m-122 29h0m108-3h0m-86-38h0m39 59h0m-68-8h0m-24-51h0m180 21h0m-128 24h0m30-23h0m2-17h0m-47 59h0m-23-71h0m16 5h0m60 3h0m12 56h0m-96-29h0m70 5h0m-13 12h0m45-18h0m-100-27h0m-33 5h0m103-3h0m76 5h0m-168-7h0m63 1h0m81 0h0m20 6h0m4-14h0m-45 50h0m-1-39h0m-43-12h0m78 67h0m-120-27h0m114-20h0m8 1h0m-14 19h0m42 5h0m-47-23h0m-112-21h0m-4 67h0m114-38h0m-131-24h0m29-5h0m142 40h0m-65 15h0m-59-33h0m48 7h0m-35-30h0m-4 12h0m0 45h0m11-28h0m23 27h0m72-55h0m22 45h0m-114-5h0m27 4h0m35-35h0m-3 50h0m-34-59h0m-54 53h0m133-23h0m-139 39h0m-40-62h0m177-5h0m-67 4h0m48 39h0m3 9h0m-156-54h0m-3 15h0m183 2h0m-79 21h0m-27-25h0m-76 26h0m138-33h0m-16 15h0m16 43h0m-138 5h0m150-65h0m-7 21h0m-53-23h0m-56 5h0m131 58h0m-17 6h0m-78-71h0m-22 43h0m14-34h0m103 19h0m-5 43h0m-148-19h0m66-47h0m-52 4h0m7 19h0m142 17h0m-45-1h0m-99 7h0m-36-19h0m148-16h0m-43 4h0m-71 20h0m82-24h0m-60 34h0m50-9h0m63-31h0m-111 51h0m123 10h0m-76-64h0m-59 24h0m105 26h0m-102-46h0m58 7h0m-91-17h0m38 34h0m-66-32h0m165 2h0m-6 20h0m-109 13h0m-24-27h0m167 5h0m-180 26h0m98 6h0m35-39h0m-72 34h0m49-33h0m-15 18h0m53-6h0m-48-4h0m54 31h0m-71-48h0m-27 28h0m-38-25h0m-14-1h0m116 13h0m-71 0h0m33-11h0m-94 0h0m109 39h0m-16-27h0m-17 3h0m-4 10h0m-68 21h0m97 10h0m-24-56h0m88 65h0m-97-62h0m81 6h0m-47 17h0m15-26h0m71 25h0m17-26h0m-131-4h0m-68-1h0m84 31h0m40-21h0m51-8h0m16 8h0m1 2h0m-73-4h0m-55-4h0m5-4h0m-44 21h0m7-18h0m81 25h0m50 0h0m-78-12h0m-89-2h0m141 22h0m-139 28h0m54-8h0m90 16h0m-26-20h0m75 10h0m-176-45h0m35 42h0m-46-3h0m174-38h0m-35 50h0m50-4h0m-118 6h0m49-39h0m-40-24h0m-19-4h0m91 62h0m-62 3h0m17-36h0m-73 38h0m36 1h0m79-24h0m-60 19h0m93-8h0m-99-44h0m53-11h0m-129 12h0m103-7h0m61 55h0m-45-24h0m-25-37h0m-110 29h0m106-30h0m91 31h0m5-24h0m-125 50h0m125-43h0m-31 2h0m-91 32h0m101 0h0m-2-24h0m-102-20h0m56-4h0m-117 50h0m17-43h0m65 10h0m10-6h0m-76-12h0m164 23h0m-41 20h0m-26-43h0m-68 21h0m-21 27h0m41-45h0m75 9h0m-57-4h0m10 36h0m-44-42h0m78 39h0m49 9h0m-14-45h0m-35-4h0m38 33h0m-43-1h0m-93-30h0m71-2h0m-53 28h0m-44 19h0m17-3h0m-14-7h0m138 22h0m-146-34h0m154-1h0m-124 33h0m-26-46h0m62 16h0m-80-22h0m197 45h0m-133-49h0m17 3h0m-88 23h0m162 11h0m-139 20h0m130-30h0m-99 37h0m82-61h0m71 28h0m-46-11h0m-89 11h0m82 26h0m39-41h0m-29 18h0m40 1h0m-110-16h0m-55 19h0m44-37h0m119 25h0m-151-20h0m59-8h0m-49 32h0m-26 29h0m131 6h0m-83-1h0m31-16h0m-99-10h0m36-4h0m91-19h0m-123-3h0m69-13h0m39 40h0m-48-39h0m-58 5h0m168-5h0m-1 1h0m-46 4h0m62 50h0m-203-54h0m70-3h0m55 43h0m58-33h0m-22 8h0m-72 23h0m76-28h0m24 25h0m-57-31h0m-78 0h0" stroke="#2594d4" stroke-width="10" stroke-linecap="round" opacity="0.95" fill="none"/>
<rect x="112.8" y="340.3" width="22.2" height="3.6" fill="#f4a0a8"/>
<path transform="scale(.1)" d="M1484 3380h0m-42-26h0m108 10h0m-77-29h0m90 66h0m-14-3h0m-173-11h0m-25-34h0m173 42h0m1-69h0m-141 12h0m122 59h0m31-63h0m-52 4h0m-38 28h0m27 32h0m87-22h0m-83-49h0m72 6h0m-94 22h0m45 38h0m-81 8h0m-2-17h0m130-47h0m-74 38h0m-36 18h0m110-1h0m-40-26h0m-137-9h0m49 45h0m37-2h0m31-58h0m30 10h0m-106 14h0m6 1h0m-4-31h0m132 28h0m-158 6h0m120-19h0m-29-14h0m-74 21h0m-22 32h0m167 9h0m-100-44h0m-92 47h0m85-24h0m19-44h0m-24 12h0m39 54h0m-63-16h0m-8 16h0m105-37h0m-128 29h0m65-14h0m11 1h0m35-12h0m53 22h0m12-20h0m-72 29h0m-10 1h0m-22-32h0m4 33h0m81-30h0m-100 3h0m54-8h0m-56 7h0m-11-42h0m16 57h0m47 11h0m-21 4h0m-43-39h0m53 37h0m47-8h0m-56-14h0m-109 5h0m200-23h0m-204 28h0m188-7h0m-169-16h0m149 25h0m-132-21h0m147 14h0m-12 13h0m-54-30h0m-76 30h0m-28-18h0m110-5h0m-62 21h0m142-12h0m-189-36h0m43-1h0m83 13h0m-71 42h0m-16-10h0m70 11h0m22-52h0m-69-6h0m-6 41h0m100-3h0m-126-3h0m98 11h0m-94 13h0m134-70h0m-181 63h0m109-6h0m73 11h0m-134-49h0m65 40h0m-37 8h0m-22-9h0m75-24h0m-56 2h0m-49 0h0m37 34h0m2-31h0m-3 14h0m-27-4h0m61-54h0m-36 54h0m45-20h0m-53 38h0m2 0h0m47-16h0m-36 0h0m-20-48h0m6-9h0m77 17h0m-96 15h0m96-16h0m52 31h0m-149-6h0m31 31h0m-23-1h0m65-21h0m51-13h0m-153 31h0m117 6h0m-12-53h0m53 55h0m-114-60h0m3 40h0m145-21h0m8-5h0m-62-25h0m48 54h0m-182 12h0m81 1h0m88-60h0m-124 54h0m33-37h0m-47 42h0m11-60h0m26 60h0m18-66h0m75 66h0m-124-9h0m100 14h0m-5-30h0m60 21h0m-63-8h0m-35-45h0m-18 60h0m20-9h0m39 5h0m-86 0h0m34-62h0m-3 8h0m76 15h0m-29 29h0m-131-2h0m180-9h0m-42-10h0m-67-25h0m72-3h0m-42 18h0m-97 5h0m113 20h0m-29 18h0m66-22h0m-71 24h0m-30-7h0m137-25h0m-124 17h0m7-3h0m19-46h0m83 66h0m-105-17h0m41-22h0m-44-18h0m-58-7h0m67 56h0m-67-3h0m118 1h0m-112 0h0m166-7h0m-180-26h0m18 25h0m6 17h0m92-42h0m-95 35h0m-10-49h0m52 53h0m113-51h0m-45 26h0m14 24h0m-78-66h0m-21 71h0m-44-18h0m105-44h0m42 22h0m22 38h0m-89-14h0m33 12h0m56-12h0m-55-18h0m37 18h0m3-38h0m-121 7h0m26 21h0m43 12h0m33-22h0m-52-20h0m54 52h0m-25-19h0m-47-31h0m-72 24h0m-2 29h0m201-22h0m-175-46h0m13 48h0m126 13h0m-15-17h0m-12 25h0m17-36h0m-125-11h0m97-3h0m-48 30h0m107 6h0m-77 10h0m58-14h0m22 1h0m-49-24h0m-91-5h0m125 12h0m-41 33h0m17-57h0m-130-18h0m163 61h0m24-4h0m-116-25h0m61 39h0m-115-49h0m87-8h0m-8 5h0m-12-3h0m-85 56h0m175-41h0m-45 31h0m30-62h0m-108 41h0m39 34h0m-30 1h0m55-33h0m-18-14h0m83 24h0m-142 12h0m-36-20h0m56 23h0m42-11h0m-30-5h0m-89 12h0m196-19h0m-190-43h0m140 73h0m-118-48h0m51 1h0m39 24h0m-17 16h0m-36-3h0m-14-53h0m33 38h0m12 25h0m-7-11h0m104 10h0m-115-38h0m-60 11h0m106-34h0m-100 49h0m136-61h0m6 65h0m-147 10h0m15-32h0m-13 18h0m14-47h0m50 54h0m27-30h0m-68 11h0m40-44h0m-82 5h0m3 24h0m203-8h0m-171-4h0m17-22h0m102 72h0m42-67h0m-94 36h0m-22 29h0m-75 4h0m40-31h0m52 13h0m-66-12h0m21-1h0m15-31h0m76 58h0m-71-35h0m-8 35h0m55-54h0m-34 44h0m49-7h0m-30-26h0m66 13h0m-17-29h0m-92 41h0m8 13h0m41-40h0m62 34h0m-65-36h0m32 16h0m33 25h0m-50 10h0m3-10h0m-114-2h0m116 1h0m37-36h0m-105 38h0m57-46h0m-95 46h0m127-12h0m-119-33h0m-24-11h0m108 54h0m-13 2h0m-41-30h0m132-9h0m-111 43h0m-15 3h0m-56-30h0m10-34h0m130 27h0m-55-36h0m94 5h0m-67 67h0m17-28h0m-33-1h0m61 28h0m-95-25h0m-58 10h0m97-36h0m-98 8h0m186 42h0m-55-2h0m37 4h0m9-48h0m-153 44h0m18-60h0m-55-8h0m85 15h0m-67-10h0m177 63h0m-1 7h0m-158-16h0m105-30h0m50 46h0m-25-66h0m-105 36h0m95-38h0m-105 63h0m74-47h0m0 37h0m73-4h0m-63-183h0m-86-16h0m-23 120h0m92-118h0m63 137h0m-140-150h0m63 132h0m-60-145h0m-22 153h0m47-191h0m105 143h0m0-58h0m-114 80h0m54-213h0m-17 136h0m-76-94h0m72 207h0m49-74h0m61-174h0m-92 211h0m80 15h0m15-130h0m-9 66h0m-84-91h0m-74 170h0m-23-5h0m41-173h0m9-54h0m49 153h0m-98 85h0m191-15h0m-22-216h0m-32 186h0m-5 14h0m-62-46h0m79 44h0m-134-172h0m76 31h0m61 30h0m-73 83h0m14-86h0m78 144h0m-174-104h0m158-150h0m-141 262h0" stroke="#d42424" stroke-width="10" stroke-linecap="round" opacity="0.95" fill="none"/>
<path transform="scale(.1)" d="M1445 3480h0m73 68h0m21-103h0m-142 117h0m40-79h0m100-45h0m-161 113h0m62 18h0m86-11h0m-97-1h0m-39-17h0m-22-47h0m34-52h0m-12 31h0m37 8h0m98 58h0m-98-20h0m120-77h0m-145 41h0m-22 12h0m37 17h0m5 38h0m-3-70h0m50 80h0m93-36h0m-175-7h0m82 14h0m26-57h0m28-15h0m-89 106h0m-31-70h0m68-56h0m-110 141h0m122-133h0m-78 96h0m140-86h0m-171-5h0m107-12h0m13 35h0m-83 35h0m36 58h0m-82-111h0m35-15h0m37 1h0m-2 113h0m2-115h0m45 47h0m21 22h0m28 35h0m10-49h0m6-50h0m9 25h0m-39-27h0m-24 131h0m16-10h0m4-119h0m-17-7h0m-88 88h0m129 37h0m15-93h0m-177 59h0m187-64h0m-47 8h0m-50-6h0m97 52h0m-111-10h0m23-63h0m-109 120h0m138 15h0m-120 3h0m55-18h0m-45 15h0m-17-80h0m127-37h0m-60-20h0m-15 28h0m74 43h0m28-76h0m1 87h0m-159-1h0m139-68h0m-67 54h0m48 21h0m-6-93h0m75 4h0m-40-2h0m-11 40h0m-90 48h0m-10 4h0m151-65h0m-151 108h0m16-63h0m-20 50h0m78-124h0m75 113h0m-12-114h0m-47 1h0m-76 136h0m26-133h0m-43 16h0m31-11h0m102 4h0m-34-6h0m-55 92h0m17-38h0m38-57h0m57-4h0m-111 7h0m60 79h0m-36-67h0m33 67h0m-87 11h0m30-96h0m24 0h0m-101 5h0m127 76h0m40-51h0m-82 55h0m-61-65h0m39 104h0m30-125h0m64 2h0m-150 11h0m6 64h0m122 3h0m-83-27h0m75-7h0m-110-4h0m2 43h0m135-58h0m-35 64h0m-33-69h0m-60-17h0m11 123h0m-57-20h0m183-95h0m-124-13h0m131 0h0m-5 1h0m-151 130h0m10-117h0m-17 5h0m147 5h0m-36 46h0m-68 15h0m-70-83h0m12 63h0m122-49h0m71 17h0m-197 31h0m63-59h0m1 128h0m-1-94h0m76 7h0m-31 28h0m-94-8h0m-20-19h0m113 67h0m-91-57h0m151-30h0m-64 2h0m66 30h0m-44 10h0m-100-28h0m83 106h0m-104-25h0m157-114h0m-167 37h0m116 37h0m72-69h0m-159-7h0m134 74h0m-101-35h0m-15 92h0m127-35h0m-83-23h0m-83 4h0m140 45h0m36-128h0m-55 69h0m27-35h0m-13 108h0m-59-67h0m-78-68h0m41 4h0m-23 137h0m161-30h0m-186-48h0m153-40h0m-5-5h0m-27 16h0m-71-8h0m142-31h0m-24 76h0m-142 16h0m22-89h0m79-4h0m37 16h0m-159 3h0m52 110h0m102-72h0m-18-36h0m27 9h0m-133 39h0m140 47h0m-39-99h0m66 91h0m-162-12h0m128-90h0m16 120h0m-26-81h0m-64 38h0m106-48h0m-55 7h0m-29 64h0m-21-69h0m-47-14h0m-5 99h0m99-17h0m-104-75h0m144 78h0m8-18h0m-10-31h0m-19 14h0m-109 48h0m30-84h0m62 57h0m-21-35h0m69 40h0m-156-69h0m-21-28h0m0 145h0m98-111h0m-107 63h0m-2-50h0m57-40h0m-1-10h0m74 103h0m46 43h0m-78-37h0m63-25h0m-52-56h0m-71 33h0m-14 2h0m93 20h0m-1-17h0m-51-49h0m107-15h0m-151 50h0m149-38h0m-121 6h0m113-14h0m-119 10h0m55 61h0m21 30h0m80-67h0m-175-17h0m179-21h0m-103 23h0m95 23h0m-38-12h0m-158 81h0m68-83h0m136 12h0m-156 55h0m88-100h0m-44 101h0m-78-7h0m24-85h0m153 19h0m-80 62h0m-2 52h0m6-127h0m-27 45h0m-79-60h0m57 92h0m-22 16h0m-9-72h0m140 20h0m15 77h0m-32-68h0m-51-56h0m-50 2h0m66 0h0m-73 32h0m30 9h0m-78-53h0m93 58h0m-25 31h0m111-84h0m-176 11h0m7 17h0m73 104h0m35 0h0m32-36h0m-16-5h0m-9-91h0m-125 7h0m150-6h0m10 17h0m-22-13h0m-146 8h0m19-13h0m47-5h0m-46 93h0m177-71h0m-112 98h0m73-108h0m31-1h0m17-10h0m-47 20h0m-149 80h0m37-100h0m70 0h0m-106 73h0m9-2h0m41-67h0m63 39h0m-41-6h0m11-9h0m-33 42h0m95-64h0m-145 95h0m-11-69h0m197-31h0m-6 95h0m-107 0h0m38-97h0m-70 68h0m125-31h0m-65 109h0m24-80h0m-115 78h0m106-94h0m-75-21h0m102 6h0m-153-34h0m122 67h0m32-50h0m-30 0h0m23-2h0m43 0h0m-161-16h0m104 65h0m17-26h0m-4 66h0m-97-103h0m156 50h0m-3-4h0m-159 93h0m13-41h0m129 20h0m0-73h0m-63-35h0m-61 35h0m19-13h0m-55 27h0m27 75h0m158-92h0m-59 39h0m18-82h0m7 31h0m-149 1h0m129-14h0m-122 3h0m80 90h0m-63-82h0m59-2h0m-102 6h0m97 91h0m-63-74h0m-20 35h0m105-51h0m-43-24h0m57-1h0m-128 113h0m135-96h0m-127-14h0m37 13h0m143 75h0m-18-101h0m-173 33h0m2 8h0m184-12h0m-129 9h0m76-25h0m-32-2h0m62-1h0m-131 35h0m70-44h0m-21 35h0m45 30h0m-66 47h0m22-30h0m-63-64h0m134 119h0m25-68h0m-93-65h0m-41 84h0m80-14h0m-84 59h0m47-111h0m22-10h0m-53 78h0m-17-64h0m39-10h0m-77 32h0m44-7h0m77 28h0m-41-53h0m-35 7h0m33 0h0m-85 16h0m72 19h0m59 89h0m-122-105h0m148-41h0m-9 51h0m-132-28h0m114 25h0m-123-37h0m107 30h0m57 36h0m-127 49h0m1-10h0m-48-74h0m95-44h0m0 8h0m-87-2h0m60 18h0m-40-1h0m91 65h0m24 28h0m-107 10h0m-19-19h0m-17-80h0m201 4h0m-189-24h0m42 6h0m-55 106h0m0-88h0m62 7h0m80-30h0m-131 44h0m162-21h0m-52 59h0m-10-61h0m-97 28h0m117-25h0m43 74h0m-144-18h0m-24-63h0m79 105h0m-7-1h0m116-39h0m-185-75h0m82 100h0m10-91h0m-9 80h0m114 45h0" stroke="#2594d4" stroke-width="10" stroke-linecap="round" opacity="0.95" fill="none"/>
<rect x="134.6" y="340.3" width="22.2" height="3.6" fill="#7a1c1c"/>
<path transform="scale(.1)" d="M1717 3382h0m-120 0h0m155-6h0m-148 12h0m188 11h0m-149-32h0m159-31h0m-3-2h0m-10 59h0m-88-62h0m87 13h0m-160 55h0m107-1h0m-11-23h0m81 13h0m-176 5h0m149-22h0m-60 30h0m-78-17h0m109-49h0m8 1h0m-44 17h0m84 29h0m-29 19h0m-61-28h0m92-39h0m-77 10h0m-116 58h0m50-12h0m142 12h0m-142-6h0m-43-56h0m152 42h0m-22 15h0m16-2h0m-29-11h0m-72-42h0m2 7h0m-29 53h0m39-5h0m-27-9h0m135 5h0m-33-51h0m-104 10h0m-6 49h0m130-42h0m-52 38h0m6-54h0m31 34h0m-120 25h0m152-19h0m-171-49h0m-5 16h0m169 51h0m-176-34h0m10-10h0m84 44h0m109-7h0m-63-55h0m-127 7h0m128 24h0m27 25h0m-75-23h0m-23 8h0m-67-30h0m190 50h0m-93-5h0m81-2h0m-47-45h0m-4 11h0m-47-16h0m-68 23h0m119-34h0m-5 16h0m-28 48h0m-15 1h0m63-52h0m-61-11h0m71 48h0m0-24h0m32 17h0m-33 0h0m30 17h0m-114-42h0m-47 52h0m124-3h0m1-5h0m-13 5h0m18-42h0m-46 40h0m43-54h0m-11 49h0m-111-26h0m146 33h0m-137-45h0m116-16h0m-40 49h0m-52-15h0m140 5h0m-40 14h0m-61-50h0m-80 59h0m178-51h0m-45 49h0m-11-61h0m-78 37h0m88-20h0m-14 37h0m37-2h0m-43 13h0m-20-23h0m-49 23h0m58-50h0m-128 4h0m145 42h0m34-36h0m-163 38h0m140-8h0m-39-15h0m-71-32h0m133 57h0m-61-19h0m75-14h0m-45 30h0m-79 0h0m-6-67h0m-51 20h0m-9 6h0m44 37h0m13 1h0m84-2h0m-65 3h0m-68 2h0m102-7h0m-45-51h0m-28 0h0m94 12h0m-7-16h0m-61 20h0m6-11h0m96-14h0m-90 68h0m126-15h0m-98 17h0m90 0h0m-38-1h0m-3-63h0m-23 25h0m-82 19h0m149 13h0m-102-29h0m19-7h0m-50 13h0m100 18h0m-131 8h0m157-29h0m-42 29h0m40-41h0m18 45h0m-93-24h0m-16 22h0m63-51h0m-98-11h0m0 28h0m92 32h0m-81-6h0m10-61h0m74 47h0m-32-13h0m-110 24h0m164-29h0m-29 0h0m-60 20h0m-54 21h0m12 0h0m92-4h0m-116-12h0m168 16h0m-10-13h0m-134-57h0m160 59h0m-58 5h0m-45 4h0m-93 3h0m-8-18h0m21 8h0m69 8h0m-91 0h0m165-42h0m27 40h0m-72-5h0m-90-9h0m32-47h0m133 65h0m-19-72h0m-102 68h0m102-16h0m-57-11h0m62 0h0m3 13h0m-181-25h0m179-12h0m-43 45h0m-27 9h0m39-6h0m-56-22h0m45 22h0m-54-18h0m-11 3h0m127 22h0m-89-58h0m-4 58h0m46-50h0m31 49h0m-41-42h0m38 39h0m-42-41h0m54 27h0m-146-44h0m96 57h0m-46-4h0m-46 9h0m-1-55h0m55 55h0m74-17h0m-39-31h0m39-22h0m-131 69h0m28-26h0m-60-13h0m-12-29h0m125 58h0m-20-24h0m21 13h0m30-24h0m-52 30h0m-49-54h0m98 13h0m22 46h0m-65-43h0m-41 18h0m86 12h0m-57 8h0m-39-1h0m-67 17h0m138-47h0m-126 32h0m190 3h0m-77 10h0m-85-6h0m168-25h0m-181 4h0m20 2h0m143 20h0m-57-48h0m-92 28h0m-32 14h0m23 11h0m173-3h0m-94-31h0m-70 34h0m94-31h0m-30 32h0m39-58h0m-147 35h0m178-38h0m-177 1h0m139 47h0m-33 12h0m24-2h0m34 3h0m34-3h0m-52-63h0m-50 14h0m-7 47h0m23 5h0m-36-43h0m-48 10h0m112 21h0m19 1h0m16-19h0m-37-15h0m-1 8h0m-80 19h0m126-16h0m11 20h0m-62 3h0m52 1h0m-128-20h0m-30 30h0m164-67h0m-38 34h0m-25 20h0m3-56h0m-65 5h0m104 64h0m25-20h0m-32-33h0m-86 54h0m44-60h0m19 55h0m34-36h0m21 30h0m1 8h0m11-64h0m-38 67h0m-88-12h0m49-36h0m62 44h0m0 0h0m-165-61h0m16 58h0m115-9h0m8 15h0m-18 0h0m-13-61h0m-111 52h0m120-28h0m-6-14h0m-59-6h0m109 40h0m12-29h0m-195-7h0m33 16h0m50 37h0m106-17h0m-153 16h0m59-69h0m27 69h0m64-32h0m-100-10h0m-84-27h0m116 5h0m75 64h0m-38-64h0m-121 56h0m95-29h0m-119 1h0m58 13h0m70-5h0m63 17h0m-38-10h0m21-33h0m-113 50h0m-36-30h0m82 1h0m-60 3h0m122-1h0m-86-28h0m6 48h0m-41-58h0m69 70h0m-72-34h0m134-5h0m-171 26h0m40 7h0m72-31h0m50 0h0m-13-32h0m-27 39h0m-97-22h0m110 23h0m-102-19h0m74 31h0m74-8h0m-200 12h0m113 4h0m-68-14h0m136-33h0m15-9h0m-53 55h0m34-16h0m-169 26h0m109-4h0m15-38h0m23-10h0m-101 41h0m-32-30h0m7-2h0m164 12h0m-55-206h0m-22-101h0m0 45h0m28 3h0m-91 170h0m116-193h0m-106 6h0m-10 224h0m-16-99h0m-33-97h0m88-5h0m34 77h0m53 53h0m-32 40h0m-111-216h0m56 202h0m55-39h0m-57-75h0m6-88h0m-78 104h0m2 86h0m40-61h0m117 125h0m-174-15h0m73-42h0m-15 2h0m110-110h0m-172 146h0m89 22h0m94-195h0m-95 0h0m69 126h0m-70-61h0m-29 104h0m-17-12h0m119 28h0m-136-247h0m11 142h0m164 29h0m-50 10h0m46-91h0m-191 40h0m28 0h0m-27 109h0m180-74h0" stroke="#d42424" stroke-width="10" stroke-linecap="round" opacity="0.95" fill="none"/>
<path transform="scale(.1)" d="M1695 3443h0m29 79h0m25-56h0m-21 20h0m-4-12h0m-47 66h0m30-51h0m36-49h0m27 23h0m-74 59h0m-88-82h0m142 72h0m-35-72h0m-33 101h0m24-64h0m-102 9h0m130 43h0m-76-54h0m146-10h0m-137 1h0m-3 16h0m-45-23h0m119 68h0m0-88h0m-6 68h0m-9 32h0m25-101h0m-25 8h0m-46 61h0m125-1h0m-32-63h0m-13 67h0m-44 10h0m-117-52h0m131 58h0m19-10h0m-58 2h0m-66-65h0m178-4h0m-148 75h0m-54-71h0m124 25h0m26 3h0m47 30h0m-15 25h0m-70-2h0m18-95h0m-120 29h0m45-24h0m24 1h0m-14 111h0m40-117h0m-75 1h0m171 3h0m-136 16h0m-57 76h0m71-35h0m-10 54h0m29-113h0m22 25h0m-56-14h0m136 101h0m-24-23h0m22-61h0m-103-28h0m-78 31h0m67 60h0m-40-70h0m57 39h0m32 49h0m-47-11h0m-83-71h0m33-29h0m89 27h0m-81 38h0m84 9h0m-63-45h0m-13-28h0m4 10h0m-38 0h0m20-1h0m66 21h0m-87-32h0m135 3h0m-137 8h0m5 54h0m102-48h0m80 58h0m-14-75h0m-153 44h0m155 35h0m-140-27h0m21 7h0m133-55h0m-115 67h0m77-25h0m-99 60h0m-56-39h0m88 32h0m-17-97h0m34 40h0m-26-31h0m-70 21h0m129 33h0m38-64h0m-2 5h0m-109 28h0m7 79h0m46 1h0m70-63h0m-58 22h0m-66 28h0m-71-95h0m188 105h0m-12-106h0m-35 4h0m24 69h0m-39-50h0m-20 58h0m57 2h0m-148-55h0m0-25h0m16 106h0m75-23h0m50-76h0m-19 21h0m32 47h0m-153-10h0m25-32h0m74-31h0m16-9h0m8 116h0m-14-81h0m-20 18h0m-82 52h0m163-79h0m-112 45h0m106-38h0m-144-16h0m67 4h0m-87 34h0m174-6h0m-49-45h0m-58 105h0m-69-34h0m172-58h0m-114 37h0m-61-48h0m39-5h0m51 13h0m-71-14h0m29 1h0m110 110h0m-57-8h0m-42-90h0m17 10h0m56 6h0m7-26h0m45 32h0m-52-28h0m57-8h0m-24 49h0m-15-23h0m34 36h0m10 39h0m-153-62h0m-32-39h0m132 110h0m28-110h0m-49 54h0m-9-21h0m-62-25h0m112-5h0m-116 36h0m146-13h0m3-10h0m-16 38h0m-46-47h0m-15 55h0m31-5h0m-35-3h0m71-17h0m-56 80h0m-21-36h0m-32-66h0m-31-9h0m91-1h0m-92 26h0m59 65h0m-82-72h0m147 63h0m-100-83h0m71 7h0m-41-11h0m-25 50h0m12-20h0m67 80h0m-61-52h0m49-55h0m-134-1h0m67 9h0m6 54h0m0-29h0m64-27h0m18-9h0m-103 110h0m31 1h0m-84-96h0m140 104h0m47-97h0m-9 87h0m-93-69h0m90-40h0m-176 82h0m173-64h0m-105 80h0m3 3h0m-2-52h0m3 48h0m-22-95h0m50 18h0m-98 11h0m125 56h0m62-58h0m-102 28h0m17-37h0m-74-1h0m143-19h0m-96 20h0m6 82h0m70-82h0m-97 42h0m2-15h0m-33 22h0m141-65h0m-73 45h0m-50-43h0m20 51h0m-13 31h0m105-59h0m7 89h0m-169-98h0m125 35h0m-125-47h0m64-8h0m-22 105h0m136-79h0m-95 10h0m-51-35h0m-15 26h0m151 5h0m-171 74h0m70-78h0m63-24h0m-79 113h0m73-116h0m-137 66h0m193 28h0m-184 14h0m89-105h0m96 6h0m-119-8h0m-22 21h0m-17 0h0m43 27h0m118-24h0m-161 2h0m171 74h0m-44-96h0m-7 70h0m-101-76h0m-26 19h0m179-13h0m-120 51h0m-5 47h0m116-80h0m-32-23h0m-136 38h0m82-34h0m82 37h0m-125 13h0m-37-31h0m115-14h0m-134 20h0m42 11h0m136-15h0m-105 55h0m-84-67h0m95 101h0m-93-30h0m75 11h0m-7-21h0m-58-67h0m124 62h0m30 6h0m-31 29h0m-79-103h0m61 13h0m71 47h0m-110-59h0m-28 44h0m35-47h0m36 13h0m-102 72h0m177-76h0m-122 7h0m46 71h0m-33-70h0m4 56h0m85-73h0m-141 55h0m-38 31h0m163 0h0m3-80h0m-14 48h0m-38-37h0m80 91h0m-6-99h0m-19 20h0m-167-10h0m76 82h0m104-24h0m-80 42h0m30 0h0m75-117h0m-35 95h0m-13-26h0m-70-55h0m85 46h0m-36-57h0m65 5h0m-37 89h0m-142 15h0m20-44h0m93-66h0m-44 114h0m76-9h0m-57-2h0m16-105h0m-114 9h0m180 1h0m-31 66h0m-113 6h0m92-81h0m24 49h0m-151-16h0m15 45h0m115-68h0m-7 105h0m-19-68h0m27-30h0m-31-7h0m-80 2h0m43 16h0m43 7h0m-81-20h0m25 26h0m-29-36h0m105 97h0m8-31h0m43-72h0m-11 9h0m-27-7h0m23 29h0m-90 46h0m-50-69h0m92 95h0m8-74h0m-64-20h0m131-10h0m-102 113h0m57-46h0m13-14h0m-151-47h0m93-6h0m83 23h0m-19 27h0m2 59h0m-56-77h0m-79-32h0m20 108h0m130-89h0m-164-18h0m-31 113h0m166-94h0m-17 67h0m-94-53h0m129-7h0m-75 36h0m-34 20h0m-12-37h0m34-44h0m62 5h0m-124 14h0m20-3h0m62 51h0m-7-62h0m-79 69h0m71-39h0m28-33h0m-62 93h0m125-97h0m-96 56h0m24 28h0m27-85h0m-89 6h0m102 48h0m-149 17h0m115-69h0m-97 118h0m123-117h0m56 10h0m-193 16h0m139-22h0m-115 9h0m-17 63h0m179-39h0m-123-6h0m65-14h0m52-4h0m-10 52h0m-15-11h0m-74 32h0m110-77h0m-15 40h0m-8-20h0m22 21h0m-165 5h0m1-51h0m159-6h0m-188 48h0m191-46h0m-159 74h0m54-66h0m42 107h0m62-55h0m-154-50h0m-46 71h0m131-36h0m-103-48h0m21 89h0m66-86h0m71 23h0m-11 40h0m-106 15h0m-11-25h0m-4-40h0m-44 7h0m91-20h0m28-2h0m-34 54h0m14-44h0m-95 19h0m132-29h0m51 45h0m-134 44h0m117-77h0m-30 79h0m-29-62h0m-93 33h0" stroke="#2594d4" stroke-width="10" stroke-linecap="round" opacity="0.95" fill="none"/>
<rect x="159" y="340.3" width="22.2" height="3.6" fill="#e0903a"/>
<path transform="scale(.1)" d="M1824 3383h0m184 2h0m-91-36h0m-67 48h0m172-58h0m-25 32h0m-18-8h0m-22 37h0m26-11h0m-3 9h0m-159-2h0m67-45h0m-49 17h0m130 6h0m27 3h0m7 15h0m-112-68h0m19 22h0m-9 29h0m116 9h0m-75-38h0m-47-21h0m26 49h0m48-20h0m47-16h0m-132-28h0m120 47h0m-103 16h0m17 25h0m-53-37h0m92 37h0m-26-18h0m-13-4h0m86 23h0m-171-59h0m98-30h0m53 26h0m-130 59h0m2-17h0m-30 7h0m112-14h0m-8-9h0m60-23h0m10-18h0m-29 10h0m-59 61h0m-21-5h0m27-29h0m-59 19h0m-15 17h0m-18 4h0m-10 1h0m112-27h0m81 27h0m-5-2h0m-8-93h0m-15 78h0m24-16h0m-91-62h0m-69 74h0m17-43h0m106 59h0m43-48h0m-59-20h0m-95-3h0m111 31h0m-108-28h0m126 6h0m-87 14h0m90 49h0m-30-18h0m-83-27h0m-2 52h0m71-17h0m-111-55h0m180 28h0m-129 40h0m138-97h0m-35 91h0m-87-4h0m-78 3h0m118-36h0m4 17h0m-112-8h0m72 13h0m122-58h0m-156 80h0m70-41h0m-71 38h0m122-7h0m-13-1h0m-28-46h0m-102 54h0m29-55h0m5 19h0m2-59h0m78 101h0m-54-7h0m-17 6h0m36-63h0m-104 0h0m60 58h0m74 0h0m40-24h0m-127-1h0m-29-55h0m128 75h0m-119 2h0m116-9h0m-138 7h0m153 11h0m25-42h0m-48 31h0m-135-18h0m188-43h0m-30 22h0m-8 49h0m-50-88h0m-79 63h0m91-11h0m77 21h0m-127-2h0m88 12h0m-88-51h0m6 15h0m-27 25h0m-44-1h0m141-6h0m-22-74h0m42 91h0m-97 5h0m102-15h0m-154-57h0m113 26h0m10-13h0m37 37h0m-75-18h0m45 15h0m-67-9h0m-65 0h0m157-53h0m-91 75h0m1-48h0m109-19h0m-168 21h0m83 16h0m-5-7h0m-10 28h0m50-19h0m36-25h0m-78 41h0m-3 9h0m-21 12h0m62-90h0m-133 24h0m198 47h0m-97-17h0m-6-40h0m97 78h0m-135 0h0m8-52h0m80-26h0m61 80h0m-106-16h0m61-63h0m-107 28h0m16 41h0m-37 6h0m15-6h0m-24 1h0m173-72h0m-163-4h0m57 72h0m90 14h0m-14-35h0m16-66h0m-124 17h0m117 76h0m-101-23h0m-4 21h0m-34-8h0m9 16h0m132-82h0m-40 56h0m4 27h0m-92 1h0m29-16h0m76 14h0m-5-13h0m-40-72h0m34 49h0m-66 13h0m-1-65h0m63 50h0m-139 35h0m142-3h0m-62-91h0m-40 47h0m145 46h0m-148-28h0m-1-67h0m86 75h0m43-73h0m-162 10h0m143 72h0m-116 15h0m164-8h0m-133-19h0m-45 22h0m33-44h0m24 12h0m87-30h0m-94 16h0m79-39h0m-64 3h0m99 75h0m-150-45h0m131 35h0m-122-65h0m-17-4h0m89 87h0m19-8h0m-95-15h0m79-60h0m-47 89h0m-21-85h0m-19 84h0m141-10h0m-6-18h0m-106 28h0m-18 0h0m144-7h0m-127 6h0m21 0h0m81-81h0m-80 66h0m92-10h0m-133-15h0m84 20h0m81 8h0m-91-87h0m12 94h0m39 5h0m-132 1h0m156-60h0m-97-17h0m61 70h0m50-3h0m-139-17h0m40-72h0m-15 97h0m-83-55h0m164-29h0m-109 16h0m55 8h0m-44 44h0m41 1h0m-9-18h0m-87 29h0m88-14h0m51 10h0m30-51h0m-167-2h0m75 8h0m45 39h0m-123-39h0m65-20h0m88 10h0m-83 23h0m114 37h0m-140-4h0m-8-32h0m-32 26h0m181 5h0m-107-83h0m-37 63h0m71-16h0m26 34h0m-56-35h0m19 38h0m-7-54h0m47 24h0m27 36h0m-2 4h0m-44-74h0m-80-25h0m134 96h0m-172-76h0m-2 51h0m148-51h0m-123 68h0m104 11h0m-65-66h0m52 60h0m-102-40h0m83 39h0m0-38h0m-67-38h0m2 80h0m70-4h0m80-39h0m-141 11h0m-18-27h0m-19 31h0m139-1h0m-103-65h0m151 80h0m-174-14h0m-2-40h0m109 71h0m-53-34h0m113 26h0m-30-19h0m-59-38h0m-36-8h0m-26 73h0m68-92h0m80 28h0m-194 53h0m120-37h0m-5-35h0m52 76h0m-144-15h0m19 5h0m106-48h0m-61 42h0m-5 16h0m104 3h0m-82-4h0m-45-85h0m57 15h0m-20 74h0m33-25h0m-89-51h0m162 28h0m-89-27h0m24 54h0m14-7h0m31 25h0m-166-20h0m22 2h0m-4-61h0m11 45h0m40 35h0m37-70h0m79 29h0m-65 46h0m-73-2h0m92-38h0m-160-17h0m143 24h0m-74 10h0m63-23h0m-68-47h0m123 93h0m-174-26h0m45 3h0m100-48h0m-123 68h0m-10-48h0m55-19h0m-59 7h0m152 27h0m23-36h0m-137 52h0m62-75h0m-40 15h0m-61 66h0m29-21h0m154-51h0m-32 26h0m-136 18h0m91 36h0m30-60h0m-5 45h0m-68-55h0m-44-13h0m-17 9h0m-15-4h0m199 85h0m-77-112h0m-30 0h0m12 6h0m-44-22h0m64-25h0m-77 47h0m-46-67h0m161 38h0m-148-30h0m67 37h0m12 12h0m-71 4h0m168 1h0m-96-44h0m-96-6h0m126 4h0m40 31h0m21-6h0m15-49h0m-181 10h0m-20 55h0m79 8h0m28-5h0m95 11h0m-34-36h0m-39 18h0m-117 0h0m65 7h0m82 11h0m-43-50h0m-39 27h0m113-17h0m-8 36h0m11-70h0m-126 64h0m-35-56h0m102 17h0m-8 32h0m46 3h0m-32 13h0m-48-71h0m-2 69h0m25-21h0m73-24h0m-113 43h0" stroke="#d42424" stroke-width="10" stroke-linecap="round" opacity="0.95" fill="none"/>
<path transform="scale(.1)" d="M2018 3469h0m-8-2h0m-191-6h0m17-21h0m123 18h0m32-20h0m-53 28h0m-123 0h0m24-28h0m142 48h0m0-28h0m-141-19h0m152-1h0m-47 16h0m42-9h0m-112-2h0m9 10h0m27-14h0m67 25h0m39 17h0m-57 3h0m-56-39h0m56 10h0m-126-1h0m51 10h0m119-24h0m-154 3h0m106 9h0m-34-5h0m47 7h0m25-9h0m-114 5h0m21 36h0m50-23h0m-21-24h0m-39 5h0m-2 24h0m92-26h0m16 1h0m-88 3h0m-65 40h0m47-47h0m119 39h0m-79-20h0m30-12h0m-118 6h0m92-10h0m11 40h0m-60-21h0m98-20h0m-6 18h0m-12-14h0m-107 3h0m109 5h0m37-15h0m-138 0h0m16 10h0m91-10h0m-19 19h0m3 6h0m-64-24h0m40 33h0m-109-30h0m92 1h0m-25 31h0m54 8h0m-94 1h0m92-24h0m28 1h0m-135 6h0m89-15h0m-11 14h0m109-10h0m-112-9h0m-7 13h0m60 0h0m-67 2h0m67 2h0m-34-21h0m96 4h0m-37 6h0m27-13h0m-49 10h0m-66 30h0m79 5h0m43-29h0m-38 15h0m-39-26h0m-25 15h0m74-18h0m-107 9h0m86-1h0m-74 2h0m-63-11h0m41 45h0m-25-44h0m-39-1h0m140 42h0m-138-44h0m80 4h0m-26 42h0m42-4h0m70-39h0m-45 16h0m-96 19h0m108 10h0m-21-31h0m94-17h0m-129 8h0m5 21h0m26-9h0m-26-14h0m70 1h0m-32 10h0m63-16h0m-68 21h0m-98-1h0m147 26h0m-160-23h0m165-5h0m-35 20h0m7-9h0m-87 12h0m48-17h0m60-25h0m-51 0h0m-9 26h0m35-25h0m38 48h0m-56-48h0m-69 3h0m74 9h0m-8 5h0m84-18h0m-98 21h0m-89 17h0m137-16h0m-100-16h0m-51 10h0m5 18h0m184-28h0m-127-3h0m75 31h0m35 1h0m-148-34h0m44 30h0m45-18h0m-41 29h0m41-36h0m24 19h0m-48-7h0m103 22h0m-154-18h0m90 16h0m73-38h0m-11 42h0m-124-33h0m139-8h0m-127 12h0m48 24h0m-46-17h0m-56-20h0m167 22h0m-103-19h0m86 27h0m-90 7h0m-74-36h0m66 1h0m43 29h0m-77-19h0m168-8h0m-79 2h0m43 25h0m-128 9h0m76-38h0m-49 40h0m-20-41h0m135 0h0m2 37h0m-113-17h0m-46 8h0m116 19h0m-131-40h0m151-6h0m-138-2h0m97 27h0m5-27h0m-72 22h0m119 0h0m-56-5h0m84-9h0m-8 0h0m-3-3h0m-151 7h0m14-10h0m7 15h0m85-5h0m57 34h0m-1-18h0m-194-4h0m190 24h0m-114-22h0m36-16h0m35-4h0m-121 30h0m-36-10h0m98-23h0m69 45h0m-122-46h0m8 23h0m-45-16h0m28 13h0m76-1h0m-15 6h0m28-23h0m-36 39h0m-41-40h0m44 14h0m-64 14h0m115-23h0m-68-1h0m-77 35h0m96 6h0m-7-48h0m78 1h0m-29 21h0m-44-7h0m88-15h0m-53 3h0m-89 20h0m122-23h0m-4 36h0m-22-28h0m21-7h0m-94 42h0m-56-12h0m123-12h0m-46 13h0m-1-8h0m35 5h0m-7-16h0m-32-9h0m8 22h0m108-24h0m-138 8h0m66 39h0m12-18h0m-80 16h0m29-3h0m20-36h0m78 33h0m8 6h0m-98-36h0m56-6h0m-53 2h0m69 2h0m-132-8h0m129 19h0m-75-20h0m-16 22h0m115 8h0m-20-26h0m-83-1h0m-5 18h0m-38-17h0m41-2h0m34-2h0m0 1h0m-97 0h0m180 0h0m-172 0h0m112 19h0m47-16h0m25 35h0m-86-38h0m57 12h0m-131 6h0m-30-5h0m97 14h0m-32 14h0m64-28h0m-108 11h0m76-25h0m21 9h0m-33 6h0m68-4h0m24 7h0m-173 14h0m35 10h0m87-38h0m-134-1h0m152-2h0m-84 0h0m98 46h0m-100-47h0m-18 34h0m60-22h0m-68 32h0m54-39h0m63 12h0m-166 11h0m119-22h0m-45-3h0m83-3h0m-72 17h0m31 7h0m-25 0h0m-9 14h0m16-16h0m87-18h0m16 44h0m-2-17h0m-31-23h0m17-8h0m-179 6h0m-6-4h0m-2 8h0m80 8h0m-21-3h0m90 23h0m7-33h0m-125 3h0m2 1h0m139 2h0m-143-6h0m153 12h0m-106-14h0m22 5h0m2 7h0m-31 21h0m100-16h0m-110 5h0m-58-1h0m108-17h0m-43 35h0m43-6h0m-24-24h0m118 20h0m-111-13h0m-46 12h0m-2-17h0m14-7h0m-13 23h0m17 19h0m-55-13h0m179 7h0m-58-39h0m5 15h0m-16 9h0m-48-11h0m84-4h0m-21-6h0m-19 6h0m4 24h0m74-36h0m-83-1h0m-71 37h0m149-34h0m5 37h0m-90-39h0m-32 0h0m63 10h0m-4-1h0m5 22h0m-42 14h0m10-3h0m106-24h0m-94 14h0m-24-20h0m16 2h0m65-12h0m-145 7h0m25 2h0m107 32h0m-132-25h0m20-2h0m-25 2h0m93-18h0m61 17h0m26-5h0m-90-2h0m-103 2h0m158 31h0m-60-21h0m-7-17h0m-72 27h0m88-1h0m-40-3h0m-53-5h0m72-6h0m82-10h0m-43-5h0m41 0h0m-161-3h0m190 49h0m-69-15h0m-42-28h0m-56 39h0m-9-44h0m62 27h0m-7 9h0m-4-20h0m97 6h0m-72-22h0m-80 14h0m121-9h0m-51 8h0m114 0h0m-172 8h0m113-15h0m-90 19h0m109-11h0m26-13h0m-5 41h0m5-27h0m-64 18h0m-122 3h0m122-4h0m-26-5h0m7-24h0m-43-1h0m41 19h0m-53-21h0m153 1h0m-80 5h0m23 19h0m16-15h0m17 16h0m12-27h0m-140 12h0m-19 8h0m45 11h0m-29-31h0m81 7h0m-18 9h0m-56 32h0m-43-48h0m74 1h0m-77 12h0m134-13h0m-119 34h0m166-16h0m-23-15h0m2 45h0m21-48h0m-64 7h0m-112 4h0m-14 5h0m147-15h0m25 9h0m-88 3h0m-54 3h0m7 8h0m38-9h0m64-11h0m-60 24h0m-37 16h0m161-43h0m-19 12h0m-171 13h0" stroke="#2594d4" stroke-width="10" stroke-linecap="round" opacity="0.95" fill="none"/>
<rect x="181" y="340.3" width="22.2" height="3.6" fill="#d9822a"/>
<path transform="scale(.1)" d="M2258 3323h0m-166 24h0m-7-19h0m34 21h0m-22-25h0m105-5h0m28 82h0m10-33h0m-148-68h0m142 92h0m-150-33h0m100 22h0m-17-80h0m25-1h0m52 8h0m-39 40h0m66-8h0m-188 47h0m78-12h0m90 25h0m-12-5h0m-146 5h0m129-37h0m-148 32h0m114-67h0m-96 72h0m140-9h0m-89 8h0m24-54h0m-1-30h0m-68 58h0m80-19h0m89 11h0m-203 3h0m134 23h0m-99 3h0m22-38h0m-24-42h0m147 86h0m-16-89h0m-102 87h0m-48-31h0m163-18h0m22 27h0m-185-33h0m135 23h0m-105 8h0m145-68h0m-89 28h0m-93 18h0m42 25h0m-39 9h0m92-33h0m49-52h0m-147 56h0m23-34h0m13 74h0m143-16h0m-158-38h0m120 57h0m5-57h0m26-23h0m-24 50h0m-112 0h0m149-58h0m-75-4h0m-72 32h0m106 52h0m-28-36h0m82 4h0m-108 37h0m74 3h0m-114-29h0m127 23h0m-174-44h0m155 42h0m-73-18h0m73-70h0m-5 86h0m-64 8h0m-50-73h0m68 70h0m34-65h0m-10 55h0m-90-77h0m99 93h0m54-52h0m-71-49h0m-29 98h0m-74-88h0m-4 91h0m112-47h0m-80-13h0m23 60h0m-47-32h0m104-25h0m-126 38h0m55-60h0m42 35h0m70 39h0m-14-5h0m-8-56h0m-8 13h0m-7-10h0m68 56h0m-49-81h0m20 19h0m-11 58h0m-102-31h0m-50-27h0m134 65h0m-20-33h0m71-48h0m-181 23h0m53 7h0m125 28h0m-183-19h0m143-23h0m-115 8h0m133-13h0m18 12h0m2-9h0m-118-9h0m72 76h0m-21-30h0m72-8h0m11 2h0m-6 31h0m-34-41h0m23 42h0m-114-24h0m-53-17h0m-14 32h0m-3-13h0m197 29h0m-104-35h0m-20 9h0m108-23h0m-173-3h0m55 52h0m-10-26h0m46 26h0m52-62h0m-63-32h0m35 74h0m34-60h0m4 82h0m-8-11h0m19-10h0m-73-55h0m85-19h0m-70 14h0m-15-14h0m85 87h0m-24 8h0m-149-4h0m-6-92h0m61 39h0m-71 47h0m21-33h0m30-41h0m11 8h0m3 58h0m69 11h0m41 5h0m-151-79h0m129 79h0m-93-82h0m101 83h0m-166-81h0m147 13h0m48 5h0m-67 34h0m-105 6h0m79-38h0m-28 53h0m-55-56h0m88 31h0m-47-10h0m33-17h0m24-17h0m1 63h0m31-47h0m-80 1h0m72 35h0m-11 26h0m-57-55h0m81 54h0m-137-17h0m109 7h0m-18-3h0m-32 7h0m124-65h0m-166-14h0m153 71h0m-173-21h0m155 28h0m-46-64h0m-67 71h0m153-69h0m-118 36h0m-33 33h0m109-82h0m-18 73h0m12 10h0m-45-42h0m-54-4h0m83-17h0m35 62h0m-53-10h0m-82-21h0m-31-50h0m15 0h0m-1 31h0m6 50h0m26-52h0m102 20h0m-141 22h0m40 10h0m-13-77h0m-24-6h0m28 83h0m137-17h0m-160-62h0m42 39h0m-64-46h0m39 59h0m37-18h0m111-4h0m-105-38h0m87 37h0m-50-15h0m-28 59h0m70-25h0m-2-2h0m-81 25h0m124-3h0m-136 11h0m-42-4h0m125-49h0m-26 35h0m74 19h0m-88-61h0m-65 39h0m55 1h0m-49-9h0m-57-28h0m105-3h0m14-16h0m-118 57h0m15 1h0m-4 16h0m59 1h0m94-33h0m-93 17h0m-67-2h0m2-63h0m158 1h0m-97 80h0m61-5h0m-18-43h0m-57 33h0m87 1h0m-9-26h0m-25-35h0m-78 77h0m31-65h0m-51-28h0m169 56h0m-144 24h0m-30-38h0m14 15h0m160 16h0m-155-7h0m10-12h0m66 33h0m-21-11h0m92-48h0m-114 14h0m101 37h0m24-16h0m-76-43h0m27 63h0m-122 5h0m59 4h0m45-47h0m85-26h0m-132 25h0m71 44h0m-22-34h0m45-41h0m-115 72h0m79 5h0m1-96h0m-68 79h0m25 6h0m120-40h0m-78 52h0m-104-44h0m121 42h0m-2-72h0m-122 73h0m41-82h0m7 60h0m131-14h0m-106-12h0m-84 36h0m-2 0h0m4-40h0m118 7h0m-100-10h0m6 33h0m-14 24h0m61-89h0m14 54h0m-94 35h0m186-21h0m-7-32h0m-93 48h0m97-1h0m-144-91h0m104 83h0m-37-49h0m-20 8h0m13-12h0m96 52h0m-125-5h0m86 7h0m-98-18h0m40 17h0m-5-19h0m-49-43h0m-3-3h0m69 51h0m-57 25h0m34-69h0m-82-18h0m203 54h0m-81 20h0m-25-15h0m-38 12h0m125-61h0m-76 32h0m18-16h0m-59 39h0m109 24h0m-95-1h0m-11-69h0m60 48h0m12 23h0m59 0h0m-204-18h0m89 3h0m44-78h0m-39 77h0m45-16h0m-114 31h0m143-2h0m1-78h0m-35 61h0m-38 0h0m17-12h0m-113-16h0m16 27h0m131-61h0m50 59h0m-157-4h0m137-24h0m-122 38h0m3-79h0m52 85h0m-22-14h0m70-7h0m-155-64h0m132 60h0m18-51h0m-78 16h0m52 68h0m-72-62h0m36 6h0m-7-48h0m122-3h0m-177-6h0m51 7h0m-34-4h0m21-29h0m12 16h0m67-1h0m-3 3h0m-23 8h0m63-7h0m-176 2h0m109-19h0m74 24h0m-63-2h0m-56 10h0m-39-22h0m-1-9h0m-14 17h0m168 1h0m-21-22h0m-80 33h0m88 1h0m-72 3h0m26-3h0m-73-35h0m108 35h0m-63-28h0m46 11h0m7 17h0m-87-23h0m70 25h0m-11-26h0m82 24h0m-85 3h0m-72-2h0m-49 3h0m149-23h0m59-17h0m-144 27h0m101-16h0m-40 13h0m-87 14h0m42 1h0m71-14h0" stroke="#d42424" stroke-width="10" stroke-linecap="round" opacity="0.95" fill="none"/>
<path transform="scale(.1)" d="M2161 3579h0m63-7h0m-155 7h0m31-112h0m-11 75h0m-11-64h0m57-14h0m-42 95h0m173-83h0m-47 47h0m-135 43h0m76-52h0m-50-16h0m105-45h0m20 43h0m-16 63h0m-92-117h0m-38 4h0m119 4h0m-144 101h0m77-111h0m23 1h0m-56 35h0m50-37h0m31 17h0m-108 121h0m117-84h0m-19-4h0m-96 31h0m122-80h0m-66 132h0m67-134h0m-108 97h0m-26-27h0m145-60h0m-137-2h0m34 16h0m-54 87h0m62-10h0m118-59h0m-36 19h0m5 31h0m-146-48h0m173-43h0m-49 149h0m56-89h0m-145-60h0m76 15h0m81 104h0m-20-110h0m-118 1h0m92 98h0m51-37h0m-95-72h0m41 4h0m-78-2h0m-49 81h0m187-39h0m-135 35h0m55-61h0m28 1h0m-150 110h0m110-128h0m-42 131h0m50-52h0m-61-10h0m53-48h0m46 118h0m39-17h0m-143-87h0m51 112h0m-21-141h0m58 50h0m1 55h0m-123-88h0m115 65h0m-2 9h0m52-95h0m-143 20h0m93 103h0m-93-36h0m164-35h0m-171 77h0m31-98h0m-34 74h0m135-106h0m-8 5h0m-102 71h0m-46-73h0m96 114h0m92-94h0m-117-2h0m-29 12h0m-20-17h0m-18 71h0m147 73h0m-100-161h0m59 17h0m-12 30h0m-22 39h0m-82-86h0m168 100h0m-154 33h0m47-24h0m-30-49h0m1 63h0m-25-31h0m136 21h0m-135 13h0m55-106h0m-57 27h0m174-47h0m-145 83h0m-26-4h0m174 6h0m-63-73h0m-81 15h0m57 68h0m92 6h0m-118-37h0m73-65h0m-139 36h0m93 82h0m7-45h0m94 90h0m-164-128h0m42 42h0m-30 90h0m142-4h0m-54-134h0m-19-21h0m43 10h0m-116 109h0m0-12h0m-1-101h0m161 140h0m-32-2h0m-76-146h0m-65 16h0m43 120h0m-75-141h0m51 132h0m156-84h0m-25 8h0m-115 105h0m-58-28h0m88-125h0m23 108h0m48-41h0m26 25h0m-71-66h0m-111 124h0m51-158h0m-57 122h0m139-122h0m-69 143h0m-65 20h0m54-145h0m44 90h0m-90 45h0m-5-109h0m149-5h0m27-1h0m-169 68h0m169-42h0m-51 5h0m42-38h0m-73-23h0m-80-4h0m155 39h0m-126 8h0m-8-28h0m57 113h0m-19-63h0m-16 67h0m107-94h0m-115-47h0m57 162h0m77-141h0m-80 18h0m-120-33h0m173-4h0m4-2h0m-44 78h0m-80 5h0m-39-63h0m64-16h0m-59 132h0m46-118h0m118 100h0m20 29h0m-10-20h0m-131-41h0m-27 31h0m111-90h0m25-3h0m-68 54h0m-84-16h0m72-4h0m-1-1h0m83-43h0m14 112h0m-100-69h0m80 80h0m-101-137h0m94 6h0m-16 81h0m-108 3h0m138-87h0m-96 97h0m121 53h0m-42-110h0m-9 44h0m-134-75h0m121-9h0m-59 67h0m74 2h0m-65-72h0m-33 118h0m110-7h0m-42-50h0m-97-31h0m70-9h0m-52 35h0m112-56h0m39 1h0m-119 161h0m-60-2h0m-3-133h0m189 136h0m-21-65h0m-173-98h0m121 61h0m-43-42h0m-69 18h0m141 47h0m51-39h0m-87 18h0m-77 83h0m-1-63h0m67 22h0m96-99h0m-50 142h0m2-104h0m-4-20h0m-140 43h0m105-42h0m9 103h0m35-92h0m-64 115h0m109 7h0m-55-157h0m-32 77h0m44-67h0m-82 134h0m-48-12h0m20-113h0m82 12h0m-2 67h0m-6-80h0m-86 26h0m-38 2h0m170-23h0m-135 56h0m157-22h0m-91-2h0m70 13h0m-51 35h0m-114-43h0m190 76h0m-61-78h0m-43-3h0m-82 45h0m127-17h0m9 21h0m-131-10h0m59-37h0m88-17h0m-124-40h0m144 63h0m-19 13h0m-124 68h0m21-128h0m79 76h0m-12-17h0m-43-64h0m101-10h0m-155-1h0m173 97h0m-7-96h0m-15 158h0m-25-44h0m-95-112h0m-27 115h0m59-106h0m47-3h0m-67 130h0m132-131h0m-2 74h0m-162 75h0m60-58h0m-86 61h0m61-78h0m-11-73h0m-15 70h0m0-42h0m128-37h0m-135 108h0m7-105h0m71 3h0m25-2h0m-91 25h0m-33-16h0m167-5h0m-43 92h0m-100-90h0m-28 24h0m165 39h0m-117 28h0m40-101h0m-35 143h0m-37-114h0m9-1h0m91 51h0m65-39h0m-144 93h0m47-73h0m46-59h0m-36 10h0m35-4h0m24 0h0m-97-5h0m71 9h0m-117 58h0m56 6h0m79-61h0m-18 10h0m20 78h0m-130 61h0m117-115h0m-131 68h0m7-79h0m69 65h0m88 32h0m-145-134h0m-39 149h0m138-150h0m-26 163h0m7-145h0m61 147h0m-166-21h0m143 23h0m40-82h0m-180 55h0m157-77h0m-178 71h0m194-133h0m-14 97h0m-137-70h0m-6 2h0m69 44h0m-62 93h0m56-127h0m17 69h0m-38-106h0m-50 134h0m93-84h0m64 21h0m-43 58h0m68-105h0m-35 12h0m-138 28h0m72 0h0m23-64h0m-101 65h0m83-68h0m71 91h0m-100-50h0m-35-37h0m70 95h0m-47 2h0m102 45h0m-64-23h0m42 17h0m-153-123h0m183 88h0m-20 0h0m-36-80h0m-90 18h0m-15 64h0m156 16h0m-35-121h0m-40 36h0m-43 122h0m58-133h0m-15 14h0m-100-33h0m4 123h0m202-18h0m-102-99h0m-28-13h0m121 64h0m-53-64h0m-58 4h0m55 40h0m-72-17h0m-18 36h0m-43-15h0m172 36h0m-73 54h0m-95-129h0m168 100h0m-91-79h0m-71-31h0m168 69h0m-123-62h0m75 84h0m43-90h0m-67 94h0m-42-80h0m16 14h0m-41 126h0m107-143h0m2 121h0m-88-17h0m34 32h0m-81-21h0m70-125h0m21 57h0m-97-56h0m38 33h0m131 98h0m-50-66h0m32-64h0m-81 164h0m-69-157h0m120 77h0m20 79h0m-109-36h0m116 14h0m-13-122h0m-117 109h0m107-20h0m47-26h0m6-18h0m-25-27h0m-162 95h0m188-82h0m-167 17h0m149 47h0m-61 43h0m8-23h0m-49-135h0m49 77h0m80-50h0m-7 120h0m-116-37h0m18-65h0m47-14h0m-20 34h0" stroke="#2594d4" stroke-width="10" stroke-linecap="round" opacity="0.95" fill="none"/>
<rect x="205.5" y="340.3" width="22.2" height="3.6" fill="#7088b8"/>
<text x="16.75" y="320.8" font-size="3.5" text-anchor="start" fill="#2a2a2a" font-weight="normal" font-style="italic" stroke="#2a2a2a" stroke-width="0.1">APOC1</text>
<text x="27" y="316" font-size="3.5" text-anchor="start" fill="#2a2a2a" font-weight="normal" font-style="italic" stroke="#2a2a2a" stroke-width="0.1">MMP12</text>
<text x="18" y="326" font-size="3.5" text-anchor="start" fill="#2a2a2a" font-weight="normal" font-style="italic" stroke="#2a2a2a" stroke-width="0.1">SPP1</text>
<text x="31" y="327" font-size="3.5" text-anchor="start" fill="#2a2a2a" font-weight="normal" font-style="italic" stroke="#2a2a2a" stroke-width="0.1">APOE</text>
<text x="42" y="316" font-size="3.5" text-anchor="start" fill="#2a2a2a" font-weight="normal" font-style="italic" stroke="#2a2a2a" stroke-width="0.1">NKG7</text>
<text x="42" y="321" font-size="3.5" text-anchor="start" fill="#2a2a2a" font-weight="normal" font-style="italic" stroke="#2a2a2a" stroke-width="0.1">GZMA</text>
<text x="42" y="327" font-size="3.5" text-anchor="start" fill="#2a2a2a" font-weight="normal" font-style="italic" stroke="#2a2a2a" stroke-width="0.1">GZMB</text>
<text x="54" y="310.5" font-size="3.5" text-anchor="start" fill="#2a2a2a" font-weight="normal" font-style="italic" stroke="#2a2a2a" stroke-width="0.1">CCL5</text>
<text x="54" y="317.3" font-size="3.5" text-anchor="start" fill="#2a2a2a" font-weight="normal" font-style="italic" stroke="#2a2a2a" stroke-width="0.1">GNLY</text>
<text x="68" y="317.5" font-size="3.5" text-anchor="start" fill="#2a2a2a" font-weight="normal" font-style="italic" stroke="#2a2a2a" stroke-width="0.1">IL32</text>
<text x="65" y="322.5" font-size="3.5" text-anchor="start" fill="#2a2a2a" font-weight="normal" font-style="italic" stroke="#2a2a2a" stroke-width="0.1">TRAC</text>
<text x="78" y="322.5" font-size="3.5" text-anchor="start" fill="#2a2a2a" font-weight="normal" font-style="italic" stroke="#2a2a2a" stroke-width="0.1">TXNIP</text>
<text x="64" y="328.3" font-size="3.5" text-anchor="start" fill="#2a2a2a" font-weight="normal" font-style="italic" stroke="#2a2a2a" stroke-width="0.1">CD52</text>
<text x="86" y="312.3" font-size="3.5" text-anchor="start" fill="#2a2a2a" font-weight="normal" font-style="italic" stroke="#2a2a2a" stroke-width="0.1">TXOK1</text>
<text x="91.7" y="317.5" font-size="3.5" text-anchor="start" fill="#2a2a2a" font-weight="normal" font-style="italic" stroke="#2a2a2a" stroke-width="0.1">MS4A1</text>
<text x="101.4" y="323" font-size="3.5" text-anchor="start" fill="#2a2a2a" font-weight="normal" font-style="italic" stroke="#2a2a2a" stroke-width="0.1">HBB</text>
<text x="88.4" y="328.3" font-size="3.5" text-anchor="start" fill="#2a2a2a" font-weight="normal" font-style="italic" stroke="#2a2a2a" stroke-width="0.1">HBA1</text>
<text x="112" y="320.3" font-size="3.5" text-anchor="start" fill="#2a2a2a" font-weight="normal" font-style="italic" stroke="#2a2a2a" stroke-width="0.1">AKR1C1</text>
<text x="108.75" y="328.3" font-size="3.5" text-anchor="start" fill="#2a2a2a" font-weight="normal" font-style="italic" stroke="#2a2a2a" stroke-width="0.1">S100A2</text>
<text x="148" y="289" font-size="3.5" text-anchor="start" fill="#2a2a2a" font-weight="normal" font-style="italic" stroke="#2a2a2a" stroke-width="0.1">TPSB2</text>
<text x="131" y="294.6" font-size="3.5" text-anchor="start" fill="#2a2a2a" font-weight="normal" font-style="italic" stroke="#2a2a2a" stroke-width="0.1">TPSAB1</text>
<text x="136" y="303.4" font-size="3.5" text-anchor="start" fill="#2a2a2a" font-weight="normal" font-style="italic" stroke="#2a2a2a" stroke-width="0.1">CPA3</text>
<text x="147" y="312" font-size="3.5" text-anchor="start" fill="#2a2a2a" font-weight="normal" font-style="italic" stroke="#2a2a2a" stroke-width="0.1">MS4A2</text>
<text x="148" y="318" font-size="3.5" text-anchor="start" fill="#2a2a2a" font-weight="normal" font-style="italic" stroke="#2a2a2a" stroke-width="0.1">CLU</text>
<text x="158" y="294.6" font-size="3.5" text-anchor="start" fill="#2a2a2a" font-weight="normal" font-style="italic" stroke="#2a2a2a" stroke-width="0.1">IGKC</text>
<text x="170" y="294.6" font-size="3.5" text-anchor="start" fill="#2a2a2a" font-weight="normal" font-style="italic" stroke="#2a2a2a" stroke-width="0.1">IGLC2</text>
<text x="152" y="299.4" font-size="3.5" text-anchor="start" fill="#2a2a2a" font-weight="normal" font-style="italic" stroke="#2a2a2a" stroke-width="0.1">IGHG4</text>
<text x="175" y="299.4" font-size="3.5" text-anchor="start" fill="#2a2a2a" font-weight="normal" font-style="italic" stroke="#2a2a2a" stroke-width="0.1">IGLC2</text>
<text x="166" y="305.2" font-size="3.5" text-anchor="start" fill="#2a2a2a" font-weight="normal" font-style="italic" stroke="#2a2a2a" stroke-width="0.1">IGHG4</text>
<text x="190.6" y="304.6" font-size="3.5" text-anchor="start" fill="#2a2a2a" font-weight="normal" font-style="italic" stroke="#2a2a2a" stroke-width="0.1">COL1A2</text>
<text x="206.8" y="307.9" font-size="3.5" text-anchor="start" fill="#2a2a2a" font-weight="normal" font-style="italic" stroke="#2a2a2a" stroke-width="0.1">COL1A1</text>
<text x="177.6" y="314" font-size="3.5" text-anchor="start" fill="#2a2a2a" font-weight="normal" font-style="italic" stroke="#2a2a2a" stroke-width="0.1">COL3A1</text>
<text x="195" y="311.8" font-size="3.5" text-anchor="start" fill="#2a2a2a" font-weight="normal" font-style="italic" stroke="#2a2a2a" stroke-width="0.1">CALD1</text>
<text x="186.3" y="319.8" font-size="3.5" text-anchor="start" fill="#2a2a2a" font-weight="normal" font-style="italic" stroke="#2a2a2a" stroke-width="0.1">SPARC</text>
<text x="204.7" y="318.4" font-size="3.5" text-anchor="start" fill="#2a2a2a" font-weight="normal" font-style="italic" stroke="#2a2a2a" stroke-width="0.1">PTGDS</text>
<text x="218.8" y="318.4" font-size="3.5" text-anchor="start" fill="#2a2a2a" font-weight="normal" font-style="italic" stroke="#2a2a2a" stroke-width="0.1">GZMB</text>
<text x="205.8" y="323.1" font-size="3.5" text-anchor="start" fill="#2a2a2a" font-weight="normal" font-style="italic" stroke="#2a2a2a" stroke-width="0.1">TCF4</text>
<text x="218.8" y="323.1" font-size="3.5" text-anchor="start" fill="#2a2a2a" font-weight="normal" font-style="italic" stroke="#2a2a2a" stroke-width="0.1">IRF7</text>
<text x="214.4" y="328.4" font-size="3.5" text-anchor="start" fill="#2a2a2a" font-weight="normal" font-style="italic" stroke="#2a2a2a" stroke-width="0.1">LILRA4</text>
<text x="17" y="356.9" font-size="3.5" text-anchor="start" fill="#2a2a2a" font-weight="normal" font-style="italic" stroke="#2a2a2a" stroke-width="0.1">IGHG1</text>
<text x="27.5" y="361.8" font-size="3.5" text-anchor="start" fill="#2a2a2a" font-weight="normal" font-style="italic" stroke="#2a2a2a" stroke-width="0.1">IGHG4</text>
<text x="17" y="370.9" font-size="3.5" text-anchor="start" fill="#2a2a2a" font-weight="normal" font-style="italic" stroke="#2a2a2a" stroke-width="0.1">IGHG4</text>
<text x="31" y="370.9" font-size="3.5" text-anchor="start" fill="#2a2a2a" font-weight="normal" font-style="italic" stroke="#2a2a2a" stroke-width="0.1">IGLC2</text>
<text x="19.6" y="376.1" font-size="3.5" text-anchor="start" fill="#2a2a2a" font-weight="normal" font-style="italic" stroke="#2a2a2a" stroke-width="0.1">IGKC</text>
<text x="41.5" y="361.8" font-size="3.5" text-anchor="start" fill="#2a2a2a" font-weight="normal" font-style="italic" stroke="#2a2a2a" stroke-width="0.1">IGLC2</text>
<text x="39" y="367.4" font-size="3.5" text-anchor="start" fill="#2a2a2a" font-weight="normal" font-style="italic" stroke="#2a2a2a" stroke-width="0.1">CXCL8</text>
<text x="54.6" y="366.4" font-size="3.5" text-anchor="start" fill="#2a2a2a" font-weight="normal" font-style="italic" stroke="#2a2a2a" stroke-width="0.1">APOE</text>
<text x="41.5" y="376.1" font-size="3.5" text-anchor="start" fill="#2a2a2a" font-weight="normal" font-style="italic" stroke="#2a2a2a" stroke-width="0.1">MMP12</text>
<text x="56.4" y="376.1" font-size="3.5" text-anchor="start" fill="#2a2a2a" font-weight="normal" font-style="italic" stroke="#2a2a2a" stroke-width="0.1">SPP1</text>
<text x="66" y="361.4" font-size="3.5" text-anchor="start" fill="#2a2a2a" font-weight="normal" font-style="italic" stroke="#2a2a2a" stroke-width="0.1">APOE</text>
<text x="62.5" y="370.9" font-size="3.5" text-anchor="start" fill="#2a2a2a" font-weight="normal" font-style="italic" stroke="#2a2a2a" stroke-width="0.1">MMP12</text>
<text x="77.6" y="366" font-size="3.5" text-anchor="start" fill="#2a2a2a" font-weight="normal" font-style="italic" stroke="#2a2a2a" stroke-width="0.1">CXCL8</text>
<text x="76.75" y="375.8" font-size="3.5" text-anchor="start" fill="#2a2a2a" font-weight="normal" font-style="italic" stroke="#2a2a2a" stroke-width="0.1">SPP1</text>
<text x="86.4" y="360.8" font-size="3.5" text-anchor="start" fill="#2a2a2a" font-weight="normal" font-style="italic" stroke="#2a2a2a" stroke-width="0.1">APOC1</text>
<text x="101" y="360.8" font-size="3.5" text-anchor="start" fill="#2a2a2a" font-weight="normal" font-style="italic" stroke="#2a2a2a" stroke-width="0.1">SPP1</text>
<text x="101" y="365.6" font-size="3.5" text-anchor="start" fill="#2a2a2a" font-weight="normal" font-style="italic" stroke="#2a2a2a" stroke-width="0.1">MMP12</text>
<text x="89" y="370.9" font-size="3.5" text-anchor="start" fill="#2a2a2a" font-weight="normal" font-style="italic" stroke="#2a2a2a" stroke-width="0.1">APOE</text>
<text x="112.6" y="355.1" font-size="3.5" text-anchor="start" fill="#2a2a2a" font-weight="normal" font-style="italic" stroke="#2a2a2a" stroke-width="0.1">CD52</text>
<text x="124" y="355.1" font-size="3.5" text-anchor="start" fill="#2a2a2a" font-weight="normal" font-style="italic" stroke="#2a2a2a" stroke-width="0.1">PTTG1</text>
<text x="115.25" y="360.8" font-size="3.5" text-anchor="start" fill="#2a2a2a" font-weight="normal" font-style="italic" stroke="#2a2a2a" stroke-width="0.1">IGKC</text>
<text x="134.5" y="361.4" font-size="3.5" text-anchor="start" fill="#2a2a2a" font-weight="normal" font-style="italic" stroke="#2a2a2a" stroke-width="0.1">CHGB</text>
<text x="132.75" y="366.4" font-size="3.5" text-anchor="start" fill="#2a2a2a" font-weight="normal" font-style="italic" stroke="#2a2a2a" stroke-width="0.1">CXCL8</text>
<text x="133.6" y="371.8" font-size="3.5" text-anchor="start" fill="#2a2a2a" font-weight="normal" font-style="italic" stroke="#2a2a2a" stroke-width="0.1">GNPH</text>
<text x="148.3" y="367.9" font-size="3.5" text-anchor="start" fill="#2a2a2a" font-weight="normal" font-style="italic" stroke="#2a2a2a" stroke-width="0.1">CCL3</text>
<text x="142.4" y="375" font-size="3.5" text-anchor="start" fill="#2a2a2a" font-weight="normal" font-style="italic" stroke="#2a2a2a" stroke-width="0.1">MMP12</text>
<text x="168.5" y="357.2" font-size="3.5" text-anchor="start" fill="#2a2a2a" font-weight="normal" font-style="italic" stroke="#2a2a2a" stroke-width="0.1">CD58</text>
<text x="159" y="363.1" font-size="3.5" text-anchor="start" fill="#2a2a2a" font-weight="normal" font-style="italic" stroke="#2a2a2a" stroke-width="0.1">SPP1</text>
<text x="171" y="364.4" font-size="3.5" text-anchor="start" fill="#2a2a2a" font-weight="normal" font-style="italic" stroke="#2a2a2a" stroke-width="0.1">APOC1</text>
<text x="160" y="370.3" font-size="3.5" text-anchor="start" fill="#2a2a2a" font-weight="normal" font-style="italic" stroke="#2a2a2a" stroke-width="0.1">APOE</text>
<text x="172" y="370.3" font-size="3.5" text-anchor="start" fill="#2a2a2a" font-weight="normal" font-style="italic" stroke="#2a2a2a" stroke-width="0.1">MMP12</text>
<text x="175.6" y="350.1" font-size="3.5" text-anchor="start" fill="#2a2a2a" font-weight="normal" font-style="italic" stroke="#2a2a2a" stroke-width="0.1">IFIT1</text>
<text x="194.6" y="350.1" font-size="3.5" text-anchor="start" fill="#2a2a2a" font-weight="normal" font-style="italic" stroke="#2a2a2a" stroke-width="0.1">PTTG1</text>
<text x="190" y="356" font-size="3.5" text-anchor="start" fill="#2a2a2a" font-weight="normal" font-style="italic" stroke="#2a2a2a" stroke-width="0.1">NAMPT</text>
<text x="186.3" y="362" font-size="3.5" text-anchor="start" fill="#2a2a2a" font-weight="normal" font-style="italic" stroke="#2a2a2a" stroke-width="0.1">CXCL8</text>
<text x="200.6" y="364.4" font-size="3.5" text-anchor="start" fill="#2a2a2a" font-weight="normal" font-style="italic" stroke="#2a2a2a" stroke-width="0.1">PARABP</text>
<text x="203" y="370.3" font-size="3.5" text-anchor="start" fill="#2a2a2a" font-weight="normal" font-style="italic" stroke="#2a2a2a" stroke-width="0.1">CXCL8</text>
<text x="218.4" y="363.1" font-size="3.5" text-anchor="start" fill="#2a2a2a" font-weight="normal" font-style="italic" stroke="#2a2a2a" stroke-width="0.1">PLXD</text>
<text x="218.4" y="369.1" font-size="3.5" text-anchor="start" fill="#2a2a2a" font-weight="normal" font-style="italic" stroke="#2a2a2a" stroke-width="0.1">APOE</text>
<text x="217.2" y="375" font-size="3.5" text-anchor="start" fill="#2a2a2a" font-weight="normal" font-style="italic" stroke="#2a2a2a" stroke-width="0.1">MMP12</text>
<line x1="25" y1="322" x2="31" y2="313" stroke="#444" stroke-width="0.3"/>
<line x1="20" y1="358" x2="28" y2="366" stroke="#444" stroke-width="0.3"/>
<line x1="31" y1="363" x2="28" y2="366" stroke="#444" stroke-width="0.3"/>
<line x1="44" y1="370" x2="50" y2="372" stroke="#444" stroke-width="0.3"/>
<line x1="50" y1="372" x2="56" y2="368" stroke="#444" stroke-width="0.3"/>
<line x1="150" y1="302" x2="158" y2="294" stroke="#444" stroke-width="0.3"/>
<line x1="178" y1="296" x2="185" y2="300" stroke="#444" stroke-width="0.3"/>
<line x1="188" y1="313" x2="200" y2="305" stroke="#444" stroke-width="0.3"/>
<line x1="82" y1="352" x2="88" y2="362" stroke="#444" stroke-width="0.3"/>
<line x1="106" y1="352" x2="98" y2="366" stroke="#444" stroke-width="0.3"/>
<text x="121.8" y="382.5" font-size="4.8" text-anchor="middle" fill="#222" font-weight="normal" font-style="normal" textLength="18.4" lengthAdjust="spacingAndGlyphs" stroke="#222" stroke-width="0.06">Clusters</text>
<text x="230.7" y="290.8" font-size="5.4" text-anchor="start" fill="#111" font-weight="bold" font-style="normal" stroke="#111" stroke-width="0.2">J</text>
<rect x="253" y="294.4" width="120.4" height="66" fill="none" stroke="#b8b8b8" stroke-width="0.4"/>
<text x="251.2" y="299.8" font-size="2.3" text-anchor="end" fill="#333" font-weight="normal" font-style="normal" stroke="#333" stroke-width="0.06">Macrophage</text>
<text x="251.2" y="308" font-size="2.3" text-anchor="end" fill="#333" font-weight="normal" font-style="normal" stroke="#333" stroke-width="0.06">NK Cell</text>
<text x="251.2" y="316" font-size="2.3" text-anchor="end" fill="#333" font-weight="normal" font-style="normal" stroke="#333" stroke-width="0.06">T cell</text>
<text x="251.2" y="324.2" font-size="2.3" text-anchor="end" fill="#333" font-weight="normal" font-style="normal" stroke="#333" stroke-width="0.06">Myeloid</text>
<text x="251.2" y="332.3" font-size="2.3" text-anchor="end" fill="#333" font-weight="normal" font-style="normal" stroke="#333" stroke-width="0.06">Mesenchymal</text>
<text x="251.2" y="340.3" font-size="2.3" text-anchor="end" fill="#333" font-weight="normal" font-style="normal" stroke="#333" stroke-width="0.06">Plasma cell</text>
<text x="251.2" y="348.4" font-size="2.3" text-anchor="end" fill="#333" font-weight="normal" font-style="normal" stroke="#333" stroke-width="0.06">Fibroblasts</text>
<text x="251.2" y="356.6" font-size="2.3" text-anchor="end" fill="#333" font-weight="normal" font-style="normal" stroke="#333" stroke-width="0.06">Dendritic cell</text>
<circle cx="261.5" cy="299" r="1.3" fill="#c8283a" opacity="0.95"/>
<circle cx="274.6" cy="299" r="0.75" fill="#c8283a" opacity="0.95"/>
<circle cx="287.7" cy="299" r="1.3" fill="#c8283a" opacity="0.95"/>
<circle cx="300.8" cy="299" r="1.3" fill="#c8283a" opacity="0.95"/>
<circle cx="340.1" cy="299" r="1.2" fill="#c8283a" opacity="0.95"/>
<circle cx="353.2" cy="299" r="1.2" fill="#c8283a" opacity="0.95"/>
<circle cx="327" cy="307.2" r="1.4" fill="#1a64b0" opacity="0.95"/>
<circle cx="261.5" cy="323.4" r="1.1" fill="#303060" opacity="0.95"/>
<circle cx="274.6" cy="323.4" r="0.45" fill="#303060" opacity="0.95"/>
<circle cx="287.7" cy="323.4" r="1.1" fill="#303060" opacity="0.95"/>
<circle cx="300.8" cy="323.4" r="1.1" fill="#303060" opacity="0.95"/>
<circle cx="313.9" cy="323.4" r="1.05" fill="#303060" opacity="0.95"/>
<circle cx="340.1" cy="323.4" r="1.05" fill="#303060" opacity="0.95"/>
<circle cx="353.2" cy="323.4" r="1.05" fill="#303060" opacity="0.95"/>
<circle cx="300.8" cy="331.5" r="1.4" fill="#e0b040" opacity="0.95"/>
<circle cx="261.5" cy="347.6" r="1" fill="#a0a0a0" opacity="0.95"/>
<circle cx="274.6" cy="347.6" r="0.65" fill="#a0a0a0" opacity="0.95"/>
<circle cx="287.7" cy="347.6" r="1" fill="#a0a0a0" opacity="0.95"/>
<circle cx="300.8" cy="347.6" r="1" fill="#a0a0a0" opacity="0.95"/>
<circle cx="353.2" cy="347.6" r="0.95" fill="#a0a0a0" opacity="0.95"/>
<circle cx="366.3" cy="347.6" r="0.95" fill="#a0a0a0" opacity="0.95"/>
<circle cx="353.2" cy="355.8" r="1.3" fill="#d04010" opacity="0.95"/>
<text x="262.7" y="363.5" font-size="2.4" text-anchor="end" fill="#444" font-weight="normal" font-style="normal" transform="rotate(-45 262.7 363.5)" stroke="#444" stroke-width="0.06">Mast</text>
<text x="275.8" y="363.5" font-size="2.4" text-anchor="end" fill="#444" font-weight="normal" font-style="normal" transform="rotate(-45 275.8 363.5)" stroke="#444" stroke-width="0.06">DC</text>
<text x="288.9" y="363.5" font-size="2.4" text-anchor="end" fill="#444" font-weight="normal" font-style="normal" transform="rotate(-45 288.9 363.5)" stroke="#444" stroke-width="0.06">Ciliated cells</text>
<text x="302" y="363.5" font-size="2.4" text-anchor="end" fill="#444" font-weight="normal" font-style="normal" transform="rotate(-45 302 363.5)" stroke="#444" stroke-width="0.06">Alveolar cells</text>
<text x="315.1" y="363.5" font-size="2.4" text-anchor="end" fill="#444" font-weight="normal" font-style="normal" transform="rotate(-45 315.1 363.5)" stroke="#444" stroke-width="0.06">NK</text>
<text x="328.2" y="363.5" font-size="2.4" text-anchor="end" fill="#444" font-weight="normal" font-style="normal" transform="rotate(-45 328.2 363.5)" stroke="#444" stroke-width="0.06">Tregs</text>
<text x="341.3" y="363.5" font-size="2.4" text-anchor="end" fill="#444" font-weight="normal" font-style="normal" transform="rotate(-45 341.3 363.5)" stroke="#444" stroke-width="0.06">CD8</text>
<text x="354.4" y="363.5" font-size="2.4" text-anchor="end" fill="#444" font-weight="normal" font-style="normal" transform="rotate(-45 354.4 363.5)" stroke="#444" stroke-width="0.06">CD4</text>
<text x="367.5" y="363.5" font-size="2.4" text-anchor="end" fill="#444" font-weight="normal" font-style="normal" transform="rotate(-45 367.5 363.5)" stroke="#444" stroke-width="0.06">Endothelial cells</text>
<text x="379" y="320.2" font-size="3" text-anchor="start" fill="#333" font-weight="normal" font-style="normal" textLength="16.7" lengthAdjust="spacingAndGlyphs" stroke="#333" stroke-width="0.06">Contribution</text>
<circle cx="381.6" cy="324.6" r="0.6" fill="none" stroke="#888" stroke-width="0.35"/>
<text x="384.4" y="325.4" font-size="2.2" text-anchor="start" fill="#333" font-weight="normal" font-style="normal" stroke="#333" stroke-width="0.06">0.4</text>
<circle cx="381.6" cy="329.7" r="0.85" fill="none" stroke="#888" stroke-width="0.35"/>
<text x="384.4" y="330.5" font-size="2.2" text-anchor="start" fill="#333" font-weight="normal" font-style="normal" stroke="#333" stroke-width="0.06">0.6</text>
<circle cx="381.6" cy="334.9" r="1.1" fill="none" stroke="#888" stroke-width="0.35"/>
<text x="384.4" y="335.7" font-size="2.2" text-anchor="start" fill="#333" font-weight="normal" font-style="normal" stroke="#333" stroke-width="0.06">0.8</text>
</svg></body></html>
